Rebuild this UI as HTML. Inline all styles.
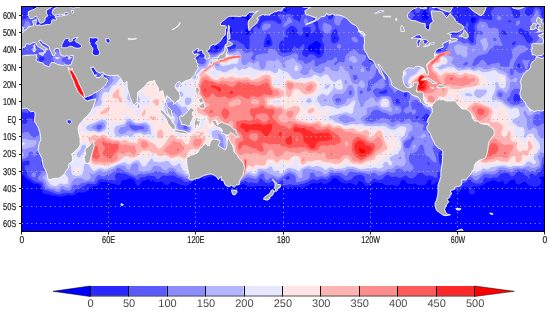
<!DOCTYPE html>
<html><head><meta charset="utf-8"><style>
html,body{margin:0;padding:0;background:#fff;}
svg{display:block;}
text{font-family:"Liberation Sans",Arial,sans-serif;font-size:10px;font-weight:normal;fill:#1a1a1a;stroke:#1a1a1a;stroke-width:0.2px;text-rendering:geometricPrecision;}
text.cbl{font-size:11px;font-weight:normal;fill:#4a4a4a;stroke:none;}
.tk{stroke:#222;stroke-width:1;}
</style></head><body>
<svg width="550" height="314" viewBox="0 0 550 314" shape-rendering="auto">
<defs><clipPath id="c"><rect x="22" y="7" width="522" height="224"/></clipPath></defs>
<g clip-path="url(#c)">
<rect x="22" y="7" width="522" height="224" fill="#0000ff"/>
<path fill="#2828ff" fill-rule="evenodd" d="M16.7,1.2L17.7,1.2L18.8,1.2L19.9,1.2L21.0,1.2L22.1,1.2L23.2,1.2L24.3,1.2L25.4,1.2L26.5,1.2L27.6,1.2L28.6,1.2L29.7,1.2L30.8,1.2L31.9,1.2L32.7,1.2L32.2,2.5L32.4,3.8L32.9,5.1L33.0,6.0L33.1,6.4L33.2,7.7L33.6,9.0L34.1,9.8L34.4,10.3L35.2,11.0L36.3,11.5L37.4,11.2L38.0,10.3L37.9,9.0L38.0,7.7L38.5,7.2L39.6,6.9L40.6,6.9L41.7,6.5L41.8,6.4L42.6,5.1L42.8,4.6L43.2,3.8L43.2,2.5L42.8,1.9L42.1,1.2L42.8,1.2L43.9,1.2L45.0,1.2L46.1,1.2L47.2,1.2L48.3,1.2L49.4,1.2L50.5,1.2L51.6,1.2L52.7,1.2L53.8,1.2L54.8,1.2L55.9,1.2L57.0,1.2L58.1,1.2L59.2,1.2L60.3,1.2L61.4,1.2L62.5,1.2L63.6,1.2L64.7,1.2L65.8,1.2L66.8,1.2L67.9,1.2L69.0,1.2L70.1,1.2L71.2,1.2L72.3,1.2L73.4,1.2L74.5,1.2L75.6,1.2L76.7,1.2L77.8,1.2L78.9,1.2L80.0,1.2L81.0,1.2L82.1,1.2L83.2,1.2L84.3,1.2L85.4,1.2L86.5,1.2L87.6,1.2L88.7,1.2L89.8,1.2L90.9,1.2L92.0,1.2L93.0,1.2L94.1,1.2L95.2,1.2L96.3,1.2L97.4,1.2L98.5,1.2L99.6,1.2L100.7,1.2L101.8,1.2L102.9,1.2L104.0,1.2L105.1,1.2L106.2,1.2L107.2,1.2L108.3,1.2L109.4,1.2L110.5,1.2L111.6,1.2L112.7,1.2L113.8,1.2L114.9,1.2L116.0,1.2L117.1,1.2L118.2,1.2L119.2,1.2L120.3,1.2L121.4,1.2L122.5,1.2L123.6,1.2L124.7,1.2L125.8,1.2L126.9,1.2L128.0,1.2L129.1,1.2L130.2,1.2L131.3,1.2L132.3,1.2L133.4,1.2L134.5,1.2L135.6,1.2L136.7,1.2L137.8,1.2L138.9,1.2L140.0,1.2L141.1,1.2L142.2,1.2L143.3,1.2L144.4,1.2L145.4,1.2L146.5,1.2L147.6,1.2L148.7,1.2L149.8,1.2L150.9,1.2L152.0,1.2L153.1,1.2L154.2,1.2L155.3,1.2L156.4,1.2L157.5,1.2L158.6,1.2L159.6,1.2L160.7,1.2L161.8,1.2L162.9,1.2L164.0,1.2L165.1,1.2L166.2,1.2L167.3,1.2L168.4,1.2L169.5,1.2L170.6,1.2L171.7,1.2L172.7,1.2L173.8,1.2L174.9,1.2L176.0,1.2L177.1,1.2L178.2,1.2L179.3,1.2L180.4,1.2L181.5,1.2L182.6,1.2L183.7,1.2L184.8,1.2L185.8,1.2L186.9,1.2L188.0,1.2L189.1,1.2L190.2,1.2L191.3,1.2L192.4,1.2L193.5,1.2L194.6,1.2L195.7,1.2L196.8,1.2L197.8,1.2L198.9,1.2L200.0,1.2L201.1,1.2L202.2,1.2L203.3,1.2L204.4,1.2L205.5,1.2L206.6,1.2L207.7,1.2L208.8,1.2L209.9,1.2L210.9,1.2L212.0,1.2L213.1,1.2L214.2,1.2L215.3,1.2L216.4,1.2L217.5,1.2L218.6,1.2L219.7,1.2L220.8,1.2L221.9,1.2L223.0,1.2L224.1,1.2L225.1,1.2L226.2,1.2L227.3,1.2L228.4,1.2L229.5,1.2L230.6,1.2L231.7,1.2L232.8,1.2L233.9,1.2L235.0,1.2L236.1,1.2L237.2,1.2L238.2,1.2L239.3,1.2L240.4,1.2L241.5,1.2L242.6,1.2L243.7,1.2L244.8,1.2L245.9,1.2L247.0,1.2L248.1,1.2L249.2,1.2L250.2,1.2L251.3,1.2L252.1,1.2L252.4,1.9L252.7,2.5L253.5,3.1L254.6,3.7L255.7,3.4L256.5,2.5L256.5,1.2L256.8,1.2L257.9,1.2L259.0,1.2L260.1,1.2L261.2,1.2L262.3,1.2L263.4,1.2L264.4,1.2L265.5,1.2L266.6,1.2L267.7,1.2L268.8,1.2L269.9,1.2L271.0,1.2L272.1,1.2L273.2,1.2L274.3,1.2L275.4,1.2L276.4,1.2L277.5,1.2L278.6,1.2L279.7,1.2L280.8,1.2L281.9,1.2L283.0,1.2L284.1,1.2L285.2,1.2L286.3,1.2L287.4,1.2L288.5,1.2L289.6,1.2L290.6,1.2L291.7,1.2L292.8,1.2L293.9,1.2L295.0,1.2L296.1,1.2L297.2,1.2L298.3,1.2L299.4,1.2L300.5,1.2L301.6,1.2L302.6,1.2L303.7,1.2L304.8,1.2L305.9,1.2L307.0,1.2L308.1,1.2L309.2,1.2L310.3,1.2L311.4,1.2L312.5,1.2L313.6,1.2L314.7,1.2L315.8,1.2L316.8,1.2L317.9,1.2L319.0,1.2L320.1,1.2L321.2,1.2L322.3,1.2L323.4,1.2L324.5,1.2L325.6,1.2L326.7,1.2L327.8,1.2L328.9,1.2L329.9,1.2L331.0,1.2L332.1,1.2L333.2,1.2L334.3,1.2L335.4,1.2L336.5,1.2L337.6,1.2L338.7,1.2L339.8,1.2L340.9,1.2L341.9,1.2L343.0,1.2L344.1,1.2L345.2,1.2L346.3,1.2L347.4,1.2L348.5,1.2L349.6,1.2L350.7,1.2L351.8,1.2L352.9,1.2L354.0,1.2L355.1,1.2L356.1,1.2L357.2,1.2L358.3,1.2L359.4,1.2L360.5,1.2L361.6,1.2L362.7,1.2L363.8,1.2L364.9,1.2L366.0,1.2L367.1,1.2L368.1,1.2L369.2,1.2L370.3,1.2L371.4,1.2L372.5,1.2L373.6,1.2L374.7,1.2L375.8,1.2L376.9,1.2L378.0,1.2L379.1,1.2L380.2,1.2L381.2,1.2L382.3,1.2L383.4,1.2L384.5,1.2L385.6,1.2L386.7,1.2L387.8,1.2L388.9,1.2L390.0,1.2L391.1,1.2L392.2,1.2L393.3,1.2L394.4,1.2L395.4,1.2L396.5,1.2L397.6,1.2L398.7,1.2L399.8,1.2L400.9,1.2L402.0,1.2L403.1,1.2L404.2,1.2L405.3,1.2L406.4,1.2L407.4,1.2L408.5,1.2L409.6,1.2L410.7,1.2L411.8,1.2L412.9,1.2L414.0,1.2L415.1,1.2L416.2,1.2L417.3,1.2L418.4,1.2L419.5,1.2L420.6,1.2L421.6,1.2L422.7,1.2L423.8,1.2L424.9,1.2L426.0,1.2L427.1,1.2L428.2,1.2L429.3,1.2L430.4,1.2L431.5,1.2L432.6,1.2L433.6,1.2L434.7,1.2L435.8,1.2L436.9,1.2L438.0,1.2L439.1,1.2L440.2,1.2L441.3,1.2L442.4,1.2L443.5,1.2L444.6,1.2L445.7,1.2L446.8,1.2L447.8,1.2L448.9,1.2L450.0,1.2L451.1,1.2L452.2,1.2L453.3,1.2L454.4,1.2L455.5,1.2L456.6,1.2L457.7,1.2L458.8,1.2L459.9,1.2L460.9,1.2L462.0,1.2L463.1,1.2L464.2,1.2L465.3,1.2L466.4,1.2L467.5,1.2L468.6,1.2L469.7,1.2L470.8,1.2L471.9,1.2L472.9,1.2L474.0,1.2L475.1,1.2L476.2,1.2L477.3,1.2L478.4,1.2L479.5,1.2L480.6,1.2L481.7,1.2L482.8,1.2L483.9,1.2L485.0,1.2L486.1,1.2L487.1,1.2L488.2,1.2L489.3,1.2L490.1,1.2L490.3,2.5L490.4,3.1L491.5,3.8L491.5,3.8L491.5,3.8L491.7,2.5L491.5,1.6L491.2,1.2L491.5,1.2L492.6,1.2L493.7,1.2L494.8,1.2L495.9,1.2L497.0,1.2L498.1,1.2L499.1,1.2L500.2,1.2L501.3,1.2L502.4,1.2L503.5,1.2L504.6,1.2L505.7,1.2L506.8,1.2L507.9,1.2L509.0,1.2L510.1,1.2L511.2,1.2L512.2,1.2L513.3,1.2L514.4,1.2L515.5,1.2L516.6,1.2L517.7,1.2L518.8,1.2L519.9,1.2L521.0,1.2L522.1,1.2L523.2,1.2L524.3,1.2L525.4,1.2L526.4,1.2L527.5,1.2L528.6,1.2L529.5,1.2L529.0,2.5L528.9,3.8L529.0,5.1L529.4,6.4L529.7,7.2L530.6,7.7L530.8,7.9L531.0,7.7L531.9,7.4L533.0,6.4L533.0,6.4L534.1,5.1L534.2,5.1L535.2,4.0L536.3,3.9L537.4,4.2L538.5,4.3L538.9,3.8L538.5,2.9L538.1,2.5L537.4,2.2L536.3,2.2L535.2,2.0L534.1,1.5L533.6,1.2L534.1,1.2L535.2,1.2L536.3,1.2L537.4,1.2L538.5,1.2L539.5,1.2L540.6,1.2L541.7,1.2L542.8,1.2L543.9,1.2L545.0,1.2L546.1,1.2L547.2,1.2L548.3,1.2L549.4,1.2L550.5,1.2L551.5,1.2L552.1,1.2L552.6,2.1L552.9,2.5L553.7,3.3L554.8,3.5L554.8,3.8L554.8,5.1L554.8,6.4L554.8,7.7L554.8,9.0L554.8,10.3L554.8,11.6L554.8,12.9L554.8,14.2L554.8,15.5L554.8,16.8L554.8,18.1L554.8,19.4L554.8,20.7L554.8,22.0L554.8,23.3L554.8,24.6L554.8,25.9L554.8,27.2L554.8,28.5L554.8,29.8L554.8,31.1L554.8,32.4L554.8,33.8L554.8,35.1L554.8,36.4L554.8,37.7L554.8,39.0L554.8,40.3L554.8,41.6L554.8,42.9L554.8,44.2L554.8,45.5L554.8,46.8L554.8,48.1L554.8,49.4L554.8,50.7L554.8,52.0L554.8,53.3L554.8,54.6L554.8,55.9L554.8,57.2L554.8,58.5L554.8,59.8L554.8,61.1L554.8,62.4L554.8,63.7L554.8,65.0L554.8,66.3L554.8,67.6L554.8,68.9L554.8,70.2L554.8,71.5L554.8,72.8L554.8,74.1L554.8,75.4L554.8,76.7L554.8,78.0L554.8,79.3L554.8,80.7L554.8,82.0L554.8,83.3L554.8,84.6L554.8,85.9L554.8,87.2L554.8,88.5L554.8,89.8L554.8,91.1L554.8,92.4L554.8,93.7L554.8,95.0L554.8,96.3L554.8,97.6L554.8,98.9L554.8,100.2L554.8,101.5L554.8,102.8L554.8,104.1L554.8,105.4L554.8,106.7L554.8,108.0L554.8,109.3L554.8,110.6L554.8,111.9L554.8,113.2L554.8,114.5L554.8,115.8L554.8,117.1L554.8,118.4L554.8,119.7L554.8,121.0L554.8,122.3L554.8,123.6L554.8,124.9L554.8,126.2L554.8,127.6L554.8,128.9L554.8,130.2L554.8,131.5L554.8,132.8L554.8,134.1L554.8,135.4L554.8,136.7L554.8,138.0L554.8,139.3L554.8,140.6L554.8,141.9L554.8,143.2L554.8,144.5L554.8,145.8L554.8,147.1L554.8,148.4L554.8,149.7L554.8,151.0L554.8,152.3L554.8,153.6L554.8,154.9L554.8,156.2L554.8,157.5L554.8,158.8L554.8,160.1L554.8,161.4L554.8,162.7L554.8,164.0L554.8,165.3L554.8,166.6L554.8,167.9L554.8,169.2L554.8,170.5L554.8,171.8L554.8,173.1L554.8,174.4L554.8,175.8L554.8,177.1L554.8,178.4L554.8,179.7L554.8,181.0L554.8,182.3L554.8,183.6L554.8,184.9L554.8,186.2L554.8,186.8L553.7,186.8L552.6,186.7L551.8,186.2L551.5,185.9L550.9,184.9L550.5,183.7L550.4,183.6L550.1,182.3L550.0,181.0L550.0,179.7L549.9,178.4L549.4,177.3L549.2,177.1L548.3,176.1L547.7,175.8L547.2,175.4L546.1,175.1L545.0,175.3L544.1,175.8L543.9,175.9L542.8,176.5L541.7,176.7L540.6,176.6L539.7,177.1L539.5,178.1L539.5,178.4L539.5,178.4L540.6,179.1L541.0,179.7L541.3,181.0L541.2,182.3L540.8,183.6L540.6,183.9L539.8,184.9L539.5,185.2L538.5,185.8L537.7,186.2L537.4,186.3L536.3,186.7L535.2,186.9L534.1,186.8L533.0,186.6L531.9,186.3L531.4,186.2L530.8,186.0L529.7,185.5L528.7,184.9L528.6,184.8L527.5,184.1L526.9,183.6L526.4,183.1L525.4,182.3L525.4,182.2L524.3,181.7L523.2,181.9L522.7,182.3L522.1,182.7L521.0,183.6L521.0,183.6L519.9,184.2L518.8,184.4L517.7,184.3L516.6,183.7L516.4,183.6L515.6,182.3L515.5,181.4L515.5,181.0L514.5,179.7L514.4,179.6L514.3,179.7L513.3,179.7L512.2,180.0L511.2,180.2L510.1,180.4L509.3,181.0L509.0,181.4L508.4,182.3L507.9,183.0L507.3,183.6L506.8,184.1L505.7,184.4L504.6,183.9L504.2,183.6L503.6,182.3L503.5,181.4L503.2,181.0L502.4,180.7L502.2,181.0L501.3,181.5L500.2,182.2L499.9,182.3L499.1,182.5L498.6,182.3L498.1,182.1L497.0,181.4L496.3,181.0L495.9,180.8L494.8,180.5L493.7,180.3L492.6,180.4L491.5,180.8L491.0,181.0L490.4,181.3L489.3,181.7L488.2,182.0L487.1,182.2L487.0,182.3L486.1,182.7L485.0,183.5L484.9,183.6L483.9,184.4L483.2,184.9L482.8,185.1L481.7,185.6L480.6,185.9L479.5,186.1L479.1,186.2L478.4,186.4L477.3,186.8L476.2,186.9L475.1,186.5L474.0,186.3L473.0,186.8L472.2,187.5L472.4,188.8L472.9,189.1L474.0,189.7L474.5,190.1L475.1,191.3L475.2,191.4L475.1,191.7L475.0,192.7L474.0,194.0L474.0,194.0L472.9,194.4L471.9,194.5L470.8,194.3L470.2,194.0L469.7,193.6L469.0,192.7L468.8,191.4L469.1,190.1L468.9,188.8L468.6,188.5L467.5,187.8L467.0,187.5L466.4,187.2L465.3,186.8L464.2,186.8L463.1,187.2L462.7,187.5L462.0,188.2L461.6,188.8L460.9,189.8L460.7,190.1L459.9,191.4L459.8,191.4L458.8,192.4L457.7,192.6L456.6,191.9L456.3,191.4L455.5,190.2L455.4,190.1L454.8,188.8L454.4,187.9L454.2,187.5L453.6,186.2L453.3,185.5L453.0,184.9L452.5,183.6L452.2,182.3L452.2,182.2L451.2,181.0L451.1,180.9L450.0,180.7L448.9,180.9L448.8,181.0L447.8,181.7L447.2,182.3L446.8,182.8L446.0,183.6L445.7,183.9L444.6,184.8L444.3,184.9L443.5,185.3L442.4,185.3L441.8,184.9L441.3,184.4L440.9,183.6L440.5,182.3L440.2,181.6L439.4,181.0L439.1,180.9L438.9,181.0L438.0,181.3L436.9,181.9L436.3,182.3L435.8,182.7L434.7,183.5L434.6,183.6L433.6,184.2L432.6,184.8L431.5,184.6L431.2,183.6L431.4,182.3L431.5,182.0L431.6,181.0L431.5,180.6L430.7,179.7L430.4,179.5L429.3,179.6L429.1,179.7L428.2,180.2L427.6,181.0L427.1,182.3L427.1,182.3L426.5,183.6L426.0,184.1L424.9,184.8L424.6,184.9L423.8,185.1L422.7,185.3L421.6,185.3L420.6,185.3L419.5,185.3L418.4,185.2L417.4,184.9L417.3,184.8L416.2,184.2L415.2,183.6L415.1,183.5L414.0,183.5L413.9,183.6L412.9,183.9L411.8,184.1L410.7,184.2L409.6,184.1L408.5,183.9L407.8,183.6L407.4,183.4L406.4,182.6L406.1,182.3L405.4,181.0L405.3,180.7L404.2,179.9L403.1,179.9L402.0,180.3L400.9,180.9L400.9,181.0L400.4,182.3L400.1,183.6L399.8,184.1L399.3,184.9L398.7,185.4L397.6,185.9L396.5,186.0L395.4,185.8L394.4,185.5L393.3,185.2L392.2,184.9L391.1,184.9L390.0,185.0L388.9,185.3L387.8,185.5L386.7,185.6L385.6,185.3L384.8,184.9L384.5,184.7L383.4,183.9L382.9,183.6L382.3,183.3L381.2,183.0L380.2,183.0L379.1,182.9L378.0,182.8L376.9,182.5L375.8,182.3L374.7,182.3L373.6,182.7L372.5,183.4L372.3,183.6L371.4,184.3L370.6,184.9L370.3,185.1L369.2,185.7L368.1,186.0L367.1,185.9L366.0,185.6L364.9,184.9L364.8,184.9L363.8,183.9L363.4,183.6L362.7,182.8L362.1,182.3L361.6,181.9L360.5,181.4L359.4,181.2L358.3,182.3L358.3,182.3L357.9,183.6L357.2,184.5L356.5,184.9L356.1,185.0L355.2,184.9L355.1,184.9L354.0,184.4L352.9,183.9L352.2,183.6L351.8,183.4L350.7,183.1L349.6,183.0L348.5,183.2L347.4,183.4L346.6,183.6L346.3,183.6L345.2,183.6L345.0,183.6L344.1,183.4L343.0,183.1L341.9,182.7L340.9,182.3L340.7,182.3L339.8,181.6L339.4,181.0L338.7,180.2L338.2,179.7L337.6,179.2L336.5,178.7L335.5,178.4L335.4,178.3L334.3,178.2L333.2,178.4L333.2,178.4L332.1,179.4L331.9,179.7L331.2,181.0L331.0,181.1L329.9,181.8L329.1,182.3L328.9,182.4L327.8,182.9L326.7,183.4L326.1,183.6L325.6,183.9L324.5,184.3L323.4,184.2L322.8,183.6L322.3,182.8L321.7,182.3L321.2,182.1L320.7,182.3L320.1,182.4L319.0,182.9L317.9,183.3L316.8,183.4L315.8,183.4L314.7,183.3L313.6,183.2L312.5,183.3L311.4,183.5L311.3,183.6L310.3,184.2L309.2,184.8L309.0,184.9L308.1,185.4L307.0,185.8L306.0,186.2L305.9,186.2L304.8,186.8L303.7,187.4L303.5,187.5L302.6,187.7L301.6,187.8L300.5,187.6L300.2,187.5L299.4,187.3L298.3,187.1L297.2,187.0L296.1,187.0L295.0,187.1L293.9,187.2L292.8,187.3L291.7,187.4L291.1,187.5L290.6,187.5L289.6,187.6L288.5,187.8L287.4,187.9L286.3,187.9L285.2,187.6L284.9,187.5L284.1,187.2L283.0,186.6L282.1,186.2L281.9,186.1L280.8,185.9L279.7,186.0L278.6,186.1L277.5,186.1L276.4,185.9L275.4,185.7L274.3,185.6L273.2,185.6L272.1,185.7L271.0,185.9L269.9,186.1L269.6,186.2L268.8,186.4L267.7,186.5L266.6,186.5L265.5,186.4L264.4,186.2L264.4,186.2L263.4,185.9L262.3,185.8L261.2,185.9L260.1,186.0L259.0,186.1L257.9,186.1L256.8,186.1L255.9,186.2L255.7,186.2L254.6,186.4L253.5,186.7L252.4,186.8L251.3,186.7L250.2,186.5L249.2,186.4L248.1,186.2L248.0,186.2L247.0,185.9L245.9,185.4L245.3,184.9L244.8,184.4L243.7,184.0L242.6,184.2L241.5,184.5L240.8,184.9L240.4,185.2L239.3,185.9L238.5,186.2L238.2,186.3L237.2,186.4L236.3,186.2L236.1,186.1L235.0,184.9L235.0,184.8L234.5,183.6L234.1,182.3L233.9,181.8L233.5,181.0L233.0,179.7L232.8,179.0L232.4,178.4L231.7,177.4L231.3,177.1L230.6,176.7L229.5,176.1L228.9,175.8L228.4,175.5L227.3,175.1L226.2,174.6L225.1,174.6L224.1,175.1L223.4,175.8L223.0,176.6L222.6,177.1L221.9,178.0L220.8,178.2L219.7,178.1L218.6,177.7L217.5,177.3L216.9,177.1L216.4,176.9L215.3,176.6L214.2,176.4L213.1,176.5L212.0,176.6L210.9,176.8L209.9,177.0L209.2,177.1L208.8,177.1L207.7,177.5L206.6,178.1L206.2,178.4L205.5,178.7L204.4,179.1L203.3,179.1L202.2,178.8L201.4,178.4L201.1,178.2L200.0,177.5L199.2,177.1L198.9,177.0L197.9,177.0L197.7,177.1L196.8,177.5L195.7,178.1L195.3,178.4L194.6,179.1L194.0,179.7L193.5,180.3L193.0,181.0L192.4,181.8L192.0,182.3L191.3,183.1L190.6,183.6L190.2,183.9L189.1,184.5L188.5,184.9L188.0,185.2L186.9,185.9L185.8,186.2L184.8,186.0L183.7,185.6L182.6,185.3L181.5,185.1L180.4,184.9L180.4,184.9L179.3,184.3L178.2,183.8L177.6,183.6L177.1,183.4L176.0,183.1L174.9,182.7L173.9,182.3L173.8,182.2L172.7,181.8L171.7,181.7L170.9,182.3L170.6,182.5L169.6,183.6L169.5,183.7L168.4,184.5L167.6,184.9L167.3,185.0L166.2,185.0L165.9,184.9L165.1,184.6L164.0,183.7L163.8,183.6L162.9,182.5L162.6,182.3L161.8,181.7L160.7,181.8L159.6,182.0L158.6,182.2L157.5,182.3L157.5,182.3L156.4,182.3L155.5,182.3L155.3,182.3L154.2,181.7L153.6,181.0L153.1,180.1L152.0,180.5L151.4,181.0L150.9,182.0L150.4,182.3L149.8,182.3L149.7,182.3L149.8,181.7L150.1,181.0L149.8,180.7L149.6,179.7L148.7,179.2L147.6,179.3L147.1,179.7L146.5,180.2L145.4,180.6L144.4,180.7L143.3,180.8L142.9,181.0L142.2,181.3L141.2,182.3L141.1,182.5L140.6,183.6L140.0,184.9L140.0,184.9L138.9,185.8L137.8,185.8L136.7,185.2L136.4,184.9L135.6,183.6L135.6,183.6L135.0,182.3L134.5,181.1L134.5,181.0L133.5,179.7L133.4,179.6L132.3,179.0L131.3,178.7L130.2,178.6L129.1,178.8L128.0,179.0L126.9,179.5L126.6,179.7L125.8,180.1L124.7,180.2L123.6,180.3L122.5,180.5L121.4,180.9L121.4,181.0L121.0,182.3L121.0,183.6L120.3,184.5L119.6,184.9L119.2,185.0L118.2,184.9L117.9,184.9L117.1,184.7L116.0,184.4L114.9,184.2L113.8,184.0L112.7,183.9L111.6,183.7L110.7,183.6L110.5,183.5L109.4,183.3L108.3,182.9L107.2,182.4L106.9,182.3L106.1,182.1L105.1,182.0L104.0,182.0L102.9,182.0L101.8,181.9L100.7,181.9L100.1,182.3L99.6,182.7L99.2,183.6L98.5,184.7L98.4,184.9L97.4,185.6L96.3,185.9L95.2,186.0L94.2,186.2L94.1,186.2L93.0,186.5L92.0,187.0L91.1,187.5L90.9,187.7L89.9,188.8L89.8,189.0L88.8,190.1L88.7,190.2L87.6,190.9L86.5,191.3L86.4,191.4L85.4,191.8L84.3,192.4L83.2,192.7L82.1,192.6L81.0,192.4L80.0,192.3L78.9,192.4L78.0,192.7L77.8,192.8L76.7,193.5L76.1,194.0L75.6,194.3L74.5,195.0L73.8,195.3L73.4,195.5L72.3,195.7L71.2,195.6L70.3,195.3L70.1,195.3L69.0,195.0L67.9,195.0L66.8,195.3L66.8,195.3L65.8,195.8L64.7,196.1L63.6,196.3L62.5,196.4L61.4,196.4L60.3,196.4L59.2,196.4L58.1,196.2L57.0,196.0L55.9,195.8L54.8,195.6L53.8,195.5L52.7,195.5L51.6,195.4L50.9,195.3L50.5,195.2L49.4,194.7L48.3,194.3L47.2,194.2L46.1,194.3L45.0,194.1L44.7,194.0L43.9,193.7L43.0,192.7L42.8,192.5L42.3,191.4L41.8,190.1L41.7,190.1L41.3,188.8L41.0,187.5L40.6,186.4L40.6,186.2L39.6,184.9L39.5,184.9L38.5,184.4L37.4,184.1L36.3,184.0L35.2,183.9L34.1,183.7L33.5,183.6L33.0,183.4L31.9,182.7L31.5,182.3L30.8,181.6L30.1,181.0L29.7,180.7L28.6,180.2L27.6,179.7L27.5,179.7L26.5,179.0L25.8,178.4L25.4,177.8L24.8,177.1L24.3,176.0L24.0,175.8L23.2,174.8L22.1,174.8L21.0,175.5L20.7,175.8L19.9,176.3L19.3,177.1L18.8,177.6L18.3,178.4L17.7,179.4L17.6,179.7L17.0,181.0L16.6,182.0L16.5,182.3L16.1,183.6L15.5,184.6L15.3,184.9L14.4,185.5L13.4,185.9L12.3,186.2L12.3,186.2L12.3,186.2L12.3,184.9L12.3,183.6L12.3,182.3L12.3,181.0L12.3,179.7L12.3,178.4L12.3,177.1L12.3,175.8L12.3,174.4L12.3,173.1L12.3,171.8L12.3,170.5L12.3,169.2L12.3,167.9L12.3,166.6L12.3,165.3L12.3,164.0L12.3,162.7L12.3,161.4L12.3,160.1L12.3,158.8L12.3,157.5L12.3,156.2L12.3,154.9L12.3,153.6L12.3,152.3L12.3,151.0L12.3,149.7L12.3,148.4L12.3,147.1L12.3,145.8L12.3,144.5L12.3,143.2L12.3,141.9L12.3,140.6L12.3,139.3L12.3,138.0L12.3,136.7L12.3,135.4L12.3,134.1L12.3,132.8L12.3,131.5L12.3,130.2L12.3,128.9L12.3,127.6L12.3,126.2L12.3,124.9L12.3,123.6L12.3,122.3L12.3,121.0L12.3,119.7L12.3,118.4L12.3,117.1L12.3,115.8L12.3,114.5L12.3,113.2L12.3,111.9L12.3,110.6L12.3,109.3L12.3,108.0L12.3,106.7L12.3,105.4L12.3,104.1L12.3,102.8L12.3,101.5L12.3,100.2L12.3,98.9L12.3,97.6L12.3,96.3L12.3,95.0L12.3,93.7L12.3,92.4L12.3,91.1L12.3,89.8L12.3,88.5L12.3,87.2L12.3,85.9L12.3,84.6L12.3,83.3L12.3,82.0L12.3,80.7L12.3,79.3L12.3,78.0L12.3,76.7L12.3,75.4L12.3,74.1L12.3,72.8L12.3,71.5L12.3,70.2L12.3,68.9L12.3,67.6L12.3,66.3L12.3,65.0L12.3,63.7L12.3,62.4L12.3,61.1L12.3,59.8L12.3,58.5L12.3,57.2L12.3,55.9L12.3,54.6L12.3,53.3L12.3,52.0L12.3,50.7L12.3,49.4L12.3,48.1L12.3,46.8L12.3,45.5L12.3,44.2L12.3,42.9L12.3,41.6L12.3,40.3L12.3,39.0L12.3,37.7L12.3,36.4L12.3,35.1L12.3,33.8L12.3,32.4L12.3,31.1L12.3,29.8L12.3,28.5L12.3,27.2L12.3,25.9L12.3,24.6L12.3,23.3L12.3,22.0L12.3,20.7L12.3,19.4L12.3,18.1L12.3,16.8L12.3,15.5L12.3,14.2L12.3,12.9L12.3,11.6L12.3,10.3L12.3,9.0L12.3,7.7L12.3,6.4L12.3,5.1L12.3,4.3L13.4,4.5L14.4,5.1L14.5,5.1L15.5,6.1L16.1,6.4L16.6,7.0L17.0,6.4L16.9,5.1L16.9,3.8L16.9,2.5L16.7,1.2ZM43.9,18.5L43.5,19.4L43.7,20.7L43.9,21.2L45.0,21.1L45.3,20.7L45.5,19.4L45.0,18.6L43.9,18.5ZM52.7,19.4L52.5,19.4L51.6,20.0L51.4,20.7L51.6,21.7L51.8,22.0L52.7,22.3L53.1,22.0L53.5,20.7L52.7,19.4L52.7,19.4ZM86.5,95.9L86.3,96.3L85.9,97.6L86.3,98.9L86.5,99.0L86.8,98.9L87.6,98.3L88.0,97.6L87.9,96.3L87.6,95.9L86.5,95.9ZM92.0,75.3L91.7,75.4L92.0,75.6L92.1,75.4L92.0,75.3ZM215.3,46.8L215.3,46.8L215.1,48.1L215.3,48.4L216.3,49.4L216.4,49.4L217.5,49.4L217.6,49.4L218.6,48.7L219.1,48.1L219.5,46.8L218.6,46.0L217.5,45.7L216.4,45.9L215.3,46.8ZM220.8,3.7L220.6,3.8L219.7,4.5L219.1,5.1L219.7,6.0L219.8,6.4L220.4,7.7L220.8,8.4L221.3,9.0L221.9,9.3L223.0,9.4L223.8,9.0L224.1,8.8L225.1,7.8L225.2,7.7L225.8,6.4L225.3,5.1L225.1,4.9L224.1,3.8L224.0,3.8L223.0,3.3L221.9,3.4L220.8,3.7ZM227.3,25.9L227.2,25.9L226.2,26.3L225.3,27.2L225.1,28.0L225.0,28.5L225.1,29.3L225.2,29.8L226.1,31.1L226.2,31.3L227.3,32.3L227.5,32.4L228.4,33.7L228.5,33.8L229.2,35.1L229.5,35.4L230.6,35.2L230.7,35.1L231.3,33.8L231.6,32.4L231.7,31.2L231.7,31.1L231.7,31.1L231.7,29.8L231.3,28.5L230.6,27.3L230.6,27.2L229.5,26.4L228.4,26.0L227.9,25.9L227.3,25.9ZM232.8,16.8L232.7,16.8L231.7,17.3L231.3,18.1L231.7,18.9L232.8,19.4L233.9,18.6L234.4,18.1L233.9,17.4L232.9,16.8L232.8,16.8ZM243.7,13.9L243.2,14.2L242.6,14.7L241.5,15.5L241.5,15.5L240.4,16.5L239.9,16.8L240.2,18.1L240.4,18.2L240.6,18.1L241.5,17.9L242.6,17.7L243.7,17.8L244.4,18.1L244.8,18.3L245.9,19.1L246.2,19.4L247.0,20.5L247.5,20.7L248.1,21.0L248.3,20.7L249.1,19.4L249.2,19.3L249.3,18.1L249.4,16.8L249.2,15.9L249.0,15.5L248.1,14.2L248.0,14.2L247.0,13.7L245.9,13.5L244.8,13.6L243.7,13.9ZM267.7,40.2L267.6,40.3L266.9,41.6L266.6,42.3L266.5,42.9L266.6,43.6L266.9,44.2L267.7,44.6L268.8,44.5L269.4,44.2L269.9,43.6L270.2,42.9L270.0,41.6L269.9,41.2L269.2,40.3L268.8,39.9L267.7,40.2ZM275.4,3.4L275.0,3.8L274.3,4.9L274.2,5.1L273.7,6.4L273.2,7.6L273.1,7.7L272.1,8.7L271.3,9.0L271.0,9.3L270.4,10.3L270.5,11.6L270.9,12.9L271.0,13.1L272.1,13.9L273.2,13.8L274.3,13.1L274.4,12.9L275.4,12.1L276.0,11.6L276.4,11.3L277.5,10.8L278.6,10.3L278.7,10.3L279.7,9.2L279.9,9.0L279.9,7.7L279.7,7.4L279.2,6.4L278.6,5.6L278.2,5.1L277.5,4.2L276.9,3.8L276.4,3.4L275.4,3.4ZM284.1,9.8L283.5,10.3L284.1,11.4L284.4,11.6L285.2,11.7L285.6,11.6L286.3,11.2L287.4,10.5L288.1,10.3L287.4,9.8L286.3,9.6L285.2,9.6L284.1,9.8ZM288.5,8.8L288.2,9.0L288.5,9.6L289.6,9.3L289.8,9.0L289.6,8.2L288.5,8.8ZM292.8,29.7L292.5,29.8L292.0,31.1L292.2,32.4L292.7,33.8L292.8,33.9L293.9,34.4L294.2,33.8L294.3,32.4L294.1,31.1L293.9,30.7L293.1,29.8L292.8,29.7ZM305.9,33.2L305.7,33.8L305.3,35.1L305.6,36.4L305.9,36.6L307.0,36.9L308.1,36.7L308.5,36.4L308.7,35.1L308.3,33.8L308.1,33.4L307.0,32.6L305.9,33.2ZM315.8,40.9L314.8,41.6L314.7,41.7L313.6,42.5L313.2,42.9L312.5,43.4L311.4,44.1L311.3,44.2L310.3,44.8L309.2,45.4L309.1,45.5L308.1,46.7L308.1,46.8L307.8,48.1L307.9,49.4L308.1,50.0L308.6,50.7L309.2,51.0L310.3,51.4L311.4,51.7L312.5,51.8L313.6,51.8L314.7,51.9L314.7,52.0L315.8,52.5L316.4,53.3L316.8,53.7L317.9,54.4L319.0,54.5L320.1,53.7L320.4,53.3L320.3,52.0L320.1,51.6L319.6,50.7L319.2,49.4L319.4,48.1L320.1,47.2L320.4,46.8L321.0,45.5L320.8,44.2L320.1,43.4L319.6,42.9L319.0,42.4L318.0,41.6L317.9,41.5L316.8,40.9L315.8,40.9ZM334.3,37.2L334.1,37.7L334.3,39.0L334.3,39.0L334.9,39.0L335.4,38.7L335.5,37.7L335.4,37.5L334.3,37.2ZM371.4,57.2L371.4,57.2L371.4,57.2L372.5,57.6L372.7,57.2L372.5,56.8L371.4,57.2ZM424.9,9.8L424.3,10.3L423.8,10.6L423.5,11.6L422.8,12.9L422.7,13.0L422.2,14.2L421.8,15.5L421.9,16.8L422.2,18.1L422.7,19.4L422.7,19.4L423.8,20.2L424.9,20.1L426.0,19.8L426.9,19.4L427.1,19.3L428.2,18.2L428.3,18.1L428.5,16.8L428.2,15.6L428.2,15.5L427.5,14.2L427.1,13.6L426.5,12.9L426.0,11.9L425.7,11.6L425.1,10.3L424.9,9.8ZM434.7,46.4L434.2,46.8L434.6,48.1L434.7,48.3L435.4,49.4L435.8,49.7L436.9,50.3L438.0,50.5L439.1,50.0L439.7,49.4L439.8,48.1L439.1,47.0L438.9,46.8L438.0,46.4L436.9,46.2L435.8,46.1L434.7,46.4ZM436.9,12.1L436.3,12.9L436.0,14.2L436.0,15.5L436.2,16.8L436.5,18.1L436.6,19.4L436.6,20.7L436.7,22.0L436.9,23.2L437.0,23.3L437.7,24.6L438.0,25.2L438.5,25.9L439.1,26.8L440.2,27.0L440.6,25.9L441.1,24.6L441.3,24.1L441.5,23.3L441.8,22.0L441.8,20.7L441.3,20.0L440.8,19.4L440.2,18.8L439.8,18.1L439.3,16.8L439.1,16.0L439.0,15.5L438.6,14.2L438.2,12.9L438.0,12.4L436.9,12.1ZM455.5,4.9L455.3,5.1L454.8,6.4L455.5,7.4L456.6,6.7L456.7,6.4L456.6,5.1L456.6,5.1L455.5,4.9ZM457.7,14.9L457.7,15.5L457.7,15.6L458.4,16.8L458.8,17.1L459.1,16.8L459.2,15.5L458.8,14.6L457.7,14.9ZM465.3,10.1L465.1,10.3L465.3,10.6L466.4,11.0L467.5,10.7L468.3,10.3L467.5,9.8L466.4,9.9L465.3,10.1ZM471.9,17.7L471.4,18.1L471.0,19.4L471.1,20.7L471.5,22.0L471.9,22.7L473.0,22.9L474.0,22.1L474.1,22.0L475.1,20.8L475.2,20.7L475.8,19.4L475.5,18.1L475.1,17.8L474.0,17.4L472.9,17.4L471.9,17.7ZM545.0,8.0L544.3,9.0L544.1,10.3L544.2,11.6L544.5,12.9L545.0,13.8L545.7,14.2L546.1,14.3L547.2,14.5L548.3,14.3L548.4,14.2L549.0,12.9L549.0,11.6L548.7,10.3L548.3,9.7L547.7,9.0L547.2,8.6L546.1,7.9L545.0,8.0ZM223.0,36.3L222.9,36.4L222.5,37.7L223.0,38.3L224.1,38.2L225.0,37.7L225.1,37.2L225.4,36.4L225.1,36.1L224.1,35.8L223.0,36.3ZM245.9,29.3L245.6,29.8L245.4,31.1L245.5,32.4L245.6,33.8L245.9,34.9L247.0,34.9L248.1,34.1L248.3,33.8L249.2,32.7L249.3,32.4L249.5,31.1L249.2,30.5L248.8,29.8L248.1,29.2L247.0,28.7L245.9,29.3ZM427.1,25.8L426.9,25.9L426.5,27.2L427.1,28.5L427.2,28.5L428.2,29.0L429.1,28.5L429.3,28.1L429.4,27.2L429.3,27.0L428.4,25.9L428.2,25.8L427.1,25.8ZM455.5,22.0L455.5,22.0L454.4,22.7L454.0,23.3L453.6,24.6L453.6,25.9L453.7,27.2L453.8,28.5L454.3,29.8L454.4,30.0L455.5,30.3L456.6,29.9L456.6,29.8L457.7,28.5L457.7,28.5L458.2,27.2L458.3,25.9L458.0,24.6L457.7,23.6L457.6,23.3L456.6,22.1L455.9,22.0L455.5,22.0ZM548.3,111.8L548.1,111.9L547.6,113.2L548.3,114.1L549.4,114.1L549.7,113.2L549.4,112.4L548.6,111.9L548.3,111.8ZM449.2,194.0L450.0,193.5L451.1,193.7L451.6,194.0L452.2,195.2L452.2,195.3L452.2,195.4L451.1,196.4L450.0,195.6L449.7,195.3L449.2,194.0Z"/><path fill="#5a5aff" fill-rule="evenodd" d="M65.9,1.2L66.8,1.2L67.3,1.2L66.8,1.4L65.9,1.2ZM71.9,1.2L72.3,1.2L73.4,1.2L74.5,1.2L75.6,1.2L76.7,1.2L77.8,1.2L78.9,1.2L80.0,1.2L81.0,1.2L82.1,1.2L83.2,1.2L84.3,1.2L85.4,1.2L86.5,1.2L87.6,1.2L88.7,1.2L89.8,1.2L90.9,1.2L92.0,1.2L93.0,1.2L94.1,1.2L95.2,1.2L96.3,1.2L97.4,1.2L98.5,1.2L99.6,1.2L100.7,1.2L101.8,1.2L102.9,1.2L104.0,1.2L105.1,1.2L106.2,1.2L107.2,1.2L108.3,1.2L109.4,1.2L110.5,1.2L111.6,1.2L112.7,1.2L113.8,1.2L114.9,1.2L116.0,1.2L117.1,1.2L118.2,1.2L119.2,1.2L120.3,1.2L121.4,1.2L122.5,1.2L123.6,1.2L124.7,1.2L125.8,1.2L126.9,1.2L128.0,1.2L129.1,1.2L130.2,1.2L131.3,1.2L132.3,1.2L133.4,1.2L134.5,1.2L135.6,1.2L136.7,1.2L137.8,1.2L138.9,1.2L140.0,1.2L141.1,1.2L142.2,1.2L143.3,1.2L144.4,1.2L145.4,1.2L146.5,1.2L147.6,1.2L148.7,1.2L149.8,1.2L150.9,1.2L152.0,1.2L153.1,1.2L154.2,1.2L155.3,1.2L156.4,1.2L157.5,1.2L158.6,1.2L159.6,1.2L160.7,1.2L161.8,1.2L162.9,1.2L164.0,1.2L165.1,1.2L166.2,1.2L167.3,1.2L168.4,1.2L169.5,1.2L170.6,1.2L171.7,1.2L172.7,1.2L173.8,1.2L174.9,1.2L176.0,1.2L177.1,1.2L178.2,1.2L179.3,1.2L180.4,1.2L181.5,1.2L182.6,1.2L183.7,1.2L184.8,1.2L185.8,1.2L186.9,1.2L188.0,1.2L189.1,1.2L190.2,1.2L191.3,1.2L192.4,1.2L193.5,1.2L194.6,1.2L195.7,1.2L196.8,1.2L197.8,1.2L198.7,1.2L198.3,2.5L197.9,3.8L198.2,5.1L198.9,5.9L199.6,6.4L200.0,6.6L201.1,7.0L202.2,7.1L203.3,7.1L204.4,7.3L205.5,7.6L205.6,7.7L206.6,8.2L207.5,9.0L207.7,9.3L208.1,10.3L208.2,11.6L208.2,12.9L208.1,14.2L208.0,15.5L207.8,16.8L207.7,17.7L207.6,18.1L207.7,18.5L207.9,19.4L208.8,20.2L209.8,20.7L209.9,20.7L210.8,22.0L210.9,22.7L211.0,23.3L211.3,24.6L211.4,25.9L211.2,27.2L210.9,27.8L210.7,28.5L210.2,29.8L210.1,31.1L210.2,32.4L210.6,33.8L210.8,35.1L209.9,36.0L208.8,36.4L208.7,36.4L207.7,36.7L206.8,37.7L206.6,38.1L206.3,39.0L206.1,40.3L205.5,41.3L204.4,41.2L203.3,40.8L202.2,40.6L201.1,40.4L200.3,40.3L200.0,40.2L198.9,40.0L197.9,39.7L197.2,40.3L197.1,41.6L197.9,42.6L198.0,42.9L198.9,43.5L199.4,44.2L200.0,45.4L200.0,45.5L200.1,46.8L200.0,47.2L199.4,48.1L198.9,48.3L198.2,48.1L197.8,47.9L196.9,46.8L196.8,46.3L196.3,45.5L195.7,44.4L194.6,44.3L193.5,44.2L193.4,44.2L192.4,43.5L191.9,42.9L191.3,42.1L190.2,41.8L189.2,42.9L189.1,43.1L188.8,44.2L188.8,45.5L189.0,46.8L189.1,47.2L189.6,48.1L190.2,48.8L191.3,49.1L192.2,49.4L192.4,49.5L193.5,50.6L193.5,50.7L193.5,51.0L193.3,52.0L192.5,53.3L192.4,53.4L192.0,54.6L192.0,55.9L192.3,57.2L192.4,57.6L192.7,58.5L193.3,59.8L193.5,60.1L194.6,60.7L195.7,60.6L196.8,60.1L197.2,59.8L197.9,58.6L197.9,58.5L198.7,57.2L198.9,56.9L200.0,56.7L201.1,57.0L201.8,57.2L202.2,57.4L202.6,57.2L203.3,57.0L204.2,55.9L204.4,55.7L205.2,54.6L205.5,54.2L206.4,53.3L206.6,53.0L207.7,52.4L208.8,52.2L209.9,52.2L210.9,52.1L212.0,52.2L213.1,52.4L214.2,52.7L215.3,52.7L216.4,52.5L217.5,52.1L217.7,52.0L218.6,51.5L219.7,50.8L219.8,50.7L220.8,49.7L221.1,49.4L221.9,48.4L222.3,48.1L223.0,47.2L224.1,46.8L225.1,47.5L225.6,48.1L226.2,48.4L227.3,49.0L228.2,49.4L228.4,49.4L229.5,49.6L230.6,49.6L231.7,49.4L231.7,49.4L232.8,49.0L233.9,48.5L234.7,48.1L235.0,47.8L235.8,46.8L235.9,45.5L235.0,44.2L234.9,44.2L233.9,43.8L232.8,44.1L232.7,44.2L231.7,44.5L230.6,44.5L229.7,44.2L229.5,44.1L228.4,43.3L227.7,42.9L227.9,41.6L228.4,41.3L229.5,40.6L230.2,40.3L230.6,40.1L231.7,39.9L232.8,39.8L233.9,40.1L234.2,40.3L235.0,40.7L236.1,40.6L237.2,40.6L238.2,41.1L238.7,41.6L239.3,42.1L240.4,42.9L240.4,42.9L241.5,43.4L242.6,43.9L243.0,44.2L243.7,44.8L244.2,45.5L244.8,46.7L244.8,46.8L245.7,48.1L245.9,48.3L247.0,49.2L248.1,49.3L249.2,48.5L249.5,48.1L249.5,46.8L249.3,45.5L249.3,44.2L249.5,42.9L249.7,41.6L249.9,40.3L249.6,39.0L249.3,37.7L249.6,36.4L250.2,35.2L250.4,35.1L251.3,34.2L252.2,33.8L252.4,33.5L253.4,32.4L253.5,31.1L253.3,29.8L253.3,28.5L253.5,28.3L254.6,27.4L254.9,27.2L255.7,26.6L256.8,26.5L257.3,27.2L257.9,28.0L258.3,28.5L259.0,29.2L259.6,28.5L260.1,27.8L260.2,27.2L260.4,25.9L260.9,24.6L261.2,24.2L261.6,23.3L262.3,22.5L262.8,22.0L263.4,21.7L264.4,21.2L265.5,21.0L266.6,20.8L267.2,20.7L267.7,20.7L268.8,20.6L269.9,20.5L271.0,20.4L272.1,20.4L273.2,20.5L273.8,20.7L274.3,20.9L275.4,21.6L276.1,22.0L276.4,22.3L277.5,23.1L277.8,23.3L278.6,23.8L279.7,24.1L280.8,23.7L281.0,23.3L281.5,22.0L281.5,20.7L280.8,19.6L280.7,19.4L279.7,18.6L279.3,18.1L278.6,17.3L278.3,16.8L278.0,15.5L278.6,14.2L278.6,14.2L279.7,13.8L280.8,13.8L281.9,14.2L282.0,14.2L283.0,14.6L284.1,14.7L285.2,14.5L285.9,14.2L286.3,14.1L287.4,13.8L288.5,13.7L289.6,13.8L290.4,14.2L290.6,14.3L291.7,15.2L292.0,15.5L292.7,16.8L292.8,17.1L293.4,18.1L293.9,18.8L294.7,19.4L295.0,19.6L296.1,20.0L297.2,20.5L297.6,20.7L298.3,21.2L299.3,22.0L299.4,22.3L299.6,22.0L300.1,20.7L300.5,19.7L300.5,19.4L300.8,18.1L301.2,16.8L301.6,16.1L301.9,15.5L302.6,14.8L303.3,14.2L303.7,13.8L304.8,13.1L305.3,12.9L305.9,12.7L307.0,12.7L308.1,12.8L309.2,12.6L310.3,11.8L310.4,11.6L310.7,10.3L310.4,9.0L310.3,8.9L309.5,7.7L309.2,7.3L308.5,6.4L308.1,5.8L307.4,5.1L307.0,4.6L305.9,4.1L304.8,4.1L303.7,3.9L303.7,3.8L303.2,2.5L303.7,1.2L303.7,1.2L304.8,1.2L305.9,1.2L307.0,1.2L308.1,1.2L309.2,1.2L310.3,1.2L311.4,1.2L312.5,1.2L313.6,1.2L314.7,1.2L315.8,1.2L316.8,1.2L317.9,1.2L319.0,1.2L320.1,1.2L321.2,1.2L322.3,1.2L323.4,1.2L324.5,1.2L325.6,1.2L326.7,1.2L327.8,1.2L328.9,1.2L329.9,1.2L331.0,1.2L332.1,1.2L333.2,1.2L334.3,1.2L335.4,1.2L336.5,1.2L337.6,1.2L338.7,1.2L339.8,1.2L340.9,1.2L341.9,1.2L343.0,1.2L344.1,1.2L345.2,1.2L346.3,1.2L347.4,1.2L348.5,1.2L349.6,1.2L350.7,1.2L351.8,1.2L352.9,1.2L354.0,1.2L355.1,1.2L356.1,1.2L357.2,1.2L358.3,1.2L359.2,1.2L358.6,2.5L358.6,3.8L358.7,5.1L358.8,6.4L359.2,7.7L359.4,7.9L360.4,9.0L360.5,9.1L361.6,9.5L362.7,9.4L363.2,9.0L363.7,7.7L363.7,6.4L363.4,5.1L363.0,3.8L362.7,3.0L362.4,2.5L361.6,1.4L361.3,1.2L361.6,1.2L362.7,1.2L363.8,1.2L364.9,1.2L366.0,1.2L367.1,1.2L368.1,1.2L369.2,1.2L370.3,1.2L371.4,1.2L372.5,1.2L373.6,1.2L374.7,1.2L375.8,1.2L376.9,1.2L378.0,1.2L379.1,1.2L380.2,1.2L380.6,1.2L380.5,2.5L380.5,3.8L380.3,5.1L380.2,5.6L379.1,6.2L378.9,6.4L378.0,7.4L377.8,7.7L377.6,9.0L378.0,10.2L379.1,9.5L379.3,9.0L380.0,7.7L380.2,7.1L381.2,6.5L382.3,7.3L382.6,7.7L383.2,9.0L383.4,10.3L383.1,11.6L382.4,12.9L382.3,13.1L381.9,14.2L381.6,15.5L381.2,16.8L381.2,16.8L380.2,17.9L379.9,18.1L379.1,18.6L378.0,19.2L377.3,19.4L376.9,19.6L375.8,19.7L374.7,20.1L374.1,20.7L373.6,21.8L373.5,22.0L373.4,23.3L373.6,23.9L373.8,24.6L374.7,25.8L375.1,25.9L375.8,26.1L376.9,26.0L378.0,26.2L379.1,26.7L380.2,27.2L381.0,27.2L381.2,27.3L381.3,27.2L382.3,26.7L383.1,25.9L383.4,25.4L383.8,24.6L384.3,23.3L384.5,22.6L384.8,22.0L385.4,20.7L385.6,20.2L385.9,19.4L386.2,18.1L386.5,16.8L386.7,15.5L386.7,14.9L386.8,14.2L386.8,12.9L387.0,11.6L387.4,10.3L387.8,9.1L387.8,9.0L388.1,7.7L388.5,6.4L388.9,5.8L389.7,5.1L390.0,4.7L390.7,3.8L390.1,2.5L390.0,2.4L388.9,1.9L387.8,1.8L386.7,1.9L385.6,1.7L384.8,1.2L385.6,1.2L386.7,1.2L387.8,1.2L388.9,1.2L390.0,1.2L391.1,1.2L392.2,1.2L393.3,1.2L394.2,1.2L393.8,2.5L394.0,3.8L394.4,4.2L394.8,5.1L395.4,6.2L395.6,6.4L396.3,7.7L395.4,8.5L395.2,9.0L394.4,9.9L394.1,10.3L393.3,11.6L393.3,11.6L392.5,12.9L392.2,13.5L391.8,14.2L391.5,15.5L391.6,16.8L392.2,17.8L392.8,18.1L393.3,18.2L394.4,18.3L395.4,18.2L395.9,18.1L396.5,18.0L397.6,18.0L398.7,17.9L399.8,17.9L400.9,17.8L402.0,17.5L403.1,17.2L404.2,17.2L405.3,17.2L406.4,16.9L406.4,16.8L406.9,15.5L407.5,14.6L407.6,14.2L408.5,12.9L408.5,12.9L409.6,11.8L410.7,11.6L411.8,11.8L412.9,12.3L413.8,12.9L413.8,14.2L413.5,15.5L413.1,16.8L412.9,17.2L412.5,18.1L411.8,19.3L411.5,19.4L410.7,20.1L409.6,20.0L408.5,19.8L408.4,20.7L408.5,21.2L409.2,22.0L409.6,22.4L410.7,22.5L411.8,22.8L412.4,23.3L412.9,23.6L414.0,24.4L414.2,24.6L415.1,25.8L415.1,25.9L415.7,27.2L416.0,28.5L415.9,29.8L415.3,31.1L415.1,31.6L414.8,32.4L415.0,33.8L415.1,33.9L415.7,35.1L416.2,35.9L416.5,36.4L417.3,37.2L417.9,37.7L418.4,37.9L419.5,38.1L420.5,37.9L421.0,37.7L421.6,36.4L421.3,35.1L420.8,33.8L420.6,32.8L420.4,32.4L420.5,31.1L420.6,31.1L421.6,29.8L421.6,29.8L422.7,29.3L423.8,29.4L424.5,29.8L424.9,30.1L426.0,31.1L426.0,31.2L427.1,32.4L427.1,32.4L428.1,33.8L428.2,33.9L428.7,35.1L428.9,36.4L429.3,37.5L429.3,37.7L430.2,39.0L430.4,39.2L431.4,40.3L431.5,40.5L431.9,41.6L431.5,42.1L431.3,42.9L431.0,44.2L430.7,45.5L430.7,46.8L431.4,48.1L431.5,48.1L432.6,49.3L432.6,49.4L433.6,50.2L434.3,50.7L434.7,50.9L435.8,51.4L436.9,51.7L438.0,51.8L439.1,51.7L440.2,51.4L441.3,50.7L441.3,50.7L442.4,49.4L442.4,49.4L443.0,48.1L443.4,46.8L443.4,45.5L442.4,44.7L441.3,44.7L440.2,44.7L439.1,44.5L438.0,44.3L437.6,44.2L436.9,43.9L435.8,43.4L435.0,42.9L434.7,42.7L433.6,41.8L433.1,41.6L432.6,40.3L432.2,40.3L432.6,40.2L433.0,39.0L433.7,37.9L433.8,37.7L434.6,36.4L434.7,35.9L435.3,35.1L435.8,34.1L436.9,33.8L438.0,33.8L439.1,34.0L440.2,34.5L441.0,35.1L441.3,35.3L442.3,36.4L442.4,36.5L443.4,37.7L443.5,37.8L444.4,39.0L444.6,39.2L445.7,39.9L446.8,39.9L447.8,39.4L448.4,39.0L448.9,38.5L449.8,37.7L450.0,37.5L451.0,36.4L451.1,36.2L452.2,35.1L452.2,35.0L453.3,34.5L454.4,34.5L455.5,34.7L456.6,34.7L457.7,34.0L457.8,33.8L458.7,32.4L458.8,32.4L459.7,31.1L459.9,30.9L460.7,29.8L460.9,29.5L461.7,28.5L462.0,28.0L463.0,27.2L463.1,27.0L464.2,26.3L464.9,25.9L465.3,25.4L465.9,24.6L466.3,23.3L466.4,23.1L467.0,22.0L467.5,21.5L467.8,22.0L468.6,23.3L468.6,23.3L468.6,24.6L468.6,24.8L468.3,25.9L468.1,27.2L468.1,28.5L468.1,29.8L468.2,31.1L468.3,32.4L468.3,33.8L468.3,35.1L468.0,36.4L467.5,37.3L467.0,37.7L467.5,38.8L467.6,39.0L468.6,39.6L469.0,40.3L469.7,41.1L470.0,41.6L470.8,42.4L471.7,42.9L471.9,42.9L472.3,42.9L472.9,42.7L473.9,41.6L474.0,40.3L473.9,39.0L473.7,37.7L473.7,36.4L474.0,35.1L474.0,34.9L474.4,33.8L474.8,32.4L474.9,31.1L474.7,29.8L474.3,28.5L474.0,27.4L474.0,27.2L474.0,27.0L474.2,25.9L474.9,24.6L475.1,24.3L475.9,23.3L476.2,23.0L477.0,22.0L477.3,21.6L478.0,20.7L478.4,19.9L478.8,19.4L479.5,18.4L480.6,18.3L481.7,18.7L482.8,19.1L483.9,19.3L484.8,19.4L485.0,19.4L486.0,19.5L487.1,19.5L488.2,19.6L489.3,19.9L490.4,20.1L491.5,20.0L492.1,19.4L492.3,18.1L492.2,16.8L491.6,15.5L491.5,15.3L490.9,14.2L490.6,12.9L491.0,11.6L491.5,10.9L492.0,10.3L492.6,9.5L493.0,9.0L493.7,8.2L494.2,7.7L494.8,7.3L495.9,6.5L495.9,6.4L497.0,5.3L497.1,5.1L498.0,3.8L498.1,3.6L498.9,2.5L499.1,1.2L499.2,1.2L500.2,1.2L501.3,1.2L502.4,1.2L503.5,1.2L504.6,1.2L505.7,1.2L506.8,1.2L507.9,1.2L509.0,1.2L510.1,1.2L511.2,1.2L512.2,1.2L513.3,1.2L514.4,1.2L515.5,1.2L516.6,1.2L517.7,1.2L518.8,1.2L519.9,1.2L521.0,1.2L522.1,1.2L523.2,1.2L524.3,1.2L525.4,1.2L526.0,1.2L526.4,2.3L526.5,2.5L526.7,3.8L526.8,5.1L526.8,6.4L526.6,7.7L526.4,8.1L526.0,9.0L525.4,10.0L525.2,10.3L524.9,11.6L525.1,12.9L525.4,13.4L525.8,14.2L526.4,15.0L527.1,15.5L527.5,15.8L528.6,16.1L529.7,15.9L530.4,15.5L530.8,15.3L531.9,14.3L532.0,14.2L532.9,12.9L533.0,12.6L533.3,11.6L533.5,10.3L534.0,9.0L534.1,8.8L535.1,7.7L535.2,7.6L536.3,7.3L537.4,7.5L537.7,7.7L538.5,8.1L539.5,8.8L539.9,9.0L540.6,10.1L540.7,10.3L541.0,11.6L541.0,12.9L541.0,14.2L541.3,15.5L541.7,16.5L541.9,16.8L542.8,17.7L543.4,18.1L543.9,18.4L545.0,18.9L546.1,19.3L546.9,19.4L547.2,19.5L547.8,19.4L548.3,19.4L549.4,19.3L550.1,19.4L550.5,19.5L551.5,20.0L552.4,20.7L552.6,21.0L553.7,21.9L554.3,22.0L554.8,22.1L554.8,23.3L554.8,24.6L554.8,25.9L554.8,27.2L554.8,28.5L554.8,29.8L554.8,31.1L554.8,32.0L554.3,32.4L553.7,32.9L553.2,33.8L552.9,35.1L553.4,36.4L553.7,36.6L554.8,37.0L554.8,37.7L554.8,39.0L554.8,40.3L554.8,41.6L554.8,42.9L554.8,44.2L554.8,45.5L554.8,46.8L554.8,48.1L554.8,48.8L553.7,48.2L552.6,48.5L551.8,49.4L551.5,50.0L551.3,50.7L551.0,52.0L550.7,53.3L550.5,54.1L550.2,54.6L549.6,55.9L549.4,56.4L548.6,57.2L548.3,57.7L547.5,58.5L547.2,59.1L546.9,59.8L547.0,61.1L547.2,61.2L547.4,61.1L548.3,60.7L549.4,60.0L550.0,59.8L550.5,59.7L551.5,59.8L551.5,59.8L552.6,60.0L553.7,59.9L554.2,59.8L554.8,59.5L554.8,59.8L554.8,61.1L554.8,62.4L554.8,63.7L554.8,65.0L554.8,66.3L554.8,67.6L554.8,68.9L554.8,70.2L554.8,71.5L554.8,72.8L554.8,74.1L554.8,75.4L554.8,76.7L554.8,78.0L554.8,79.3L554.8,80.7L554.8,82.0L554.8,83.3L554.8,84.6L554.8,85.9L554.8,87.2L554.8,88.5L554.8,89.8L554.8,91.1L554.8,92.4L554.8,93.7L554.8,95.0L554.8,96.3L554.8,97.6L554.8,98.9L554.8,100.2L554.8,101.5L554.8,102.8L554.8,104.1L554.8,105.4L554.8,106.7L554.8,108.0L554.8,109.3L554.8,110.6L554.8,111.9L554.8,113.2L554.8,114.5L554.8,115.8L554.8,117.1L554.8,118.4L554.8,119.7L554.8,121.0L554.8,122.3L554.8,123.6L554.8,124.9L554.8,126.2L554.8,127.6L554.8,128.9L554.8,130.2L554.8,131.5L554.8,132.8L554.8,134.1L554.8,135.4L554.8,136.7L554.8,138.0L554.8,139.3L554.8,140.6L554.8,141.9L554.8,143.2L554.8,144.5L554.8,145.8L554.8,147.1L554.8,148.4L554.8,149.7L554.8,151.0L554.8,152.3L554.8,153.6L554.8,154.9L554.8,156.2L554.8,157.5L554.8,158.8L554.8,160.1L554.8,161.4L554.8,162.7L554.8,164.0L554.8,165.3L554.8,166.6L554.8,167.9L554.8,169.2L554.8,170.5L554.8,171.8L554.8,173.1L554.8,174.4L554.8,175.8L554.8,177.1L554.8,177.9L553.7,177.1L553.6,177.1L552.6,176.6L551.5,175.8L551.5,175.8L550.5,174.9L550.0,174.4L549.4,173.7L548.9,173.1L548.4,171.8L548.6,170.5L549.4,169.7L549.8,169.2L550.5,168.5L550.8,167.9L551.2,166.6L551.0,165.3L550.5,164.2L550.2,164.0L549.4,163.4L548.3,163.1L547.2,163.0L546.1,162.9L545.0,162.8L543.9,163.4L543.6,164.0L543.1,165.3L542.8,166.3L542.7,166.6L542.4,167.9L542.0,169.2L541.7,169.7L541.1,170.5L540.6,171.1L539.5,171.7L539.3,171.8L538.5,172.6L538.0,173.1L537.4,174.1L537.0,174.4L536.3,175.3L535.2,175.7L534.1,175.1L533.6,174.4L533.0,174.1L531.9,173.6L530.8,173.7L529.7,174.3L529.5,174.4L529.0,175.8L529.4,177.1L529.7,177.5L529.9,178.4L529.7,178.8L528.6,178.4L528.6,178.4L528.2,177.1L527.5,176.4L526.4,175.8L526.3,175.8L525.4,175.4L524.3,174.8L523.9,174.4L523.2,173.6L522.9,173.1L522.1,172.5L521.0,171.9L520.9,171.8L519.9,171.5L518.8,171.4L517.7,171.7L517.4,171.8L516.6,172.7L516.3,173.1L515.5,174.2L515.3,174.4L514.4,175.3L513.7,175.8L513.3,176.0L512.2,176.5L511.2,176.4L510.5,175.8L510.1,175.3L509.4,174.4L509.0,174.1L507.9,173.4L507.2,173.1L506.8,173.0L505.7,173.0L505.1,173.1L504.6,173.3L503.5,173.5L502.4,173.6L501.3,173.7L500.2,174.2L500.0,174.4L499.2,175.8L499.1,175.8L498.1,177.1L498.1,177.1L497.0,177.4L495.9,177.4L494.8,177.3L493.7,177.3L492.6,177.4L491.5,177.7L490.4,178.0L489.3,178.2L488.2,178.1L487.1,177.7L486.1,177.3L485.0,177.4L483.9,178.2L483.8,178.4L483.4,179.7L483.1,181.0L482.8,181.7L482.5,182.3L481.7,182.9L480.6,183.3L479.5,183.4L478.4,183.4L477.3,183.5L476.2,183.5L475.1,183.3L474.0,182.9L472.9,182.4L472.7,182.3L471.9,181.7L471.1,181.0L470.8,180.6L469.7,179.8L468.6,179.8L467.5,180.6L467.2,181.0L466.4,181.9L466.0,182.3L465.3,182.6L464.2,183.0L463.1,183.3L462.0,183.5L461.9,183.6L460.9,184.0L460.1,184.9L459.9,185.2L459.0,186.2L458.8,186.4L457.7,186.8L456.7,186.2L456.6,186.0L455.9,184.9L455.5,183.8L455.4,183.6L455.5,183.0L455.7,182.3L456.6,181.4L457.7,181.2L458.8,181.3L459.3,181.0L459.9,180.2L460.0,179.7L460.0,178.4L459.9,177.1L459.9,176.5L459.7,175.8L459.0,174.4L458.8,174.3L457.7,174.0L456.6,174.4L456.5,174.4L455.5,175.6L455.4,175.8L454.4,176.9L454.2,177.1L453.3,177.6L452.2,177.7L451.1,177.6L450.0,177.3L448.9,177.1L448.7,177.1L447.8,176.8L447.3,175.8L447.2,174.4L446.8,173.1L446.8,173.0L446.2,171.8L445.7,170.5L445.7,170.3L445.1,169.2L445.2,167.9L445.7,167.0L445.8,166.6L446.4,165.3L446.8,164.7L447.4,164.0L447.6,162.7L446.8,161.8L446.6,161.4L445.7,160.2L445.6,160.1L445.2,158.8L445.4,157.5L445.7,157.1L446.3,156.2L446.8,155.6L447.2,154.9L447.4,153.6L447.0,152.3L446.8,151.8L446.3,151.0L445.7,150.4L444.6,149.9L443.5,149.7L442.4,149.8L441.3,150.2L440.2,150.9L440.1,151.0L439.1,152.2L439.0,152.3L438.5,153.6L438.5,154.9L438.6,156.2L438.7,157.5L438.8,158.8L438.9,160.1L439.1,161.4L439.1,161.4L439.4,162.7L439.9,164.0L440.2,164.6L440.9,165.3L441.3,165.8L442.3,166.6L442.4,166.8L443.4,167.9L443.5,168.5L443.7,169.2L443.5,169.4L442.5,170.5L442.4,170.6L441.3,171.0L440.2,171.2L439.1,171.4L438.0,171.6L437.7,171.8L437.0,173.1L437.2,174.4L437.6,175.8L437.5,177.1L436.9,177.7L435.8,178.0L434.7,177.4L434.3,177.1L433.6,176.7L432.6,176.2L431.5,175.9L430.9,175.8L430.4,175.6L429.3,175.6L428.2,175.7L428.1,175.8L427.1,175.8L426.0,175.8L426.0,175.8L424.9,175.3L424.0,174.4L423.8,174.3L422.7,173.6L421.7,173.1L421.6,173.1L420.6,172.9L419.5,172.9L418.4,173.1L418.4,173.2L417.3,174.1L417.0,174.4L416.2,175.7L416.2,175.8L415.1,176.7L414.7,177.1L414.0,177.4L412.9,177.9L411.8,178.2L410.7,178.3L409.6,178.1L408.5,177.6L408.0,177.1L407.4,176.6L406.4,175.8L406.3,175.8L405.3,175.7L405.1,175.8L404.2,176.1L403.1,176.7L402.4,177.1L402.0,177.3L400.9,177.7L399.8,177.8L398.7,177.7L397.6,177.2L397.2,177.1L396.5,176.6L395.4,176.5L394.4,176.8L393.3,177.0L392.9,177.1L392.2,177.1L392.0,177.1L391.1,176.8L390.0,176.1L389.5,175.8L388.9,175.3L387.8,174.9L386.7,175.1L385.6,175.7L385.6,175.8L384.5,176.7L384.2,177.1L383.4,177.9L383.0,178.4L382.3,179.0L381.2,179.6L381.0,179.7L380.2,179.8L379.1,179.9L378.0,179.7L377.8,179.7L376.9,179.4L375.8,178.9L374.7,178.6L373.6,178.5L372.5,179.2L372.3,179.7L371.4,181.0L371.4,181.0L370.3,182.0L370.1,182.3L369.2,182.8L368.1,183.2L367.1,183.0L366.0,182.3L366.0,182.2L365.2,181.0L364.9,179.7L365.1,178.4L364.9,177.8L364.6,177.1L363.8,176.5L363.0,175.8L362.7,175.6L361.6,175.1L360.5,174.8L359.4,174.8L358.3,175.0L357.2,175.2L356.1,175.4L355.1,175.7L355.0,175.8L354.0,176.4L353.3,177.1L352.9,177.7L352.4,178.4L351.8,179.0L350.7,179.7L350.7,179.7L349.6,179.9L348.5,180.2L347.4,180.5L346.3,180.5L345.2,180.2L344.4,179.7L344.1,179.4L343.0,178.6L342.7,178.4L341.9,177.9L340.9,177.2L340.7,177.1L339.8,176.3L338.9,175.8L338.7,175.6L337.6,175.5L336.5,175.5L335.4,175.5L334.3,175.5L333.2,175.4L332.1,175.6L331.8,175.8L331.0,176.2L330.2,177.1L329.9,177.3L328.9,178.3L328.8,178.4L327.8,179.1L326.7,179.5L325.6,179.5L324.5,179.1L323.4,178.7L322.3,178.5L321.2,178.4L320.1,178.7L319.0,179.2L318.1,179.7L317.9,179.7L316.8,180.0L315.8,179.9L314.9,179.7L314.7,179.6L313.6,179.3L312.5,179.3L311.8,179.7L311.4,179.8L310.3,180.6L309.7,181.0L309.2,181.3L308.1,181.9L307.1,182.3L307.0,182.3L305.9,182.7L304.8,183.2L303.7,183.6L303.7,183.6L302.6,183.9L301.6,184.1L300.5,184.3L299.4,184.6L298.3,184.8L297.8,184.9L297.2,184.9L296.1,185.0L295.0,185.0L293.9,184.9L292.8,184.9L292.8,184.9L291.7,184.7L290.6,184.3L289.6,184.1L288.5,184.5L287.8,184.9L287.4,185.0L286.3,185.2L285.2,185.1L284.7,184.9L284.1,184.4L283.4,183.6L283.2,182.3L283.2,181.0L283.0,180.5L281.9,180.5L280.8,181.0L280.8,181.0L279.7,182.0L279.5,182.3L278.6,183.0L277.5,183.4L276.4,183.2L275.4,182.6L274.9,182.3L274.3,181.8L273.2,181.1L272.1,181.1L271.0,181.7L270.1,182.3L269.9,182.4L268.8,183.0L267.7,183.3L266.6,183.1L265.5,182.5L265.3,182.3L264.4,181.6L263.7,181.0L263.4,180.5L262.6,179.7L262.3,179.2L261.3,178.4L261.2,178.3L260.3,178.4L260.1,178.4L259.1,179.7L259.0,179.9L258.7,181.0L258.5,182.3L257.9,183.1L256.8,183.4L255.7,183.3L254.6,183.0L253.5,182.7L252.4,182.4L251.6,182.3L251.3,182.2L251.1,182.3L250.2,182.4L249.2,182.9L248.1,182.9L247.4,182.3L247.0,181.9L245.9,181.0L244.9,181.0L244.8,181.0L244.8,181.0L243.7,181.4L242.6,182.0L242.1,182.3L241.5,182.5L240.4,183.1L239.5,183.6L239.3,183.6L238.2,184.1L237.1,184.1L236.5,183.6L236.1,183.1L235.6,182.3L235.1,181.0L235.0,180.5L234.7,179.7L234.3,178.4L233.9,177.7L233.5,177.1L232.8,176.5L231.8,175.8L231.7,175.7L230.6,175.0L229.6,174.4L229.5,174.4L228.4,173.8L227.3,173.3L227.1,173.1L226.2,172.8L225.1,172.6L224.1,172.7L223.2,173.1L223.0,173.3L221.9,174.2L221.3,174.4L220.8,174.8L219.7,174.6L219.5,174.4L218.9,173.1L218.6,171.9L218.6,171.8L217.8,170.5L217.5,170.3L216.4,169.6L215.3,169.5L214.2,170.2L214.0,170.5L213.1,171.8L213.1,171.8L212.0,172.9L211.7,173.1L210.9,173.5L209.9,173.7L208.8,173.5L208.2,173.1L207.7,172.8L206.8,171.8L206.6,171.6L205.5,171.1L204.4,171.5L203.9,171.8L203.3,172.8L203.0,173.1L202.3,174.4L202.2,174.5L202.1,174.4L201.1,174.2L200.0,174.2L198.9,174.3L198.7,174.4L197.8,174.8L196.8,175.4L196.2,175.8L195.7,176.0L194.6,176.7L193.9,177.1L193.5,177.4L192.4,178.4L192.4,178.4L191.3,179.6L191.3,179.7L190.2,180.6L189.7,181.0L189.1,181.4L188.0,181.8L186.9,182.0L185.8,182.0L184.8,181.6L183.7,181.0L183.7,180.9L182.6,180.0L182.3,179.7L181.5,179.0L180.4,178.4L180.3,178.4L179.3,178.1L178.2,178.0L177.1,177.6L176.3,177.1L176.0,176.8L174.9,176.0L174.4,175.8L173.8,175.5L172.7,175.4L171.7,175.4L170.6,175.5L169.5,175.7L169.4,175.8L168.4,176.0L167.3,176.1L166.2,175.9L165.6,175.8L165.1,175.6L164.0,175.5L162.9,175.7L162.8,175.8L161.8,176.3L160.9,177.1L160.7,177.2L159.7,178.4L159.6,178.4L158.6,179.1L157.5,179.2L156.4,178.5L156.3,178.4L155.4,177.1L155.3,176.9L154.2,176.1L153.1,175.9L152.0,175.9L150.9,175.9L150.1,175.8L149.8,175.7L148.7,175.6L147.6,175.8L147.6,175.8L146.5,176.2L145.4,176.8L144.6,177.1L144.4,177.2L143.3,177.3L142.2,177.3L141.1,177.3L140.0,177.9L139.5,178.4L138.9,179.3L138.5,179.7L137.8,180.5L137.2,179.7L136.7,179.4L135.8,178.4L135.6,178.3L134.5,177.7L133.4,177.1L133.4,177.1L132.3,176.7L131.3,176.3L130.2,176.0L129.4,175.8L129.1,175.7L128.0,175.3L126.9,174.7L126.5,174.4L125.8,174.1L124.7,173.6L123.6,173.4L122.5,173.4L121.4,173.4L120.3,173.3L119.7,173.1L119.3,173.1L118.2,172.9L117.4,173.1L117.1,173.2L116.0,174.1L115.7,174.4L115.1,175.8L115.0,177.1L115.3,178.4L115.7,179.7L114.9,180.4L113.8,180.5L112.7,180.3L111.6,180.1L110.5,179.9L109.4,179.9L108.3,179.8L107.2,179.7L106.7,179.7L106.2,179.6L105.1,179.6L104.0,179.5L102.9,179.3L101.8,179.1L100.7,179.0L99.6,179.2L98.8,179.7L98.5,179.9L97.7,181.0L97.4,181.7L97.2,182.3L96.3,183.4L96.1,183.6L95.2,183.9L94.1,184.1L93.0,184.3L92.0,184.2L90.9,184.1L89.8,183.8L88.7,183.7L87.6,183.9L86.5,184.4L85.6,184.9L85.4,185.0L84.3,185.7L83.5,186.2L83.2,186.4L82.1,187.1L81.7,187.5L81.0,188.0L80.0,188.6L79.4,188.8L78.9,189.0L77.8,189.1L76.7,189.2L75.6,189.5L75.0,190.1L74.5,190.8L74.2,191.4L73.4,192.5L73.2,192.7L72.3,193.1L71.2,193.2L70.1,193.0L69.0,192.9L67.9,192.8L66.8,193.0L65.8,193.2L64.7,193.3L63.6,193.3L62.5,193.4L61.4,193.7L60.8,194.0L60.3,194.2L59.2,194.3L58.1,194.3L57.0,194.1L56.6,194.0L55.9,193.8L54.8,193.4L53.8,193.0L52.8,192.7L52.7,192.6L51.6,192.2L50.5,191.8L49.5,191.4L49.4,191.4L48.3,191.0L47.2,190.8L46.1,190.5L45.0,190.1L44.9,190.1L43.9,189.4L43.5,188.8L42.8,187.5L42.8,187.5L42.5,186.2L42.2,184.9L41.7,184.0L41.3,183.6L40.6,183.2L39.6,182.8L38.5,182.5L37.4,182.3L37.4,182.3L36.3,181.9L35.2,181.6L34.1,181.1L34.0,181.0L33.0,180.2L32.4,179.7L31.9,179.3L30.8,178.4L30.7,178.4L29.7,177.7L28.6,177.1L28.6,177.1L27.6,175.9L27.5,175.8L27.2,174.4L27.2,173.1L27.0,171.8L26.5,171.2L26.0,170.5L25.4,169.7L25.1,169.2L24.7,167.9L24.8,166.6L25.4,165.6L26.5,165.3L27.6,165.6L28.6,165.6L28.9,165.3L29.7,164.0L29.7,163.8L29.8,162.7L29.7,162.5L29.2,161.4L28.6,161.0L27.6,160.6L26.5,160.7L25.4,161.0L24.3,161.2L23.2,161.3L22.9,161.4L22.1,161.9L21.5,162.7L21.0,163.7L20.9,164.0L20.3,165.3L19.9,166.0L19.6,166.6L19.1,167.9L18.8,168.8L18.7,169.2L18.4,170.5L18.0,171.8L17.7,172.4L17.1,173.1L16.6,173.6L15.5,174.1L14.4,174.3L14.0,174.4L13.4,174.8L12.3,175.4L12.3,174.4L12.3,173.1L12.3,171.8L12.3,170.5L12.3,169.2L12.3,167.9L12.3,166.6L12.3,165.3L12.3,164.0L12.3,162.7L12.3,161.4L12.3,160.1L12.3,158.8L12.3,157.5L12.3,156.2L12.3,154.9L12.3,153.6L12.3,152.3L12.3,151.0L12.3,149.7L12.3,148.4L12.3,147.1L12.3,145.8L12.3,144.5L12.3,143.2L12.3,141.9L12.3,140.6L12.3,139.3L12.3,138.0L12.3,136.7L12.3,135.4L12.3,134.1L12.3,132.8L12.3,131.5L12.3,130.2L12.3,128.9L12.3,127.6L12.3,126.2L12.3,124.9L12.3,123.6L12.3,122.3L12.3,121.0L12.3,119.7L12.3,118.4L12.3,117.1L12.3,115.8L12.3,114.5L12.3,113.2L12.3,111.9L12.3,110.6L12.3,109.3L12.3,108.0L12.3,106.7L12.3,105.4L12.3,104.1L12.3,102.8L12.3,101.5L12.3,100.2L12.3,98.9L12.3,97.6L12.3,96.3L12.3,95.0L12.3,93.7L12.3,92.4L12.3,91.1L12.3,89.8L12.3,88.5L12.3,87.2L12.3,85.9L12.3,84.6L12.3,83.3L12.3,82.0L12.3,80.7L12.3,79.3L12.3,78.0L12.3,76.7L12.3,75.4L12.3,74.1L12.3,72.8L12.3,71.5L12.3,70.2L12.3,68.9L12.3,67.6L12.3,66.3L12.3,65.0L12.3,63.7L12.3,62.4L12.3,61.1L12.3,59.8L12.3,59.0L12.8,58.5L13.4,57.3L13.5,57.2L13.7,55.9L13.4,55.6L12.6,54.6L12.3,54.4L12.3,53.3L12.3,52.0L12.3,50.7L12.3,49.4L12.3,48.1L12.3,46.8L12.3,45.5L12.3,44.2L12.3,42.9L12.3,41.6L12.3,40.3L12.3,39.0L12.3,37.7L12.3,36.4L12.3,36.2L13.1,35.1L13.2,33.8L12.6,32.4L12.3,32.0L12.3,31.1L12.3,29.8L12.3,28.5L12.3,27.2L12.3,25.9L12.3,24.6L12.3,23.3L12.3,22.0L12.3,20.7L12.3,19.4L12.3,18.1L12.3,16.8L12.3,15.5L12.3,14.2L12.3,12.9L12.3,11.6L12.3,10.3L12.3,10.3L12.3,10.3L13.4,10.6L14.4,10.9L15.5,11.3L16.1,11.6L16.6,11.9L17.7,12.8L17.8,12.9L18.8,14.0L19.0,14.2L19.9,15.3L20.1,15.5L20.9,16.8L21.0,17.1L21.5,18.1L22.1,19.2L22.5,19.4L23.2,19.8L23.8,19.4L24.3,19.2L25.4,18.4L25.9,18.1L26.5,17.8L27.5,17.4L28.6,17.3L29.6,16.8L29.4,15.5L29.1,14.2L29.0,12.9L29.5,11.6L29.7,11.4L30.8,11.5L30.9,11.6L31.9,12.7L32.1,12.9L33.0,14.1L33.2,14.2L34.1,15.0L35.2,15.5L35.2,15.5L36.3,15.8L37.4,15.9L38.5,15.9L39.6,16.0L40.3,16.8L40.5,18.1L40.4,19.4L40.1,20.7L39.6,21.8L39.2,22.0L38.5,22.4L37.4,22.2L37.0,22.0L36.3,21.6L35.2,21.4L34.7,22.0L34.5,23.3L34.6,24.6L35.1,25.9L35.2,26.1L36.3,26.4L37.4,26.4L38.5,26.5L39.6,27.0L39.9,27.2L40.7,27.7L41.5,28.5L41.7,28.7L42.8,29.8L42.8,29.8L43.8,31.1L43.9,31.5L44.3,32.4L44.3,33.8L43.9,34.7L43.7,35.1L42.8,36.2L42.6,36.4L41.7,37.3L40.8,37.7L40.6,37.8L39.6,38.5L39.0,39.0L39.3,40.3L39.6,40.5L40.6,40.4L41.1,40.3L41.7,39.8L42.8,39.8L43.6,40.3L43.9,40.4L45.0,41.3L45.3,41.6L46.1,42.5L46.6,42.9L47.2,43.6L48.3,43.5L48.9,42.9L49.4,42.4L49.9,41.6L50.0,40.3L49.7,39.0L49.4,38.2L49.2,37.7L48.9,36.4L49.2,35.1L49.4,34.8L50.5,33.9L51.3,33.8L51.6,33.5L52.1,32.4L51.6,31.7L51.3,31.1L50.5,30.1L50.3,29.8L49.8,28.5L49.9,27.2L50.5,26.8L51.6,26.5L52.7,26.4L53.8,26.1L54.0,25.9L54.8,25.6L55.9,25.2L57.0,25.2L58.1,25.5L59.0,25.9L59.2,26.0L60.3,26.5L61.4,26.7L62.5,26.4L62.9,25.9L63.6,25.3L64.7,24.7L65.8,24.9L66.8,25.9L67.6,25.9L67.9,26.0L68.0,25.9L68.4,24.6L68.9,23.3L69.0,23.1L69.3,22.0L69.7,20.7L70.1,19.8L70.3,19.4L70.7,18.1L70.1,17.5L69.0,17.8L68.1,18.1L67.9,18.2L66.8,18.7L65.8,19.4L65.7,19.4L64.7,20.1L63.6,20.3L62.5,20.2L61.4,19.8L60.8,19.4L60.3,18.8L59.9,18.1L59.8,16.8L60.3,15.9L60.5,15.5L61.4,14.8L62.1,14.2L62.5,14.0L63.5,12.9L63.6,12.8L64.2,11.6L64.4,10.3L64.2,9.0L63.8,7.7L63.6,6.4L64.7,5.5L65.4,6.4L65.8,7.4L65.8,7.7L66.1,9.0L66.8,9.7L67.9,10.3L67.9,10.3L69.0,10.6L70.1,10.9L71.0,11.6L71.2,12.0L71.7,12.9L72.3,14.2L72.3,14.2L72.4,14.2L73.4,14.0L74.5,13.2L75.0,12.9L75.6,12.4L76.6,11.6L76.7,11.4L77.1,10.3L76.8,9.0L76.7,8.6L76.0,7.7L75.6,6.9L74.5,7.0L73.4,7.5L72.3,7.0L72.1,6.4L71.6,5.1L71.3,3.8L71.4,2.5L71.9,1.2ZM80.0,21.7L79.6,22.0L79.2,23.3L79.3,24.6L79.6,25.9L80.0,27.0L81.0,27.1L81.5,25.9L82.1,25.1L82.3,24.6L82.5,23.3L82.2,22.0L82.1,22.0L81.0,21.4L80.0,21.7ZM89.8,37.3L89.1,37.7L88.7,38.0L88.2,39.0L87.8,40.3L87.6,41.5L87.6,41.6L87.4,42.9L87.2,44.2L87.0,45.5L86.8,46.8L86.7,48.1L86.8,49.4L87.5,50.7L87.6,50.7L88.7,51.2L89.8,51.3L90.9,51.4L92.0,51.6L93.0,51.9L93.3,52.0L94.1,52.4L95.0,52.0L95.2,51.9L96.1,50.7L96.3,50.1L96.5,49.4L96.3,48.4L96.3,48.1L95.9,46.8L95.5,45.5L95.2,44.8L95.0,44.2L94.7,42.9L94.4,41.6L94.3,40.3L94.1,39.7L93.9,39.0L93.1,37.7L93.0,37.6L92.0,37.2L90.9,37.2L89.8,37.3ZM104.0,75.3L103.9,75.4L104.0,75.8L104.2,76.7L105.1,77.7L105.9,76.7L105.7,75.4L105.1,74.5L104.0,75.3ZM190.2,12.5L189.4,12.9L189.1,13.1L188.0,13.8L187.4,14.2L187.2,15.5L187.8,16.8L188.0,17.1L189.0,18.1L189.1,18.2L190.2,19.1L190.8,19.4L191.3,19.7L192.4,19.8L193.3,19.4L193.5,19.3L194.5,18.1L194.6,18.0L195.1,16.8L195.2,15.5L194.8,14.2L194.6,13.8L193.9,12.9L193.5,12.5L192.4,12.0L191.3,12.1L190.2,12.5ZM267.7,33.7L267.6,33.8L266.6,34.8L266.5,35.1L266.1,36.4L265.5,37.5L265.5,37.7L265.0,39.0L264.6,40.3L264.4,41.0L264.3,41.6L264.0,42.9L263.8,44.2L263.6,45.5L263.8,46.8L264.4,47.1L265.5,47.3L266.6,47.3L267.7,47.0L268.6,46.8L268.8,46.7L269.9,46.4L271.0,46.1L271.8,45.5L272.1,45.0L272.4,44.2L272.5,42.9L272.3,41.6L272.1,40.9L271.9,40.3L271.4,39.0L271.0,38.2L270.8,37.7L270.2,36.4L269.9,35.5L269.6,35.1L268.8,33.9L268.2,33.8L267.7,33.7ZM314.7,17.7L313.8,18.1L313.6,18.3L312.7,19.4L312.6,20.7L312.8,22.0L313.4,23.3L313.6,23.7L314.3,24.6L314.7,25.2L315.2,25.9L315.7,27.2L315.7,28.5L315.5,29.8L314.9,31.1L314.7,31.4L313.6,32.4L313.6,32.5L312.5,33.1L311.4,32.4L311.4,32.4L310.9,31.1L310.7,29.8L310.6,28.5L310.3,27.7L309.9,27.2L309.2,27.0L308.1,26.9L307.0,27.0L305.9,27.1L304.8,27.1L303.7,27.2L303.4,27.2L302.6,27.8L302.4,28.5L302.6,29.3L302.7,29.8L303.0,31.1L303.0,32.4L302.7,33.8L302.6,33.8L301.7,35.1L301.6,35.2L300.5,35.7L299.4,35.4L299.0,35.1L298.3,34.2L298.1,33.8L297.8,32.4L297.6,31.1L297.3,29.8L297.2,29.7L296.5,28.5L296.1,28.1L295.3,27.2L295.0,27.0L293.9,26.2L293.3,25.9L292.8,25.7L291.7,25.6L290.6,25.9L290.6,25.9L289.6,26.8L289.1,27.2L288.5,28.0L287.9,28.5L287.4,29.1L286.4,29.8L286.3,30.1L285.6,31.1L285.5,32.4L285.9,33.8L286.3,34.4L286.9,35.1L287.4,35.6L288.2,36.4L287.9,37.7L287.4,37.7L287.2,37.7L286.3,37.0L285.2,36.8L284.1,37.7L284.1,37.7L283.4,39.0L283.0,39.5L282.3,40.3L281.9,40.7L280.8,41.4L280.5,41.6L279.7,42.6L279.6,42.9L279.2,44.2L279.0,45.5L278.8,46.8L279.1,48.1L279.5,49.4L279.7,49.8L280.1,50.7L280.8,51.9L280.9,52.0L281.9,52.8L283.0,53.2L284.1,53.2L285.2,53.0L286.3,52.5L287.4,52.2L288.5,52.2L289.6,52.2L290.6,52.0L290.7,52.0L291.7,51.2L292.2,50.7L292.7,49.4L292.8,49.1L293.2,48.1L293.7,46.8L293.9,46.3L295.0,46.1L295.6,46.8L296.1,47.4L296.7,48.1L297.2,48.5L298.3,48.7L299.2,48.1L299.4,48.0L300.4,46.8L300.5,46.8L301.6,45.7L301.8,45.5L302.6,44.6L303.3,44.2L303.7,43.7L304.1,44.2L304.3,45.5L304.4,46.8L304.3,48.1L303.8,49.4L303.7,49.5L302.8,50.7L302.6,51.0L302.2,52.0L302.1,53.3L302.5,54.6L302.6,54.8L303.7,55.9L303.8,55.9L304.8,56.5L305.9,57.1L306.7,57.2L307.0,57.3L307.1,57.2L307.8,55.9L308.1,55.6L309.1,54.6L309.2,54.5L310.3,54.3L311.4,54.3L312.5,54.5L312.7,54.6L313.6,54.9L314.7,55.5L315.2,55.9L315.8,56.4L316.7,57.2L316.8,57.4L317.9,58.2L319.0,58.3L320.1,57.7L320.7,57.2L321.2,56.9L322.1,55.9L322.3,55.7L323.1,54.6L323.4,53.9L323.7,53.3L324.0,52.0L324.0,50.7L323.8,49.4L323.7,48.1L324.0,46.8L324.1,45.5L323.9,44.2L323.4,43.0L323.3,42.9L322.6,41.6L322.3,40.9L321.8,40.3L321.8,39.0L322.3,38.3L322.6,37.7L323.2,36.4L323.2,35.1L322.6,33.8L322.3,33.3L321.6,32.4L321.2,32.0L320.4,31.1L320.1,30.7L319.4,29.8L319.0,28.8L318.9,28.5L318.4,27.2L318.3,25.9L318.2,24.6L318.0,23.3L317.9,23.1L317.7,22.0L317.2,20.7L316.8,19.8L316.7,19.4L315.8,18.1L315.8,18.0L314.7,17.7ZM329.9,12.2L329.5,12.9L328.9,14.0L328.8,14.2L328.4,15.5L328.1,16.8L328.0,18.1L328.9,19.3L329.2,19.4L329.9,19.6L331.0,19.5L331.1,19.4L332.1,18.6L332.4,18.1L332.9,16.8L333.0,15.5L332.9,14.2L332.4,12.9L332.1,12.6L331.0,12.0L329.9,12.2ZM335.4,3.7L335.0,3.8L334.3,4.6L334.2,5.1L334.3,5.5L334.6,6.4L335.0,7.7L335.2,9.0L335.4,9.5L336.5,9.8L337.2,9.0L337.6,8.0L337.7,7.7L337.7,6.4L337.6,6.0L337.3,5.1L336.5,4.2L335.7,3.8L335.4,3.7ZM351.8,15.3L351.6,15.5L350.7,16.2L350.2,16.8L349.8,18.1L350.5,19.4L350.7,19.6L351.8,20.7L352.1,20.7L352.9,20.8L353.0,20.7L354.0,20.2L355.1,19.5L355.2,19.4L356.1,18.4L356.7,18.1L356.1,17.8L355.1,16.9L355.0,16.8L354.0,16.3L352.9,15.6L352.2,15.5L351.8,15.3ZM367.1,27.2L367.0,27.2L366.0,28.1L365.5,28.5L365.5,29.8L366.0,30.3L367.1,30.8L368.1,30.9L369.2,30.4L369.8,29.8L369.5,28.5L369.2,28.0L368.7,27.2L368.1,26.8L367.1,27.2ZM371.4,52.8L370.8,53.3L370.3,53.6L369.6,54.6L369.2,55.3L369.0,55.9L368.6,57.2L368.5,58.5L368.6,59.8L369.1,61.1L369.2,61.3L370.3,61.8L371.4,61.7L372.5,61.3L372.9,61.1L373.6,60.7L374.4,59.8L374.7,59.2L375.0,58.5L375.3,57.2L375.3,55.9L374.8,54.6L374.7,54.5L373.6,53.3L373.6,53.3L372.5,52.8L371.4,52.8ZM373.6,29.6L373.1,29.8L372.5,30.4L372.3,31.1L372.5,31.4L373.6,32.2L374.3,31.1L373.8,29.8L373.6,29.6ZM381.2,38.4L380.6,39.0L380.2,39.6L380.0,40.3L379.8,41.6L379.7,42.9L379.8,44.2L380.0,45.5L380.2,45.9L381.0,46.8L381.2,46.9L382.3,46.9L383.4,46.8L383.6,46.8L384.5,46.5L385.6,45.9L386.0,45.5L386.4,44.2L386.0,42.9L385.6,42.5L384.7,41.6L384.5,41.5L383.4,40.4L383.3,40.3L382.3,39.1L382.2,39.0L381.2,38.4ZM392.2,41.8L391.1,42.9L391.1,43.0L390.9,44.2L391.1,44.8L391.3,45.5L392.2,46.4L393.3,46.3L393.7,45.5L393.8,44.2L393.4,42.9L393.3,42.4L392.2,41.8ZM396.5,98.8L396.3,98.9L395.4,99.5L395.0,100.2L394.9,101.5L395.4,102.8L395.5,102.8L396.5,103.4L397.6,103.6L398.7,103.6L399.8,103.3L400.5,102.8L400.4,101.5L399.8,100.5L399.6,100.2L398.7,99.4L397.8,98.9L397.6,98.8L396.5,98.8ZM405.3,91.7L404.2,92.4L404.2,92.5L403.9,93.7L403.9,95.0L404.2,96.2L404.2,96.3L405.3,97.3L406.4,96.9L406.9,96.3L407.2,95.0L406.9,93.7L406.4,92.4L406.3,92.4L405.3,91.7ZM407.4,144.0L407.1,144.5L407.4,144.6L407.6,144.5L407.4,144.0ZM417.3,104.1L417.1,104.1L417.3,104.1L418.4,105.0L418.8,104.1L418.4,103.9L417.3,104.1ZM419.5,156.8L418.9,157.5L419.5,157.9L419.9,157.5L419.5,156.8ZM426.0,113.6L425.2,114.5L424.9,114.7L424.0,115.8L423.8,116.0L422.7,117.1L422.7,117.2L421.9,118.4L421.9,119.7L422.7,120.4L423.8,120.9L424.3,121.0L424.9,121.2L426.0,121.3L427.1,121.4L427.8,121.0L428.2,120.8L428.7,119.7L429.1,118.4L429.2,117.1L429.0,115.8L428.3,114.5L428.2,114.4L427.1,113.6L426.0,113.6ZM450.0,162.7L449.9,162.7L449.1,164.0L450.0,165.1L450.1,165.3L451.1,166.0L452.2,166.2L453.0,165.3L452.5,164.0L452.2,163.8L451.1,163.1L450.1,162.7L450.0,162.7ZM465.3,38.9L465.3,39.0L465.3,39.0L466.4,39.0L466.6,39.0L466.4,38.9L465.3,38.9ZM502.4,30.6L501.9,31.1L501.3,31.9L501.1,32.4L501.3,33.8L501.3,33.8L502.4,34.4L503.5,34.6L504.6,34.8L505.7,34.9L506.8,34.6L507.4,33.8L506.8,32.8L506.5,32.4L505.7,32.0L504.7,31.1L504.6,31.0L503.5,30.4L502.4,30.6ZM507.9,20.5L507.7,20.7L507.9,21.0L508.7,22.0L509.0,22.1L510.1,22.3L511.2,22.1L511.4,22.0L511.2,20.7L511.2,20.7L510.1,20.4L509.0,20.2L507.9,20.5ZM511.2,5.0L511.0,5.1L510.1,5.9L509.7,6.4L509.8,7.7L510.1,8.2L510.6,9.0L511.2,10.1L511.3,10.3L511.8,11.6L512.2,12.9L512.2,12.9L512.8,14.2L513.3,15.4L513.4,15.5L513.9,16.8L514.4,17.9L515.0,18.1L515.5,18.2L516.5,18.1L516.6,18.1L517.7,17.8L518.8,17.4L519.6,16.8L519.9,16.1L520.1,15.5L520.2,14.2L520.0,12.9L519.9,12.3L519.7,11.6L518.8,10.3L518.8,10.3L517.7,9.8L516.6,9.4L516.0,9.0L515.5,8.2L515.4,7.7L514.8,6.4L514.4,5.7L513.9,5.1L513.3,4.5L512.2,4.5L511.2,5.0ZM535.2,77.9L534.9,78.0L534.1,79.3L534.1,79.3L534.1,79.5L534.7,80.7L535.2,80.9L536.1,80.7L536.3,80.6L536.6,79.3L536.3,78.2L535.9,78.0L535.2,77.9ZM539.5,61.0L539.3,61.1L538.5,61.7L538.3,62.4L538.1,63.7L538.0,65.0L537.9,66.3L538.5,67.4L539.3,66.3L539.5,66.2L540.2,65.0L540.6,64.3L541.0,63.7L540.9,62.4L540.6,62.1L539.6,61.1L539.5,61.0ZM542.8,50.7L542.8,50.7L542.1,52.0L542.3,53.3L542.8,53.7L543.9,54.4L545.0,54.5L545.3,53.3L545.3,52.0L545.0,50.9L544.9,50.7L543.9,50.2L542.8,50.7ZM549.4,108.0L549.0,108.0L548.3,108.1L547.2,108.5L546.1,109.0L545.5,109.3L545.0,109.7L544.3,110.6L543.9,111.9L543.9,112.2L543.8,113.2L543.6,114.5L543.6,115.8L543.9,117.1L543.9,117.1L545.0,118.0L546.1,118.4L546.2,118.4L547.2,119.0L548.0,119.7L547.8,121.0L547.6,122.3L548.0,123.6L548.3,124.1L548.8,124.9L549.4,125.7L550.3,126.2L550.5,126.3L551.5,126.4L552.6,126.4L553.2,126.2L553.7,126.0L554.4,124.9L554.7,123.6L554.8,122.3L554.6,121.0L554.2,119.7L554.0,118.4L554.2,117.1L554.1,115.8L553.7,114.8L553.7,114.5L553.5,113.2L553.4,111.9L553.1,110.6L552.6,110.0L552.0,109.3L551.5,108.9L550.5,108.3L549.5,108.0L549.4,108.0ZM14.4,71.1L13.5,71.5L13.4,72.5L13.3,72.8L13.4,72.9L14.4,74.0L14.8,74.1L15.5,74.3L16.2,74.1L16.6,74.0L17.6,72.8L17.6,71.5L16.6,71.0L15.5,70.9L14.4,71.1ZM19.9,80.2L19.5,80.7L19.1,82.0L19.9,82.6L20.9,83.3L21.0,83.3L21.3,83.3L22.1,82.5L22.1,82.0L22.1,81.8L21.5,80.7L21.0,79.9L19.9,80.2ZM22.1,47.7L21.5,48.1L21.8,49.4L22.1,49.6L23.2,50.0L24.3,49.6L24.4,49.4L24.3,49.2L23.4,48.1L23.2,48.0L22.1,47.7ZM33.0,32.2L32.6,32.4L31.9,33.1L31.0,33.8L30.8,33.8L29.7,34.4L28.7,35.1L28.6,35.1L27.7,36.4L27.6,36.7L27.2,37.7L27.3,39.0L27.6,39.2L28.6,39.5L29.6,39.0L29.7,38.9L30.8,37.7L30.8,37.6L31.5,36.4L31.9,35.2L32.0,35.1L32.9,33.8L33.0,33.6L33.2,32.4L33.0,32.2ZM40.6,56.7L39.6,57.2L39.6,57.3L39.0,58.5L39.1,59.8L39.6,60.7L39.9,61.1L40.6,61.9L41.7,62.1L42.7,61.1L42.8,61.0L43.9,59.9L44.1,59.8L44.8,58.5L43.9,57.3L43.8,57.2L42.8,56.9L41.7,56.6L40.6,56.7ZM73.4,28.5L73.2,28.5L72.3,28.9L71.2,29.5L70.7,29.8L70.4,31.1L70.8,32.4L71.2,33.2L71.6,33.8L72.3,34.2L73.4,34.6L74.5,35.0L74.7,35.1L75.6,35.4L76.7,35.8L77.8,36.0L78.9,35.9L79.9,35.5L80.9,35.1L81.0,35.0L82.1,34.2L82.6,33.8L83.2,32.7L83.4,32.4L83.3,31.1L83.2,31.1L82.5,29.8L82.1,29.2L81.3,28.5L81.0,27.5L80.0,27.8L79.3,28.5L78.9,28.6L78.4,28.5L77.8,28.4L76.7,28.2L75.6,28.1L74.5,28.2L73.4,28.5ZM286.3,176.9L286.1,177.1L285.4,178.4L286.3,179.2L287.4,179.6L288.5,179.6L289.6,178.5L289.6,178.4L289.7,177.1L289.6,176.8L288.5,176.0L287.4,176.2L286.3,176.9ZM329.9,54.4L329.9,54.6L329.9,54.8L331.0,54.8L331.2,54.6L331.0,54.2L329.9,54.4ZM334.3,29.6L334.1,29.8L333.2,30.9L333.0,31.1L332.2,32.4L332.1,32.5L331.5,33.8L331.2,35.1L331.0,36.0L331.0,36.4L330.9,37.7L331.0,39.0L331.0,39.5L331.1,40.3L331.4,41.6L332.1,42.7L332.3,42.9L333.2,43.5L334.3,43.5L335.4,43.1L335.7,42.9L336.5,42.4L337.6,41.6L337.7,41.6L338.7,40.6L339.1,40.3L339.4,39.0L338.8,37.7L338.7,37.4L338.2,36.4L337.7,35.1L337.6,34.2L337.5,33.8L337.5,32.4L337.3,31.1L336.7,29.8L336.5,29.6L335.4,29.1L334.3,29.6ZM350.7,44.5L350.5,45.5L350.7,45.7L351.3,45.5L350.7,44.5ZM380.2,59.4L379.7,59.8L379.1,60.6L378.9,61.1L378.9,62.4L379.1,62.9L379.4,63.7L380.2,64.9L381.2,64.7L381.5,63.7L381.6,62.4L381.4,61.1L381.2,60.7L380.5,59.8L380.2,59.4ZM385.6,89.6L385.2,89.8L384.5,90.1L383.4,90.7L382.3,91.1L382.3,91.1L381.2,91.4L380.2,91.6L379.1,92.1L378.8,92.4L379.1,92.6L380.1,93.7L380.2,93.7L381.2,93.9L382.3,93.8L383.4,93.8L384.5,93.7L385.3,93.7L385.6,93.6L386.7,93.0L387.1,92.4L387.4,91.1L386.7,89.8L386.7,89.8L385.6,89.6ZM417.3,115.7L417.1,115.8L416.2,116.7L415.8,117.1L416.1,118.4L416.2,118.5L417.3,118.6L417.7,118.4L418.4,117.6L418.6,117.1L418.4,116.6L417.6,115.8L417.3,115.7ZM428.2,161.9L427.5,162.7L427.6,164.0L428.2,165.0L429.3,164.5L429.4,164.0L429.3,163.7L428.8,162.7L428.2,161.9ZM514.4,41.5L514.3,41.6L513.3,42.2L512.6,42.9L512.2,43.4L512.0,44.2L512.2,45.0L513.3,45.2L514.4,44.6L514.9,44.2L515.5,43.1L515.6,42.9L515.8,41.6L515.5,41.2L514.4,41.5ZM519.9,28.3L519.6,28.5L518.8,29.3L518.5,29.8L518.3,31.1L518.6,32.4L518.8,32.9L519.6,33.8L519.9,34.0L521.0,34.5L522.1,35.0L522.1,35.1L523.2,35.8L523.7,36.4L524.3,37.3L524.5,37.7L525.1,39.0L525.4,39.5L525.7,40.3L526.4,41.3L526.6,41.6L527.5,42.4L528.6,42.9L528.6,42.9L529.7,43.0L530.0,42.9L530.8,42.5L531.9,41.6L531.9,41.6L532.8,40.3L532.9,39.0L532.2,37.7L531.9,37.4L530.8,36.4L530.7,36.4L529.7,35.5L529.2,35.1L528.9,33.8L528.7,32.4L528.6,32.2L527.7,31.1L527.5,31.1L526.4,31.0L525.4,30.9L524.3,30.6L523.4,29.8L523.2,29.7L522.1,28.6L521.9,28.5L521.0,28.1L519.9,28.3ZM538.5,120.9L538.1,121.0L538.5,121.6L538.6,121.0L538.5,120.9ZM23.2,65.3L22.3,66.3L22.8,67.6L23.2,68.0L24.3,68.2L24.8,67.6L24.9,66.3L24.3,65.6L23.2,65.3ZM28.6,81.4L27.6,82.0L27.6,82.0L26.7,83.3L27.0,84.6L27.6,85.0L28.6,85.7L29.0,85.9L29.7,86.2L30.8,86.4L31.9,86.3L33.0,85.9L33.0,85.9L33.6,84.6L33.0,83.7L32.7,83.3L31.9,82.8L31.0,82.0L30.8,81.9L29.7,81.4L28.6,81.4ZM39.6,79.5L38.9,80.7L38.8,82.0L39.5,83.3L39.6,83.3L39.6,83.3L40.6,82.0L40.5,80.7L39.6,79.5ZM41.7,161.5L41.3,162.7L41.2,164.0L41.5,165.3L41.7,165.5L42.7,166.6L42.8,166.7L43.9,167.8L44.1,167.9L45.0,168.5L46.1,168.9L47.2,168.4L47.5,167.9L47.6,166.6L47.2,165.6L47.1,165.3L46.1,164.0L46.1,164.0L45.0,163.2L44.1,162.7L43.9,162.6L42.8,161.8L41.7,161.5ZM73.4,43.8L73.0,44.2L73.1,45.5L73.4,46.1L74.5,45.9L74.9,45.5L74.8,44.2L74.5,44.0L73.4,43.8ZM77.8,85.8L77.6,85.9L76.9,87.2L77.4,88.5L77.8,88.9L78.9,89.0L79.4,88.5L79.4,87.2L78.9,86.4L78.0,85.9L77.8,85.8ZM83.2,59.8L83.1,59.8L82.1,60.3L81.2,61.1L81.0,61.4L80.6,62.4L80.5,63.7L80.9,65.0L81.0,65.3L81.6,66.3L82.1,66.9L82.8,67.6L83.2,68.1L84.0,68.9L84.3,69.5L84.7,70.2L84.7,71.5L84.5,72.8L84.3,74.1L84.6,75.4L85.4,76.3L85.9,76.7L86.5,77.2L87.6,78.0L87.6,78.0L88.7,78.8L89.7,79.3L89.8,79.4L90.9,80.2L91.6,80.7L92.0,81.4L92.4,82.0L92.6,83.3L93.0,83.7L94.1,83.7L94.5,83.3L94.6,82.0L94.7,80.7L95.1,79.3L95.2,79.1L95.6,78.0L96.0,76.7L96.3,75.4L96.3,75.1L96.5,74.1L96.6,72.8L97.1,71.5L97.4,71.0L97.9,70.2L98.5,69.4L98.8,68.9L98.8,67.6L98.5,66.8L98.4,66.3L97.8,65.0L97.4,63.7L97.4,63.7L96.9,62.4L96.3,61.1L96.3,61.1L95.2,60.2L94.1,60.7L93.7,61.1L93.0,61.5L92.0,61.8L90.9,61.6L89.8,61.2L89.5,61.1L88.7,60.6L87.6,60.2L86.5,59.9L86.1,59.8L85.4,59.6L84.3,59.6L83.2,59.8ZM514.4,94.8L514.3,95.0L513.9,96.3L513.6,97.6L513.5,98.9L513.6,100.2L514.1,101.5L514.4,101.8L515.5,102.4L516.6,102.4L517.7,102.1L518.7,101.5L518.8,101.4L519.8,100.2L519.9,99.9L520.2,98.9L520.1,97.6L519.9,97.1L519.5,96.3L518.8,95.3L518.5,95.0L517.7,94.2L516.6,93.7L515.5,93.8L514.4,94.8ZM518.8,63.3L518.0,63.7L517.7,63.9L517.2,65.0L517.2,66.3L517.7,67.2L518.2,67.6L518.8,67.9L519.9,67.8L520.1,67.6L520.3,66.3L520.2,65.0L519.9,64.3L519.4,63.7L518.8,63.3ZM33.0,107.9L32.0,108.0L31.9,108.0L30.8,108.6L29.7,109.3L29.7,109.3L28.6,110.5L28.6,110.6L28.3,111.9L28.3,113.2L27.6,113.5L27.1,113.2L26.5,112.9L25.4,112.6L24.3,112.4L23.2,112.3L22.1,112.4L21.0,112.7L20.0,113.2L19.9,113.2L18.8,113.6L17.7,113.8L16.6,114.1L15.9,114.5L15.5,114.8L14.7,115.8L14.4,116.9L14.4,117.1L14.4,117.6L14.6,118.4L15.5,119.7L15.5,119.8L16.6,120.1L17.7,120.3L18.8,120.8L19.1,121.0L19.9,121.6L20.8,122.3L21.0,122.5L22.1,123.3L22.9,123.6L23.2,123.8L24.3,124.0L25.4,123.8L25.7,123.6L26.5,123.1L27.1,122.3L27.5,121.0L27.6,120.7L27.8,119.7L28.4,118.4L28.6,118.0L29.7,117.7L30.5,118.4L30.8,118.7L31.7,119.7L31.9,119.9L33.0,120.6L34.1,120.9L34.7,121.0L35.2,121.1L35.6,121.0L36.0,119.7L35.4,118.4L35.2,117.9L34.9,117.1L34.6,115.8L34.6,114.5L34.8,113.2L35.2,111.9L35.2,111.3L35.2,110.6L35.2,110.5L34.7,109.3L34.1,108.6L33.1,108.0L33.0,107.9ZM84.3,89.5L84.0,89.8L83.2,90.5L82.7,91.1L82.1,92.3L82.1,92.4L81.6,93.7L81.2,95.0L81.1,96.3L81.4,97.6L82.1,98.8L82.2,98.9L82.8,100.2L83.2,100.8L83.7,101.5L84.3,102.1L85.4,102.8L85.4,102.8L86.5,102.9L86.8,102.8L87.6,102.5L88.7,101.7L88.9,101.5L89.8,100.8L90.7,100.2L90.9,100.1L92.0,99.0L92.1,98.9L92.7,97.6L93.0,96.3L92.7,95.0L92.0,94.0L91.7,93.7L90.9,92.8L90.4,92.4L89.8,91.4L89.5,91.1L88.9,89.8L88.7,89.4L87.6,88.9L86.5,88.9L85.4,89.1L84.3,89.5ZM210.7,1.2L210.9,1.2L212.0,1.2L213.1,1.2L214.2,1.2L215.3,1.2L216.4,1.2L216.7,1.2L216.4,1.3L215.3,1.5L214.2,1.7L213.1,2.0L212.0,2.3L210.9,1.6L210.7,1.2ZM226.3,1.2L227.3,1.2L228.4,1.2L229.5,1.2L230.6,1.2L231.7,1.2L232.8,1.2L233.9,1.2L235.0,1.2L235.8,1.2L235.2,2.5L235.0,2.9L234.3,3.8L233.9,4.6L233.5,5.1L233.3,6.4L233.9,7.3L234.3,7.7L235.0,8.1L236.1,8.7L236.4,9.0L237.2,9.9L237.4,10.3L237.2,11.6L237.2,11.6L236.1,11.8L235.0,11.9L233.9,12.1L232.8,12.1L231.7,12.0L230.6,12.2L229.5,12.9L229.5,12.9L228.4,13.8L227.9,14.2L227.3,14.6L226.2,15.1L225.3,15.5L225.1,15.6L224.1,16.4L223.7,16.8L223.1,18.1L223.0,18.8L222.6,19.4L221.9,19.8L220.8,19.8L219.8,19.4L219.7,19.3L219.0,18.1L218.8,16.8L219.0,15.5L219.4,14.2L219.7,13.7L220.3,12.9L220.8,12.7L221.9,12.5L223.0,12.4L224.1,12.0L224.5,11.6L225.1,11.1L226.1,10.3L226.2,10.2L227.3,9.4L228.0,9.0L228.4,8.7L229.4,7.7L229.5,7.4L229.8,6.4L229.5,6.1L229.0,5.1L228.4,4.6L227.6,3.8L227.3,3.5L226.6,2.5L226.3,1.2ZM400.9,1.2L400.9,1.2L402.0,1.2L403.1,1.2L404.2,1.2L405.3,1.2L406.4,1.2L407.4,1.2L408.5,1.2L409.0,1.2L409.6,1.8L410.2,2.5L410.7,3.4L410.9,3.8L411.3,5.1L411.3,6.4L410.9,7.7L410.7,8.0L409.8,9.0L409.6,9.3L408.5,9.4L408.0,9.0L407.4,8.8L406.4,7.9L406.1,7.7L405.3,6.9L404.2,6.6L403.1,7.1L402.7,7.7L402.2,9.0L402.0,9.4L401.5,10.3L400.9,10.9L399.8,11.3L398.7,11.0L397.7,10.3L397.6,10.2L396.7,9.0L396.7,7.7L397.6,7.3L398.7,6.6L399.0,6.4L399.8,5.6L400.2,5.1L400.6,3.8L400.7,2.5L400.9,1.2ZM430.2,2.5L430.4,2.1L430.8,1.2L431.5,1.2L432.6,1.2L433.6,1.2L434.2,1.2L434.7,1.8L435.3,2.5L435.5,3.8L435.6,5.1L435.5,6.4L435.3,7.7L434.8,9.0L434.7,9.1L434.0,10.3L433.6,11.0L433.3,11.6L432.7,12.9L432.6,13.9L432.4,14.2L431.5,15.4L430.8,14.2L430.4,13.9L429.8,12.9L429.3,11.9L429.2,11.6L428.9,10.3L428.9,9.0L428.9,7.7L429.0,6.4L429.3,5.2L429.3,5.1L429.8,3.8L430.2,2.5ZM462.7,2.5L463.1,1.6L463.3,1.2L464.2,1.2L465.3,1.2L466.4,1.2L467.0,1.2L466.6,2.5L466.4,2.6L465.3,2.6L464.2,2.6L463.1,2.6L462.7,2.5ZM21.9,3.8L22.1,3.7L22.3,3.8L22.1,4.1L21.9,3.8ZM547.5,3.8L548.3,2.7L549.4,2.9L550.2,3.8L550.5,4.8L550.5,5.1L550.5,5.2L549.4,5.7L548.3,5.2L548.1,5.1L547.5,3.8ZM243.7,5.1L243.7,5.1L244.8,4.0L245.9,3.8L247.0,3.9L248.1,4.1L249.2,4.4L250.2,4.8L250.7,5.1L251.3,5.4L252.4,6.0L253.5,6.4L253.5,6.4L254.6,6.7L255.7,6.7L256.8,6.4L256.8,6.4L257.9,6.0L259.0,5.5L260.1,5.3L261.2,5.7L262.3,6.3L262.6,6.4L263.4,6.7L264.4,7.6L264.5,7.7L264.4,9.0L264.4,9.0L263.4,9.8L262.3,10.3L262.3,10.3L261.2,11.3L260.9,11.6L260.7,12.9L260.8,14.2L261.0,15.5L260.8,16.8L260.2,18.1L260.1,18.3L259.5,19.4L259.0,20.4L258.8,20.7L258.3,22.0L257.9,22.9L257.6,23.3L256.8,24.3L255.7,24.3L254.6,23.9L253.5,23.6L252.7,23.3L252.4,23.3L251.7,22.0L251.3,20.8L251.3,20.7L251.2,19.4L251.3,18.1L251.3,17.3L251.4,16.8L251.6,15.5L251.9,14.2L251.6,12.9L251.3,12.7L250.2,11.6L250.2,11.6L249.2,10.6L248.4,10.3L248.1,10.1L247.0,9.9L245.9,9.7L244.8,9.2L244.6,9.0L244.0,7.7L243.7,6.5L243.7,6.4L243.7,5.1ZM418.2,5.1L418.4,5.0L419.5,4.6L419.9,5.1L420.3,6.4L420.5,7.7L420.6,8.1L420.6,9.0L420.6,9.5L420.5,10.3L419.9,11.6L419.5,12.1L418.4,12.9L418.3,12.9L417.3,13.1L416.2,12.9L416.2,12.9L415.1,12.1L414.8,11.6L414.9,10.3L415.1,9.8L415.2,9.0L415.7,7.7L416.2,6.8L416.5,6.4L417.3,5.6L418.2,5.1ZM446.7,5.1L446.8,5.1L446.8,5.1L446.8,5.1L446.7,5.1ZM212.1,7.7L213.1,6.7L214.2,6.8L215.3,7.4L215.8,7.7L216.4,8.4L216.9,9.0L217.1,10.3L216.4,11.6L216.4,11.6L215.3,12.5L214.2,12.8L213.1,12.2L212.7,11.6L212.0,10.3L212.0,10.3L211.8,9.0L212.0,7.9L212.1,7.7ZM443.1,9.0L443.5,8.8L444.6,8.2L445.7,8.0L446.5,9.0L446.8,9.4L447.4,10.3L447.8,11.0L448.9,11.5L450.0,11.6L451.1,11.6L452.2,11.6L452.2,11.6L453.3,12.8L453.3,12.9L453.3,13.0L452.2,13.9L451.1,13.6L450.0,13.4L448.9,13.1L448.4,12.9L447.8,12.3L446.8,12.3L445.7,12.7L445.5,12.9L444.6,13.5L443.8,14.2L443.5,14.4L442.4,14.6L441.9,14.2L441.3,13.5L441.1,12.9L441.0,11.6L441.3,10.6L441.4,10.3L442.4,9.4L443.1,9.0ZM445.3,24.6L445.7,24.6L446.1,24.6L446.8,24.8L447.8,25.0L448.2,24.6L448.9,24.4L449.5,24.6L449.2,25.9L448.9,26.1L447.8,26.2L446.8,27.2L446.8,27.3L445.7,28.2L445.0,28.5L444.6,28.7L444.2,28.5L443.5,27.9L443.3,27.2L443.4,25.9L443.5,25.8L444.6,24.7L445.3,24.6ZM218.3,25.9L218.6,25.5L219.7,25.6L220.0,25.9L220.8,27.0L220.9,27.2L221.3,28.5L221.5,29.8L221.5,31.1L221.2,32.4L220.8,33.0L219.7,33.7L218.6,33.5L217.6,32.4L217.5,32.2L217.2,31.1L217.1,29.8L217.3,28.5L217.5,27.7L217.7,27.2L218.3,25.9ZM241.4,29.8L241.5,29.7L242.0,29.8L242.6,30.7L242.7,31.1L242.6,31.4L241.5,31.8L241.2,31.1L241.4,29.8ZM434.6,29.8L434.7,29.5L435.1,29.8L435.1,31.1L434.7,31.5L434.5,31.1L434.6,29.8ZM213.0,36.4L213.1,36.3L214.2,36.3L215.2,36.4L215.3,36.4L216.4,36.5L217.5,37.0L218.1,37.7L218.6,38.4L218.8,39.0L219.2,40.3L218.6,41.4L217.5,41.5L216.4,41.3L215.3,41.3L214.2,41.4L213.5,41.6L213.1,41.7L212.2,41.6L212.0,41.3L212.0,40.3L212.0,40.0L212.2,39.0L212.2,37.7L213.0,36.4ZM553.9,182.3L554.8,181.1L554.8,182.3L554.8,183.6L554.8,183.8L554.4,183.6L553.9,182.3Z"/><path fill="#8c8cff" fill-rule="evenodd" d="M100.4,1.2L100.7,1.2L101.8,1.2L102.9,1.2L102.9,1.2L102.9,1.2L101.8,2.0L100.7,1.5L100.4,1.2ZM109.3,1.2L109.4,1.2L110.5,1.2L111.6,1.2L112.7,1.2L113.8,1.2L114.9,1.2L116.0,1.2L117.1,1.2L118.2,1.2L119.2,1.2L120.3,1.2L121.4,1.2L122.5,1.2L123.6,1.2L124.7,1.2L125.8,1.2L126.9,1.2L128.0,1.2L129.1,1.2L129.6,1.2L130.2,2.5L130.2,2.5L131.3,2.8L131.7,2.5L132.0,1.2L132.3,1.2L133.4,1.2L134.5,1.2L135.6,1.2L136.7,1.2L137.8,1.2L138.9,1.2L140.0,1.2L141.1,1.2L142.2,1.2L143.3,1.2L144.4,1.2L145.4,1.2L146.5,1.2L147.6,1.2L148.4,1.2L148.7,1.7L149.8,1.6L150.2,1.2L150.9,1.2L152.0,1.2L153.1,1.2L154.2,1.2L155.3,1.2L156.4,1.2L157.5,1.2L158.6,1.2L159.6,1.2L160.7,1.2L161.8,1.2L162.9,1.2L164.0,1.2L165.1,1.2L166.2,1.2L167.3,1.2L168.4,1.2L169.5,1.2L170.6,1.2L171.7,1.2L172.7,1.2L173.8,1.2L174.9,1.2L176.0,1.2L177.1,1.2L177.8,1.2L178.2,2.0L178.4,2.5L178.9,3.8L179.3,4.5L180.2,5.1L180.4,5.2L180.8,5.1L181.5,5.0L182.6,4.4L183.5,3.8L183.7,3.6L184.8,3.1L185.8,3.0L186.9,3.4L187.4,3.8L188.0,4.3L189.1,5.1L189.2,5.1L190.2,6.1L190.4,6.4L190.2,7.1L190.1,7.7L189.1,8.5L188.3,9.0L188.0,9.1L186.9,9.3L185.8,9.5L184.8,10.0L184.4,10.3L183.7,11.2L183.4,11.6L183.0,12.9L183.0,14.2L183.1,15.5L183.0,16.8L182.6,18.0L181.7,18.1L181.5,18.1L181.5,18.1L180.4,17.3L179.7,16.8L179.3,16.6L178.2,16.3L177.1,16.8L177.1,16.8L176.2,18.1L176.0,19.0L175.9,19.4L176.0,20.3L176.1,20.7L176.7,22.0L177.1,22.7L177.9,23.3L178.2,23.8L178.9,24.6L178.7,25.9L178.2,26.9L178.0,27.2L177.1,28.5L177.0,28.5L176.0,29.5L174.9,29.8L173.8,29.5L172.7,28.6L172.7,28.5L171.7,27.6L171.3,27.2L170.6,26.5L169.9,25.9L169.5,25.5L168.5,24.6L168.4,24.5L167.3,23.7L166.2,23.3L165.1,23.4L164.0,24.2L163.7,24.6L163.4,25.9L163.6,27.2L164.0,28.1L164.2,28.5L165.0,29.8L165.1,30.2L165.4,31.1L165.7,32.4L166.0,33.8L166.2,34.1L166.7,35.1L167.3,35.8L167.9,36.4L168.4,37.1L169.1,37.7L169.3,39.0L169.1,40.3L169.2,41.6L169.4,42.9L169.5,43.3L169.7,44.2L170.1,45.5L170.6,46.2L171.2,46.8L171.7,47.1L172.7,47.4L173.8,47.2L174.5,46.8L174.9,46.5L176.0,45.8L177.1,45.5L178.2,45.6L179.3,46.7L179.3,46.8L179.7,48.1L179.8,49.4L179.8,50.7L180.1,52.0L180.4,52.4L181.5,52.6L182.6,52.6L183.7,52.9L184.2,53.3L184.8,53.8L185.5,54.6L185.8,54.9L186.9,55.6L187.6,55.9L188.0,56.1L189.1,56.6L189.7,57.2L190.2,57.9L190.5,58.5L190.8,59.8L191.1,61.1L191.3,62.1L191.4,62.4L192.4,63.4L193.5,63.6L194.6,63.6L195.7,63.6L196.8,63.5L197.8,63.5L198.9,63.5L199.7,63.7L200.0,63.8L201.1,64.2L202.2,64.3L203.3,64.1L204.0,63.7L204.4,63.3L204.9,62.4L205.4,61.1L205.5,60.7L205.7,59.8L206.1,58.5L206.6,57.2L206.6,57.2L207.4,55.9L207.7,55.6L208.8,54.9L209.5,54.6L209.9,54.5L210.9,54.4L212.0,54.5L212.7,54.6L213.1,54.7L214.2,54.8L215.3,54.6L215.3,54.6L216.4,54.2L217.5,53.7L218.3,53.3L218.6,53.2L219.7,52.5L220.4,52.0L220.8,51.7L221.9,50.8L222.2,50.7L223.0,50.2L224.1,50.0L225.1,50.2L226.2,50.6L226.4,50.7L227.3,51.1L228.4,51.5L229.5,51.8L230.6,51.8L231.7,51.7L232.8,51.4L233.9,51.0L234.5,50.7L235.0,50.4L236.1,49.8L237.1,49.4L237.2,49.3L238.2,48.9L239.3,48.7L240.4,48.8L241.5,49.4L241.5,49.4L242.6,50.3L243.0,50.7L243.7,51.4L244.4,52.0L244.8,52.4L245.9,52.9L247.0,53.0L248.1,52.7L249.2,52.2L249.5,52.0L250.2,51.7L251.3,51.5L252.4,51.7L252.8,52.0L253.5,53.2L253.6,53.3L253.6,54.6L253.5,54.7L252.4,55.8L252.3,55.9L251.3,56.9L251.1,57.2L251.2,58.5L251.3,58.7L252.1,59.8L252.4,60.1L253.5,60.6L254.6,60.0L254.8,59.8L255.2,58.5L255.3,57.2L255.4,55.9L255.7,55.6L256.8,54.9L257.7,54.6L257.9,54.6L259.0,54.4L260.1,54.2L261.2,53.9L262.3,53.7L263.4,53.5L264.4,53.5L265.5,53.5L266.6,53.5L267.2,53.3L267.7,52.3L267.8,52.0L267.9,50.7L268.7,49.4L268.8,49.3L269.9,48.9L271.0,48.8L272.1,49.0L273.2,49.4L273.3,49.4L274.3,49.9L275.4,50.3L276.0,50.7L276.5,51.0L277.2,52.0L277.5,52.7L277.8,53.3L278.6,54.5L278.7,54.6L279.7,55.5L280.4,55.9L280.8,56.1L281.9,56.6L283.0,56.8L284.1,56.8L285.2,56.5L286.3,56.0L286.5,55.9L287.4,55.7L288.5,55.5L289.6,55.4L290.6,55.0L291.6,54.6L291.7,54.6L292.8,54.1L293.9,53.5L294.9,53.3L295.0,53.3L295.2,53.3L296.1,53.5L297.2,54.1L297.9,54.6L298.3,55.6L298.4,55.9L298.3,56.2L298.1,57.2L297.9,58.5L298.3,59.7L298.3,59.8L299.4,60.4L300.5,60.6L301.6,60.6L302.6,60.8L303.0,61.1L303.7,61.9L304.1,62.4L304.8,63.4L305.5,63.7L305.9,63.9L306.4,63.7L307.0,63.5L308.1,63.0L309.2,62.5L309.4,62.4L310.3,62.1L311.4,61.5L311.8,61.1L312.5,60.3L313.2,59.8L313.6,59.6L314.0,59.8L314.7,60.5L314.8,61.1L314.8,62.4L314.7,63.0L314.5,63.7L314.5,65.0L314.7,65.5L315.2,66.3L315.8,66.7L316.8,66.6L317.3,66.3L317.9,65.9L319.0,65.0L319.0,65.0L320.1,64.3L321.2,63.8L321.3,63.7L322.3,63.4L323.4,63.2L324.5,63.0L325.5,62.4L325.6,62.4L326.7,61.1L326.7,61.1L327.8,60.3L328.9,60.2L329.9,60.2L331.0,60.2L332.1,60.1L332.6,59.8L333.2,59.2L333.7,58.5L334.3,57.9L335.4,57.2L336.5,57.4L337.2,58.5L337.3,59.8L336.9,61.1L336.5,61.6L335.4,62.0L334.6,62.4L334.3,63.1L334.2,63.7L334.3,64.4L334.7,65.0L335.4,65.3L335.8,65.0L336.5,64.3L336.9,63.7L337.6,62.7L338.0,62.4L338.7,62.1L339.8,61.9L340.9,61.9L341.9,62.1L343.0,62.3L344.1,62.2L344.7,61.1L344.8,59.8L344.8,58.5L345.0,57.2L345.2,56.7L345.5,55.9L346.3,54.7L346.4,54.6L347.4,53.8L348.1,53.3L348.5,53.0L349.6,52.0L349.6,52.0L350.7,51.1L351.6,50.7L351.8,50.6L352.9,50.3L354.0,50.1L355.1,50.0L356.1,50.3L356.4,50.7L357.2,51.8L357.3,52.0L358.3,53.1L358.6,53.3L359.4,53.8L360.5,54.1L361.6,54.3L362.7,54.4L363.6,54.6L363.8,54.6L364.9,55.0L365.9,55.9L366.0,56.2L366.0,57.2L366.0,57.7L365.8,58.5L365.4,59.8L364.9,60.5L364.2,61.1L363.8,61.3L362.7,62.2L362.5,62.4L361.7,63.7L362.0,65.0L362.7,65.4L363.8,65.7L364.8,66.3L364.9,66.4L365.6,67.6L366.0,68.6L366.1,68.9L366.5,70.2L367.1,71.1L368.1,71.5L369.2,71.0L369.8,70.2L370.3,68.9L370.3,68.6L370.5,67.6L370.8,66.3L371.3,65.0L371.4,64.9L372.5,64.1L373.6,63.8L374.2,63.7L374.7,63.7L374.9,63.7L375.8,64.2L376.2,65.0L376.6,66.3L376.6,67.6L376.4,68.9L376.3,70.2L376.1,71.5L375.9,72.8L375.8,73.0L375.5,74.1L374.8,75.4L374.7,75.6L373.9,76.7L373.6,77.2L372.8,78.0L372.5,78.5L371.5,79.3L371.4,79.4L370.3,79.8L369.2,80.2L368.7,80.7L368.1,81.5L368.0,82.0L368.0,83.3L368.1,84.6L368.0,85.9L367.6,87.2L367.1,88.4L367.0,88.5L366.7,89.8L367.1,91.0L367.1,91.1L368.1,91.6L369.2,91.6L370.3,91.2L370.8,91.1L371.4,89.8L371.1,88.5L371.3,87.2L371.4,86.9L372.3,85.9L372.5,85.7L373.5,84.6L373.6,84.4L374.7,83.3L374.8,83.3L375.8,82.8L376.9,82.1L377.0,82.0L378.0,81.0L378.4,80.7L379.1,80.1L380.2,79.4L380.3,79.3L381.2,78.6L381.9,78.0L382.3,77.4L383.4,77.5L383.8,78.0L384.2,79.3L384.5,80.6L384.5,80.7L384.8,82.0L385.1,83.3L385.3,84.6L385.2,85.9L384.5,87.1L384.5,87.2L383.4,88.1L382.7,88.5L382.3,88.7L381.2,88.9L380.2,88.8L379.1,88.6L378.5,88.5L378.0,88.3L376.9,88.2L375.8,88.4L375.7,88.5L374.7,89.0L373.6,89.8L373.6,89.8L372.7,91.1L373.2,92.4L373.6,92.8L374.1,93.7L374.7,94.6L374.9,95.0L375.7,96.3L375.8,96.4L376.9,97.2L378.0,97.2L379.1,96.9L380.2,96.6L381.2,96.3L381.5,96.3L382.3,96.1L383.4,95.9L384.5,95.9L385.6,95.9L386.7,95.9L387.8,95.9L388.9,96.0L390.0,96.3L390.0,96.3L391.1,97.6L391.1,97.6L391.6,98.9L392.0,100.2L392.2,100.9L392.3,101.5L392.7,102.8L393.3,104.1L393.3,104.1L394.4,105.1L395.1,105.4L395.4,105.5L396.5,105.7L397.6,105.9L398.7,106.1L399.8,106.7L399.9,106.7L400.9,108.0L400.9,108.0L401.5,109.3L401.6,110.6L401.1,111.9L400.9,112.2L400.0,113.2L399.8,113.3L398.7,113.7L397.6,113.8L396.5,113.7L395.4,113.7L394.4,114.0L393.4,114.5L393.3,114.7L392.2,115.6L391.1,115.8L391.1,115.9L391.0,115.8L390.0,115.5L388.9,114.8L388.6,114.5L387.8,113.9L386.7,113.3L386.6,113.2L385.6,113.0L384.5,112.9L383.4,112.8L382.3,112.3L381.8,111.9L381.2,111.7L380.2,111.1L379.3,110.6L379.1,110.5L378.0,110.0L376.9,109.6L375.8,109.7L374.7,110.0L373.6,110.5L373.4,110.6L372.5,111.3L371.8,111.9L371.4,112.3L370.6,113.2L370.3,113.6L369.8,114.5L369.2,115.5L369.0,115.8L368.1,116.8L367.7,117.1L367.1,117.5L366.0,118.0L365.5,118.4L365.1,119.7L366.0,120.8L366.6,121.0L367.1,121.1L368.1,121.2L369.2,121.5L370.3,122.0L371.4,122.3L372.5,122.1L373.6,121.8L374.7,121.3L375.3,121.0L375.8,120.8L376.9,120.3L378.0,119.9L378.4,119.7L379.1,119.4L380.2,118.8L381.0,118.4L381.2,118.3L382.3,118.1L383.4,118.2L384.5,118.4L384.5,118.4L385.6,118.6L386.7,118.9L387.8,119.1L388.9,119.5L389.2,119.7L390.0,120.4L390.4,121.0L391.1,122.0L391.5,122.3L392.2,122.6L393.3,122.4L393.4,122.3L394.4,121.8L395.4,121.3L395.8,121.0L396.5,120.7L397.6,120.4L398.7,120.6L399.4,121.0L399.8,121.2L400.9,121.9L402.0,122.2L403.1,121.8L404.2,121.1L404.3,121.0L405.3,120.2L406.0,119.7L406.4,119.5L407.4,119.1L408.5,118.8L409.6,118.7L410.7,119.7L410.7,119.8L411.4,121.0L411.8,121.5L412.8,122.3L412.9,122.4L414.0,122.4L414.1,122.3L415.1,122.0L416.2,121.7L417.3,121.8L418.4,122.3L418.5,122.3L419.5,123.0L420.6,123.5L421.4,123.6L421.6,123.7L422.7,124.0L423.8,124.9L423.8,124.9L423.8,125.2L423.8,126.2L423.3,127.6L422.9,128.9L423.2,130.2L423.8,130.5L424.9,130.6L426.0,130.6L427.1,130.2L427.1,130.2L427.6,128.9L428.2,127.8L428.3,127.6L429.3,126.3L429.3,126.2L430.0,124.9L430.4,123.8L430.4,123.6L430.6,122.3L430.8,121.0L431.1,119.7L431.4,118.4L431.5,118.1L431.7,117.1L431.7,115.8L431.5,114.5L431.5,114.5L431.0,113.2L430.4,111.9L430.4,111.7L429.6,110.6L429.3,110.3L428.2,109.8L427.1,109.5L426.6,109.3L426.0,109.1L424.9,108.5L424.3,108.0L423.8,107.3L423.4,106.7L422.9,105.4L422.7,105.0L422.3,104.1L421.6,103.0L421.5,102.8L420.6,101.7L420.3,101.5L419.5,100.9L418.4,100.5L417.3,100.4L416.2,100.2L416.2,100.2L415.1,100.0L414.0,100.0L413.3,100.2L412.9,100.4L411.9,101.5L411.8,101.7L411.3,102.8L411.1,104.1L411.2,105.4L411.5,106.7L411.8,108.0L411.8,108.7L412.0,109.3L412.9,109.8L414.0,109.5L415.1,109.5L416.2,110.3L416.4,110.6L416.2,111.5L416.1,111.9L415.4,113.2L415.1,113.6L414.0,114.5L413.7,114.5L412.9,114.6L412.7,114.5L411.9,113.2L411.8,112.5L411.4,111.9L410.7,111.6L410.4,111.9L409.6,112.4L408.5,113.0L407.9,113.2L407.4,113.4L406.4,113.4L405.5,113.2L405.3,113.1L404.2,112.2L403.9,111.9L403.6,110.6L404.1,109.3L404.2,109.3L405.3,108.2L405.6,108.0L406.4,107.6L407.4,107.0L407.9,106.7L408.5,106.0L409.1,105.4L409.2,104.1L408.9,102.8L408.6,101.5L409.0,100.2L409.6,98.9L409.6,98.9L410.1,97.6L410.1,96.3L409.8,95.0L409.6,94.6L409.3,93.7L408.8,92.4L408.5,91.8L408.2,91.1L407.8,89.8L407.4,89.0L407.1,88.5L406.4,87.5L405.7,87.2L405.3,87.0L404.5,87.2L404.2,87.3L403.1,88.2L402.8,88.5L402.0,89.1L400.9,89.4L399.8,89.4L398.7,89.5L398.1,89.8L397.6,90.0L396.6,91.1L396.5,91.2L395.8,92.4L395.4,93.0L394.4,93.0L393.6,92.4L393.3,91.1L393.3,91.0L392.6,89.8L392.2,89.5L391.1,88.5L391.1,88.5L390.0,87.4L389.8,87.2L389.0,85.9L388.9,85.2L388.7,84.6L388.7,83.3L388.8,82.0L388.6,80.7L388.2,79.3L388.0,78.0L388.1,76.7L388.3,75.4L388.4,74.1L388.6,72.8L388.5,71.5L387.8,70.3L387.7,70.2L386.7,70.0L385.6,69.8L384.5,69.4L384.1,68.9L383.6,67.6L383.4,66.3L383.4,66.1L383.4,65.0L383.4,63.7L383.4,62.4L383.3,61.1L383.1,59.8L383.0,58.5L382.9,57.2L383.1,55.9L383.2,54.6L383.1,53.3L383.0,52.0L383.4,50.7L383.4,50.7L384.5,50.2L385.6,50.2L386.7,50.6L387.0,50.7L387.8,51.0L388.9,51.2L390.0,51.3L391.1,51.4L392.2,51.5L393.3,51.5L394.4,51.6L395.4,51.9L395.7,52.0L396.5,52.7L397.6,52.8L398.2,52.0L398.7,51.2L399.0,50.7L399.2,49.4L398.7,48.8L398.3,48.1L397.6,47.3L397.4,46.8L396.9,45.5L396.8,44.2L397.0,42.9L397.6,41.8L398.0,41.6L398.7,41.2L399.8,41.0L400.9,41.1L402.0,41.5L402.0,41.6L403.1,42.1L404.2,41.9L404.6,41.6L405.3,41.1L406.2,40.3L406.4,40.0L407.4,39.0L407.4,38.6L408.5,38.1L409.6,38.7L410.0,39.0L410.7,39.5L411.3,40.3L411.8,41.2L412.1,41.6L412.8,42.9L412.7,44.2L411.8,44.8L411.4,45.5L410.7,46.5L410.6,46.8L410.6,48.1L410.7,48.2L411.8,48.6L412.9,48.5L413.7,48.1L414.0,47.7L415.1,46.8L415.1,46.7L416.2,45.5L416.2,45.4L416.6,44.2L417.3,43.8L418.4,43.3L419.5,43.8L419.9,44.2L420.5,44.6L421.6,45.2L422.7,45.4L423.3,45.5L423.8,45.5L424.5,45.5L424.9,45.4L426.0,45.3L426.2,45.5L427.1,46.2L427.3,46.8L428.2,48.0L428.2,48.1L429.3,49.2L429.5,49.4L430.4,50.0L431.5,50.7L431.5,50.7L432.6,51.3L433.6,51.8L434.0,52.0L434.7,52.2L435.8,52.5L436.9,52.7L438.0,52.8L439.1,52.8L440.2,52.8L441.3,52.6L442.4,52.4L443.5,52.1L443.9,52.0L444.6,51.8L445.7,51.6L446.8,51.1L447.1,50.7L447.3,49.4L447.5,48.1L447.8,46.8L447.8,46.6L448.3,45.5L448.9,44.2L448.9,44.0L449.7,42.9L450.0,42.4L451.0,41.6L451.1,41.5L452.2,41.1L453.3,41.0L454.4,41.0L455.5,41.0L456.6,41.0L457.7,41.0L458.8,41.0L459.9,41.1L460.8,41.6L460.9,41.6L462.0,42.4L462.7,42.9L463.1,43.1L464.2,43.4L465.3,43.3L466.4,43.0L467.5,42.9L467.5,42.9L467.5,42.9L468.6,43.5L469.3,44.2L469.7,44.6L470.8,45.2L471.9,45.3L472.9,45.3L474.0,45.1L475.1,44.6L475.6,44.2L476.2,42.9L476.2,42.8L476.3,41.6L476.2,40.3L476.2,40.3L476.1,39.0L476.2,37.7L476.2,37.5L476.6,36.4L477.2,35.1L477.3,34.9L478.4,34.1L479.5,34.3L480.6,35.0L481.4,35.1L481.7,35.1L481.7,35.1L482.8,34.3L483.1,33.8L483.0,32.4L482.8,32.2L481.7,31.3L480.6,31.1L479.5,31.3L479.3,31.1L478.4,30.9L477.8,29.8L477.3,29.2L477.0,28.5L476.7,27.2L477.0,25.9L477.3,25.4L477.8,24.6L478.4,23.9L478.8,23.3L479.5,22.5L480.1,22.0L480.6,21.7L481.7,21.6L482.8,21.7L483.9,21.9L484.2,22.0L485.0,22.3L486.0,22.8L486.8,23.3L487.1,23.8L487.6,24.6L487.9,25.9L488.2,27.0L488.4,27.2L489.3,27.9L490.4,28.2L491.5,28.0L492.6,27.7L493.7,27.6L494.8,27.7L495.9,28.0L497.0,28.4L497.2,28.5L498.1,29.3L498.5,29.8L498.7,31.1L498.6,32.4L498.6,33.8L498.6,35.1L498.9,36.4L499.1,36.9L499.7,37.7L500.2,38.8L500.3,39.0L500.5,40.3L500.9,41.6L501.3,42.4L501.6,42.9L502.4,44.1L502.5,44.2L502.6,45.5L502.4,45.8L501.3,46.1L500.2,45.9L499.1,45.7L498.2,45.5L498.1,45.5L497.0,45.2L495.9,45.0L494.8,45.3L494.5,45.5L493.7,46.2L493.2,46.8L492.6,48.0L492.4,48.1L491.5,48.5L490.4,49.0L490.1,49.4L489.3,50.1L488.9,50.7L488.2,51.9L488.2,52.0L487.1,53.3L487.1,53.3L486.1,53.8L485.0,54.0L483.9,54.3L483.0,54.6L482.8,54.7L481.7,55.2L480.6,55.3L479.5,55.3L478.4,55.7L478.3,55.9L477.3,56.6L476.6,57.2L476.2,57.6L475.1,58.4L475.1,58.5L474.4,59.8L474.0,60.8L474.0,61.1L473.4,62.4L473.0,63.1L472.3,63.7L472.1,65.0L472.9,65.9L474.0,66.2L475.1,65.7L476.2,65.0L476.2,65.0L477.3,64.3L478.3,63.7L478.4,63.6L479.4,62.4L479.5,62.3L480.4,61.1L480.6,60.8L481.7,60.0L482.8,59.9L483.9,60.6L484.5,61.1L485.0,61.5L485.8,62.4L486.1,62.8L486.7,63.7L487.1,64.9L487.3,65.0L488.2,65.6L489.3,65.2L489.6,65.0L490.4,64.3L491.5,63.7L491.5,63.7L492.6,63.6L493.7,63.6L494.8,63.5L495.9,63.2L497.0,62.7L498.1,62.6L499.1,62.9L500.0,63.7L499.9,65.0L500.2,65.7L501.0,66.3L501.3,66.4L502.4,66.4L503.5,66.5L504.6,66.7L505.7,66.7L506.8,66.7L507.9,66.7L509.0,66.5L509.1,66.3L509.4,65.0L509.5,63.7L509.8,62.4L510.1,61.2L510.1,61.1L510.7,59.8L511.2,59.0L511.7,58.5L512.2,57.7L512.5,57.2L512.7,55.9L512.4,54.6L512.2,54.3L511.9,53.3L511.8,52.0L512.0,50.7L512.2,50.3L512.7,49.4L513.3,48.7L514.0,48.1L514.4,47.8L515.5,47.1L515.9,46.8L516.6,46.2L517.5,45.5L517.7,45.3L518.8,44.7L519.9,44.9L521.0,45.2L522.1,45.3L523.2,45.2L524.1,45.5L524.3,45.5L525.4,46.4L525.8,46.8L526.4,47.6L527.5,48.0L528.0,48.1L528.4,49.4L527.5,49.8L526.4,50.5L526.4,50.7L525.4,51.4L524.6,52.0L524.3,52.1L523.2,52.6L522.1,53.0L521.5,53.3L521.0,53.6L519.9,54.4L519.6,54.6L518.8,55.5L518.5,55.9L517.8,57.2L517.7,57.3L517.0,58.5L516.6,59.1L516.0,59.8L515.5,60.5L515.2,61.1L514.6,62.4L514.4,62.9L514.1,63.7L513.7,65.0L513.5,66.3L513.4,67.6L513.5,68.9L513.3,69.5L512.3,68.9L512.2,68.9L511.2,68.6L510.3,68.9L510.1,69.1L509.9,70.2L509.8,71.5L509.9,72.8L510.1,73.6L510.3,74.1L511.2,75.2L512.2,75.3L513.3,74.3L513.4,74.1L513.7,72.8L513.6,71.5L513.5,70.2L514.4,69.6L515.5,70.2L515.6,70.2L516.6,70.9L517.4,71.5L517.7,71.8L518.8,72.8L518.8,72.9L519.9,73.2L521.0,73.0L521.3,72.8L522.1,72.5L523.2,71.9L524.1,71.5L524.3,71.4L525.4,70.5L525.8,70.2L525.8,68.9L525.4,68.1L525.2,67.6L524.7,66.3L524.3,65.4L524.1,65.0L523.4,63.7L523.2,63.4L522.6,62.4L522.1,61.1L523.2,59.8L523.6,59.8L524.3,59.8L524.3,59.8L525.4,60.1L526.4,60.4L527.5,60.4L528.6,59.9L529.0,59.8L529.7,59.7L530.3,59.8L529.7,61.1L529.7,61.1L528.9,62.4L528.6,62.8L528.3,63.7L528.0,65.0L527.7,66.3L527.6,67.6L527.5,68.0L527.4,68.9L527.5,69.7L527.6,70.2L528.2,71.5L528.6,72.2L529.0,72.8L529.2,74.1L529.0,75.4L528.9,76.7L529.0,78.0L529.3,79.3L529.7,80.7L529.7,80.8L530.0,82.0L530.2,83.3L529.9,84.6L529.7,85.1L529.4,85.9L529.1,87.2L529.4,88.5L529.7,88.8L530.8,89.6L531.1,89.8L531.9,90.2L533.0,90.9L533.5,91.1L533.8,92.4L533.5,93.7L533.1,95.0L533.0,96.2L533.0,96.3L533.0,96.3L533.2,97.6L533.5,98.9L533.7,100.2L533.8,101.5L534.0,102.8L534.1,102.9L535.1,104.1L535.2,104.2L536.3,104.5L537.4,104.9L538.0,105.4L538.5,105.9L538.9,106.7L539.1,108.0L539.2,109.3L539.5,110.6L539.6,110.6L540.3,111.9L540.6,112.9L540.7,113.2L540.6,113.5L540.0,114.5L539.5,114.9L538.5,114.6L538.3,114.5L537.4,114.1L536.3,114.3L536.0,114.5L535.2,115.1L534.5,115.8L534.1,116.5L533.7,117.1L533.5,118.4L533.4,119.7L533.2,121.0L533.0,122.1L532.9,122.3L533.0,123.0L533.1,123.6L534.1,124.3L534.9,124.9L535.2,125.1L536.3,125.8L537.4,126.2L538.3,126.2L538.5,126.3L538.5,126.2L539.5,125.7L540.4,124.9L540.6,124.8L541.7,124.1L542.8,123.7L543.9,123.8L545.0,124.4L545.5,124.9L546.1,125.9L546.3,126.2L546.7,127.6L547.0,128.9L547.2,129.4L548.3,130.2L549.4,130.1L550.5,130.0L551.5,130.1L551.6,130.2L552.6,130.6L553.7,131.0L554.8,131.2L554.8,131.5L554.8,132.8L554.8,134.1L554.8,135.4L554.8,136.7L554.8,138.0L554.8,139.3L554.8,140.6L554.8,141.9L554.8,143.2L554.8,144.5L554.8,145.8L554.8,147.1L554.8,148.4L554.8,149.7L554.8,151.0L554.8,152.3L554.7,152.3L553.7,153.2L553.5,153.6L552.6,154.8L552.5,154.9L551.5,155.7L550.5,155.9L549.4,155.8L548.3,155.6L547.2,155.6L546.1,155.8L545.0,156.2L545.0,156.2L543.9,156.8L542.8,157.5L542.8,157.5L542.1,158.8L541.8,160.1L541.7,160.5L541.6,161.4L541.4,162.7L541.3,164.0L541.1,165.3L540.7,166.6L540.6,166.9L539.8,167.9L539.5,168.2L538.5,168.8L537.4,169.2L537.3,169.2L536.3,170.0L535.6,170.5L535.2,170.9L534.1,171.2L533.0,171.2L531.9,171.1L530.8,171.0L529.7,171.0L528.6,170.9L527.5,170.5L527.5,170.5L526.4,169.8L525.4,169.3L524.3,169.3L523.2,169.6L522.1,169.8L521.0,169.8L519.9,169.5L518.8,169.2L518.8,169.2L517.7,169.2L517.3,169.2L516.6,169.4L515.5,170.0L514.8,170.5L514.4,170.9L513.5,171.8L513.3,172.0L512.2,172.6L511.2,172.6L510.1,172.1L509.5,171.8L509.0,171.5L507.9,171.0L506.8,170.7L505.7,170.6L504.6,170.6L503.5,170.6L503.4,170.5L502.4,170.3L501.3,170.0L500.2,169.9L499.1,170.4L499.0,170.5L498.1,171.7L497.9,171.8L497.0,173.1L496.9,173.1L495.9,173.9L494.8,174.2L493.7,174.4L493.1,174.4L492.6,174.5L491.5,174.6L490.4,174.5L490.4,174.4L489.3,174.2L488.2,174.0L487.1,173.9L486.1,173.9L485.0,174.0L483.9,174.2L483.5,174.4L482.8,174.9L481.8,175.8L481.7,175.9L480.6,177.1L480.6,177.1L479.5,178.4L479.5,178.4L478.4,179.6L478.3,179.7L477.3,180.3L476.2,180.7L475.1,180.5L474.0,179.9L473.8,179.7L473.0,178.7L472.7,178.4L471.9,177.4L471.4,177.1L470.8,176.7L469.7,176.4L468.6,176.3L467.5,176.2L466.4,175.9L466.0,175.8L465.3,175.4L464.4,174.4L464.2,174.1L463.7,173.1L463.6,171.8L463.7,170.5L464.0,169.2L464.1,167.9L463.6,166.6L463.1,166.1L462.0,166.0L460.9,166.5L460.9,166.6L460.1,167.9L459.9,168.7L459.5,169.2L458.8,169.8L457.7,169.8L456.6,169.3L456.6,169.2L456.4,167.9L456.5,166.6L456.6,166.2L456.7,165.3L456.6,165.1L456.3,164.0L455.5,163.1L455.1,162.7L454.4,162.0L453.8,161.4L453.3,160.3L453.2,160.1L453.3,158.9L453.3,158.8L454.1,157.5L454.4,157.2L455.5,156.3L455.7,156.2L456.6,155.4L457.1,154.9L456.8,153.6L456.6,153.5L455.5,152.6L455.1,152.3L454.4,151.8L453.3,151.4L452.2,151.5L451.1,152.0L450.0,151.9L448.9,151.0L448.9,151.0L448.2,149.7L447.8,149.0L447.3,148.4L446.8,148.0L445.7,147.6L444.6,147.3L443.9,147.1L443.5,146.9L442.4,145.8L442.3,145.8L441.4,144.5L441.3,144.4L440.4,143.2L440.2,142.9L439.4,141.9L439.1,141.4L438.2,140.6L438.0,140.4L436.9,140.1L435.8,140.3L435.0,140.6L434.7,140.7L433.6,141.8L433.6,141.9L433.4,143.2L433.5,144.5L433.6,145.6L433.7,145.8L433.6,146.2L433.1,147.1L432.6,147.5L432.2,148.4L432.6,148.9L433.0,149.7L433.4,151.0L433.6,151.7L433.8,152.3L434.2,153.6L434.7,154.9L434.7,154.9L435.4,156.2L435.8,157.4L435.9,157.5L436.1,158.8L436.3,160.1L436.3,161.4L435.8,162.5L434.7,162.2L433.6,161.7L433.1,161.4L432.6,161.2L431.5,160.3L431.3,160.1L430.4,158.9L430.3,158.8L429.5,157.5L429.3,157.3L428.2,156.4L427.9,156.2L427.1,155.7L426.0,155.2L425.6,154.9L424.9,154.0L424.7,153.6L424.5,152.3L424.6,151.0L424.3,149.7L423.9,148.4L423.8,148.1L423.5,147.1L423.1,145.8L422.7,144.6L422.3,144.5L421.6,144.4L421.4,144.5L420.6,144.9L419.5,145.7L419.4,145.8L418.8,147.1L418.6,148.4L418.4,149.2L418.2,149.7L417.3,150.7L416.8,151.0L416.2,151.5L415.1,152.3L415.1,152.3L414.0,153.2L412.9,153.5L411.8,153.4L410.7,153.4L410.3,153.6L409.6,154.2L409.4,154.9L409.0,156.2L409.0,157.5L409.1,158.8L409.3,160.1L409.4,161.4L409.6,162.6L409.7,162.7L410.7,163.8L411.0,164.0L411.8,164.7L412.4,165.3L412.9,166.1L413.2,166.6L413.5,167.9L413.3,169.2L412.9,169.8L412.0,170.5L411.8,170.7L410.7,171.1L409.6,171.1L408.5,170.9L407.4,170.8L406.4,170.9L405.3,171.1L404.2,171.4L403.1,170.8L402.9,170.5L402.0,169.6L401.5,169.2L400.9,169.0L399.8,168.8L398.7,168.8L397.6,168.8L396.5,169.2L396.5,169.2L395.4,170.3L395.3,170.5L394.4,171.7L394.2,171.8L393.3,172.7L392.2,173.0L391.1,172.6L390.0,171.9L389.8,171.8L388.9,171.6L387.8,171.7L387.3,171.8L386.7,172.1L385.6,172.7L384.9,173.1L384.5,173.4L383.4,174.0L382.3,174.4L382.2,174.4L381.2,174.9L380.2,175.5L379.3,175.8L379.1,175.8L378.9,175.8L378.0,175.5L377.0,174.4L376.9,174.3L375.8,173.4L375.4,173.1L374.7,172.9L373.6,172.9L372.5,173.0L372.2,173.1L371.4,173.5L370.3,174.0L369.2,174.3L368.1,174.3L367.1,174.1L366.0,173.8L364.9,173.5L363.8,173.1L363.8,173.1L362.7,172.9L361.6,172.7L360.5,172.5L359.4,172.5L358.3,172.5L357.2,172.5L356.1,172.5L355.1,172.3L354.0,171.9L353.8,171.8L352.9,171.6L351.8,171.5L350.7,171.6L349.6,171.8L349.6,171.8L348.5,172.9L348.3,173.1L347.6,174.4L347.4,174.7L346.3,175.7L345.2,175.6L344.1,175.0L343.3,174.4L343.0,174.3L341.9,173.6L341.2,173.1L340.9,173.0L339.8,172.8L338.7,172.7L337.6,172.8L336.5,173.1L336.0,173.1L335.4,173.2L334.3,173.2L334.1,173.1L333.2,172.9L332.1,172.5L331.0,172.6L330.5,173.1L329.9,173.7L329.5,174.4L328.9,175.2L328.2,175.8L327.8,176.1L326.7,176.6L325.6,176.8L324.5,176.8L323.4,176.6L322.3,176.3L321.2,176.2L320.1,176.3L319.0,176.5L317.9,176.9L316.8,176.9L315.8,176.4L315.1,175.8L314.7,175.0L314.4,174.4L313.6,173.1L313.6,173.1L312.5,172.4L311.4,172.6L310.8,173.1L310.3,174.0L310.1,174.4L309.9,175.8L309.7,177.1L309.2,177.9L308.9,178.4L308.1,179.0L307.0,179.6L306.9,179.7L305.9,180.1L304.8,180.5L303.7,180.9L303.6,181.0L302.6,181.1L301.6,181.2L300.5,181.4L299.4,181.7L298.3,182.1L297.7,182.3L297.2,182.4L296.6,182.3L296.1,181.9L295.7,181.0L295.9,179.7L295.9,178.4L295.6,177.1L295.0,175.8L295.0,175.7L293.9,174.8L293.3,174.4L292.8,174.2L291.7,173.8L290.6,173.4L289.7,173.1L289.6,173.1L289.2,173.1L288.5,173.2L287.4,173.7L286.3,174.3L286.1,174.4L285.2,175.1L284.3,175.8L284.1,175.9L283.0,176.8L282.6,177.1L281.9,177.5L280.8,178.2L280.4,178.4L279.7,178.8L278.6,179.4L277.6,179.7L277.5,179.7L277.3,179.7L276.4,179.5L275.4,178.8L274.8,178.4L274.3,178.0L273.2,177.5L272.1,177.2L271.0,177.4L269.9,178.0L269.5,178.4L268.8,179.0L267.9,179.7L267.7,179.8L266.6,179.8L266.4,179.7L265.5,179.1L265.0,178.4L264.5,177.1L264.4,176.2L264.4,175.8L264.0,174.4L263.4,173.9L262.3,173.5L261.2,173.7L260.2,174.4L260.1,174.6L259.1,175.8L259.0,175.9L258.1,177.1L257.9,177.3L256.8,178.4L256.8,178.4L255.7,179.0L254.6,178.9L253.5,178.6L252.9,178.4L252.4,178.2L251.3,177.9L250.2,177.6L249.2,177.4L248.1,177.3L247.0,177.3L245.9,177.7L244.8,178.3L244.7,178.4L243.7,179.1L243.0,179.7L242.6,180.0L241.5,180.6L240.4,181.0L240.4,181.0L239.3,181.3L238.2,181.4L237.5,181.0L237.1,180.7L236.6,179.7L236.1,178.6L236.0,178.4L235.2,177.1L235.0,176.8L233.9,175.8L233.9,175.8L232.8,175.0L231.9,174.4L231.7,174.3L230.6,173.6L229.9,173.1L229.5,172.8L228.4,172.2L227.7,171.8L227.3,171.7L226.2,171.2L225.1,170.8L224.1,170.5L224.1,170.5L223.0,170.4L221.9,170.2L220.8,169.6L220.4,169.2L219.7,168.8L218.6,167.9L218.6,167.9L217.5,167.2L216.6,166.6L216.4,166.5L215.3,166.1L214.2,165.9L213.1,165.7L212.0,165.6L210.9,165.4L210.7,165.3L209.9,165.2L209.5,165.3L208.8,166.1L208.5,166.6L207.7,167.3L206.6,167.8L206.1,167.9L205.5,168.1L204.4,168.5L203.3,169.2L203.2,169.2L202.2,170.0L201.4,170.5L201.1,170.8L200.0,171.4L199.2,171.8L198.9,172.0L197.8,172.7L197.3,173.1L196.8,173.5L195.7,174.2L195.3,174.4L194.6,174.8L193.5,175.4L192.9,175.8L192.4,176.1L191.3,177.1L191.3,177.1L190.2,178.0L189.5,178.4L189.1,178.6L188.0,178.9L186.9,178.9L185.8,178.6L185.3,178.4L184.8,178.1L183.7,177.5L183.0,177.1L182.6,176.8L181.5,176.4L180.4,176.0L179.5,175.8L179.3,175.7L178.2,175.2L177.1,174.5L177.1,174.4L176.0,173.5L175.6,173.1L174.9,172.5L174.1,171.8L173.8,171.6L172.7,170.9L171.7,170.6L170.6,170.9L169.5,171.8L169.5,171.8L168.4,173.1L168.3,173.1L167.3,173.6L166.2,173.6L165.1,173.3L164.4,173.1L164.0,173.0L162.9,172.7L161.8,172.4L160.7,172.0L160.1,171.8L159.6,171.7L158.6,171.5L157.5,171.2L156.4,171.0L155.3,171.2L154.5,171.8L154.2,172.0L153.1,172.8L152.2,173.1L152.0,173.2L150.9,173.3L149.8,173.3L148.7,173.3L147.6,173.5L146.5,173.8L145.4,174.1L144.4,174.4L143.3,174.4L142.2,174.2L141.1,174.0L140.0,174.0L138.9,174.2L138.5,174.4L137.8,174.9L136.7,175.5L135.6,175.7L134.5,175.5L133.4,175.1L132.3,174.7L131.9,174.4L131.3,174.1L130.2,173.5L129.1,173.1L129.1,173.1L128.0,172.7L126.9,172.2L126.4,171.8L125.8,171.4L124.7,170.8L124.2,170.5L123.6,170.3L122.5,169.9L121.4,169.4L121.2,169.2L120.3,168.5L119.4,167.9L119.2,167.9L118.2,167.9L118.1,167.9L117.1,168.6L116.4,169.2L116.0,169.7L115.1,170.5L114.9,170.8L113.8,171.6L113.4,171.8L112.7,172.4L111.9,173.1L111.6,173.4L110.5,174.2L109.6,174.4L109.4,174.5L108.3,174.5L107.2,174.6L106.2,175.2L105.4,175.8L105.1,176.0L104.0,176.3L102.9,176.4L101.8,176.1L100.9,175.8L100.7,175.6L99.6,175.0L98.5,174.9L97.4,175.7L97.4,175.8L96.3,176.9L96.2,177.1L95.5,178.4L95.2,179.1L95.0,179.7L94.4,181.0L94.1,181.2L93.0,181.7L92.0,181.8L90.9,181.7L89.8,181.6L88.7,181.7L87.6,182.0L86.5,182.3L86.5,182.3L85.4,182.6L84.3,182.7L83.2,182.7L82.1,182.7L81.0,183.2L80.6,183.6L80.0,184.1L79.0,184.9L78.9,185.0L77.8,185.2L76.7,184.9L76.5,184.9L75.6,184.6L74.5,184.5L73.9,184.9L73.4,185.1L72.6,186.2L72.3,186.6L71.9,187.5L71.5,188.8L71.2,189.4L70.7,190.1L70.1,190.4L69.0,190.6L67.9,190.7L66.8,190.7L65.8,190.5L64.9,190.1L64.7,189.9L63.6,189.3L62.5,189.1L61.4,189.9L61.3,190.1L60.3,191.3L60.2,191.4L59.2,192.1L58.1,192.3L57.0,192.1L55.9,191.6L55.5,191.4L54.8,191.0L53.8,190.3L53.2,190.1L52.7,189.9L51.6,189.8L50.5,189.6L49.4,189.3L48.3,188.9L48.0,188.8L47.2,188.4L46.1,187.9L45.4,187.5L45.0,187.0L44.6,186.2L44.3,184.9L44.0,183.6L43.9,183.4L43.3,182.3L42.8,181.9L41.7,181.3L40.8,181.0L40.6,180.9L39.6,180.4L38.5,179.7L38.4,179.7L37.9,178.4L38.2,177.1L38.5,176.8L39.2,175.8L39.6,175.4L40.4,174.4L40.6,174.1L41.2,173.1L41.7,172.2L42.0,171.8L42.8,171.3L43.9,171.3L45.0,171.5L46.1,171.7L47.2,171.5L48.3,171.1L49.1,170.5L49.4,170.2L49.8,169.2L50.0,167.9L49.9,166.6L49.6,165.3L49.4,164.8L49.0,164.0L48.3,163.0L48.1,162.7L47.3,161.4L47.2,161.2L46.9,160.1L46.9,158.8L47.0,157.5L47.2,156.8L47.4,156.2L48.0,154.9L48.3,154.1L48.5,153.6L48.4,152.3L48.3,152.1L47.9,151.0L47.2,150.0L47.0,149.7L46.1,148.9L45.6,148.4L45.0,147.7L44.6,147.1L44.3,145.8L44.2,144.5L44.1,143.2L43.9,142.1L43.9,141.9L42.8,140.8L41.7,141.1L41.0,141.9L40.6,142.3L40.0,143.2L39.6,144.0L39.3,144.5L39.0,145.8L39.1,147.1L39.1,148.4L38.6,149.7L38.5,149.8L37.4,150.9L37.2,151.0L36.3,152.2L36.2,152.3L35.8,153.6L35.8,154.9L35.2,155.8L34.7,156.2L34.1,156.5L33.2,156.2L33.0,155.2L33.0,154.9L33.0,154.7L33.1,153.6L33.0,153.3L32.7,152.3L31.9,151.7L30.8,151.5L29.7,151.9L29.3,152.3L28.9,153.6L28.8,154.9L28.6,155.1L28.1,156.2L27.6,156.6L26.5,157.5L26.5,157.5L25.4,158.2L24.3,158.7L23.7,158.8L23.2,159.0L22.1,159.2L21.0,159.7L20.5,160.1L19.9,161.1L19.7,161.4L19.3,162.7L18.8,163.9L18.8,164.0L18.0,165.3L17.7,165.9L17.2,166.6L16.6,167.4L16.0,167.9L15.5,168.3L14.5,168.7L13.4,168.9L12.3,169.2L12.3,169.3L12.3,169.2L12.3,167.9L12.3,166.6L12.3,165.3L12.3,164.0L12.3,162.7L12.3,161.4L12.3,160.1L12.3,158.8L12.3,157.5L12.3,156.2L12.3,154.9L12.3,153.6L12.3,152.3L12.3,151.0L12.3,149.7L12.3,148.4L12.3,147.1L12.3,145.8L12.3,144.5L12.3,143.2L12.3,141.9L12.3,140.6L12.3,139.3L12.3,138.0L12.3,136.7L12.3,135.4L12.3,134.1L12.3,132.8L12.3,131.5L12.3,130.2L12.3,128.9L12.3,127.6L12.3,126.2L12.3,124.9L12.3,123.6L12.3,122.3L12.3,122.0L12.5,122.3L13.4,122.7L14.4,122.8L15.5,122.8L16.6,122.8L17.7,123.1L18.8,123.6L18.9,123.6L19.9,124.4L20.6,124.9L21.0,125.6L21.6,126.2L21.8,127.6L21.1,128.9L21.0,129.0L20.3,130.2L19.9,131.4L19.9,131.5L19.9,131.6L20.9,132.8L21.0,132.8L22.1,133.0L23.2,132.9L23.8,132.8L24.3,132.6L25.4,132.0L26.5,131.7L27.6,131.7L28.6,132.2L29.1,132.8L29.7,133.7L30.0,134.1L30.6,135.4L30.8,135.7L31.7,136.7L31.9,136.8L33.0,137.4L34.1,137.5L35.2,137.4L36.3,137.1L37.1,136.7L37.4,136.5L38.5,135.5L38.6,135.4L39.2,134.1L39.4,132.8L39.4,131.5L39.2,130.2L38.5,128.9L38.5,128.8L37.8,127.6L38.1,126.2L38.5,126.1L39.6,125.0L39.6,124.9L40.6,123.7L40.7,123.6L41.7,122.8L42.8,122.5L43.1,122.3L43.9,122.1L45.0,121.2L45.1,121.0L45.5,119.7L45.2,118.4L45.0,118.0L44.5,117.1L44.1,115.8L43.9,115.2L43.8,114.5L43.5,113.2L43.1,111.9L42.8,111.4L42.5,110.6L42.5,109.3L42.8,108.9L43.8,108.0L43.9,107.9L45.0,107.5L46.1,107.1L47.2,107.0L48.3,107.1L49.4,107.1L49.9,108.0L50.3,109.3L50.5,109.9L50.6,110.6L51.1,111.9L51.6,113.0L51.7,113.2L52.3,114.5L52.6,115.8L52.7,116.1L52.9,117.1L53.4,118.4L53.8,119.0L54.6,119.7L54.8,119.9L55.9,119.9L56.7,119.7L57.0,119.6L58.1,118.7L58.3,118.4L58.4,117.1L58.1,116.4L57.8,115.8L57.2,114.5L57.3,113.2L57.5,111.9L57.0,111.2L56.9,110.6L56.3,109.3L55.9,108.5L55.7,108.0L55.5,106.7L55.9,106.0L56.1,105.4L57.0,104.5L57.3,104.1L58.1,103.3L58.7,102.8L59.2,102.3L60.3,101.6L60.5,101.5L61.4,100.8L61.9,100.2L62.5,99.1L62.6,98.9L62.8,97.6L62.8,96.3L62.9,95.0L63.2,93.7L63.6,92.9L64.1,92.4L64.7,91.9L65.8,92.0L66.5,92.4L66.8,92.7L67.9,93.3L69.0,93.1L69.8,92.4L70.1,91.9L70.5,91.1L70.4,89.8L70.1,89.1L69.9,88.5L69.0,87.3L68.9,87.2L67.9,86.5L66.8,86.0L66.4,85.9L65.8,85.7L64.7,85.4L63.6,85.3L62.5,85.8L62.4,85.9L61.4,86.2L60.3,86.4L59.2,86.3L58.1,85.9L58.1,85.9L57.0,85.4L55.9,84.7L55.7,84.6L54.8,83.8L54.3,83.3L53.8,82.0L54.0,80.7L54.5,79.3L54.8,78.7L55.3,78.0L55.9,77.0L56.1,76.7L56.3,75.4L56.0,74.1L55.9,73.9L55.7,72.8L55.6,71.5L55.7,70.2L55.9,69.5L57.0,69.6L58.1,70.0L59.2,69.9L60.1,68.9L59.8,67.6L59.2,66.6L59.0,66.3L58.1,65.7L57.0,65.5L55.9,65.9L54.8,66.3L54.2,65.0L54.1,63.7L54.0,62.4L53.8,61.6L53.6,61.1L52.9,59.8L52.7,59.1L52.2,58.5L52.7,57.3L52.7,57.2L53.3,55.9L53.8,55.1L54.0,54.6L54.8,53.3L54.8,53.3L55.8,52.0L55.9,51.1L56.3,50.7L57.0,50.1L57.2,50.7L58.0,52.0L58.1,52.1L59.2,52.8L60.3,53.0L61.4,52.8L62.5,52.4L63.2,52.0L63.6,51.7L64.2,50.7L64.6,49.4L64.6,48.1L64.6,46.8L64.7,46.2L64.9,45.5L65.8,45.0L66.8,45.0L67.9,45.4L68.0,45.5L69.0,46.7L69.1,46.8L69.6,48.1L70.0,49.4L70.1,49.7L70.5,50.7L71.2,52.0L71.2,52.2L72.3,53.2L72.7,53.3L72.3,54.2L71.2,53.9L70.1,54.0L69.0,54.3L68.5,54.6L67.9,54.9L66.8,55.5L66.1,55.9L65.8,56.2L64.7,56.8L64.0,57.2L63.6,57.5L62.5,58.3L62.3,58.5L61.7,59.8L62.1,61.1L62.5,61.5L63.6,61.9L64.7,62.3L64.8,62.4L65.4,63.7L65.7,65.0L65.8,65.4L65.9,66.3L66.5,67.6L66.8,68.0L67.5,68.9L67.9,70.0L68.1,70.2L67.9,70.7L67.6,71.5L67.0,72.8L67.8,74.1L67.9,74.2L69.0,74.9L69.7,75.4L70.1,75.7L71.2,76.4L71.6,76.7L72.3,77.3L73.0,78.0L73.4,78.9L73.6,79.3L73.8,80.7L73.7,82.0L73.5,83.3L73.4,84.2L73.4,84.6L73.3,85.9L73.4,86.3L73.5,87.2L73.7,88.5L73.7,89.8L73.4,91.0L73.4,91.1L72.8,92.4L72.6,93.7L72.5,95.0L72.5,96.3L73.0,97.6L73.4,98.0L74.2,98.9L74.5,99.2L75.4,100.2L75.6,100.5L76.4,101.5L76.7,101.8L77.8,102.2L78.9,102.4L80.0,102.6L80.5,102.8L81.0,103.0L82.1,103.9L82.4,104.1L83.2,104.9L83.9,105.4L84.3,105.7L85.4,106.4L86.5,106.6L87.6,106.3L88.7,105.5L88.8,105.4L89.8,104.2L89.9,104.1L90.9,103.3L91.7,102.8L92.0,102.6L93.0,101.8L93.4,101.5L94.1,100.6L94.5,100.2L95.2,99.1L95.3,98.9L95.9,97.6L96.3,96.3L96.3,95.0L96.1,93.7L95.8,92.4L95.8,91.1L96.3,90.3L96.6,89.8L97.4,88.9L97.7,88.5L98.0,87.2L97.9,85.9L97.9,84.6L97.8,83.3L97.8,82.0L97.9,80.7L98.5,79.4L98.7,79.3L99.6,79.3L99.8,79.3L100.7,79.7L101.8,80.4L102.0,80.7L102.9,81.7L103.1,82.0L103.8,83.3L104.0,83.5L105.1,84.2L106.2,84.2L107.2,83.6L107.6,83.3L108.3,82.3L108.5,82.0L109.0,80.7L109.2,79.3L109.2,78.0L109.4,76.7L109.4,76.2L109.6,75.4L109.8,74.1L109.8,72.8L109.4,72.4L108.7,71.5L108.3,71.2L107.3,70.2L107.2,70.2L106.4,68.9L106.2,67.6L107.2,67.0L108.1,66.3L108.3,66.2L109.0,65.0L109.4,63.8L109.5,63.7L109.8,62.4L110.4,61.1L110.5,60.8L110.9,59.8L110.8,58.5L110.5,57.8L109.8,57.2L109.4,57.0L109.1,57.2L108.3,58.1L108.2,58.5L107.7,59.8L107.2,60.4L106.6,61.1L106.2,61.6L105.5,62.4L105.1,63.6L105.0,63.7L104.9,65.0L104.5,66.3L104.0,66.5L102.9,66.3L102.9,66.3L101.8,65.9L100.7,65.1L100.6,65.0L99.8,63.7L99.6,62.9L99.5,62.4L99.5,61.1L99.6,60.6L99.8,59.8L100.0,58.5L100.1,57.2L100.0,55.9L100.0,54.6L100.0,53.3L100.2,52.0L100.3,50.7L100.2,49.4L99.9,48.1L99.6,46.9L99.6,46.8L99.4,45.5L99.4,44.2L99.1,42.9L98.5,42.5L97.5,41.6L97.4,41.5L96.9,40.3L96.4,39.0L96.3,38.7L96.1,37.7L95.7,36.4L95.2,35.5L94.9,35.1L94.1,34.2L93.1,33.9L92.0,33.8L92.0,33.7L90.9,33.4L89.8,32.5L89.7,32.4L88.7,31.4L88.4,31.1L87.6,30.6L86.5,30.0L86.3,29.8L85.4,28.7L85.3,28.5L85.0,27.2L85.2,25.9L85.4,25.2L85.8,24.6L86.5,23.4L87.6,24.3L87.7,24.6L88.7,25.9L88.7,26.0L89.8,27.2L89.8,27.2L90.9,27.7L92.0,27.4L92.2,27.2L93.0,26.6L93.8,25.9L94.1,25.7L95.2,25.0L95.9,24.6L96.3,24.4L97.4,23.3L97.4,23.3L98.0,22.0L98.5,20.8L98.6,20.7L99.6,19.6L99.9,19.4L100.7,19.0L101.8,18.8L102.9,19.0L103.8,19.4L104.0,19.5L105.1,19.8L105.4,19.4L105.5,18.1L105.1,17.2L104.8,16.8L104.0,16.2L102.9,15.6L102.7,15.5L101.8,15.1L100.7,14.6L99.8,14.2L99.6,14.1L98.5,14.2L98.4,14.2L97.4,14.8L96.4,15.5L96.3,15.6L95.2,15.6L95.1,15.5L94.1,14.6L94.0,14.2L93.4,12.9L93.0,12.4L92.7,11.6L92.2,10.3L92.0,9.7L91.7,9.0L91.5,7.7L91.3,6.4L91.3,5.1L92.0,4.2L93.0,4.6L93.6,5.1L94.1,5.4L95.2,5.9L96.3,6.3L96.8,6.4L97.4,6.5L98.5,6.5L98.8,6.4L99.6,6.1L100.7,5.6L101.8,5.3L102.9,5.5L104.0,6.4L104.0,6.4L105.1,7.5L105.3,7.7L106.2,8.6L107.1,9.0L107.2,9.1L107.3,9.0L108.0,7.7L108.3,6.4L108.3,6.1L108.5,5.1L108.7,3.8L109.0,2.5L109.3,1.2ZM116.0,18.9L115.2,19.4L114.9,19.5L113.8,19.7L112.7,20.0L111.7,20.7L111.6,20.8L110.5,21.9L110.4,22.0L109.4,23.1L109.0,23.3L108.3,23.6L107.2,23.4L107.1,23.3L106.2,23.0L105.4,23.3L105.1,23.4L104.0,24.6L103.9,24.6L103.5,25.9L103.9,27.2L104.0,27.3L104.9,28.5L105.1,28.7L106.2,29.7L106.3,29.8L107.2,30.8L107.6,31.1L108.3,32.4L108.4,32.4L108.8,33.8L109.1,35.1L109.4,35.2L110.5,35.8L111.5,36.4L111.6,36.4L112.7,37.1L113.8,37.4L114.9,37.3L116.0,37.1L117.0,36.4L117.1,36.3L117.9,35.1L118.2,34.7L118.5,33.8L118.9,32.4L119.1,31.1L119.2,29.8L119.1,28.5L118.8,27.2L118.7,25.9L118.7,24.6L118.6,23.3L118.2,22.2L118.0,22.0L117.3,20.7L117.1,19.9L116.7,19.4L116.0,18.9ZM120.3,44.0L120.2,44.2L119.8,45.5L119.9,46.8L120.0,48.1L120.0,49.4L119.9,50.7L119.7,52.0L119.9,53.3L120.3,53.6L121.4,54.0L122.5,54.0L123.3,53.3L123.4,52.0L123.4,50.7L123.4,49.4L123.6,48.1L123.6,48.1L123.9,46.8L124.0,45.5L123.8,44.2L123.6,43.9L122.5,43.2L121.4,43.3L120.3,44.0ZM124.7,15.2L124.3,15.5L123.6,16.3L123.2,16.8L122.7,18.1L122.9,19.4L123.6,20.1L124.7,20.6L125.6,20.7L125.8,20.8L126.9,20.8L127.3,20.7L128.0,20.5L128.8,19.4L128.8,18.1L128.4,16.8L128.0,15.7L127.9,15.5L126.9,14.6L125.8,14.6L124.7,15.2ZM130.2,124.5L129.2,124.9L129.3,126.2L130.2,127.5L130.2,127.6L131.3,128.6L131.5,128.9L132.3,129.4L133.4,130.0L133.9,130.2L134.5,130.3L135.6,130.4L136.7,130.2L136.9,130.2L137.8,129.8L138.9,129.4L140.0,129.2L141.1,129.2L142.2,129.2L143.3,129.2L144.2,128.9L144.2,127.6L143.3,126.7L142.7,126.2L142.2,126.1L141.1,126.0L140.0,125.9L138.9,126.0L137.8,126.0L136.7,125.9L135.6,125.8L134.5,125.5L133.4,125.3L132.4,124.9L132.3,124.9L131.3,124.6L130.2,124.5ZM136.7,11.6L136.7,11.6L135.6,12.8L135.6,12.9L135.6,13.0L136.7,13.1L136.9,12.9L136.7,11.6L136.7,11.6ZM166.2,13.8L165.8,14.2L165.5,15.5L165.9,16.8L166.2,17.2L166.9,18.1L167.3,18.6L168.4,19.3L169.5,19.3L170.6,18.4L170.8,18.1L171.3,16.8L171.6,15.5L171.2,14.2L170.6,13.8L169.5,13.5L168.4,13.4L167.3,13.4L166.2,13.8ZM183.7,126.1L183.5,126.2L183.2,127.6L183.7,128.8L183.7,128.9L184.8,129.3L185.8,129.4L186.9,129.1L187.3,128.9L187.8,127.6L187.4,126.2L186.9,125.7L185.8,125.2L184.8,125.3L183.7,126.1ZM336.5,98.2L335.5,98.9L335.4,99.5L335.3,100.2L335.4,100.3L336.0,101.5L336.5,102.0L337.6,102.5L338.7,102.4L339.8,102.0L340.9,101.6L341.0,101.5L341.6,100.2L340.9,99.3L340.5,98.9L339.8,98.5L338.7,98.2L337.6,98.0L336.5,98.2ZM349.6,66.0L349.2,66.3L349.5,67.6L349.6,67.7L350.5,68.9L350.7,69.1L351.8,69.7L352.5,68.9L352.8,67.6L352.2,66.3L351.8,66.0L350.7,65.6L349.6,66.0ZM354.0,74.7L353.1,75.4L352.9,76.1L352.7,76.7L352.8,78.0L352.9,78.2L353.5,79.3L354.0,79.8L355.1,80.3L356.1,80.1L357.0,79.3L357.2,78.9L357.5,78.0L357.5,76.7L357.2,76.2L356.6,75.4L356.1,75.1L355.1,74.8L354.0,74.7ZM360.5,90.5L359.9,91.1L359.7,92.4L360.2,93.7L360.5,94.2L361.6,94.0L362.0,93.7L362.7,92.7L363.0,92.4L362.7,91.1L362.7,91.1L361.6,90.5L360.5,90.5ZM411.8,135.6L411.4,136.7L411.1,138.0L410.7,138.4L409.7,139.3L409.6,139.3L408.5,139.8L407.4,140.3L406.9,140.6L406.4,140.8L405.3,141.5L404.9,141.9L404.2,143.1L404.1,143.2L404.0,144.5L404.2,145.5L404.2,145.8L404.9,147.1L405.3,147.6L406.4,148.1L407.4,148.3L408.5,148.3L409.6,147.6L409.9,147.1L410.5,145.8L410.7,145.1L410.9,144.5L411.4,143.2L411.8,142.2L412.0,141.9L412.9,140.7L413.1,140.6L414.0,139.7L414.4,139.3L414.8,138.0L414.0,136.7L414.0,136.7L412.9,135.6L411.8,135.6ZM424.9,140.4L424.6,140.6L424.2,141.9L424.9,142.0L425.1,141.9L426.0,140.7L426.1,140.6L426.0,140.5L424.9,140.4ZM429.3,132.6L429.1,132.8L428.9,134.1L429.2,135.4L429.3,135.5L430.4,135.7L430.7,135.4L430.7,134.1L430.4,133.5L429.5,132.8L429.3,132.6ZM395.4,55.6L394.8,55.9L394.4,56.3L393.8,57.2L394.4,57.5L395.4,57.4L395.9,57.2L396.4,55.9L395.4,55.6ZM457.7,61.9L457.2,62.4L457.7,63.6L458.2,62.4L457.7,61.9ZM465.3,62.3L465.1,62.4L464.2,63.1L463.5,63.7L463.1,64.8L463.0,65.0L463.1,65.1L464.2,65.6L465.3,65.5L466.4,65.0L466.4,65.0L467.5,64.1L468.1,63.7L468.0,62.4L467.5,62.0L466.4,61.8L465.3,62.3ZM494.8,37.6L494.4,37.7L493.7,37.9L493.0,39.0L493.2,40.3L493.7,40.8L494.8,41.3L495.9,40.9L496.4,40.3L496.6,39.0L495.9,38.2L494.9,37.7L494.8,37.6ZM500.2,92.2L499.2,92.4L499.1,92.4L498.4,93.7L498.3,95.0L498.9,96.3L499.1,96.5L500.2,97.1L501.3,96.9L502.1,96.3L502.4,95.5L502.5,95.0L502.4,94.4L502.3,93.7L501.3,92.6L500.9,92.4L500.2,92.2ZM513.3,89.7L513.2,89.8L512.2,90.8L511.9,91.1L511.2,92.0L510.9,92.4L510.5,93.7L510.2,95.0L510.1,95.3L509.6,96.3L509.0,96.9L508.1,97.6L507.9,97.8L506.8,98.9L506.8,99.2L506.7,100.2L506.8,100.4L507.8,101.5L507.9,101.6L509.0,102.1L509.9,102.8L510.1,102.9L511.2,103.9L511.4,104.1L512.2,104.5L513.3,104.8L514.4,104.8L515.5,104.8L516.6,104.6L517.7,104.4L518.8,104.1L518.8,104.1L519.9,103.6L521.0,103.1L521.5,102.8L522.1,102.4L523.0,101.5L523.2,101.2L523.9,100.2L524.3,99.4L524.6,98.9L524.7,97.6L524.6,96.3L524.3,95.2L524.2,95.0L523.2,94.1L522.5,93.7L522.1,93.4L521.1,92.4L521.0,92.2L520.5,91.1L520.0,89.8L519.9,89.5L518.8,88.8L517.7,88.7L516.6,88.7L515.5,88.7L514.4,88.9L513.3,89.7ZM41.7,127.3L41.6,127.6L41.0,128.9L41.3,130.2L41.7,130.6L42.8,131.1L43.9,130.7L44.2,130.2L44.5,128.9L44.3,127.6L43.9,126.8L42.8,126.5L41.7,127.3ZM59.2,112.2L58.5,113.2L58.9,114.5L59.2,114.9L60.3,115.1L60.9,114.5L61.4,113.5L61.4,113.2L61.4,113.1L60.3,112.0L59.2,112.2ZM62.5,70.2L62.5,70.2L62.5,70.4L62.6,71.5L63.6,72.2L64.3,71.5L63.9,70.2L63.6,69.9L62.5,70.2ZM99.6,124.8L98.9,124.9L98.5,125.0L97.4,125.7L96.8,126.2L96.3,127.6L97.1,128.9L97.4,129.1L98.5,129.5L99.6,129.4L100.6,128.9L100.7,128.8L101.6,127.6L101.8,127.1L102.1,126.2L101.8,125.4L101.1,124.9L100.7,124.9L99.6,124.8ZM105.1,36.0L104.5,36.4L104.0,37.3L103.8,37.7L103.7,39.0L104.0,39.4L105.1,39.8L106.2,39.6L107.0,39.0L107.2,38.7L107.8,37.7L108.2,36.4L107.2,35.5L106.2,35.5L105.1,36.0ZM349.6,91.0L349.5,91.1L348.9,92.4L348.5,93.7L349.6,94.9L349.8,95.0L350.7,95.1L350.8,95.0L351.8,94.0L351.9,93.7L352.0,92.4L351.8,91.3L351.7,91.1L350.7,90.0L349.6,91.0ZM338.7,1.2L338.7,1.2L339.8,1.2L340.1,1.2L339.8,1.3L338.7,1.2L338.7,1.2ZM536.0,10.3L536.3,10.1L537.4,10.2L537.4,10.3L538.4,11.6L538.5,11.8L538.6,12.9L538.7,14.2L538.9,15.5L539.5,16.8L539.6,16.8L540.4,18.1L540.6,18.4L541.4,19.4L541.7,19.8L542.5,20.7L542.8,21.1L543.5,22.0L543.9,23.0L544.0,23.3L544.2,24.6L544.0,25.9L543.9,26.3L542.8,27.1L541.7,26.6L540.9,25.9L540.6,25.7L539.5,25.0L538.7,24.6L538.5,24.5L537.4,24.4L536.3,24.5L536.0,24.6L535.2,25.2L534.2,25.9L534.1,26.2L534.0,25.9L533.3,24.6L533.0,24.4L532.1,23.3L531.9,23.2L530.8,22.0L530.8,22.0L530.3,20.7L530.7,19.4L530.8,19.4L531.8,18.1L531.9,18.0L533.0,16.8L533.0,16.8L534.1,15.5L534.1,15.5L534.7,14.2L535.0,12.9L535.2,11.8L535.2,11.6L536.0,10.3ZM84.9,11.6L85.4,11.3L86.5,11.2L87.4,11.6L87.6,11.7L88.4,12.9L88.7,14.1L88.7,14.2L88.7,15.5L88.7,15.6L88.4,16.8L87.9,18.1L87.6,19.3L87.5,19.4L87.0,20.7L86.5,21.9L85.4,21.0L85.3,20.7L84.3,19.4L84.3,19.4L83.4,18.1L83.2,17.9L82.5,16.8L82.3,15.5L82.7,14.2L83.2,13.6L83.6,12.9L84.3,12.1L84.9,11.6ZM356.1,11.6L356.1,11.5L357.2,11.0L358.3,11.2L359.4,11.6L359.5,11.6L360.5,12.3L361.6,12.9L361.7,12.9L362.7,13.6L363.7,14.2L363.8,14.6L363.9,15.5L363.8,15.8L362.7,16.3L361.6,15.8L361.3,15.5L360.5,14.9L359.4,14.5L358.6,14.2L358.3,14.1L357.2,13.5L356.3,12.9L356.1,12.1L356.1,11.6ZM12.3,12.9L12.3,12.8L13.4,12.9L13.5,12.9L14.4,13.2L15.5,13.6L16.4,14.2L16.6,14.4L17.6,15.5L17.7,15.8L18.3,16.8L18.8,18.0L18.9,18.1L19.2,19.4L19.2,20.7L18.8,21.7L18.6,22.0L17.7,22.6L16.6,23.1L16.1,23.3L15.5,23.6L14.5,24.6L14.4,24.8L14.0,25.9L13.5,27.2L13.4,27.5L12.3,27.9L12.3,27.2L12.3,25.9L12.3,24.6L12.3,23.3L12.3,22.0L12.3,20.7L12.3,19.4L12.3,18.1L12.3,16.8L12.3,15.5L12.3,14.2L12.3,12.9ZM337.7,12.9L338.7,12.4L339.8,12.1L340.9,12.3L341.9,12.9L342.0,12.9L343.0,13.7L343.6,14.2L344.0,15.5L343.9,16.8L343.5,18.1L343.0,18.8L342.5,19.4L341.9,19.9L341.2,20.7L340.9,21.5L340.7,22.0L340.4,23.3L340.0,24.6L339.8,25.0L338.7,25.6L337.6,25.4L336.5,25.0L335.9,24.6L335.4,24.2L334.7,23.3L334.3,22.3L334.2,22.0L334.2,20.7L334.3,19.9L334.4,19.4L334.6,18.1L334.9,16.8L335.2,15.5L335.4,14.9L335.9,14.2L336.5,13.7L337.6,13.0L337.7,12.9ZM288.4,16.8L288.5,16.8L288.5,16.8L289.6,17.4L290.1,18.1L290.6,18.6L291.2,19.4L291.7,20.3L292.0,20.7L292.5,22.0L291.7,22.8L290.6,23.3L290.6,23.3L289.6,23.6L288.5,24.1L287.7,24.6L287.4,25.0L286.3,25.9L286.3,26.0L285.2,26.4L284.1,26.4L283.7,25.9L283.8,24.6L284.1,23.8L284.4,23.3L285.2,22.4L285.7,22.0L286.3,21.6L286.9,20.7L287.3,19.4L287.4,18.6L287.4,18.1L288.4,16.8ZM497.1,16.8L498.1,16.2L499.1,15.9L500.2,16.3L500.8,16.8L501.3,17.8L501.4,18.1L501.3,19.0L501.2,19.4L500.2,20.2L499.1,20.2L498.1,19.8L497.3,19.4L497.0,19.0L496.6,18.1L497.0,17.0L497.1,16.8ZM253.9,18.1L254.6,17.4L255.7,17.9L255.8,18.1L255.7,18.5L254.8,19.4L254.6,19.5L254.5,19.4L253.9,18.1ZM304.3,19.4L304.8,18.7L305.9,18.2L307.0,19.0L307.2,19.4L307.8,20.7L308.1,22.0L307.7,23.3L307.0,23.9L305.9,24.1L304.8,23.7L304.5,23.3L303.9,22.0L303.8,20.7L304.3,19.4ZM517.5,20.7L517.7,20.6L518.8,20.4L519.6,20.7L519.9,21.1L520.2,22.0L519.9,23.3L519.9,23.3L518.9,24.6L518.8,24.7L517.7,25.4L516.6,25.8L515.8,24.6L516.0,23.3L516.4,22.0L516.6,21.7L517.5,20.7ZM25.2,22.0L25.4,21.8L26.5,20.8L27.6,20.8L28.6,21.6L29.1,22.0L29.7,22.8L30.2,23.3L30.7,24.6L30.7,25.9L30.4,27.2L29.9,28.5L29.7,28.9L29.2,29.8L28.6,30.6L28.2,31.1L27.6,32.1L27.4,32.4L26.7,33.8L26.5,34.2L26.1,35.1L25.4,36.4L25.4,36.5L24.8,37.7L24.3,39.0L24.3,39.7L24.2,40.3L24.3,41.0L24.4,41.6L25.4,42.6L25.8,42.9L26.5,44.0L26.5,44.2L26.5,44.3L25.4,44.5L24.8,44.2L24.3,43.5L23.2,42.9L22.8,42.9L22.1,42.8L21.8,42.9L21.0,43.0L19.9,43.5L19.1,44.2L18.8,44.6L18.1,45.5L17.7,45.9L16.6,46.6L15.5,46.6L14.4,46.8L14.4,46.8L13.4,47.3L12.3,47.7L12.3,46.8L12.3,45.5L12.3,44.2L12.3,42.9L12.3,41.6L12.3,40.3L12.3,39.0L12.3,38.5L13.4,38.0L13.8,37.7L14.4,37.0L14.8,36.4L15.1,35.1L15.0,33.8L14.9,32.4L14.9,31.1L15.4,29.8L15.5,29.7L16.6,29.4L17.7,29.4L18.8,29.6L19.9,29.6L21.0,29.1L21.7,28.5L22.1,28.2L22.9,27.2L23.2,26.9L23.7,25.9L24.2,24.6L24.3,24.5L24.7,23.3L25.2,22.0ZM323.3,23.3L323.4,23.1L324.5,22.5L325.6,22.9L326.3,23.3L326.7,23.6L327.8,24.1L328.9,24.4L329.7,24.6L329.9,24.7L331.0,25.4L331.4,25.9L331.9,27.2L331.8,28.5L331.2,29.8L331.0,30.1L330.3,31.1L329.9,31.7L329.2,32.4L328.9,32.9L327.8,33.4L326.7,33.4L325.6,32.9L325.0,32.4L324.5,32.1L323.5,31.1L323.4,30.9L322.8,29.8L322.4,28.5L322.4,27.2L322.7,25.9L322.9,24.6L323.3,23.3ZM394.1,23.3L394.4,23.1L395.4,23.2L395.5,23.3L396.2,24.6L396.5,25.8L396.6,25.9L396.5,26.1L396.1,27.2L395.4,27.7L394.4,27.7L393.9,27.2L393.3,25.9L393.3,24.6L394.1,23.3ZM263.2,24.6L263.4,24.4L264.4,23.7L265.5,23.4L266.6,23.4L267.7,23.5L268.8,23.7L269.9,24.0L271.0,24.6L271.0,24.6L271.0,25.9L271.0,26.1L270.3,27.2L269.9,27.7L268.9,28.5L268.8,28.6L267.7,29.2L266.6,29.8L266.4,29.8L265.5,30.3L264.4,30.8L263.4,31.0L262.5,29.8L262.3,28.5L262.3,27.2L262.6,25.9L263.2,24.6ZM355.6,24.6L356.1,23.4L357.2,23.5L358.3,24.6L358.3,24.6L358.3,24.6L357.2,25.2L356.1,25.2L355.6,24.6ZM362.6,24.6L362.7,24.6L363.7,24.6L362.7,24.8L362.6,24.6ZM509.4,27.2L510.1,27.2L510.2,27.2L510.1,27.8L509.4,27.2ZM56.9,29.8L57.0,29.7L58.1,29.8L58.2,29.8L58.8,31.1L58.8,32.4L58.1,33.2L57.0,32.9L56.7,32.4L56.4,31.1L56.9,29.8ZM384.4,29.8L384.5,29.8L385.6,29.7L385.7,29.8L386.7,31.1L386.8,31.1L387.8,31.9L388.9,32.3L389.3,32.4L390.0,33.0L390.6,33.8L390.0,34.9L389.9,35.1L388.9,36.3L388.9,36.4L388.1,37.7L387.8,38.0L386.7,38.3L385.7,37.7L385.6,37.5L385.3,36.4L385.1,35.1L384.8,33.8L384.5,33.1L384.1,32.4L383.7,31.1L384.4,29.8ZM173.8,32.4L173.8,32.4L174.9,31.8L175.8,32.4L176.0,32.5L177.1,33.7L177.2,33.8L178.2,34.5L179.2,35.1L179.3,35.1L180.4,35.5L181.5,36.3L181.5,36.4L182.5,37.7L182.6,37.8L183.2,39.0L183.7,40.2L183.7,40.3L183.7,40.8L183.6,41.6L182.6,42.5L181.7,42.9L181.5,43.0L180.4,43.0L180.0,42.9L179.3,42.6L178.2,41.7L178.0,41.6L177.1,40.9L176.0,40.7L174.9,40.9L173.8,40.9L172.9,40.3L172.7,40.2L171.7,39.2L171.3,39.0L170.6,37.7L170.9,36.4L171.6,35.3L171.8,35.1L172.6,33.8L172.7,33.6L173.8,32.4ZM360.0,32.4L360.5,31.5L361.6,31.3L362.7,31.8L363.8,32.4L363.8,32.4L364.9,33.2L365.6,33.8L366.0,34.8L366.1,35.1L366.0,35.3L365.1,36.4L364.9,36.5L363.8,36.9L362.7,37.0L361.6,36.8L360.6,36.4L360.5,36.3L359.7,35.1L359.6,33.8L360.0,32.4ZM462.6,32.4L463.1,32.0L464.2,31.4L465.3,32.1L465.4,32.4L465.3,32.9L465.0,33.8L464.2,34.8L463.9,35.1L463.1,35.4L462.0,35.5L461.6,35.1L461.6,33.8L462.0,33.1L462.6,32.4ZM541.6,32.4L541.7,32.2L542.8,31.5L543.9,32.2L544.0,32.4L544.6,33.8L545.0,34.9L545.1,35.1L545.6,36.4L546.1,37.3L546.4,37.7L547.2,38.4L548.3,38.6L549.4,38.7L550.5,38.9L550.5,39.0L551.5,39.5L552.6,39.9L553.7,40.2L554.0,40.3L554.8,41.0L554.8,41.6L554.8,42.2L554.4,42.9L553.7,43.4L552.6,43.8L551.5,43.8L550.5,43.4L549.7,42.9L549.4,42.6L548.3,41.9L547.4,41.6L547.2,41.4L546.1,41.5L546.0,41.6L545.0,42.2L544.5,42.9L543.9,44.2L543.9,44.2L543.4,45.5L542.8,46.2L542.4,46.8L541.7,47.5L541.3,48.1L540.6,48.9L540.3,49.4L539.5,50.3L539.2,50.7L538.5,51.3L537.6,52.0L537.4,52.2L536.3,52.9L535.3,53.3L535.2,53.4L534.9,53.3L534.1,53.1L533.3,52.0L533.0,51.6L532.4,50.7L531.9,50.0L531.1,49.4L530.8,48.9L529.9,48.1L530.8,47.3L531.0,46.8L531.9,45.9L532.3,45.5L533.0,44.8L533.7,44.2L534.1,43.8L535.2,42.9L535.2,42.9L536.3,41.9L536.6,41.6L537.4,40.8L537.8,40.3L538.5,39.1L538.5,39.0L539.0,37.7L539.5,36.4L539.5,36.2L540.0,35.1L540.6,33.8L540.6,33.7L541.6,32.4ZM189.2,33.8L190.2,32.9L191.3,33.6L191.4,33.8L191.5,35.1L191.3,35.4L190.2,35.5L189.6,35.1L189.2,33.8ZM405.3,35.1L406.4,34.4L407.4,35.1L406.4,35.9L405.3,35.1ZM351.8,37.7L352.9,36.9L354.0,36.6L355.1,36.8L356.1,37.6L356.3,37.7L357.2,39.0L357.2,39.1L358.0,40.3L357.9,41.6L357.2,42.3L356.1,42.8L355.1,42.4L354.0,41.7L353.7,41.6L352.9,40.9L352.1,40.3L351.8,39.6L351.4,39.0L351.8,37.8L351.8,37.7ZM436.7,39.0L436.9,38.6L438.0,38.4L438.6,39.0L438.4,40.3L438.0,40.5L437.2,40.3L436.9,40.0L436.7,39.0ZM82.0,41.6L82.1,41.5L82.3,41.6L83.2,42.2L83.4,42.9L83.9,44.2L84.3,45.5L83.7,46.8L83.2,47.2L82.1,46.8L82.1,46.8L81.5,45.5L81.2,44.2L81.2,42.9L82.0,41.6ZM338.3,44.2L338.7,44.0L339.8,44.0L340.1,44.2L340.9,45.2L341.0,45.5L341.0,46.8L340.9,47.3L340.4,48.1L339.8,48.6L338.7,48.6L337.7,48.1L337.6,48.0L336.8,46.8L337.0,45.5L337.6,44.7L338.3,44.2ZM370.9,44.2L371.4,43.9L372.5,43.4L373.6,43.1L374.7,43.2L375.8,43.6L376.3,44.2L376.7,45.5L376.9,46.3L376.9,46.8L377.1,48.1L377.3,49.4L377.0,50.7L376.9,50.9L375.8,50.8L375.7,50.7L374.7,50.0L374.0,49.4L373.6,49.1L372.5,48.2L372.3,48.1L371.4,47.2L371.0,46.8L370.3,45.7L370.2,45.5L370.3,45.2L370.9,44.2ZM79.5,52.0L80.0,51.7L80.8,52.0L81.0,52.1L81.7,53.3L81.9,54.6L81.0,55.8L80.0,55.5L79.2,54.6L78.9,53.5L78.8,53.3L78.9,53.0L79.5,52.0ZM25.7,54.6L26.5,54.3L27.6,53.9L28.6,54.0L29.0,54.6L29.4,55.9L29.3,57.2L28.9,58.5L28.6,59.0L28.1,59.8L27.6,60.5L26.5,60.8L25.4,60.8L24.3,60.8L23.2,61.1L23.2,61.1L22.1,61.4L21.0,61.5L19.9,61.6L18.8,61.6L18.1,61.1L18.6,59.8L18.8,59.5L19.4,58.5L19.9,57.9L20.9,57.2L21.0,57.1L22.1,56.6L23.2,56.0L23.3,55.9L24.3,55.3L25.4,54.7L25.7,54.6ZM72.8,54.6L73.4,54.3L73.5,54.6L73.4,54.7L72.8,54.6ZM531.1,59.8L531.9,59.6L533.0,59.3L533.1,59.8L533.0,60.1L531.9,60.2L531.1,59.8ZM12.3,62.4L12.3,62.2L13.4,61.8L14.4,61.6L15.5,61.6L16.6,61.6L17.7,61.7L18.1,62.4L18.0,63.7L17.9,65.0L17.7,65.5L17.4,66.3L16.6,67.0L15.5,67.5L14.8,67.6L14.4,67.7L13.4,67.6L13.2,67.6L12.3,67.5L12.3,66.3L12.3,65.0L12.3,63.7L12.3,62.4ZM553.5,62.4L553.7,62.4L554.8,62.1L554.8,62.4L554.8,63.7L554.8,65.0L554.8,66.3L554.8,67.6L554.8,67.6L553.7,67.7L552.6,68.2L551.8,68.9L551.5,69.2L550.5,70.1L550.1,70.2L549.4,70.4L548.3,70.3L547.9,70.2L547.2,69.8L546.6,68.9L547.2,67.6L547.2,67.6L548.3,67.0L549.4,66.6L550.0,66.3L550.5,66.0L551.0,65.0L551.6,63.7L551.6,63.7L552.6,62.8L553.5,62.4ZM35.0,67.6L35.2,67.3L36.3,67.2L36.4,67.6L36.3,68.9L36.3,70.2L37.2,71.5L37.4,71.7L38.5,72.4L39.6,72.5L40.6,72.5L41.7,71.9L42.0,71.5L42.8,71.0L43.7,70.2L43.9,70.0L45.0,69.3L45.7,68.9L46.1,68.6L47.2,68.2L48.3,68.4L48.7,68.9L48.5,70.2L48.3,70.6L47.8,71.5L47.4,72.8L47.3,74.1L47.3,75.4L47.5,76.7L47.6,78.0L47.6,79.3L47.6,80.7L47.4,82.0L47.2,82.4L46.8,83.3L46.1,84.5L46.1,84.6L45.1,85.9L45.0,86.2L44.4,87.2L44.6,88.5L45.0,88.8L46.0,89.8L46.1,89.9L47.2,90.6L48.0,91.1L48.3,91.5L48.8,92.4L49.0,93.7L49.3,95.0L49.4,95.7L49.5,96.3L49.4,97.6L49.4,97.7L48.3,98.7L47.2,98.5L46.1,98.2L45.0,98.3L43.9,98.8L43.8,98.9L42.8,99.9L42.6,100.2L41.7,101.3L41.6,101.5L40.7,102.8L40.6,102.8L39.6,104.1L39.6,104.2L38.5,105.1L37.4,105.3L36.3,104.8L35.8,104.1L35.4,102.8L35.3,101.5L35.5,100.2L35.7,98.9L36.0,97.6L36.3,96.8L36.4,96.3L36.9,95.0L37.4,93.9L37.5,93.7L38.1,92.4L38.5,91.9L39.1,91.1L39.6,90.5L40.4,89.8L40.6,89.5L41.7,88.5L41.7,88.4L42.6,87.2L42.8,85.9L42.8,85.5L43.1,84.6L43.4,83.3L43.5,82.0L43.3,80.7L42.9,79.3L42.8,78.7L42.7,78.0L42.5,76.7L42.0,75.4L41.7,74.9L40.6,74.3L39.8,74.1L39.6,74.0L38.5,73.8L37.9,74.1L37.4,74.2L36.3,74.7L35.2,75.4L35.2,75.5L34.9,75.4L34.2,74.1L34.2,72.8L34.4,71.5L34.9,70.2L35.0,68.9L35.0,67.6ZM28.4,70.2L28.6,69.8L29.7,69.7L30.0,70.2L29.7,71.0L29.3,71.5L28.6,72.2L28.2,71.5L28.4,70.2ZM12.3,76.7L12.3,76.1L13.0,76.7L13.4,77.2L14.1,78.0L14.0,79.3L13.5,80.7L13.4,81.0L12.8,82.0L12.3,82.8L12.3,82.0L12.3,80.7L12.3,79.3L12.3,78.0L12.3,76.7ZM33.0,76.7L33.0,76.7L33.3,76.7L33.8,78.0L33.0,78.6L31.9,78.3L31.6,78.0L31.9,77.6L33.0,76.7ZM552.9,76.7L553.7,75.9L554.8,76.0L554.8,76.7L554.8,78.0L554.8,79.3L554.8,80.7L554.8,81.3L553.7,81.6L552.6,81.7L551.5,81.7L551.2,80.7L551.5,79.6L551.6,79.3L552.2,78.0L552.6,77.1L552.9,76.7ZM540.3,80.7L540.6,80.1L541.7,79.9L542.8,80.6L542.9,80.7L543.9,81.8L544.0,82.0L544.4,83.3L544.3,84.6L543.9,85.7L543.8,85.9L543.3,87.2L543.1,88.5L543.3,89.8L543.9,90.8L544.1,91.1L545.0,91.9L545.6,92.4L546.1,92.9L547.0,93.7L547.2,94.3L547.9,95.0L547.6,96.3L547.2,96.7L546.1,97.5L545.3,97.6L545.0,97.6L543.9,97.8L542.8,98.0L541.7,98.3L540.6,98.7L539.5,98.8L538.5,98.6L537.6,97.6L537.4,97.0L537.1,96.3L536.8,95.0L536.4,93.7L536.3,93.4L535.5,92.4L535.2,91.7L534.6,91.1L534.8,89.8L535.0,88.5L535.2,88.0L535.4,87.2L536.3,86.1L536.5,85.9L537.4,85.4L538.5,84.9L538.9,84.6L539.5,83.5L539.6,83.3L539.9,82.0L540.3,80.7ZM12.8,84.6L13.4,83.6L14.4,84.1L15.1,84.6L15.5,84.8L16.6,85.6L17.1,85.9L17.7,86.5L18.3,87.2L18.3,88.5L17.9,89.8L17.7,90.1L17.5,91.1L17.2,92.4L17.0,93.7L16.9,95.0L16.9,96.3L17.3,97.6L17.7,98.2L18.6,98.9L18.8,99.2L19.9,99.5L20.5,98.9L21.0,98.6L21.7,97.6L22.1,97.1L22.7,96.3L23.2,95.5L23.5,95.0L23.9,93.7L23.9,92.4L23.5,91.1L23.2,89.8L23.6,88.5L24.3,88.2L25.4,88.2L26.3,88.5L26.5,88.6L27.6,89.4L28.0,89.8L28.6,90.4L29.5,91.1L29.7,91.4L30.5,92.4L30.4,93.7L29.7,94.6L29.4,95.0L28.6,95.5L27.6,96.3L27.5,96.3L26.5,97.3L26.1,97.6L25.4,98.6L25.0,98.9L24.3,99.3L23.2,99.7L22.2,100.2L22.1,100.2L21.0,100.5L19.9,101.0L19.7,101.5L18.8,102.4L18.6,102.8L17.9,104.1L17.7,104.4L17.4,105.4L17.3,106.7L17.3,108.0L17.2,109.3L16.6,110.5L16.5,110.6L15.5,111.4L14.9,111.9L14.4,112.3L13.7,113.2L13.4,113.6L12.8,114.5L12.3,115.8L12.3,116.0L12.3,115.8L12.3,114.5L12.3,113.2L12.3,111.9L12.3,110.6L12.3,109.3L12.3,108.0L12.3,106.7L12.3,105.4L12.3,104.1L12.3,102.8L12.3,101.5L12.3,100.2L12.3,98.9L12.3,97.6L12.3,96.3L12.3,95.0L12.3,93.7L12.3,92.4L12.3,91.1L12.3,89.8L12.3,88.5L12.3,87.2L12.3,85.9L12.3,85.8L12.8,84.6ZM551.3,89.8L551.5,89.4L552.6,88.9L553.7,88.8L554.8,88.5L554.8,89.8L554.8,91.1L554.8,92.4L554.8,93.7L554.8,95.0L554.8,96.3L554.8,97.6L554.8,98.6L553.7,98.8L552.6,98.9L551.5,98.5L550.5,97.8L550.2,97.6L549.4,96.7L548.9,96.3L548.5,95.0L549.1,93.7L549.4,93.3L549.8,92.4L550.4,91.1L550.5,91.0L551.3,89.8ZM553.5,100.2L553.7,99.5L554.8,99.6L554.8,100.2L554.8,101.5L554.8,102.8L554.8,104.1L554.8,105.4L554.8,106.7L554.8,106.9L554.4,106.7L553.7,106.4L552.7,105.4L552.6,105.4L552.1,104.1L552.1,102.8L552.4,101.5L552.6,100.7L553.5,100.2ZM51.2,102.8L51.6,102.4L52.2,102.8L52.7,103.4L52.8,104.1L52.7,105.0L52.4,105.4L51.6,106.0L50.5,106.2L50.2,105.4L50.4,104.1L50.5,103.9L51.2,102.8ZM544.9,105.4L545.0,104.9L545.0,105.4L545.0,105.4L544.9,105.4ZM33.4,166.6L34.1,165.9L34.3,166.6L34.1,167.2L33.4,166.6ZM34.9,171.8L35.2,171.8L35.2,171.8L35.8,173.1L35.9,174.4L35.8,175.8L35.2,177.1L35.2,177.1L34.1,177.4L33.0,177.1L32.9,177.1L31.9,176.1L31.6,175.8L31.5,174.4L31.9,173.9L32.6,173.1L33.0,172.8L34.1,171.9L34.9,171.8ZM552.2,171.8L552.6,171.3L553.7,171.2L554.4,171.8L554.3,173.1L553.7,173.4L552.6,173.2L552.5,173.1L552.2,171.8Z"/><path fill="#b4b4ff" fill-rule="evenodd" d="M143.1,1.2L143.3,1.2L144.4,1.2L144.5,1.2L144.5,2.5L144.4,3.4L144.2,3.8L143.6,5.1L143.3,6.3L143.2,6.4L142.8,7.7L142.4,9.0L142.2,9.5L141.6,9.0L141.1,8.0L141.0,7.7L141.1,7.5L141.5,6.4L142.0,5.1L142.2,4.5L142.5,3.8L142.7,2.5L143.1,1.2ZM157.1,1.2L157.5,1.2L158.6,1.2L159.6,1.2L160.6,1.2L159.6,2.0L158.6,2.5L158.6,2.5L158.4,2.5L157.5,2.0L157.1,1.2ZM113.4,5.1L113.8,4.8L114.9,4.5L116.0,4.6L116.9,5.1L117.1,5.2L118.2,6.3L118.2,6.4L119.1,7.7L119.2,8.2L119.5,9.0L119.2,9.4L118.2,9.2L117.9,9.0L117.1,8.4L116.0,8.0L114.9,7.8L114.5,7.7L113.8,7.3L112.7,6.4L112.7,6.4L112.7,6.4L113.4,5.1ZM128.9,9.0L129.1,8.8L130.2,8.7L130.5,9.0L130.7,10.3L130.2,10.8L129.1,10.4L129.0,10.3L128.9,9.0ZM140.9,14.2L141.1,14.0L142.2,13.8L142.6,14.2L143.3,14.7L143.9,15.5L144.4,16.0L144.9,16.8L145.4,18.1L145.4,19.0L145.5,19.4L145.4,19.6L144.9,20.7L144.4,21.2L143.3,21.3L142.2,21.1L141.3,20.7L141.1,20.6L140.0,20.2L138.9,20.4L138.7,20.7L138.7,22.0L138.9,22.2L139.7,23.3L140.0,23.8L140.6,24.6L141.1,25.9L141.1,26.2L141.2,27.2L141.3,28.5L141.4,29.8L141.5,31.1L141.5,32.4L141.3,33.8L141.1,34.2L140.6,35.1L140.0,36.0L139.7,36.4L138.9,37.6L138.8,37.7L137.8,38.9L137.7,39.0L136.7,39.3L135.8,39.0L135.6,38.9L134.5,37.8L134.4,37.7L133.4,36.6L133.1,36.4L132.3,35.6L131.3,35.5L130.2,36.0L129.8,36.4L129.1,37.0L128.5,37.7L128.0,38.4L127.4,39.0L126.9,39.5L125.8,39.4L125.5,39.0L124.8,37.7L124.7,37.5L124.3,36.4L123.8,35.1L123.6,34.2L123.5,33.8L123.0,32.4L122.5,31.7L122.3,31.1L121.9,29.8L121.7,28.5L121.8,27.2L122.3,25.9L122.5,25.5L123.2,24.6L123.6,24.3L124.7,23.8L125.8,23.8L126.9,24.5L127.0,24.6L127.4,25.9L127.5,27.2L127.7,28.5L128.0,29.4L128.2,29.8L129.1,30.8L129.7,31.1L130.2,31.5L131.3,32.1L131.9,32.4L132.3,33.0L133.4,33.6L134.5,33.5L135.6,32.8L135.9,32.4L136.7,31.3L136.8,31.1L137.0,29.8L136.7,29.2L136.3,28.5L135.6,27.8L135.0,27.2L134.5,26.7L133.8,25.9L133.4,25.5L132.4,24.6L132.3,24.5L131.8,23.3L132.0,22.0L132.2,20.7L132.2,19.4L132.3,18.4L132.4,18.1L133.4,17.6L134.5,17.5L135.6,17.4L136.7,17.4L137.8,17.3L138.4,16.8L138.9,16.5L139.7,15.5L140.0,15.1L140.9,14.2ZM151.7,19.4L152.0,19.0L153.1,19.0L153.4,19.4L153.3,20.7L153.1,20.9L152.0,21.8L151.5,22.0L150.9,22.5L150.7,22.0L150.9,20.7L150.9,20.7L151.7,19.4ZM150.0,25.9L150.9,25.4L151.3,25.9L152.0,26.6L153.1,27.2L154.2,27.2L155.3,27.2L155.3,27.2L156.4,27.8L156.9,28.5L157.5,29.3L157.9,29.8L158.6,30.8L158.8,31.1L159.6,32.2L159.8,32.4L160.1,33.8L160.0,35.1L159.7,36.4L159.6,36.9L159.5,37.7L159.3,39.0L159.2,40.3L159.0,41.6L158.5,42.7L158.4,42.9L157.5,43.6L156.5,44.2L156.4,44.3L155.3,45.0L154.3,45.5L154.2,45.6L153.5,46.8L153.8,48.1L154.2,48.6L155.3,49.4L155.3,49.4L156.4,50.2L157.1,50.7L157.5,51.1L158.1,52.0L158.2,53.3L157.5,53.8L156.4,53.5L155.3,53.9L154.8,54.6L154.7,55.9L154.8,57.2L155.1,58.5L155.3,59.4L155.5,59.8L156.4,61.0L157.1,61.1L157.5,61.1L157.5,61.1L157.9,59.8L157.9,58.5L158.5,57.2L158.6,57.1L158.7,57.2L159.6,57.4L160.7,58.1L161.3,58.5L161.8,58.8L162.9,59.5L163.2,59.8L163.7,61.1L163.9,62.4L163.6,63.7L163.0,65.0L162.9,65.1L162.5,66.3L162.5,67.6L162.9,68.5L163.2,68.9L164.0,69.5L165.1,69.8L166.2,69.9L167.3,70.1L167.6,70.2L168.4,70.5L169.5,71.0L170.6,71.4L170.8,71.5L171.7,71.9L172.7,72.2L173.8,71.9L174.0,71.5L173.9,70.2L173.8,70.2L173.2,68.9L172.8,67.6L172.7,67.4L172.5,66.3L172.4,65.0L172.7,64.1L173.1,63.7L173.8,63.4L174.9,63.2L176.0,63.0L177.1,62.9L178.2,62.9L179.3,63.0L180.4,62.9L181.5,62.9L182.6,62.9L183.7,63.1L184.8,63.6L184.8,63.7L185.8,64.9L185.9,65.0L186.2,66.3L186.2,67.6L186.3,68.9L186.6,70.2L186.9,70.8L188.0,71.3L189.1,71.2L190.2,70.7L190.8,70.2L191.3,69.7L192.0,68.9L192.4,68.3L192.9,67.6L193.5,66.9L194.6,66.4L194.7,66.3L195.7,66.2L196.8,66.1L197.8,66.1L198.9,66.3L199.3,66.3L200.0,66.5L201.1,66.6L202.2,66.6L203.3,66.4L203.9,66.3L204.4,66.2L205.5,65.5L205.8,65.0L206.4,63.7L206.6,63.2L206.9,62.4L207.4,61.1L207.7,60.4L208.0,59.8L208.5,58.5L208.8,58.0L209.5,57.2L209.9,56.9L210.9,56.7L212.0,56.9L213.1,57.2L213.4,57.2L214.2,57.5L214.7,57.2L215.3,57.0L216.4,56.2L216.6,55.9L217.5,55.3L218.6,54.6L218.6,54.6L219.7,54.0L220.7,53.3L220.8,53.3L221.9,52.5L223.0,52.0L223.3,52.0L224.1,51.9L225.1,52.0L225.2,52.0L226.2,52.3L227.3,52.7L228.4,53.1L229.1,53.3L229.5,53.4L230.6,53.4L231.7,53.4L232.4,53.3L232.8,53.3L233.9,53.0L235.0,52.5L235.8,52.0L236.1,51.8L237.1,51.5L238.2,51.5L239.3,52.0L239.3,52.0L240.4,53.3L240.5,53.3L241.1,54.6L241.5,55.9L241.5,56.3L241.6,57.2L241.6,58.5L241.5,59.0L241.5,59.8L241.4,61.1L241.4,62.4L241.5,62.7L241.9,63.7L242.6,64.3L243.7,64.9L244.4,65.0L244.8,65.1L245.0,65.0L245.9,64.7L247.0,63.7L247.0,63.7L248.1,62.7L248.5,62.4L249.2,62.0L250.2,62.0L251.1,62.4L251.3,62.5L252.4,63.2L253.5,63.4L254.6,63.3L255.7,62.6L256.0,62.4L256.8,61.6L257.9,61.1L258.8,62.4L259.0,62.8L259.2,63.7L259.3,65.0L259.4,66.3L259.7,67.6L260.1,68.1L261.2,68.9L261.2,68.9L262.3,69.1L263.3,68.9L263.4,68.9L264.4,68.3L265.2,67.6L265.5,67.0L265.9,66.3L266.0,65.0L266.0,63.7L266.1,62.4L266.6,61.1L266.6,61.1L267.7,60.5L268.8,60.4L269.9,60.4L271.0,60.4L272.1,60.4L273.2,60.7L274.2,61.1L274.3,61.1L274.3,61.1L275.4,60.7L276.0,59.8L276.4,59.4L277.5,59.2L278.6,59.8L278.6,59.8L279.6,61.1L279.7,61.3L280.6,62.4L280.8,62.6L281.6,63.7L281.9,64.7L282.0,65.0L282.5,66.3L283.0,67.0L283.7,67.6L284.1,67.8L285.2,67.9L285.9,67.6L286.0,66.3L285.3,65.0L285.2,64.7L284.6,63.7L284.7,62.4L285.2,61.9L285.8,61.1L286.3,60.8L287.4,60.3L288.5,59.9L288.9,59.8L289.6,59.6L290.6,59.0L291.5,58.5L291.7,58.3L292.8,58.0L293.9,58.5L293.9,58.5L294.6,59.8L295.0,60.3L295.6,61.1L296.1,61.6L297.2,62.4L297.2,62.4L298.3,63.1L299.4,63.6L299.5,63.7L300.5,64.4L301.1,65.0L301.6,65.7L301.9,66.3L302.1,67.6L301.7,68.9L301.6,69.2L301.0,70.2L300.5,71.2L300.2,71.5L300.0,72.8L300.5,73.3L301.6,74.0L301.9,74.1L302.6,74.4L303.7,74.8L304.8,75.0L305.9,74.9L307.0,74.5L308.0,74.1L308.1,74.0L309.1,72.8L309.1,71.5L309.2,71.1L309.4,70.2L310.2,68.9L310.3,68.8L311.4,68.7L311.7,68.9L312.5,69.6L312.9,70.2L313.6,71.0L314.1,71.5L314.7,71.7L315.8,72.0L316.8,72.3L317.9,72.8L318.1,72.8L319.0,73.2L320.1,73.4L321.2,73.1L321.7,72.8L322.3,72.4L323.4,71.6L323.7,71.5L324.5,70.8L325.2,70.2L324.6,68.9L324.5,68.7L324.0,67.6L324.5,67.4L325.6,67.0L326.7,66.7L327.8,66.7L328.9,67.4L329.0,67.6L329.9,68.6L330.2,68.9L331.0,69.8L331.6,70.2L332.1,70.6L333.2,70.8L334.3,70.8L335.4,70.9L336.5,71.2L337.6,71.4L338.7,70.5L338.8,70.2L339.1,68.9L339.3,67.6L339.8,66.5L339.9,66.3L340.9,65.7L341.9,66.0L342.3,66.3L343.0,67.4L343.1,67.6L343.9,68.9L344.1,69.2L345.2,70.2L345.3,70.2L346.3,70.7L347.4,71.3L347.6,71.5L348.5,72.8L348.5,72.9L349.0,74.1L349.5,75.4L349.6,75.7L349.9,76.7L350.2,78.0L350.6,79.3L350.7,79.6L351.1,80.7L351.8,81.8L351.9,82.0L352.9,83.2L353.0,83.3L354.0,83.8L355.1,83.9L356.1,84.1L357.2,84.4L358.3,84.5L358.9,83.3L359.4,82.3L359.6,82.0L360.4,80.7L360.5,80.4L361.6,80.2L362.4,80.7L362.7,80.8L363.8,81.7L363.9,82.0L364.6,83.3L364.9,84.2L365.0,84.6L365.0,85.9L364.9,86.2L364.5,87.2L363.8,87.8L362.7,88.0L361.6,87.7L360.6,87.2L360.5,87.1L359.4,86.1L358.6,85.9L358.3,84.8L358.2,85.9L357.8,87.2L357.5,88.5L357.3,89.8L357.3,91.1L357.4,92.4L357.5,93.7L357.6,95.0L357.7,96.3L357.8,97.6L358.0,98.9L358.3,99.7L358.5,100.2L359.1,101.5L359.4,102.3L359.6,102.8L360.0,104.1L360.2,105.4L360.5,106.6L360.6,106.7L361.6,107.6L362.6,106.7L362.7,106.7L363.7,105.4L363.8,105.3L364.3,104.1L364.8,102.8L364.9,102.5L365.5,101.5L366.0,100.9L367.1,100.3L367.2,100.2L368.1,99.7L369.1,98.9L369.2,98.8L370.3,97.9L370.8,97.6L371.4,97.2L372.5,97.3L372.9,97.6L373.6,98.3L374.0,98.9L374.6,100.2L374.7,100.4L375.5,101.5L375.8,101.9L376.9,102.6L378.0,101.7L378.1,101.5L378.8,100.2L379.1,99.9L379.9,98.9L380.2,98.7L381.2,98.0L382.3,97.6L382.4,97.6L383.4,97.4L384.5,97.3L385.6,97.3L386.7,97.5L387.0,97.6L387.8,97.9L388.9,98.8L389.0,98.9L389.8,100.2L390.0,100.7L390.3,101.5L390.6,102.8L390.8,104.1L390.8,105.4L391.0,106.7L391.1,106.9L391.8,108.0L392.2,108.7L392.8,109.3L392.2,110.6L392.2,110.6L391.1,111.6L390.0,111.9L388.9,111.5L387.8,110.9L387.1,110.6L386.7,110.4L385.6,110.0L384.5,109.8L383.4,109.6L382.3,109.4L382.2,109.3L381.2,108.9L380.2,108.1L380.1,108.0L379.1,106.9L378.9,106.7L378.0,105.7L376.9,105.4L375.8,105.8L374.7,106.2L373.6,106.6L373.2,106.7L372.5,106.9L371.4,107.2L370.3,107.3L369.2,107.4L368.1,107.6L367.4,108.0L367.1,108.3L366.6,109.3L366.6,110.6L366.9,111.9L366.8,113.2L366.2,114.5L366.0,114.7L364.9,115.2L363.8,115.7L363.6,115.8L362.7,116.5L361.9,117.1L361.6,117.5L360.7,118.4L360.7,119.7L361.6,120.4L362.1,121.0L362.7,121.5L363.6,122.3L363.8,122.5L364.9,123.2L365.9,123.6L366.0,123.7L367.1,123.8L368.2,123.8L369.2,124.0L370.3,124.2L371.4,124.3L372.5,124.1L373.6,123.8L374.2,123.6L374.7,123.5L375.8,123.3L376.9,123.2L378.0,123.4L379.1,123.6L379.1,123.6L380.2,123.7L380.9,123.6L381.2,123.6L382.3,123.3L383.4,123.0L384.5,122.8L385.6,122.8L386.7,123.2L387.4,123.6L387.8,123.9L388.9,124.9L388.9,125.0L390.0,126.0L390.3,126.2L391.1,126.6L392.2,126.9L393.3,126.7L394.4,126.4L394.6,126.2L395.4,125.7L396.4,124.9L396.5,124.8L397.6,123.9L398.7,123.6L399.8,123.9L400.9,124.2L402.0,124.3L403.1,124.2L404.2,124.0L405.3,123.7L405.4,123.6L406.4,123.4L407.4,123.4L408.5,123.5L408.8,123.6L409.6,124.0L410.7,124.8L410.9,124.9L411.8,126.0L412.1,126.2L412.7,127.6L412.6,128.9L412.0,130.2L411.8,130.3L410.7,131.1L410.3,131.5L409.6,132.0L409.0,132.8L408.5,133.5L408.3,134.1L408.1,135.4L407.8,136.7L407.4,137.3L407.1,138.0L406.4,138.6L405.3,139.3L405.3,139.3L404.2,139.9L403.3,140.6L403.1,140.9L402.8,141.9L402.7,143.2L402.7,144.5L402.8,145.8L402.9,147.1L403.0,148.4L403.1,149.7L403.1,150.1L403.3,151.0L404.2,152.1L404.4,152.3L405.0,153.6L404.8,154.9L404.6,156.2L404.7,157.5L405.3,158.5L405.4,158.8L405.9,160.1L405.9,161.4L405.6,162.7L405.3,163.5L405.0,164.0L404.3,165.3L404.2,165.5L403.1,166.1L402.0,166.4L400.9,166.5L399.8,166.4L398.7,166.1L397.6,165.6L396.8,165.3L396.5,165.2L396.3,165.3L395.4,165.7L394.5,166.6L394.4,166.8L393.3,167.9L393.3,167.9L392.2,168.6L391.1,168.9L390.0,168.9L388.9,169.0L387.8,169.2L387.8,169.2L386.7,169.8L385.6,170.5L385.6,170.5L384.5,171.1L383.4,171.5L382.3,171.6L381.2,171.5L380.2,171.3L379.1,171.2L378.0,170.9L377.0,170.5L376.9,170.5L375.8,170.3L374.7,170.3L373.6,170.4L372.9,170.5L372.5,170.6L371.4,170.9L370.3,171.2L369.2,171.5L368.1,171.6L367.1,171.5L366.0,171.4L364.9,171.3L363.8,171.2L362.7,171.1L361.6,171.0L360.5,170.9L359.4,170.7L358.3,170.6L358.3,170.5L357.2,170.4L356.1,170.1L355.1,169.7L354.0,169.3L353.8,169.2L352.9,169.0L351.8,169.0L350.7,168.9L349.6,168.8L348.5,168.9L347.6,169.2L347.4,169.3L346.3,170.1L345.4,170.5L345.2,170.7L344.1,170.8L343.0,170.8L341.9,170.7L340.9,170.6L339.8,170.6L338.7,170.6L337.6,170.8L336.5,170.9L335.4,171.1L334.3,170.9L333.6,170.5L333.2,170.4L332.1,169.9L331.0,169.7L329.9,170.1L329.4,170.5L328.9,171.1L328.3,171.8L327.8,172.7L327.4,173.1L326.7,173.8L325.6,174.3L324.5,174.3L323.4,173.7L322.8,173.1L322.3,172.3L321.9,171.8L321.2,171.1L320.1,170.8L319.0,171.1L317.9,171.2L316.8,170.7L316.6,170.5L315.8,170.2L314.7,169.8L313.6,169.5L312.5,169.4L311.4,169.4L310.3,169.3L310.2,169.2L309.2,168.9L308.1,168.4L307.0,168.4L305.9,168.7L304.8,169.1L304.5,169.2L303.7,169.7L302.9,170.5L302.6,171.1L302.4,171.8L302.4,173.1L302.4,174.4L302.4,175.8L302.2,177.1L301.6,177.7L300.5,178.2L299.4,178.1L298.3,177.3L298.2,177.1L297.5,175.8L297.2,175.2L296.8,174.4L296.1,173.5L295.7,173.1L295.0,172.7L293.9,172.2L293.1,171.8L292.8,171.7L291.7,171.2L290.6,170.7L290.0,170.5L289.6,170.4L288.5,170.5L288.4,170.5L287.4,171.2L286.7,171.8L286.3,172.2L285.2,173.1L285.2,173.1L284.1,173.9L283.4,174.4L283.0,174.7L281.9,175.5L281.3,175.8L280.8,176.0L279.7,176.4L278.6,176.7L277.5,176.7L276.5,176.4L275.4,176.0L274.9,175.8L274.3,175.4L273.2,174.9L272.1,174.6L271.7,174.4L271.0,174.2L269.9,173.9L268.8,173.6L267.7,173.2L267.6,173.1L266.6,172.4L265.8,171.8L265.5,171.8L264.4,171.3L263.4,170.9L262.3,170.7L261.2,170.7L260.1,171.0L259.3,171.8L259.0,172.3L258.6,173.1L257.9,174.4L257.9,174.4L256.9,175.8L256.8,175.8L255.7,176.4L254.6,176.4L253.5,176.1L252.4,175.8L252.2,175.8L251.3,175.5L250.2,175.2L249.2,174.8L248.1,174.6L247.0,174.8L245.9,175.3L245.3,175.8L244.8,176.1L243.8,177.1L243.7,177.1L242.6,178.1L242.0,178.4L241.5,178.6L240.4,178.8L239.3,178.7L238.7,178.4L238.2,178.2L237.1,177.2L237.0,177.1L236.1,176.2L235.7,175.8L235.0,175.2L233.9,174.5L233.9,174.4L232.8,173.7L232.0,173.1L231.7,172.8L230.6,171.9L230.5,171.8L229.5,170.9L228.9,170.5L228.4,170.2L227.3,169.7L226.2,169.3L226.2,169.2L225.1,168.6L224.1,168.1L223.8,167.9L223.0,167.3L221.9,166.7L221.6,166.6L220.8,166.2L219.7,165.6L219.2,165.3L218.6,164.9L217.5,164.3L216.9,164.0L216.4,163.8L215.3,163.3L214.2,162.8L214.1,162.7L213.1,162.1L212.0,161.6L211.6,161.4L210.9,161.1L209.9,160.3L209.6,160.1L208.8,159.1L208.5,158.8L207.7,157.6L207.6,157.5L206.6,156.8L205.5,156.8L204.4,157.2L204.0,157.5L203.3,158.3L203.0,158.8L202.6,160.1L202.3,161.4L202.2,162.0L201.1,161.9L200.0,161.8L198.9,161.9L197.8,162.3L197.2,162.7L196.8,163.3L196.4,164.0L196.5,165.3L196.8,165.9L197.3,166.6L197.8,167.5L198.2,167.9L198.1,169.2L197.8,169.6L197.3,170.5L196.8,171.0L195.9,171.8L195.7,172.0L194.6,172.7L193.8,173.1L193.5,173.3L192.4,174.0L191.8,174.4L191.3,174.8L190.2,175.5L189.7,175.8L189.1,176.0L188.0,176.2L186.9,176.2L185.8,175.9L185.4,175.8L184.8,175.5L183.7,174.9L182.8,174.4L182.6,174.3L181.5,173.8L180.4,173.3L180.0,173.1L179.3,172.8L178.2,172.2L177.8,171.8L177.1,171.2L176.5,170.5L176.0,170.0L175.3,169.2L174.9,168.9L173.8,168.3L172.8,167.9L172.7,167.9L171.7,167.7L170.6,167.5L169.5,167.7L169.0,167.9L168.4,168.4L167.5,169.2L167.3,169.5L166.2,170.3L165.1,170.5L164.0,170.1L162.9,169.3L162.8,169.2L161.8,168.2L161.5,167.9L160.7,167.2L159.8,166.6L159.6,166.5L158.6,166.3L157.5,166.1L156.4,165.9L155.3,165.8L154.2,166.1L153.6,166.6L153.1,167.1L152.6,167.9L152.0,168.8L151.7,169.2L150.9,170.0L150.1,170.5L149.8,170.7L148.7,171.0L147.6,171.1L146.5,171.2L145.4,171.2L144.4,171.4L143.3,171.5L142.2,171.4L141.1,171.2L140.0,170.8L139.0,170.5L138.9,170.4L138.3,169.2L138.3,167.9L138.4,166.6L138.3,165.3L137.8,164.2L137.7,164.0L136.7,163.1L135.6,162.9L134.5,163.2L133.4,163.9L133.2,164.0L132.3,164.8L131.8,165.3L131.3,166.1L130.8,166.6L130.3,167.9L130.2,168.6L129.9,169.2L129.1,169.8L128.0,169.7L127.2,169.2L126.9,169.0L126.1,167.9L125.8,167.5L125.1,166.6L124.7,166.3L123.6,165.8L122.5,165.7L121.4,165.7L120.3,165.6L119.2,165.6L118.2,165.8L117.1,166.2L116.2,166.6L116.0,166.8L114.9,167.7L114.5,167.9L113.8,168.5L112.7,168.9L111.7,169.2L111.6,169.3L110.5,169.8L109.4,170.5L109.3,170.5L108.3,171.1L107.2,171.4L106.2,171.7L105.5,171.8L105.1,172.0L104.0,172.2L102.9,172.0L102.7,171.8L101.8,171.2L100.7,170.6L99.6,170.5L98.5,171.0L97.4,171.7L97.2,171.8L96.3,172.6L95.5,173.1L95.2,173.3L94.1,173.9L93.1,174.2L92.0,174.1L90.9,173.7L90.3,173.1L89.8,172.4L89.2,173.1L89.8,174.0L90.1,174.4L90.6,175.8L90.7,177.1L90.3,178.4L89.8,178.8L88.7,179.7L88.7,179.7L87.6,180.1L86.5,180.3L85.4,180.2L84.3,179.7L84.3,179.7L83.2,178.7L82.2,178.4L82.1,178.3L81.0,178.2L80.0,178.2L78.9,178.1L77.8,178.0L76.7,178.1L76.0,178.4L75.6,178.5L74.5,179.2L73.8,179.7L73.4,180.0L72.5,181.0L72.3,181.2L71.7,182.3L71.2,183.6L71.2,183.6L70.6,184.9L70.1,185.8L69.9,186.2L69.0,187.2L68.5,187.5L67.9,187.7L66.8,187.6L66.4,187.5L65.8,187.2L64.7,186.7L63.6,186.3L63.1,186.2L62.5,186.0L61.4,186.1L61.3,186.2L60.3,186.9L59.9,187.5L59.2,188.6L59.1,188.8L58.1,189.5L57.0,189.6L55.9,189.1L55.3,188.8L54.8,188.6L53.8,188.2L52.7,188.0L51.6,187.8L50.5,187.6L50.1,187.5L49.4,187.1L48.3,186.3L48.1,186.2L47.2,185.1L47.1,184.9L46.5,183.6L46.1,182.6L46.0,182.3L45.3,181.0L45.0,180.4L44.3,179.7L43.9,179.2L42.8,178.4L42.8,178.4L42.7,177.1L42.8,176.9L43.9,175.8L43.9,175.7L45.0,174.8L45.4,174.4L46.1,174.1L47.2,173.6L48.2,173.1L48.3,173.1L49.4,172.6L50.5,172.2L51.5,171.8L51.6,171.8L52.7,171.3L53.8,171.1L54.5,171.8L54.8,172.0L55.9,172.8L56.3,173.1L57.0,173.6L58.1,173.7L58.7,173.1L59.2,172.4L59.4,171.8L59.7,170.5L59.4,169.2L59.2,169.1L58.7,169.2L58.1,169.4L57.0,169.8L55.9,170.2L54.8,170.3L53.8,170.1L53.2,169.2L52.7,168.2L52.6,167.9L52.4,166.6L52.3,165.3L52.3,164.0L52.2,162.7L52.0,161.4L52.3,160.1L52.7,159.6L53.2,158.8L53.8,157.9L53.9,157.5L54.4,156.2L54.7,154.9L54.8,154.4L55.1,153.6L55.3,152.3L54.9,151.0L54.8,150.9L54.1,149.7L53.8,149.1L53.3,148.4L52.8,147.1L52.7,146.8L52.1,145.8L51.7,144.5L51.6,143.3L51.5,143.2L51.3,141.9L50.9,140.6L50.5,139.8L50.0,139.3L49.4,138.6L49.0,138.0L48.5,136.7L48.3,135.8L48.2,135.4L48.1,134.1L48.1,132.8L48.1,131.5L47.9,130.2L47.8,128.9L47.7,127.6L47.8,126.2L48.1,124.9L48.3,124.5L48.6,123.6L49.2,122.3L49.3,121.0L49.0,119.7L48.8,118.4L49.4,117.7L50.0,118.4L50.5,119.5L50.5,119.7L50.8,121.0L51.6,121.7L52.1,122.3L52.7,122.7L53.6,123.6L53.8,123.8L54.7,124.9L54.8,125.1L55.9,125.7L57.0,126.2L57.0,126.3L58.1,127.1L58.6,127.6L59.2,128.3L59.7,128.9L60.1,130.2L60.2,131.5L60.3,132.2L60.4,132.8L61.4,134.0L62.5,133.9L63.2,132.8L63.6,131.7L63.6,131.5L63.7,130.2L63.6,129.4L63.4,128.9L62.5,127.6L62.5,127.5L61.4,126.3L61.4,126.2L60.8,124.9L60.8,123.6L61.2,122.3L61.4,121.9L61.6,121.0L62.0,119.7L62.4,118.4L62.5,118.3L63.2,117.1L63.6,116.6L64.5,115.8L64.7,115.5L65.8,114.9L66.8,114.9L67.5,114.5L67.9,114.3L68.7,113.2L69.0,112.7L69.4,111.9L70.0,110.6L70.1,110.3L70.5,109.3L71.2,108.1L71.3,108.0L72.3,107.3L73.4,107.5L74.0,108.0L74.5,108.7L74.9,109.3L75.0,110.6L75.1,111.9L75.4,113.2L75.6,113.6L76.7,114.3L77.8,113.2L77.8,113.2L78.0,111.9L77.9,110.6L78.0,109.3L78.6,108.0L78.9,107.7L79.9,106.9L81.0,107.0L82.1,107.7L82.5,108.0L83.2,108.7L84.1,109.3L84.3,109.5L85.4,109.8L86.5,109.7L87.5,109.3L87.6,109.3L88.7,108.6L89.4,108.0L89.8,107.7L90.8,106.7L90.9,106.7L92.0,105.9L92.8,105.4L93.0,105.3L94.1,104.6L94.8,104.1L95.2,103.7L96.3,102.9L96.5,102.8L97.4,101.7L97.5,101.5L97.9,100.2L98.2,98.9L98.5,97.6L98.5,97.3L98.8,96.3L99.1,95.0L99.3,93.7L99.6,92.7L99.7,92.4L100.5,91.1L100.7,90.8L101.5,89.8L101.8,89.5L102.9,88.6L103.1,88.5L104.0,88.1L105.1,87.8L106.2,87.4L106.7,87.2L107.2,87.0L108.3,86.2L108.7,85.9L109.4,85.0L109.9,84.6L110.5,83.8L111.3,83.3L111.6,82.9L112.7,82.1L112.8,82.0L113.2,80.7L112.7,79.5L112.6,79.3L112.3,78.0L112.6,76.7L112.7,76.6L113.8,75.7L114.2,75.4L114.9,75.1L115.9,74.1L116.0,74.1L116.5,72.8L116.7,71.5L116.8,70.2L116.9,68.9L117.1,67.6L117.1,67.6L117.4,66.3L117.7,65.0L117.9,63.7L118.0,62.4L118.2,61.5L118.2,61.1L118.8,59.8L119.2,59.2L120.1,58.5L120.3,58.4L121.4,58.2L122.1,58.5L122.5,58.8L123.5,59.8L123.6,59.9L124.7,60.9L124.9,61.1L125.8,61.7L126.9,62.4L126.9,62.4L128.0,62.8L129.1,62.7L129.6,62.4L130.2,61.1L129.7,59.8L129.1,59.0L128.9,58.5L128.5,57.2L128.4,55.9L128.5,54.6L129.0,53.3L129.1,53.1L130.2,52.0L130.2,52.0L131.1,50.7L131.3,50.5L131.7,49.4L132.0,48.1L132.3,47.0L132.4,46.8L133.4,45.7L134.5,45.7L135.6,45.8L136.7,46.1L137.8,46.3L138.9,46.3L140.0,46.3L141.1,46.3L142.2,46.2L143.3,45.9L143.9,45.5L144.4,45.0L144.8,44.2L145.4,42.9L145.4,42.8L146.5,41.6L146.5,41.5L147.6,41.0L148.7,40.6L149.5,40.3L149.8,40.1L150.7,39.0L150.9,38.7L151.4,37.7L151.9,36.4L152.0,36.1L152.5,35.1L153.0,33.8L153.1,32.7L153.1,32.4L153.1,32.0L153.0,31.1L152.4,29.8L152.0,29.1L150.9,28.7L150.3,28.5L149.8,28.1L149.3,27.2L149.8,26.1L150.0,25.9ZM168.4,102.8L168.3,102.8L167.3,103.2L166.5,104.1L166.7,105.4L167.3,106.5L167.4,106.7L168.0,108.0L168.2,109.3L168.4,110.2L168.5,110.6L169.5,111.6L170.0,111.9L170.6,112.2L171.7,112.4L172.7,112.5L173.8,112.8L174.6,113.2L174.9,113.4L176.0,114.4L176.2,114.5L177.1,115.8L177.1,115.8L177.8,117.1L178.0,118.4L178.1,119.7L178.1,121.0L177.9,122.3L177.3,123.6L177.1,124.2L176.9,124.9L177.1,126.0L177.2,126.2L177.9,127.6L178.2,128.3L178.4,128.9L179.0,130.2L179.3,130.4L180.4,131.1L181.5,131.3L182.6,131.3L183.7,131.2L184.8,131.2L185.8,131.3L186.9,131.4L188.0,131.2L189.1,130.4L189.3,130.2L189.7,128.9L189.7,127.6L189.5,126.2L189.1,125.3L189.0,124.9L188.1,123.6L188.0,123.5L186.9,122.8L185.8,122.9L184.8,123.1L183.7,123.3L182.6,123.4L181.5,123.2L180.6,122.3L180.4,121.0L180.4,121.0L180.2,119.7L180.2,118.4L180.4,117.5L180.4,117.1L180.8,115.8L181.5,114.6L181.5,114.5L181.8,113.2L181.7,111.9L181.5,111.5L181.1,110.6L180.4,109.4L180.3,109.3L179.3,108.1L179.3,108.0L178.2,107.0L177.9,106.7L177.1,106.0L176.5,105.4L176.0,104.9L175.3,104.1L174.9,103.8L173.9,102.8L173.8,102.8L172.7,102.3L171.6,102.2L170.6,102.4L169.5,102.6L168.4,102.8ZM215.3,60.5L214.4,61.1L214.2,61.7L214.1,62.4L214.2,62.7L214.5,63.7L215.3,65.0L215.3,65.0L216.4,66.0L217.1,66.3L217.5,66.5L218.0,66.3L218.6,65.4L218.7,65.0L218.6,64.7L218.3,63.7L217.6,62.4L217.5,62.3L216.4,61.1L216.4,61.1L215.3,60.5ZM274.3,64.7L274.2,65.0L273.8,66.3L273.9,67.6L274.3,68.0L274.5,67.6L274.8,66.3L274.8,65.0L274.3,64.7ZM323.4,100.2L323.4,100.2L323.4,100.2L324.5,101.0L325.6,101.2L326.7,100.4L326.8,100.2L326.7,100.1L325.6,99.6L324.5,99.5L323.4,100.2ZM345.2,80.3L344.8,80.7L344.4,82.0L344.8,83.3L345.2,83.9L346.3,84.1L347.2,83.3L347.3,82.0L346.7,80.7L346.3,80.4L345.2,80.3ZM348.5,85.4L348.1,85.9L347.5,87.2L347.4,87.3L346.9,88.5L346.3,89.4L346.1,89.8L345.2,91.0L345.1,91.1L344.2,92.4L344.1,92.4L343.0,93.5L342.4,93.7L341.9,93.9L340.9,93.9L339.8,93.9L338.7,93.9L337.6,93.9L336.5,93.8L335.4,93.9L334.3,94.5L333.9,95.0L333.2,95.9L333.0,96.3L332.4,97.6L332.3,98.9L332.5,100.2L333.2,101.5L333.2,101.6L333.9,102.8L334.3,103.4L334.9,104.1L335.4,104.5L336.5,105.2L337.4,105.4L337.6,105.4L338.0,105.4L338.7,105.3L339.8,105.1L340.9,104.8L341.9,104.6L343.0,104.3L343.5,104.1L344.1,103.8L345.2,103.0L345.5,102.8L346.2,101.5L346.3,100.9L346.5,100.2L347.0,98.9L347.4,98.6L348.5,98.4L349.6,98.5L350.7,98.2L351.8,97.7L351.9,97.6L352.9,96.9L353.6,96.3L354.0,95.9L354.6,95.0L354.8,93.7L354.7,92.4L354.5,91.1L354.2,89.8L354.0,89.0L353.8,88.5L353.3,87.2L352.9,86.3L352.5,85.9L351.8,85.3L350.7,85.1L349.6,85.1L348.5,85.4ZM399.8,157.0L398.9,157.5L398.7,158.4L398.6,158.8L398.7,158.9L399.8,159.4L400.9,158.9L401.1,158.8L401.7,157.5L400.9,156.8L399.8,157.0ZM61.4,143.9L61.1,144.5L61.3,145.8L61.4,145.9L61.5,145.8L62.0,144.5L61.4,143.9ZM101.8,122.3L101.3,122.3L100.7,122.4L99.6,122.6L98.5,122.9L97.4,123.4L96.9,123.6L96.3,124.0L95.2,124.5L94.3,124.9L94.1,125.1L93.0,125.9L92.5,126.2L92.0,127.3L91.8,127.6L92.0,127.8L93.0,128.7L93.3,128.9L94.1,129.1L95.2,129.7L95.9,130.2L96.3,130.3L97.4,130.9L98.5,131.2L99.6,131.1L100.7,130.7L101.6,130.2L101.8,130.0L102.9,129.1L103.2,128.9L104.0,127.9L104.2,127.6L104.7,126.2L104.8,124.9L104.6,123.6L104.0,122.7L103.1,122.3L102.9,122.3L101.8,122.3ZM128.0,121.5L127.3,122.3L126.9,123.0L126.6,123.6L126.1,124.9L125.8,125.7L125.2,126.2L124.7,126.5L123.6,126.7L122.5,126.9L121.4,127.3L120.9,127.6L120.3,127.9L119.3,128.9L119.2,128.9L118.5,130.2L118.4,131.5L118.9,132.8L119.2,133.1L120.3,133.8L121.2,134.1L121.4,134.1L122.5,134.1L122.5,134.1L123.6,133.7L124.7,133.2L125.5,132.8L125.8,132.5L126.8,131.5L126.9,131.3L128.0,130.4L129.1,130.5L130.2,130.9L131.3,131.3L131.8,131.5L132.3,131.6L133.4,131.8L134.5,132.0L135.6,132.0L136.7,131.9L137.8,131.7L138.9,131.5L139.4,131.5L140.0,131.4L141.0,131.5L141.1,131.5L142.2,131.8L143.3,132.2L144.4,132.5L145.4,132.5L146.5,132.1L147.6,131.5L147.6,131.4L148.4,130.2L148.5,128.9L148.2,127.6L147.6,126.6L147.4,126.2L146.5,125.3L146.1,124.9L145.4,124.5L144.4,124.2L143.3,124.2L142.2,124.2L141.1,124.3L140.0,124.3L138.9,124.4L137.8,124.4L136.7,124.4L135.6,124.3L134.5,124.0L133.7,123.6L133.4,123.5L132.3,122.8L131.7,122.3L131.3,122.0L130.2,121.4L129.1,121.1L128.0,121.5ZM131.3,72.7L131.2,72.8L130.8,74.1L130.8,75.4L130.8,76.7L130.5,78.0L130.2,79.0L130.1,79.3L129.8,80.7L129.9,82.0L130.2,82.6L131.1,83.3L131.3,83.3L131.4,83.3L132.3,82.8L132.9,82.0L133.3,80.7L133.4,79.3L133.4,78.0L133.4,76.7L133.4,75.8L133.4,75.4L133.4,75.4L133.2,74.1L132.5,72.8L132.3,72.5L131.3,72.7ZM218.6,134.0L218.4,134.1L218.1,135.4L218.4,136.7L218.6,137.1L218.9,138.0L219.2,139.3L219.4,140.6L219.3,141.9L219.0,143.2L218.8,144.5L219.1,145.8L219.7,146.6L220.1,147.1L220.8,147.7L221.9,148.4L222.0,148.4L223.0,148.5L223.1,148.4L224.1,147.4L224.2,147.1L224.1,146.1L224.0,145.8L223.5,144.5L223.2,143.2L223.1,141.9L223.1,140.6L223.0,139.3L223.0,139.1L222.5,138.0L221.9,136.9L221.6,136.7L220.8,135.7L220.5,135.4L219.7,134.6L218.7,134.1L218.6,134.0ZM340.9,115.8L340.6,115.8L339.8,116.3L338.8,117.1L338.7,117.4L338.4,118.4L338.6,119.7L338.7,119.9L339.8,120.8L340.2,121.0L340.9,121.2L342.0,121.6L343.0,122.2L343.4,122.3L344.1,122.7L345.2,122.9L346.3,122.9L347.4,122.7L348.5,122.4L348.7,122.3L349.6,122.0L350.7,121.7L351.8,121.5L352.9,121.4L354.0,121.4L355.1,121.3L355.7,121.0L355.2,119.7L355.1,119.6L354.0,118.4L354.0,118.4L352.9,117.7L351.8,117.4L350.7,117.3L350.2,117.1L349.6,117.0L348.5,116.5L347.5,115.8L347.4,115.8L346.3,115.2L345.2,114.9L344.1,114.9L343.0,115.1L341.9,115.4L340.9,115.8ZM481.3,25.9L481.7,25.2L482.8,24.7L483.9,25.6L484.1,25.9L483.9,26.7L482.8,27.2L481.7,26.5L481.3,25.9ZM97.3,29.8L97.4,29.7L98.5,29.5L99.4,29.8L99.6,29.9L100.7,30.6L101.4,31.1L101.7,32.4L100.7,33.7L100.7,33.8L99.6,34.3L98.5,34.2L98.0,33.8L97.4,33.0L97.2,32.4L96.9,31.1L97.3,29.8ZM17.3,32.4L17.7,32.1L18.8,32.0L19.9,32.2L21.0,32.4L22.1,32.2L23.2,31.8L24.0,32.4L24.0,33.8L23.5,35.1L23.2,35.7L22.9,36.4L22.2,37.7L22.1,37.8L21.2,39.0L21.0,39.2L19.9,39.7L18.8,39.6L17.7,39.0L17.7,38.9L17.1,37.7L16.9,36.4L16.8,35.1L16.8,33.8L17.3,32.4ZM495.1,32.4L495.9,32.0L496.0,32.4L495.9,32.7L495.1,32.4ZM482.3,39.0L482.8,38.8L483.9,38.4L485.0,38.0L486.1,37.9L486.9,39.0L487.0,40.3L487.1,41.4L487.2,41.6L487.7,42.9L488.1,44.2L488.2,45.5L487.7,46.8L487.1,47.9L487.0,48.1L486.1,49.4L486.1,49.5L485.0,50.5L484.1,50.7L483.9,50.7L483.7,50.7L482.9,49.4L483.0,48.1L482.8,46.8L482.8,46.6L482.4,45.5L481.8,44.2L481.7,43.9L481.1,42.9L480.6,41.8L480.4,41.6L480.3,40.3L480.6,39.9L481.7,39.3L482.3,39.0ZM455.3,45.5L455.5,45.4L456.6,44.9L457.7,44.6L458.8,44.5L459.9,44.5L460.9,44.8L462.0,45.2L463.0,45.5L463.1,45.5L464.2,45.8L465.3,45.9L466.4,46.1L467.5,46.7L467.5,46.8L467.7,48.1L467.5,48.6L467.3,49.4L467.1,50.7L467.2,52.0L467.5,53.3L467.5,53.5L467.6,54.6L467.5,55.0L467.2,55.9L466.4,56.7L465.7,57.2L465.3,57.4L464.2,57.5L463.6,57.2L463.1,56.9L462.2,55.9L462.0,55.8L460.9,54.8L460.5,54.6L459.9,54.4L458.8,54.5L458.5,54.6L457.7,54.8L456.6,54.7L456.5,54.6L455.8,53.3L455.5,52.2L455.4,52.0L455.0,50.7L454.6,49.4L454.4,48.7L454.2,48.1L454.3,46.8L454.4,46.7L455.3,45.5ZM163.4,48.1L164.0,47.7L165.1,47.2L166.2,47.2L167.3,48.1L167.3,48.1L168.4,49.4L168.4,49.4L169.3,50.7L169.5,51.1L169.9,52.0L170.4,53.3L170.6,53.7L171.0,54.6L171.7,55.8L171.7,55.9L172.0,57.2L171.7,58.2L171.5,58.5L170.8,59.8L170.7,61.1L170.6,61.5L169.6,61.1L169.5,61.0L169.1,59.8L168.4,59.3L167.3,59.0L166.2,58.9L165.1,58.8L164.3,58.5L164.0,58.3L163.3,57.2L163.0,55.9L162.9,54.6L163.1,53.3L163.3,52.0L163.2,50.7L163.0,49.4L163.4,48.1ZM471.9,49.4L472.9,48.6L473.9,49.4L473.8,50.7L472.9,51.9L472.1,50.7L471.9,49.4ZM415.8,50.7L416.2,50.5L417.3,50.5L417.8,50.7L418.4,50.9L419.5,51.7L419.9,52.0L420.5,52.5L421.3,53.3L421.6,53.6L422.5,54.6L422.7,55.0L423.5,55.9L423.8,56.6L424.9,56.8L425.3,55.9L425.8,54.6L426.0,54.1L426.3,53.3L427.1,52.4L428.2,52.1L429.3,52.2L430.4,52.3L431.5,52.5L432.6,52.8L433.6,53.0L434.7,53.2L435.1,53.3L435.8,53.4L436.9,53.5L438.0,53.7L439.1,53.8L440.2,53.9L441.3,54.1L442.4,54.2L443.5,54.2L444.6,54.4L445.3,54.6L445.7,54.7L446.8,55.1L447.8,55.4L448.9,55.7L449.8,55.9L450.0,56.0L451.1,56.4L452.2,56.7L453.3,57.1L453.4,57.2L453.4,58.5L453.3,58.7L452.7,59.8L452.2,60.4L451.7,61.1L451.2,62.4L452.1,63.7L452.2,63.8L453.3,64.3L454.0,65.0L454.4,65.2L455.5,66.2L455.7,66.3L456.6,67.0L457.7,67.6L457.7,67.6L458.8,67.9L459.9,68.1L460.9,68.2L462.0,68.3L463.1,68.4L464.2,68.3L465.3,68.1L466.4,67.7L466.7,67.6L467.5,67.3L468.6,67.2L469.7,67.5L469.9,67.6L470.8,68.0L471.9,68.7L472.4,68.9L472.9,69.1L474.0,69.3L475.1,69.0L475.3,68.9L476.2,68.3L477.2,67.6L477.3,67.5L478.4,67.1L479.5,67.1L480.6,67.4L481.1,67.6L481.7,68.0L482.8,68.5L483.9,68.9L483.9,68.9L485.0,69.1L486.0,69.3L487.1,69.4L488.2,69.3L489.3,69.0L489.6,68.9L490.4,68.4L491.5,67.7L491.8,67.6L492.6,67.4L493.7,67.4L494.7,67.6L494.8,67.6L495.9,68.0L497.0,68.5L497.5,68.9L498.1,69.3L499.1,69.9L500.2,70.2L500.5,70.2L501.3,70.4L502.4,70.7L503.5,71.3L503.9,71.5L504.6,72.0L505.7,72.7L505.9,72.8L506.8,73.6L507.1,74.1L507.9,75.4L507.9,75.5L508.5,76.7L509.0,77.9L509.1,78.0L510.1,79.3L510.4,79.3L511.2,80.0L512.2,79.6L512.4,79.3L513.3,78.9L514.3,78.0L514.4,78.0L515.5,77.5L516.6,77.6L517.2,78.0L517.3,79.3L516.9,80.7L516.6,81.2L516.0,82.0L515.5,82.5L514.4,82.3L513.7,82.0L513.3,81.7L512.2,81.2L511.2,81.4L510.7,82.0L510.1,82.8L509.9,83.3L509.7,84.6L509.8,85.9L509.7,87.2L509.1,88.5L509.0,88.6L508.3,89.8L507.9,90.6L507.6,91.1L507.0,92.4L506.8,92.7L505.7,93.0L505.1,92.4L504.6,92.1L503.5,91.1L503.5,91.1L502.4,90.5L501.3,90.1L500.4,89.8L500.2,89.7L499.1,89.6L498.1,89.8L498.1,89.8L497.0,90.9L496.9,91.1L496.4,92.4L496.2,93.7L496.3,95.0L496.7,96.3L497.0,96.6L497.6,97.6L498.1,98.1L499.1,98.9L499.2,98.9L500.2,99.4L501.3,99.6L502.4,100.0L502.7,100.2L503.5,101.0L503.8,101.5L504.6,102.5L504.9,102.8L505.7,103.5L506.8,104.1L506.8,104.1L507.9,104.6L509.0,105.2L509.2,105.4L510.1,105.9L511.2,106.3L512.2,106.5L513.3,106.5L514.4,106.4L515.5,106.3L516.6,106.2L517.7,106.2L518.8,106.3L519.9,106.4L520.8,106.7L521.0,106.8L522.1,107.3L523.2,107.3L523.9,106.7L524.3,106.5L525.3,105.4L525.4,105.4L526.4,104.7L527.5,104.3L528.6,104.2L529.7,104.2L530.8,104.5L531.9,105.1L532.2,105.4L533.0,106.0L533.8,106.7L534.1,107.1L534.8,108.0L535.2,109.3L535.1,110.6L534.6,111.9L534.1,112.6L533.5,113.2L533.0,113.7L531.9,114.5L531.9,114.5L530.8,115.2L529.7,115.7L528.6,115.8L527.5,115.1L527.2,114.5L526.7,113.2L526.4,112.6L526.0,111.9L525.4,110.8L524.3,110.7L523.8,111.9L523.8,113.2L524.1,114.5L524.3,114.9L524.8,115.8L525.4,116.8L525.6,117.1L526.3,118.4L526.4,118.8L526.7,119.7L526.8,121.0L526.8,122.3L526.8,123.6L526.9,124.9L527.2,126.2L527.5,127.5L527.5,127.6L528.1,128.9L528.6,129.6L529.7,129.9L530.8,129.5L531.5,128.9L531.9,128.5L533.0,127.8L534.1,127.6L535.2,128.0L536.2,128.9L536.3,128.9L537.2,130.2L537.4,130.7L537.6,131.5L537.8,132.8L538.0,134.1L538.5,135.2L538.5,135.4L539.3,136.7L539.5,137.0L540.5,138.0L540.6,138.1L541.7,138.6L542.8,138.5L543.7,138.0L543.9,137.9L545.0,136.9L545.3,136.7L546.1,135.8L546.5,135.4L547.2,134.8L548.3,134.2L548.5,134.1L549.4,133.8L550.5,133.8L551.4,134.1L551.5,134.1L552.6,134.9L553.1,135.4L553.3,136.7L553.0,138.0L552.9,139.3L553.6,140.6L553.7,140.7L554.8,141.7L554.8,141.9L554.8,143.2L554.8,144.5L554.8,145.8L554.8,147.1L554.8,148.4L554.8,148.5L553.7,148.5L552.6,148.7L551.5,149.0L550.6,149.7L550.5,149.9L549.6,151.0L549.4,151.2L548.3,151.9L547.8,152.3L547.2,152.6L546.1,153.1L545.0,153.4L543.9,153.3L542.8,152.9L541.7,152.4L540.6,152.4L539.5,153.3L539.3,153.6L538.5,154.9L538.4,154.9L537.8,156.2L537.8,157.5L538.5,158.7L538.5,158.8L539.3,160.1L539.5,161.0L539.6,161.4L539.7,162.7L539.6,164.0L539.5,164.1L539.0,165.3L538.5,166.0L537.4,166.5L537.0,166.6L536.3,166.9L535.2,167.4L534.1,167.8L533.7,167.9L533.0,168.1L531.9,168.1L531.5,167.9L530.8,167.6L529.7,166.8L529.4,166.6L528.6,166.3L527.5,166.5L527.1,166.6L526.4,166.8L525.4,167.0L524.3,167.4L523.2,167.7L522.1,167.9L521.0,167.9L519.9,167.7L518.8,167.5L517.7,167.4L516.6,167.5L515.5,167.6L514.4,167.8L514.1,167.9L513.3,168.3L512.2,168.9L511.2,169.2L511.2,169.3L510.1,169.3L510.0,169.2L509.0,169.0L507.9,168.6L506.8,168.3L505.7,167.9L505.7,167.9L504.6,167.7L503.5,167.6L502.4,167.5L501.3,167.5L500.2,167.6L499.1,167.8L498.9,167.9L498.1,168.4L497.0,169.2L496.9,169.2L495.9,170.2L495.4,170.5L494.8,170.9L493.7,171.3L492.6,171.5L491.5,171.5L490.4,171.4L489.3,171.4L488.2,171.6L487.1,171.7L486.1,171.7L485.0,171.5L483.9,171.5L483.1,171.8L482.8,172.0L481.7,172.9L481.3,173.1L480.6,173.8L479.5,174.4L479.5,174.5L478.4,175.1L477.3,175.6L476.8,175.8L476.2,176.0L475.1,176.2L474.0,175.8L473.9,175.8L472.9,175.2L471.9,174.7L471.2,174.4L470.8,174.3L469.7,174.1L468.6,173.9L467.5,173.3L467.3,173.1L466.4,172.2L466.1,171.8L465.7,170.5L465.6,169.2L465.7,167.9L465.8,166.6L465.6,165.3L465.3,164.8L464.6,164.0L464.2,163.7L463.1,163.1L462.4,162.7L462.0,162.5L460.9,161.5L460.9,161.4L460.1,160.1L459.9,158.8L460.1,157.5L460.6,156.2L460.9,155.1L461.0,154.9L461.2,153.6L461.1,152.3L461.0,151.0L460.9,150.8L460.5,149.7L459.9,149.0L458.8,149.2L458.0,149.7L457.7,149.8L456.6,149.8L456.5,149.7L455.9,148.4L456.3,147.1L456.6,146.4L456.9,145.8L457.4,144.5L457.7,143.8L457.9,143.2L458.6,141.9L458.8,141.5L459.2,140.6L459.1,139.3L458.8,138.9L457.7,138.0L457.7,138.0L456.6,137.6L455.5,137.5L454.4,137.7L453.9,138.0L453.3,138.4L452.4,139.3L452.2,139.6L451.1,140.3L450.0,140.5L449.4,140.6L448.9,140.7L447.8,141.5L447.5,141.9L446.8,142.8L446.3,143.2L445.7,143.7L444.6,143.8L443.5,143.3L443.3,143.2L442.4,142.3L442.0,141.9L441.3,140.8L441.2,140.6L440.7,139.3L440.5,138.0L440.3,136.7L440.2,136.2L439.7,135.4L439.1,134.9L438.0,134.8L436.9,134.7L435.8,134.3L435.4,134.1L434.7,133.7L433.7,132.8L433.6,132.7L432.6,131.5L432.6,131.4L431.8,130.2L431.7,128.9L432.1,127.6L432.6,126.7L433.0,126.2L433.6,125.2L433.9,124.9L434.6,123.6L434.7,123.3L435.8,122.6L436.1,122.3L436.9,121.8L437.5,121.0L438.0,119.7L438.0,119.3L438.1,118.4L438.0,117.5L438.0,117.1L437.3,115.8L436.9,115.6L435.8,115.4L434.7,115.1L434.1,114.5L433.6,114.1L433.2,113.2L432.7,111.9L432.6,111.4L432.4,110.6L431.8,109.3L431.5,108.9L430.4,108.2L429.9,108.0L429.3,107.8L428.2,107.6L427.1,107.4L426.0,106.8L426.0,106.7L424.9,105.5L424.8,105.4L424.2,104.1L423.8,103.4L423.5,102.8L422.8,101.5L422.7,101.4L421.7,100.2L421.6,100.2L420.6,99.4L419.7,98.9L419.5,98.8L418.4,98.4L417.3,98.2L416.2,98.0L415.1,97.6L414.9,97.6L414.0,97.1L413.1,96.3L412.9,96.1L412.1,95.0L411.8,94.7L411.2,93.7L410.7,93.0L410.4,92.4L409.8,91.1L409.6,90.7L409.3,89.8L408.8,88.5L408.5,87.7L408.3,87.2L407.5,85.9L407.4,85.7L406.4,84.6L406.3,84.6L405.3,83.8L404.2,83.6L403.1,83.5L402.8,83.3L402.0,82.5L401.7,82.0L400.9,80.9L400.8,80.7L399.8,79.4L399.8,79.3L398.7,78.0L398.7,78.0L397.9,76.7L397.7,75.4L397.6,75.0L397.3,74.1L396.5,73.5L395.4,73.5L394.4,73.8L393.4,74.1L393.3,74.2L392.9,74.1L392.2,74.0L391.8,72.8L391.6,71.5L391.3,70.2L391.1,69.3L391.0,68.9L390.4,67.6L390.0,66.8L388.9,66.4L387.8,66.6L386.7,66.7L386.0,66.3L385.6,66.0L385.2,65.0L385.1,63.7L385.2,62.4L385.6,61.2L385.7,61.1L386.7,60.7L387.8,61.1L387.9,61.1L388.9,61.9L389.4,62.4L390.0,63.2L391.1,63.5L392.2,63.3L393.3,63.1L394.4,63.1L395.3,63.7L395.4,65.0L395.4,66.1L395.5,66.3L396.0,67.6L396.5,68.3L397.6,68.8L398.7,68.2L399.3,67.6L399.8,67.1L400.9,66.6L402.0,66.7L403.1,67.0L404.2,67.2L405.3,67.0L406.4,66.5L406.6,66.3L407.3,65.0L407.4,64.4L407.6,63.7L407.8,62.4L408.5,61.2L408.6,61.1L409.6,60.1L410.0,59.8L410.7,59.1L411.3,58.5L411.8,57.9L412.3,57.2L412.8,55.9L412.9,55.4L413.0,54.6L413.2,53.3L414.0,52.2L414.1,52.0L415.1,51.1L415.8,50.7ZM418.4,61.0L418.2,61.1L417.3,62.4L417.2,62.4L416.8,63.7L416.9,65.0L417.3,66.0L417.7,66.3L418.4,66.5L418.7,66.3L419.5,65.9L420.3,65.0L420.6,64.5L420.9,63.7L421.1,62.4L420.7,61.1L420.6,61.0L419.5,60.7L418.4,61.0ZM444.6,128.8L444.5,128.9L443.8,130.2L443.8,131.5L444.6,132.3L445.3,132.8L445.7,132.9L446.8,132.9L446.9,132.8L447.5,131.5L447.2,130.2L446.8,129.2L446.5,128.9L445.7,128.3L444.6,128.8ZM517.7,121.7L517.5,122.3L517.7,122.6L518.8,123.1L519.4,122.3L518.8,121.1L517.7,121.7ZM548.3,145.0L547.3,145.8L547.8,147.1L548.3,147.6L549.0,147.1L548.8,145.8L548.3,145.0ZM411.8,70.8L411.4,71.5L411.8,71.7L412.0,71.5L411.8,70.8ZM352.6,55.9L352.9,55.8L353.6,55.9L354.0,56.0L355.1,56.8L355.4,57.2L356.1,58.2L356.4,58.5L357.2,59.6L357.4,59.8L357.7,61.1L357.2,61.5L356.2,62.4L356.1,62.5L355.1,62.9L354.0,62.9L352.9,62.5L352.8,62.4L351.8,61.7L350.7,61.2L350.3,61.1L349.6,60.5L349.0,59.8L348.9,58.5L349.6,57.7L350.4,57.2L350.7,57.1L351.8,56.3L352.6,55.9ZM404.1,58.5L404.2,58.5L405.3,58.2L406.4,58.4L406.4,58.5L406.4,59.8L406.4,59.8L405.3,60.9L404.9,61.1L404.2,61.3L403.5,61.1L403.1,60.6L403.0,59.8L403.1,59.6L404.1,58.5ZM360.9,68.9L361.6,68.5L362.7,68.3L363.8,68.8L363.9,68.9L364.2,70.2L363.9,71.5L363.8,71.7L362.7,72.3L361.6,72.0L360.9,71.5L360.5,70.6L360.3,70.2L360.5,69.8L360.9,68.9ZM67.4,78.0L67.9,78.0L68.2,78.0L69.0,78.6L69.8,79.3L70.1,80.3L70.2,80.7L70.1,81.0L69.0,81.9L67.9,81.7L66.8,80.9L66.7,80.7L66.4,79.3L66.8,78.3L67.4,78.0ZM392.7,80.7L393.3,79.8L394.4,79.7L394.8,80.7L395.2,82.0L395.4,83.1L395.5,83.3L395.6,84.6L395.4,85.2L395.2,85.9L394.4,86.5L393.3,86.4L392.3,85.9L392.2,85.7L391.5,84.6L391.5,83.3L391.8,82.0L392.2,81.2L392.7,80.7ZM12.9,89.8L13.4,89.5L14.4,89.5L14.7,89.8L15.2,91.1L15.1,92.4L14.8,93.7L14.4,94.4L13.9,95.0L13.4,95.4L12.3,95.6L12.3,95.0L12.3,93.7L12.3,92.4L12.3,91.1L12.3,90.0L12.9,89.8ZM554.8,92.4L554.8,92.3L554.8,92.4L554.8,92.6L554.8,92.4ZM41.5,93.7L41.7,93.6L42.8,93.4L43.3,93.7L43.1,95.0L42.8,95.2L42.1,96.3L41.7,96.7L41.2,97.6L40.6,98.4L40.1,98.9L39.6,99.4L39.0,98.9L39.0,97.6L39.4,96.3L39.6,95.9L40.2,95.0L40.6,94.4L41.5,93.7ZM529.4,93.7L529.7,93.4L529.8,93.7L529.7,93.9L529.4,93.7ZM540.2,93.7L540.6,93.3L541.7,93.5L542.1,93.7L542.6,95.0L541.7,95.4L540.6,95.4L540.1,95.0L540.2,93.7ZM12.3,104.1L12.3,103.3L12.8,104.1L13.0,105.4L12.7,106.7L12.3,107.1L12.3,106.7L12.3,105.4L12.3,104.1ZM59.8,105.4L60.3,105.0L61.4,104.7L62.5,104.8L63.6,105.1L64.4,105.4L64.7,105.5L65.8,106.1L66.5,106.7L66.8,107.2L67.2,108.0L67.3,109.3L66.9,110.6L66.8,110.9L66.2,111.9L65.8,112.5L64.7,112.0L64.7,111.9L63.6,110.8L63.4,110.6L62.5,109.7L62.0,109.3L61.4,108.7L60.4,108.0L60.3,107.9L59.4,106.7L59.8,105.4ZM394.6,109.3L395.4,108.7L396.5,108.3L397.6,108.7L398.0,109.3L397.6,109.9L396.5,110.3L395.4,109.8L394.6,109.3ZM15.5,126.2L15.5,126.2L16.6,125.9L17.7,126.2L17.8,126.2L18.0,127.6L17.7,128.0L17.2,128.9L16.6,129.7L16.4,130.2L16.0,131.5L15.8,132.8L15.7,134.1L15.7,135.4L16.0,136.7L16.6,137.4L17.7,137.7L18.8,137.7L19.9,137.9L20.0,138.0L21.0,138.4L22.1,138.8L23.2,138.9L24.3,138.7L25.4,138.4L26.5,138.7L27.3,139.3L27.6,139.4L28.6,139.7L29.7,139.9L30.8,140.0L31.9,140.2L33.0,140.3L34.1,140.3L35.2,140.2L36.3,140.3L36.8,140.6L36.8,141.9L36.3,143.2L36.3,143.2L35.8,144.5L35.2,145.6L35.1,145.8L34.1,146.7L33.0,147.0L32.7,147.1L31.9,147.3L30.8,147.5L29.7,147.7L28.6,148.1L28.0,148.4L27.6,148.6L26.5,149.1L25.4,149.3L24.3,149.2L23.2,148.9L22.1,148.6L21.0,148.9L20.1,149.7L20.1,151.0L21.0,151.6L22.1,152.1L22.3,152.3L23.2,153.0L23.6,153.6L24.0,154.9L23.4,156.2L23.2,156.4L22.1,156.8L21.0,157.0L19.9,157.2L19.3,157.5L18.8,157.9L18.3,158.8L18.0,160.1L17.7,161.0L17.6,161.4L16.9,162.7L16.6,163.2L16.0,164.0L15.5,164.5L14.8,165.3L14.4,165.7L13.4,166.4L12.8,166.6L12.3,166.8L12.3,166.6L12.3,165.3L12.3,164.0L12.3,162.7L12.3,161.4L12.3,160.1L12.3,158.8L12.3,157.5L12.3,156.2L12.3,154.9L12.3,153.6L12.3,152.3L12.3,151.0L12.3,149.7L12.3,148.4L12.3,147.1L12.3,145.8L12.3,144.5L12.3,143.2L12.3,141.9L12.3,140.6L12.3,139.3L12.3,138.0L12.3,136.7L12.3,135.4L12.3,134.1L12.3,132.8L12.3,131.5L12.3,130.2L12.3,129.7L13.4,128.9L13.4,128.9L14.4,127.6L14.5,127.6L15.5,126.2ZM416.4,126.2L417.3,125.2L418.3,126.2L417.3,126.9L416.4,126.2ZM423.5,134.1L423.8,133.9L424.9,134.0L425.1,134.1L425.8,135.4L425.2,136.7L424.9,136.9L423.8,137.4L422.7,137.8L422.3,138.0L421.6,138.2L420.6,138.2L420.4,138.0L420.6,137.0L420.6,136.7L421.5,135.4L421.6,135.3L422.7,134.5L423.5,134.1ZM413.1,145.8L414.0,144.8L415.1,145.0L415.4,145.8L415.4,147.1L415.1,147.8L414.6,148.4L414.0,148.7L413.0,148.4L412.9,148.3L412.7,147.1L412.9,146.1L413.1,145.8Z"/><path fill="#e6e6ff" fill-rule="evenodd" d="M220.7,54.6L220.8,54.6L221.9,53.9L223.0,53.5L224.1,53.3L225.1,53.4L226.2,53.7L227.3,54.2L228.4,54.6L228.5,54.6L229.5,54.9L230.6,55.0L231.7,55.1L232.8,55.4L233.9,55.8L235.0,55.8L236.1,55.0L237.2,54.8L238.0,55.9L238.2,56.6L238.3,57.2L238.5,58.5L238.6,59.8L238.5,61.1L238.2,62.0L238.0,62.4L237.2,63.3L236.5,63.7L236.1,64.3L235.0,64.1L234.6,63.7L233.9,63.5L232.8,63.4L231.7,63.7L231.6,63.7L230.6,64.2L229.5,64.7L228.6,65.0L228.4,65.1L227.3,65.3L226.2,65.5L225.1,65.6L224.1,65.9L223.0,66.0L221.9,65.9L220.9,65.0L220.8,64.9L220.1,63.7L219.7,63.0L219.3,62.4L218.6,61.1L218.6,61.1L217.9,59.8L217.6,58.5L218.0,57.2L218.6,56.4L219.0,55.9L219.7,55.4L220.7,54.6ZM429.8,54.6L430.4,54.3L431.5,54.1L432.6,54.0L433.6,54.0L434.7,54.1L435.8,54.2L436.9,54.3L438.0,54.5L438.7,54.6L439.1,54.7L440.2,55.1L441.3,55.6L442.3,55.9L442.4,56.0L443.5,56.5L444.6,57.0L444.9,57.2L445.7,57.8L446.6,58.5L446.8,58.8L447.3,59.8L447.5,61.1L447.2,62.4L446.8,63.4L446.4,63.7L445.7,64.6L444.6,64.5L443.5,64.2L442.4,64.4L441.3,65.0L441.2,65.0L440.2,65.8L439.4,66.3L439.1,66.6L438.2,67.6L438.6,68.9L439.1,69.3L440.2,69.5L441.3,69.4L442.4,69.1L443.0,68.9L443.5,68.7L444.6,68.0L445.2,67.6L445.7,67.2L446.8,66.8L447.8,66.8L448.9,66.9L450.0,66.8L451.1,66.7L452.2,66.7L453.3,67.0L454.2,67.6L454.4,67.7L455.5,68.6L455.8,68.9L456.6,69.5L457.6,70.2L457.7,70.3L458.8,70.7L459.9,70.8L460.9,70.6L462.0,70.3L462.7,70.2L463.1,70.2L464.2,70.0L465.3,69.9L466.4,69.7L467.5,69.4L468.6,69.4L469.7,69.6L470.8,70.1L471.1,70.2L471.9,70.5L472.9,70.9L474.0,71.1L475.1,71.0L476.2,70.7L477.3,70.2L477.3,70.2L478.4,69.9L479.4,70.2L479.5,70.3L480.6,71.2L481.1,71.5L481.7,71.9L482.8,72.2L483.9,72.2L485.0,72.1L486.1,72.0L487.1,71.8L488.2,71.7L489.2,71.5L489.3,71.5L490.4,71.2L491.5,70.7L492.4,70.2L492.6,70.2L493.7,70.0L494.8,70.2L494.9,70.2L495.9,70.7L497.0,71.5L497.0,71.5L498.1,72.6L498.3,72.8L499.1,73.4L500.2,73.7L501.3,73.9L502.0,74.1L502.4,74.3L503.5,74.7L504.6,75.3L504.8,75.4L505.7,76.6L505.8,76.7L506.2,78.0L506.3,79.3L506.2,80.7L506.1,82.0L505.9,83.3L505.8,84.6L505.7,85.3L505.6,85.9L505.3,87.2L504.6,88.0L503.5,88.4L502.4,88.3L501.3,87.9L500.2,87.3L499.9,87.2L499.1,86.2L498.9,85.9L498.7,84.6L498.3,83.3L498.1,82.9L497.0,82.0L495.9,82.1L495.1,83.3L495.1,84.6L495.4,85.9L495.7,87.2L495.5,88.5L495.1,89.8L494.8,90.7L494.6,91.1L494.2,92.4L493.7,93.7L493.7,93.8L493.2,95.0L492.6,96.1L492.5,96.3L492.0,97.6L491.9,98.9L492.4,100.2L492.6,100.4L493.7,100.8L494.8,100.3L494.9,100.2L495.9,99.7L497.0,100.0L497.3,100.2L498.1,100.6L499.1,101.2L500.0,101.5L500.2,101.6L501.3,102.1L502.3,102.8L502.4,102.9L503.5,104.0L503.6,104.1L504.6,105.0L505.2,105.4L505.7,105.8L506.8,106.4L507.4,106.7L507.9,107.0L509.0,107.7L509.5,108.0L510.1,108.5L511.2,108.8L512.2,108.6L513.3,108.2L514.2,108.0L514.4,108.0L515.5,107.9L516.6,107.9L517.0,108.0L517.7,108.4L518.6,109.3L518.8,110.1L518.9,110.6L519.2,111.9L519.6,113.2L519.9,114.1L520.0,114.5L519.9,115.1L519.6,115.8L518.8,116.4L517.8,117.1L517.7,117.2L516.6,117.7L515.5,118.2L514.6,118.4L514.4,118.5L513.3,119.0L512.9,119.7L512.4,121.0L512.5,122.3L513.3,123.1L514.1,123.6L514.4,123.8L515.5,124.4L516.2,124.9L516.6,125.3L517.7,126.2L517.8,126.2L518.8,127.1L519.9,127.3L521.0,127.2L522.1,127.0L523.2,127.2L523.4,127.6L524.1,128.9L524.3,129.4L524.4,130.2L524.5,131.5L524.6,132.8L524.5,134.1L524.3,134.8L524.1,135.4L523.8,136.7L523.8,138.0L524.3,138.3L524.7,138.0L525.4,137.5L526.0,136.7L526.4,136.2L527.1,135.4L527.5,135.0L528.6,134.2L529.0,134.1L529.7,133.8L530.8,133.6L531.9,133.5L533.0,133.9L533.1,134.1L533.9,135.4L534.1,135.8L534.5,136.7L535.2,137.9L535.2,138.0L536.2,139.3L536.3,139.3L537.4,140.4L537.5,140.6L538.5,141.7L538.6,141.9L539.2,143.2L539.5,144.2L539.6,144.5L540.0,145.8L540.2,147.1L540.0,148.4L539.5,149.0L539.2,149.7L538.5,150.7L538.3,151.0L537.5,152.3L537.4,152.6L536.6,153.6L536.3,154.0L535.2,154.9L535.2,154.9L534.1,156.0L533.9,156.2L533.5,157.5L533.8,158.8L534.1,159.3L534.9,160.1L535.2,160.5L536.0,161.4L536.0,162.7L535.2,163.5L534.4,164.0L534.1,164.1L533.0,164.1L532.9,164.0L531.9,163.0L531.7,162.7L530.8,161.9L529.7,161.6L528.6,161.7L527.5,162.1L526.5,162.7L526.4,162.8L525.6,164.0L525.4,164.3L524.4,165.3L524.3,165.4L523.2,165.8L522.1,166.1L521.0,166.1L519.9,166.0L518.8,166.0L517.7,166.0L516.6,166.0L515.5,166.0L514.4,165.9L513.3,166.0L512.2,166.3L511.5,166.6L511.2,166.7L510.1,167.0L509.0,167.0L507.9,166.7L507.8,166.6L506.8,166.3L505.7,165.8L504.6,165.5L503.5,165.5L502.4,165.5L501.3,165.7L500.2,165.8L499.1,165.9L498.1,166.1L497.0,166.3L495.9,166.6L495.9,166.6L494.8,166.9L493.7,167.1L492.6,167.2L491.5,167.2L490.4,167.5L489.9,167.9L489.3,168.4L488.2,169.2L488.2,169.2L487.1,169.5L486.1,169.3L486.0,169.2L485.0,168.7L483.9,168.3L482.8,168.6L482.1,169.2L481.7,169.6L480.7,170.5L480.6,170.7L479.5,171.4L478.5,171.8L478.4,171.9L477.3,172.2L476.2,172.6L475.1,172.9L474.0,172.7L472.9,172.2L472.2,171.8L471.9,171.6L470.8,171.4L469.7,171.4L468.6,171.1L467.9,170.5L467.5,169.8L467.4,169.2L467.5,167.9L467.5,167.8L467.8,166.6L468.0,165.3L467.9,164.0L467.5,163.2L467.2,162.7L466.4,162.1L465.3,161.4L465.3,161.4L464.2,160.7L463.5,160.1L463.1,159.4L462.9,158.8L463.0,157.5L463.1,157.2L463.6,156.2L464.0,154.9L464.1,153.6L464.1,152.3L464.2,151.6L464.3,151.0L464.7,149.7L465.0,148.4L465.1,147.1L464.8,145.8L464.2,145.2L463.1,144.5L463.1,144.5L462.1,143.2L462.5,141.9L463.1,140.6L463.2,140.6L464.2,139.3L464.4,139.3L465.3,138.3L466.0,139.3L466.4,139.4L467.5,139.6L467.9,139.3L468.6,138.0L468.6,138.0L468.6,137.9L468.0,136.7L467.5,136.2L466.7,136.7L466.4,137.0L465.3,137.9L464.2,137.5L463.1,136.8L462.8,136.7L462.0,136.5L460.9,136.3L459.9,135.8L459.1,135.4L458.8,135.2L457.7,134.3L457.3,134.1L456.6,133.0L456.4,132.8L455.7,131.5L455.5,131.1L454.4,130.2L454.3,130.2L453.3,129.7L452.2,128.9L452.2,128.9L452.0,127.6L452.2,127.0L452.4,126.2L453.0,124.9L453.3,124.2L453.6,123.6L453.9,122.3L454.0,121.0L453.8,119.7L453.7,118.4L454.3,117.1L454.4,117.0L455.5,116.1L456.0,115.8L456.6,115.4L457.7,114.6L457.7,114.5L457.8,113.2L457.7,113.0L457.1,111.9L456.6,111.4L455.5,111.2L454.4,111.6L453.8,111.9L453.3,112.3L452.4,113.2L452.2,113.6L451.7,114.5L451.4,115.8L451.1,116.7L450.9,117.1L450.0,117.9L448.9,118.4L448.9,118.4L447.8,118.6L446.8,118.6L446.2,118.4L445.7,118.0L445.2,117.1L445.5,115.8L445.5,114.5L444.8,113.2L444.6,113.0L443.5,112.5L442.4,112.2L441.6,111.9L441.3,111.8L440.2,111.2L439.1,110.7L438.0,110.6L436.9,110.7L435.9,110.6L435.8,110.6L434.9,109.3L434.7,109.2L433.7,108.0L433.6,108.0L432.6,107.4L431.5,107.0L430.7,106.7L430.4,106.6L429.3,106.4L428.2,106.1L427.1,105.6L426.8,105.4L426.0,104.6L425.7,104.1L425.1,102.8L424.9,102.4L424.5,101.5L423.9,100.2L423.8,100.0L422.7,98.9L422.7,98.9L421.6,98.2L420.6,97.6L420.5,97.6L419.5,97.1L418.4,96.7L417.3,96.3L417.3,96.3L416.2,95.8L415.1,95.1L415.0,95.0L414.0,94.2L413.5,93.7L412.9,93.2L412.2,92.4L411.8,92.0L411.2,91.1L410.7,90.1L410.6,89.8L410.1,88.5L409.7,87.2L409.6,87.1L409.2,85.9L408.7,84.6L408.5,84.1L408.2,83.3L408.1,82.0L408.4,80.7L408.5,80.2L408.8,79.3L409.3,78.0L409.6,77.6L410.7,76.8L410.8,76.7L411.8,76.2L412.9,75.6L413.1,75.4L414.0,74.9L415.1,74.2L415.2,74.1L416.2,73.4L416.8,72.8L417.3,72.2L417.7,71.5L418.4,70.5L418.6,70.2L419.5,69.1L419.7,68.9L420.5,68.1L421.0,67.6L421.6,66.8L421.9,66.3L422.6,65.0L422.7,64.8L423.3,63.7L423.8,62.9L424.2,62.4L424.9,61.8L425.7,61.1L426.0,60.8L426.7,59.8L427.1,59.0L427.3,58.5L427.8,57.2L428.2,56.4L428.5,55.9L429.3,55.0L429.8,54.6ZM466.4,93.1L465.4,93.7L465.3,93.8L465.1,95.0L465.3,95.3L466.4,95.8L467.5,95.9L468.6,95.9L469.7,96.3L469.7,96.3L470.8,96.5L471.8,96.3L471.9,96.2L472.4,95.0L471.9,94.5L470.8,93.7L470.7,93.7L469.7,93.6L468.6,93.4L467.5,93.1L466.4,93.1ZM477.3,89.5L476.3,89.8L476.2,89.8L475.1,90.8L474.9,91.1L474.3,92.4L474.1,93.7L474.3,95.0L475.1,95.9L475.4,96.3L476.2,96.9L477.1,97.6L477.3,97.7L478.4,98.0L479.5,98.0L480.6,97.7L480.8,97.6L481.7,97.1L482.8,96.3L482.8,96.3L483.9,95.5L484.5,95.0L485.0,94.6L485.8,93.7L486.0,93.2L486.6,92.4L487.1,91.1L486.3,89.8L486.1,89.7L485.0,89.5L483.9,89.5L482.8,89.6L481.7,89.7L480.6,89.7L479.5,89.6L478.4,89.5L477.3,89.5ZM466.4,126.1L465.9,126.2L465.3,126.3L464.2,126.6L463.1,127.0L462.4,127.6L462.0,128.3L461.9,128.9L462.0,129.2L462.6,130.2L463.1,130.7L464.2,131.5L464.2,131.5L465.3,131.9L466.4,132.1L467.5,132.3L468.6,131.7L468.7,131.5L469.4,130.2L469.6,128.9L469.3,127.6L468.7,126.2L468.6,125.9L467.5,125.8L466.4,126.1ZM470.8,119.7L470.8,119.7L469.7,120.5L469.3,121.0L468.6,122.3L468.5,122.3L468.6,123.6L468.6,123.8L469.7,123.6L469.7,123.6L470.8,122.4L470.8,122.3L471.1,121.0L470.8,119.7L470.8,119.7ZM149.6,61.1L149.8,60.8L150.9,60.1L152.0,60.8L152.2,61.1L153.1,62.4L153.1,62.4L154.2,63.7L154.2,63.7L155.3,64.5L156.1,65.0L156.4,65.2L157.5,66.2L157.6,66.3L158.4,67.6L158.6,68.1L158.8,68.9L159.1,70.2L159.2,71.5L158.6,72.1L157.5,72.1L156.4,72.1L155.3,72.5L154.9,72.8L155.1,74.1L155.3,74.4L156.0,75.4L156.4,75.8L157.5,76.6L158.2,76.7L158.6,76.8L159.0,76.7L159.6,76.6L160.7,76.0L161.3,75.4L161.8,74.8L162.9,74.7L164.0,75.2L164.3,75.4L165.1,76.3L165.6,76.7L166.2,77.2L167.3,77.6L168.4,77.6L169.5,77.1L170.0,76.7L170.6,76.5L171.7,76.3L172.7,76.5L173.5,76.7L173.8,76.9L174.9,77.4L176.0,77.8L176.5,78.0L176.6,79.3L176.0,79.6L174.9,80.2L174.3,80.7L173.8,81.0L172.9,82.0L172.8,83.3L173.3,84.6L173.8,85.2L174.4,85.9L174.9,86.3L176.0,87.0L176.7,87.2L177.1,87.3L178.2,87.3L178.7,87.2L179.3,87.0L180.4,86.7L181.4,85.9L181.5,85.5L181.8,84.6L182.0,83.3L182.2,82.0L182.3,80.7L182.3,79.3L182.6,78.5L182.7,78.0L183.4,76.7L183.7,76.5L184.8,75.6L185.3,75.4L185.8,75.3L186.9,75.4L187.0,75.4L188.0,75.9L189.0,76.7L189.1,77.2L190.2,77.8L191.3,77.8L191.8,78.0L192.4,78.2L193.5,78.6L194.6,79.3L194.9,79.3L195.7,79.4L195.7,79.3L196.1,78.0L196.1,76.7L196.1,75.4L196.5,74.1L196.8,73.9L197.9,72.8L197.9,72.8L198.9,71.9L199.3,71.5L200.0,70.7L200.4,70.2L201.1,69.6L202.0,68.9L202.2,68.8L203.3,68.6L204.4,68.6L205.5,68.7L206.6,68.4L207.3,67.6L207.7,66.6L207.8,66.3L208.1,65.0L208.7,63.7L208.8,63.5L209.9,62.9L210.9,63.2L211.5,63.7L212.0,64.1L212.9,65.0L213.1,65.3L214.0,66.3L214.2,66.7L214.9,67.6L215.3,68.3L215.8,68.9L216.4,69.8L217.2,70.2L217.5,70.3L218.6,70.5L219.7,70.6L220.8,71.0L221.8,71.5L221.9,71.6L223.0,72.0L224.1,72.2L225.1,72.3L226.2,72.0L227.2,71.5L227.3,71.5L228.4,70.8L229.3,70.2L229.5,70.1L230.6,69.5L231.7,69.2L232.5,68.9L232.8,68.8L233.9,68.1L234.4,67.6L235.0,66.8L236.1,66.7L236.6,67.6L237.2,68.3L237.6,68.9L238.2,69.8L239.1,70.2L239.3,70.4L239.7,70.2L240.4,69.8L241.2,68.9L241.5,68.8L242.6,68.7L243.6,68.9L243.7,69.0L244.8,69.2L245.9,69.0L246.0,68.9L247.0,68.5L248.1,67.7L248.1,67.6L249.2,66.8L250.2,66.3L250.2,66.3L250.3,66.3L251.3,66.8L252.2,67.6L252.4,67.9L253.5,68.8L254.1,68.9L254.6,69.0L255.7,69.2L256.8,69.5L257.9,70.0L258.7,70.2L259.0,70.3L260.1,70.6L261.2,70.8L262.3,70.8L263.4,70.8L264.4,70.6L265.5,70.5L266.6,70.5L267.7,70.5L268.8,70.5L269.9,70.6L271.0,70.9L271.9,71.5L272.1,71.7L273.2,72.4L274.0,72.8L274.3,72.9L275.4,73.0L276.2,72.8L276.4,72.8L277.5,71.7L277.7,71.5L278.0,70.2L278.3,68.9L278.6,68.1L279.7,68.4L280.1,68.9L280.8,69.6L281.6,70.2L281.9,70.5L283.0,71.1L284.1,71.3L285.2,71.5L285.2,71.5L286.3,71.9L287.4,72.3L288.1,72.8L288.5,73.1L289.3,74.1L289.6,74.5L290.2,75.4L290.6,75.9L291.2,76.7L291.7,77.4L292.3,78.0L292.8,78.4L293.9,79.0L294.9,79.3L295.0,79.4L296.1,79.4L297.1,79.3L297.2,79.3L298.3,79.0L299.4,78.4L300.3,78.0L300.5,77.9L301.6,77.8L302.6,78.0L302.8,78.0L303.7,78.2L304.8,78.2L305.9,78.1L306.0,78.0L307.0,77.8L308.1,77.7L309.2,77.6L310.3,77.5L311.4,77.1L311.8,76.7L312.5,76.0L313.0,75.4L313.6,75.0L314.7,74.6L315.8,74.6L316.8,75.0L317.7,75.4L317.9,75.6L319.0,76.4L319.6,76.7L320.1,77.1L321.2,77.2L321.7,76.7L322.3,76.3L323.1,75.4L323.4,75.2L324.5,74.6L325.6,74.4L326.7,74.5L327.8,75.1L328.2,75.4L328.9,76.3L329.2,76.7L329.8,78.0L329.9,78.3L330.7,79.3L331.0,80.0L332.1,80.4L332.4,80.7L333.2,81.4L334.3,81.9L335.4,81.7L336.5,81.1L337.1,80.7L337.6,80.4L338.7,79.7L339.6,79.3L339.8,79.2L340.9,79.2L340.9,79.3L341.7,80.7L341.9,81.4L342.1,82.0L342.3,83.3L342.5,84.6L342.7,85.9L342.8,87.2L342.6,88.5L341.9,89.2L340.9,89.7L340.4,89.8L339.8,89.9L338.7,89.9L338.2,89.8L337.6,89.6L336.5,89.1L335.7,88.5L335.4,88.0L334.6,87.2L334.5,85.9L334.3,84.6L334.3,84.5L333.2,83.7L332.7,84.6L333.2,85.9L333.2,85.9L333.8,87.2L333.2,88.4L333.2,88.5L332.5,89.8L332.1,90.3L331.5,91.1L331.0,91.6L330.2,92.4L329.9,92.7L329.1,93.7L328.9,94.0L328.1,95.0L327.8,95.2L326.7,95.4L325.6,95.2L325.1,95.0L324.5,94.6L323.4,93.8L323.1,93.7L322.3,93.1L322.1,93.7L321.2,94.2L320.3,95.0L320.1,95.1L319.0,95.8L318.4,96.3L317.9,96.8L317.4,97.6L317.1,98.9L317.3,100.2L317.9,101.4L318.0,101.5L319.0,102.7L319.1,102.8L320.0,104.1L320.1,104.2L320.8,105.4L321.2,105.8L322.3,106.6L323.4,106.6L324.5,106.1L325.6,105.7L326.7,105.5L327.8,105.7L328.9,105.9L329.9,106.3L331.0,106.6L332.1,106.7L332.5,106.7L333.2,106.8L334.3,107.3L335.4,108.0L335.5,108.0L336.5,108.6L337.6,108.7L338.7,108.4L339.4,108.0L339.8,107.9L340.9,107.4L341.9,107.0L342.7,106.7L343.0,106.6L344.1,106.4L345.2,106.2L346.3,105.9L347.4,105.6L347.7,105.4L348.5,104.9L349.5,104.1L349.6,104.1L350.7,103.0L350.9,102.8L351.8,101.7L352.0,101.5L352.9,100.5L353.5,100.2L354.0,100.0L354.5,100.2L355.1,100.7L355.4,101.5L355.3,102.8L355.1,103.5L354.8,104.1L354.2,105.4L354.0,106.2L353.8,106.7L353.6,108.0L353.5,109.3L353.4,110.6L353.1,111.9L352.9,112.4L352.3,113.2L351.8,113.6L350.7,113.8L349.6,113.6L348.8,113.2L348.5,113.0L347.4,112.4L346.3,112.2L345.2,112.3L344.1,112.6L343.0,113.0L342.5,113.2L342.0,113.4L340.9,113.6L339.8,113.7L338.7,113.9L337.6,114.2L336.8,114.5L336.5,114.7L335.4,115.1L334.3,115.5L333.2,115.7L332.1,115.6L331.0,115.7L330.3,115.8L329.9,116.0L328.9,116.8L328.5,117.1L328.9,117.6L329.9,118.4L329.9,118.4L331.0,118.7L332.1,119.1L332.9,119.7L333.2,120.0L333.9,121.0L334.3,121.3L335.4,122.1L335.7,122.3L336.5,122.6L337.6,122.8L338.7,123.0L339.8,123.2L340.9,123.5L341.3,123.6L341.9,123.9L343.0,124.5L344.0,124.9L344.1,125.0L345.2,125.4L346.3,125.4L347.4,125.1L348.1,124.9L348.5,124.8L349.6,124.4L350.7,124.1L351.8,123.9L352.9,123.9L354.0,124.1L355.1,124.4L356.1,124.6L357.2,124.6L358.3,124.4L359.4,124.1L360.5,123.9L361.6,124.1L362.7,124.5L363.4,124.9L363.8,125.1L364.9,125.6L366.0,125.9L367.1,126.0L368.1,125.9L369.2,126.0L370.3,126.1L371.0,126.2L371.4,126.3L372.5,126.4L373.5,126.2L373.6,126.2L374.7,126.1L375.8,126.1L376.9,126.1L378.0,126.2L378.3,126.2L379.1,126.3L380.2,126.3L380.3,126.2L381.2,126.1L382.3,125.9L383.4,125.7L384.5,125.9L385.5,126.2L385.6,126.3L386.7,126.9L387.6,127.6L387.8,127.7L388.9,128.6L389.3,128.9L390.0,129.2L391.1,129.6L392.2,129.7L393.3,129.7L394.4,129.6L395.4,129.3L396.3,128.9L396.5,128.8L397.6,128.0L398.2,127.6L398.7,127.1L399.8,126.5L400.9,126.3L402.0,126.4L403.1,126.5L404.2,126.6L405.3,127.0L406.0,127.6L406.4,128.6L406.4,128.9L406.4,129.2L406.2,130.2L405.7,131.5L405.3,132.6L405.2,132.8L404.9,134.1L404.6,135.4L404.2,136.0L403.1,136.6L403.0,136.7L402.0,137.0L400.9,137.9L400.8,138.0L400.5,139.3L400.6,140.6L400.9,141.5L401.0,141.9L401.3,143.2L401.4,144.5L401.5,145.8L401.4,147.1L401.0,148.4L400.9,148.6L400.1,149.7L399.8,150.3L399.3,151.0L398.9,152.3L398.7,152.7L398.2,153.6L397.6,154.1L396.5,154.6L395.5,154.9L395.4,154.9L394.4,155.2L393.3,155.5L392.2,155.9L391.5,156.2L391.1,156.5L390.0,157.5L390.0,157.7L389.6,158.8L390.0,160.0L390.0,160.1L391.1,160.9L391.6,161.4L392.2,162.4L392.3,162.7L392.2,163.9L392.1,164.0L391.1,165.2L390.7,165.3L390.0,165.4L389.5,165.3L388.9,165.1L388.1,164.0L387.9,162.7L387.8,162.4L386.7,161.7L385.6,162.0L384.5,162.5L384.1,162.7L383.4,163.4L383.1,164.0L383.0,165.3L383.4,166.5L383.7,166.6L383.4,166.8L382.3,167.5L381.7,167.9L381.2,168.0L380.2,168.3L379.1,168.5L378.0,168.4L376.9,168.1L376.1,167.9L375.8,167.8L374.7,167.6L373.6,167.7L372.7,167.9L372.5,168.0L371.4,168.3L370.3,168.4L369.2,168.3L368.1,168.1L367.1,168.2L366.0,168.5L364.9,168.8L363.8,169.1L363.2,169.2L362.7,169.3L361.6,169.3L360.6,169.2L360.5,169.2L359.4,169.0L358.3,168.6L357.2,168.3L356.4,167.9L356.1,167.8L355.1,167.4L354.0,167.1L352.9,167.0L351.8,166.9L350.7,166.8L349.6,166.7L349.4,166.6L348.5,166.5L347.4,166.6L347.3,166.6L346.3,166.9L345.2,167.4L344.1,167.9L344.0,167.9L343.0,168.3L341.9,168.6L340.9,168.8L339.8,168.8L338.7,168.8L337.6,168.8L336.5,168.9L335.4,169.0L334.3,168.8L333.2,168.3L332.4,167.9L332.1,167.8L331.0,167.5L329.9,167.6L329.2,167.9L328.9,168.1L327.8,168.8L327.1,169.2L326.7,169.6L325.6,170.0L324.5,169.5L324.2,169.2L323.4,168.6L322.5,167.9L322.3,167.8L321.2,167.2L320.1,166.8L319.6,166.6L319.0,166.4L317.9,166.2L316.8,166.1L315.8,166.3L314.7,166.6L314.6,166.6L313.6,166.9L312.5,167.0L311.4,166.8L311.0,166.6L310.3,166.3L309.2,165.8L308.1,165.7L307.0,166.0L306.0,166.6L305.9,166.7L304.8,167.2L303.7,167.6L302.8,167.9L302.6,168.0L301.6,168.6L300.7,169.2L300.5,169.7L299.8,170.5L299.4,171.4L298.3,171.3L297.4,170.5L297.2,170.4L296.1,169.5L295.3,169.2L295.0,169.1L293.9,169.0L292.8,168.7L291.7,168.4L290.6,168.1L290.0,167.9L289.6,167.9L288.5,167.9L288.3,167.9L287.4,168.2L286.3,169.0L286.0,169.2L285.2,170.4L285.1,170.5L284.1,171.7L283.9,171.8L283.0,172.6L282.2,173.1L281.9,173.3L280.8,173.6L279.7,173.4L279.4,173.1L278.8,171.8L278.6,171.1L278.3,170.5L277.5,170.3L276.9,170.5L276.4,170.8L275.4,171.4L274.3,171.4L273.4,170.5L273.2,170.2L272.8,169.2L272.3,167.9L272.1,167.4L271.4,166.6L271.0,166.3L270.0,166.6L269.9,166.7L268.8,167.5L268.2,167.9L267.7,168.3L266.6,168.8L265.5,169.0L264.4,169.0L263.4,168.9L262.3,168.8L261.2,168.7L260.1,168.6L259.0,168.8L257.9,169.2L257.9,169.3L257.3,170.5L257.0,171.8L256.8,172.3L256.3,173.1L255.7,173.7L254.6,173.9L253.5,173.8L252.4,173.5L251.5,173.1L251.3,173.1L250.2,172.4L249.2,172.0L248.1,172.2L247.0,172.6L245.9,173.1L245.9,173.2L244.8,174.1L244.5,174.4L243.7,175.3L243.3,175.8L242.6,176.4L241.5,177.0L240.4,177.0L239.3,176.7L238.2,176.1L237.7,175.8L237.2,175.4L236.1,174.6L235.8,174.4L235.0,173.8L233.9,173.1L233.9,173.1L232.8,172.1L232.5,171.8L231.7,170.6L231.7,170.5L231.4,169.2L231.6,167.9L231.7,167.7L232.0,166.6L232.3,165.3L232.4,164.0L232.2,162.7L231.7,162.1L230.9,161.4L230.6,161.2L229.5,160.5L228.9,160.1L228.4,159.7L227.3,158.8L227.3,158.8L226.2,158.5L225.1,158.7L224.0,158.7L223.0,158.3L222.0,157.5L221.9,157.3L220.9,156.2L220.8,155.9L220.0,154.9L219.7,154.5L218.6,153.8L217.9,153.6L217.5,153.5L216.4,152.9L215.7,152.3L215.3,152.0L214.2,151.3L213.1,151.1L212.0,151.1L210.9,151.0L210.9,151.0L209.9,150.7L208.8,150.0L207.7,149.9L206.6,150.9L206.5,151.0L205.5,152.2L205.4,152.3L204.4,153.1L203.5,153.6L203.3,153.7L202.2,154.4L201.6,154.9L201.1,155.4L200.4,156.2L200.0,156.7L199.4,157.5L198.9,158.0L198.0,158.8L197.8,158.9L196.8,159.4L195.7,159.8L195.1,160.1L194.6,160.4L193.5,161.2L193.3,161.4L192.5,162.7L192.4,164.0L193.0,165.3L193.5,166.2L193.7,166.6L194.1,167.9L193.9,169.2L193.5,169.8L192.8,170.5L192.4,170.9L191.5,171.8L191.3,172.0L190.2,173.0L190.0,173.1L189.1,173.6L188.0,174.0L186.9,173.9L185.8,173.5L185.3,173.1L184.8,172.6L184.1,171.8L183.7,171.1L183.2,170.5L182.6,169.5L182.4,169.2L181.5,167.9L181.5,167.9L180.9,166.6L180.5,165.3L180.4,165.0L179.8,164.0L179.3,163.5L178.2,163.7L177.9,164.0L177.1,164.9L176.4,165.3L176.0,165.5L174.9,165.7L173.8,165.7L172.7,165.4L172.5,165.3L171.7,164.9L170.8,164.0L170.6,163.7L170.0,162.7L169.5,162.1L168.7,161.4L168.4,161.3L167.3,161.0L166.2,161.0L165.1,161.2L164.3,161.4L164.0,161.5L162.9,161.9L161.8,162.1L160.7,162.2L159.6,162.2L158.6,162.2L157.5,162.1L156.4,162.0L155.3,161.8L154.2,161.6L153.7,161.4L153.1,160.7L152.8,160.1L152.3,158.8L152.0,158.6L151.4,158.8L150.9,159.0L150.1,160.1L149.8,160.3L148.8,161.4L148.7,161.5L147.8,162.7L147.6,163.2L147.2,164.0L146.5,165.3L146.5,165.3L145.4,166.1L144.4,166.4L143.3,166.6L142.2,166.2L141.7,165.3L141.1,164.0L141.1,164.0L140.4,162.7L140.0,162.1L139.5,161.4L138.9,160.9L137.8,160.3L136.7,160.2L135.6,160.5L134.5,161.0L133.7,161.4L133.4,161.6L132.3,162.4L131.9,162.7L131.3,163.2L130.2,164.0L130.1,164.0L129.1,164.6L128.0,164.7L126.9,164.1L126.8,164.0L125.8,163.0L125.4,162.7L124.7,162.2L123.6,162.4L123.0,162.7L122.5,163.0L121.4,163.5L120.3,163.8L119.2,164.0L119.2,164.0L118.2,164.3L117.1,164.6L116.0,165.1L115.5,165.3L114.9,165.8L113.8,166.4L113.3,166.6L112.7,166.9L111.6,167.2L110.5,167.5L109.4,167.9L109.3,167.9L108.3,168.5L107.2,169.0L106.6,169.2L106.2,169.4L105.1,169.4L104.3,169.2L104.0,169.2L102.9,168.8L101.8,168.4L100.7,168.3L99.6,168.4L98.5,168.7L97.4,169.2L97.4,169.2L96.3,169.9L95.2,170.5L95.2,170.5L94.1,170.9L93.0,170.7L92.9,170.5L92.0,169.7L91.6,169.2L90.9,168.2L90.7,167.9L89.9,166.6L89.8,166.4L89.1,165.3L88.7,164.7L88.0,164.0L87.6,163.7L86.5,163.5L85.4,163.8L85.0,164.0L84.3,164.8L84.1,165.3L83.8,166.6L83.8,167.9L83.7,169.2L83.5,170.5L83.2,171.7L83.2,171.8L82.9,173.1L82.3,174.4L82.1,174.7L81.0,175.4L79.9,175.6L78.9,175.7L77.8,175.7L76.7,175.7L75.6,175.7L74.5,175.6L73.4,175.3L72.4,174.4L72.3,174.3L71.7,173.1L71.4,171.8L71.2,170.8L71.2,170.5L71.0,169.2L70.8,167.9L70.7,166.6L70.4,165.3L70.1,164.5L69.7,164.0L69.0,163.2L68.6,162.7L68.2,161.4L68.3,160.1L68.5,158.8L68.3,157.5L67.9,156.9L67.6,156.2L66.8,155.3L66.6,154.9L65.8,153.6L65.8,153.3L65.5,152.3L65.7,151.0L65.8,150.9L66.6,149.7L66.8,149.4L67.9,148.6L68.3,148.4L69.0,147.5L69.3,147.1L69.2,145.8L69.0,145.4L68.6,144.5L68.0,143.2L67.9,143.1L67.6,141.9L67.3,140.6L66.9,139.3L66.8,138.9L66.5,138.0L66.2,136.7L66.2,135.4L66.3,134.1L66.7,132.8L66.8,132.3L67.5,131.5L67.9,131.0L69.0,130.9L70.1,131.4L70.2,131.5L71.1,132.8L71.2,133.1L72.3,133.2L72.9,132.8L73.4,132.5L74.4,131.5L74.5,130.8L74.6,130.2L74.5,129.9L74.1,128.9L73.6,127.6L73.4,126.7L73.3,126.2L72.6,124.9L72.3,124.6L71.3,123.6L71.2,123.6L70.6,122.3L70.6,121.0L71.2,120.1L72.3,120.2L73.4,120.7L74.2,121.0L74.5,121.2L75.6,121.5L76.7,121.5L77.8,121.5L78.9,121.4L80.0,121.2L80.3,121.0L81.0,120.5L81.5,119.7L82.0,118.4L82.1,118.0L82.4,117.1L83.2,116.0L83.4,115.8L84.3,115.2L85.4,114.7L85.8,114.5L86.5,114.2L87.6,113.4L87.8,113.2L88.7,112.2L88.9,111.9L89.8,111.1L90.2,110.6L90.9,110.0L91.6,109.3L92.0,109.0L93.0,108.2L93.4,108.0L94.1,107.6L95.2,106.9L95.5,106.7L96.3,106.3L97.4,105.9L98.5,105.8L99.6,105.6L100.2,105.4L100.7,105.1L101.4,104.1L101.5,102.8L101.4,101.5L101.2,100.2L101.2,98.9L101.5,97.6L101.8,96.7L101.9,96.3L102.3,95.0L102.8,93.7L102.9,93.5L103.7,92.4L104.0,92.1L105.1,91.8L106.2,91.9L107.2,92.0L108.3,91.5L108.8,91.1L109.4,90.2L109.7,89.8L110.5,88.5L110.5,88.4L111.2,87.2L111.6,86.6L112.1,85.9L112.7,85.4L113.8,84.7L114.0,84.6L114.9,84.0L115.9,83.3L116.0,83.2L117.1,82.1L117.2,82.0L118.0,80.7L118.2,80.4L119.1,79.3L119.2,79.3L120.3,78.6L121.2,78.0L121.4,77.9L122.5,77.3L123.3,76.7L123.6,76.3L124.3,75.4L124.7,74.5L125.0,74.1L125.8,72.9L126.9,72.9L127.4,74.1L127.9,75.4L128.0,75.6L128.2,76.7L128.1,78.0L128.0,79.1L127.9,79.3L127.7,80.7L127.6,82.0L127.7,83.3L128.0,84.1L128.1,84.6L128.8,85.9L129.1,86.6L129.4,87.2L129.5,88.5L129.2,89.8L129.1,90.2L128.7,91.1L128.3,92.4L128.0,93.7L128.0,93.9L127.9,95.0L127.6,96.3L127.3,97.6L127.3,98.9L128.0,99.9L129.0,100.2L129.1,100.2L130.2,100.6L130.9,101.5L131.3,102.2L131.5,102.8L132.0,104.1L132.3,104.4L133.4,104.7L134.5,104.9L135.6,104.9L136.7,104.9L137.8,104.7L138.6,104.1L138.9,103.7L139.3,102.8L139.6,101.5L139.8,100.2L139.9,98.9L139.5,97.6L138.9,97.1L138.1,96.3L137.8,96.0L136.7,95.2L136.5,95.0L135.6,93.9L135.5,93.7L135.2,92.4L135.4,91.1L135.6,90.5L136.5,89.8L136.7,89.6L137.8,89.7L138.9,89.6L140.0,89.0L140.5,88.5L141.1,87.9L141.8,87.2L142.2,86.6L142.8,85.9L143.1,84.6L142.2,84.1L141.1,84.1L140.0,84.3L139.1,84.6L138.9,84.6L137.8,85.2L136.7,85.8L136.5,85.9L135.6,86.3L135.1,85.9L134.7,84.6L134.9,83.3L135.1,82.0L135.2,80.7L135.4,79.3L135.5,78.0L135.6,77.4L135.8,76.7L136.0,75.4L136.1,74.1L136.4,72.8L136.7,72.3L137.8,71.8L138.9,71.9L140.0,72.5L140.5,72.8L141.1,73.6L142.0,74.1L142.2,74.2L143.0,74.1L143.3,74.1L144.0,72.8L144.1,71.5L144.2,70.2L144.4,69.7L144.7,68.9L145.4,68.2L146.5,68.2L147.6,68.5L148.6,68.9L148.7,69.0L149.8,69.7L150.9,70.1L151.4,68.9L151.4,67.6L151.1,66.3L150.9,65.9L150.6,65.0L149.9,63.7L149.8,63.4L149.5,62.4L149.6,61.1ZM169.5,90.3L168.8,91.1L168.4,91.4L167.9,92.4L167.3,93.7L167.3,93.7L167.1,95.0L167.1,96.3L167.3,97.5L167.3,97.6L167.3,97.7L167.1,98.9L166.2,99.7L165.8,100.2L165.1,100.7L164.5,101.5L164.0,102.5L163.9,102.8L163.7,104.1L163.8,105.4L164.0,106.2L164.2,106.7L164.7,108.0L165.1,109.1L165.2,109.3L165.4,110.6L165.6,111.9L166.2,113.1L166.3,113.2L167.3,113.7L168.4,114.0L169.5,114.3L169.9,114.5L170.6,114.8L171.7,115.4L172.7,115.8L172.8,115.8L173.8,116.5L174.5,117.1L174.9,118.1L175.0,118.4L174.9,119.4L174.9,119.7L174.3,121.0L173.9,122.3L173.8,123.4L173.8,123.6L173.8,124.9L173.8,125.4L173.9,126.2L174.0,127.6L174.3,128.9L174.9,130.1L175.0,130.2L175.9,131.5L176.0,131.6L177.1,132.6L177.3,132.8L178.2,133.4L179.3,133.8L180.4,133.8L181.5,133.4L182.6,133.0L183.4,132.8L183.7,132.7L184.8,132.6L185.8,132.7L186.0,132.8L186.9,132.9L188.0,133.0L188.9,132.8L189.1,132.7L190.2,131.9L190.5,131.5L191.1,130.2L191.3,128.9L191.3,127.6L191.1,126.2L190.8,124.9L190.3,123.6L190.2,123.4L189.9,122.3L189.9,121.0L189.8,119.7L189.3,118.4L189.1,118.1L188.0,117.4L186.9,117.7L186.5,118.4L185.8,119.6L185.8,119.7L184.8,120.6L183.7,120.7L182.9,119.7L182.7,118.4L183.2,117.1L183.7,116.5L184.5,115.8L184.8,115.6L185.8,114.9L186.4,114.5L186.9,114.1L187.8,113.2L188.0,112.7L188.2,111.9L188.0,110.6L188.0,110.6L187.5,109.3L187.0,108.0L186.9,107.9L185.9,106.7L185.8,106.6L185.5,106.7L184.8,106.8L183.7,107.1L182.6,107.0L181.9,106.7L181.5,106.5L180.4,105.8L179.9,105.4L179.3,104.9L178.5,104.1L178.2,103.7L177.4,102.8L177.1,102.3L176.4,101.5L176.0,101.0L175.1,100.2L174.9,100.0L173.8,99.2L173.3,98.9L172.7,98.4L172.1,97.6L171.9,96.3L171.7,95.0L171.7,94.8L171.3,93.7L170.7,92.4L170.6,91.8L170.0,91.1L169.5,90.3ZM179.3,92.0L178.7,92.4L178.2,92.8L177.6,93.7L177.3,95.0L177.9,96.3L178.2,96.5L179.3,96.8L180.4,96.8L181.5,96.7L182.6,96.4L182.7,96.3L183.2,95.0L183.0,93.7L182.6,92.6L182.4,92.4L181.5,91.4L180.4,91.5L179.3,92.0ZM188.0,97.5L187.7,97.6L186.9,97.8L185.8,98.3L185.4,98.9L185.0,100.2L185.0,101.5L185.1,102.8L185.6,104.1L185.8,104.7L186.9,105.2L188.0,105.0L189.1,104.4L189.4,104.1L190.2,103.4L190.6,102.8L191.3,101.5L191.3,101.4L191.5,100.2L191.4,98.9L191.3,98.7L190.2,97.6L190.2,97.6L189.1,97.4L188.0,97.5ZM216.4,129.9L215.4,130.2L215.3,130.2L214.2,130.6L213.1,131.0L212.1,131.5L212.0,131.5L211.5,132.8L211.6,134.1L212.0,135.3L212.1,135.4L212.5,136.7L213.0,138.0L213.1,138.4L213.7,139.3L214.2,140.0L215.1,140.6L215.3,140.9L215.7,141.9L215.6,143.2L215.5,144.5L215.7,145.8L216.1,147.1L216.4,147.7L216.9,148.4L217.5,149.0L218.2,149.7L218.6,150.2L219.3,151.0L219.7,151.7L220.5,152.3L220.8,152.5L221.9,152.5L222.2,152.3L223.0,152.1L224.1,151.5L224.6,151.0L225.1,150.5L225.9,149.7L226.2,149.2L226.8,148.4L227.3,147.2L227.4,147.1L227.4,145.8L227.3,145.4L227.0,144.5L226.5,143.2L226.2,142.2L226.2,141.9L226.1,140.6L225.9,139.3L225.8,138.0L225.5,136.7L225.1,135.5L225.1,135.4L224.3,134.1L224.1,133.8L223.0,133.0L222.7,132.8L221.9,132.3L220.8,131.5L220.7,131.5L219.7,130.9L218.6,130.4L217.9,130.2L217.5,130.0L216.4,129.9ZM308.1,98.4L307.4,98.9L307.0,99.6L306.6,100.2L306.8,101.5L307.0,101.9L307.7,102.8L308.1,103.1L309.2,103.0L309.6,102.8L310.3,102.4L311.1,101.5L311.4,100.5L311.4,100.2L311.4,100.1L310.8,98.9L310.3,98.5L309.2,98.2L308.1,98.4ZM323.4,89.3L323.1,89.8L323.4,90.0L323.5,89.8L323.4,89.3ZM327.8,84.5L327.5,84.6L326.7,84.9L325.6,85.6L325.4,85.9L324.7,87.2L324.5,88.4L324.4,88.5L324.5,88.5L325.6,88.6L326.7,88.8L327.8,88.5L327.8,88.5L328.9,87.2L328.9,87.2L329.5,85.9L329.6,84.6L328.9,84.4L327.8,84.5ZM82.1,145.5L81.8,145.8L81.2,147.1L81.0,147.8L81.0,148.4L80.5,149.7L80.0,150.3L79.1,151.0L78.9,151.2L77.8,152.3L77.7,152.3L77.2,153.6L76.9,154.9L77.2,156.2L77.8,156.9L78.9,157.5L80.0,157.2L80.6,156.2L81.0,155.6L81.4,154.9L82.1,154.0L82.5,153.6L83.2,152.8L83.8,152.3L84.3,151.8L85.0,151.0L85.4,150.5L85.8,149.7L86.1,148.4L86.0,147.1L85.6,145.8L85.4,145.6L84.3,144.9L83.2,145.0L82.1,145.5ZM98.5,120.7L97.9,121.0L97.4,121.3L96.3,122.0L95.7,122.3L95.2,122.6L94.1,123.0L93.1,123.3L92.1,123.6L92.0,123.7L90.9,124.1L89.8,124.6L89.0,124.9L88.7,125.2L87.6,125.8L86.9,126.2L86.5,126.8L86.1,127.6L86.3,128.9L86.5,129.0L87.6,130.1L87.7,130.2L88.7,130.6L89.8,130.9L90.9,131.0L92.0,131.0L93.0,130.9L94.1,131.0L95.2,131.2L95.7,131.5L96.3,131.7L97.4,132.2L98.5,132.5L99.6,132.5L100.7,132.2L101.8,131.7L102.2,131.5L102.9,131.1L104.0,130.5L104.6,130.2L105.1,129.7L105.8,128.9L106.1,127.8L106.2,127.6L106.4,126.2L106.5,124.9L106.6,123.6L106.5,122.3L106.2,121.3L106.0,121.0L105.1,120.2L104.0,120.0L102.9,120.0L101.8,120.1L100.7,120.1L99.6,120.3L98.5,120.7ZM126.9,119.3L126.6,119.7L125.9,121.0L125.8,121.3L125.3,122.3L124.7,123.3L124.3,123.6L123.6,124.2L122.5,124.6L121.4,124.8L120.9,124.9L120.3,125.1L119.2,125.4L118.2,125.7L117.1,126.0L116.4,126.2L116.0,126.5L114.9,127.5L114.9,127.6L114.4,128.9L114.3,130.2L114.4,131.5L114.6,132.8L114.9,134.0L114.9,134.1L115.6,135.4L116.0,135.7L117.1,136.2L118.2,136.5L118.9,136.7L119.2,136.7L120.3,136.8L120.9,136.7L121.4,136.6L122.5,136.2L123.6,135.8L124.7,135.5L125.8,135.4L126.3,135.4L126.9,135.4L127.0,135.4L128.0,135.5L129.1,135.9L130.2,136.5L130.6,136.7L131.3,136.8L131.8,136.7L132.3,136.2L132.7,135.4L133.4,134.4L133.8,134.1L134.5,133.8L135.6,133.6L136.7,133.4L137.8,133.2L138.9,133.0L140.0,133.0L141.1,133.3L142.2,133.9L142.5,134.1L143.3,134.6L144.4,134.9L145.4,134.8L146.5,134.4L147.6,134.1L148.7,134.1L148.7,134.1L148.8,134.1L149.8,134.2L150.9,134.5L151.4,134.1L151.2,132.8L150.9,131.5L150.9,131.1L150.8,130.2L150.7,128.9L150.5,127.6L150.1,126.2L149.8,125.7L149.3,124.9L148.7,124.5L147.8,123.6L147.6,123.5L146.5,122.7L145.7,122.3L145.4,122.2L144.4,122.2L144.0,122.3L143.3,122.5L142.2,122.8L141.1,123.0L140.0,123.1L138.9,123.2L137.8,123.2L136.7,123.1L135.6,122.9L134.5,122.5L134.3,122.3L133.4,121.4L133.1,121.0L132.3,120.2L131.7,119.7L131.3,119.5L130.2,119.1L129.1,118.8L128.0,118.7L126.9,119.3ZM122.4,65.0L122.5,64.8L123.6,64.0L124.7,64.3L125.8,64.9L125.9,65.0L126.9,66.1L127.1,66.3L127.7,67.6L127.6,68.9L126.9,70.2L125.8,70.2L124.7,69.4L124.3,68.9L123.6,68.3L123.1,67.6L122.5,66.4L122.5,66.3L122.4,65.0ZM295.1,66.3L296.1,65.6L297.2,65.9L297.9,66.3L298.3,66.9L298.6,67.6L298.3,68.9L298.3,68.9L297.4,70.2L297.2,70.5L296.1,71.0L295.0,70.5L294.8,70.2L294.6,68.9L294.7,67.6L295.0,66.4L295.1,66.3ZM179.3,67.6L179.3,67.6L180.4,67.3L181.5,67.2L182.3,67.6L182.6,67.9L182.9,68.9L182.8,70.2L182.6,70.6L181.5,70.9L180.4,70.6L179.4,70.2L179.3,70.1L178.2,68.9L179.3,67.6ZM403.6,71.5L404.2,71.3L405.3,71.2L406.1,71.5L406.4,71.9L406.6,72.8L406.4,74.1L406.4,74.2L405.4,75.4L405.3,75.6L404.2,76.5L403.8,76.7L403.1,77.2L402.0,76.8L402.0,76.7L401.7,75.4L401.9,74.1L402.0,74.0L402.5,72.8L403.1,72.0L403.6,71.5ZM383.2,98.9L383.4,98.8L384.5,98.7L385.6,98.7L386.2,98.9L386.7,99.1L387.8,100.0L388.0,100.2L388.6,101.5L388.9,102.5L389.0,102.8L389.0,104.1L388.9,104.6L388.7,105.4L388.0,106.7L387.8,107.0L386.7,107.3L385.6,107.1L384.5,107.0L383.4,107.0L382.3,106.9L382.1,106.7L381.2,106.1L380.8,105.4L380.4,104.1L380.4,102.8L380.6,101.5L381.2,100.2L381.2,100.2L382.3,99.3L383.2,98.9ZM529.6,106.7L529.7,106.7L529.8,106.7L530.8,107.0L531.9,107.9L532.0,108.0L532.4,109.3L532.1,110.6L531.9,110.9L530.8,111.6L529.7,111.4L529.0,110.6L528.6,110.0L528.4,109.3L528.3,108.0L528.6,107.3L529.6,106.7ZM440.2,124.9L440.2,124.9L441.3,124.0L442.4,123.9L442.6,124.9L442.4,125.7L442.1,126.2L441.3,127.2L440.7,127.6L440.2,127.8L439.5,127.6L439.5,126.2L440.2,124.9ZM53.7,132.8L53.8,132.7L54.8,132.1L55.7,132.8L55.9,133.1L56.1,134.1L56.5,135.4L56.8,136.7L56.7,138.0L55.9,139.1L55.4,139.3L54.8,139.5L54.7,139.3L53.8,138.5L53.4,138.0L52.7,136.7L52.6,136.7L52.3,135.4L52.5,134.1L52.7,133.8L53.7,132.8ZM12.3,135.4L12.3,135.2L12.3,135.4L12.3,136.2L12.3,135.4ZM12.3,140.6L12.3,139.9L12.8,140.6L13.4,140.8L14.4,141.1L15.5,141.2L16.6,141.3L17.7,141.6L18.8,141.9L18.8,141.9L19.9,142.5L21.0,142.8L22.1,142.6L23.2,142.5L24.3,142.7L24.9,143.2L24.8,144.5L24.3,144.8L23.2,144.9L22.1,144.7L21.1,144.5L21.0,144.4L20.9,144.5L19.9,144.8L19.2,145.8L18.8,146.2L18.2,147.1L17.7,147.7L17.1,148.4L16.6,148.9L15.5,149.5L14.8,149.7L14.4,149.8L13.4,149.9L12.3,150.2L12.3,149.7L12.3,148.4L12.3,147.1L12.3,145.8L12.3,144.5L12.3,143.2L12.3,141.9L12.3,140.6ZM12.3,158.8L12.3,158.4L12.5,158.8L12.9,160.1L13.0,161.4L12.9,162.7L12.3,164.0L12.3,162.7L12.3,161.4L12.3,160.1L12.3,158.8ZM60.9,162.7L61.4,161.9L62.5,161.8L63.6,162.5L63.8,162.7L64.7,163.7L65.0,164.0L65.8,165.0L66.1,165.3L66.4,166.6L66.3,167.9L65.9,169.2L65.8,169.6L65.0,170.5L65.0,171.8L65.1,173.1L65.5,174.4L65.8,174.9L66.4,175.8L66.8,176.2L67.7,177.1L67.9,177.6L68.3,178.4L68.4,179.7L68.4,181.0L68.4,182.3L67.9,183.4L67.8,183.6L66.8,184.1L65.8,184.3L64.7,184.3L63.6,184.2L62.5,183.9L61.4,183.6L60.5,183.6L60.3,183.5L60.2,183.6L59.2,183.9L58.1,184.8L58.1,184.9L57.0,185.7L55.9,186.1L54.8,186.0L53.8,185.9L52.7,185.7L51.6,185.3L50.9,184.9L50.5,184.4L49.8,183.6L49.4,183.1L48.8,182.3L48.3,181.6L47.9,181.0L47.2,179.7L47.2,179.6L46.8,178.4L46.8,177.1L47.2,176.2L47.5,175.8L48.3,175.1L49.4,174.4L49.4,174.4L50.5,174.1L51.6,174.0L52.7,174.2L53.4,174.4L53.8,174.6L54.8,175.5L55.2,175.8L55.9,177.0L56.0,177.1L56.6,178.4L57.0,178.8L58.1,178.7L58.5,178.4L59.2,177.9L59.7,177.1L60.3,176.2L60.5,175.8L61.1,174.4L61.4,173.7L61.7,173.1L62.5,172.0L62.8,171.8L63.6,171.0L64.4,170.5L64.6,169.2L64.4,167.9L63.6,166.6L63.6,166.6L62.5,165.4L62.4,165.3L61.4,164.1L61.4,164.0L60.9,162.7Z"/><path fill="#ffe6e6" fill-rule="evenodd" d="M221.0,55.9L221.9,55.2L223.0,54.8L224.1,54.6L225.1,54.7L226.2,55.1L227.3,55.6L227.8,55.9L228.4,56.4L229.5,57.0L230.1,57.2L230.6,57.5L231.2,58.5L231.2,59.8L230.7,61.1L230.6,61.2L229.5,62.3L229.5,62.4L228.4,63.1L227.3,63.6L226.9,63.7L226.2,63.9L225.1,64.1L224.1,64.2L223.0,64.2L222.0,63.7L221.9,63.7L220.8,62.4L220.8,62.4L220.0,61.1L219.7,60.2L219.5,59.8L219.4,58.5L219.7,57.7L219.9,57.2L220.8,56.1L221.0,55.9ZM430.9,55.9L431.5,55.6L432.6,55.2L433.6,55.0L434.7,55.0L435.8,55.0L436.9,55.1L438.0,55.4L439.1,55.8L439.3,55.9L440.2,56.6L440.9,57.2L441.3,57.7L442.0,58.5L442.4,59.8L442.3,61.1L441.5,62.4L441.3,62.6L440.2,63.5L439.9,63.7L439.1,64.2L438.0,64.6L436.9,64.8L436.1,65.0L435.8,65.1L434.7,66.3L434.7,66.3L434.7,66.3L435.0,67.6L435.6,68.9L435.8,69.2L436.6,70.2L436.9,70.5L438.0,71.4L438.3,71.5L439.1,72.0L440.2,72.1L441.3,71.9L442.3,71.5L442.4,71.5L443.5,71.1L444.6,70.8L445.7,70.5L446.8,70.3L447.8,70.3L448.9,70.5L450.0,70.6L451.1,70.3L451.3,70.2L452.2,69.8L453.3,69.7L454.4,70.1L454.5,70.2L455.5,70.8L456.5,71.5L456.6,71.6L457.7,72.3L458.8,72.8L459.0,72.8L459.9,73.0L460.5,72.8L460.9,72.7L462.0,72.3L463.1,71.8L464.2,71.5L464.3,71.5L465.3,71.4L466.4,71.4L467.5,71.4L468.6,71.4L469.4,71.5L469.7,71.6L470.8,71.9L471.9,72.3L472.9,72.6L473.9,72.8L474.0,72.9L475.1,73.0L476.2,73.0L477.3,73.2L478.4,73.8L478.8,74.1L479.5,74.7L480.6,75.2L481.7,75.3L482.8,75.3L483.9,75.3L485.0,75.4L485.4,75.4L486.1,76.1L486.3,76.7L486.0,77.5L485.9,78.0L485.8,79.3L486.1,80.1L486.2,80.7L487.1,82.0L487.1,82.1L487.8,83.3L487.9,84.6L487.1,85.5L486.1,85.7L485.0,85.6L483.9,85.5L482.8,85.7L482.6,85.9L481.7,86.4L480.6,87.2L480.6,87.2L479.5,87.4L478.4,87.6L477.3,87.7L476.2,87.9L475.1,88.3L474.8,88.5L474.0,88.9L472.9,89.6L472.4,89.8L471.9,90.0L470.8,90.1L469.7,89.8L469.6,89.8L468.6,89.4L467.5,89.2L466.4,89.3L465.3,89.6L464.7,89.8L464.2,90.0L463.1,90.5L462.0,90.9L461.6,91.1L460.9,91.6L459.9,92.4L459.9,92.4L459.2,93.7L459.9,94.5L460.1,95.0L460.9,95.9L461.2,96.3L462.0,97.3L462.3,97.6L463.1,98.9L463.1,99.0L463.8,100.2L464.2,101.3L465.3,101.1L466.4,100.7L467.5,100.5L468.6,100.7L469.7,101.1L470.8,101.3L471.9,101.1L472.9,100.7L474.0,100.2L474.1,100.2L475.1,99.9L476.2,100.0L477.2,100.2L477.3,100.2L478.4,100.4L479.5,100.5L480.6,100.4L481.7,100.5L482.8,100.8L483.5,101.5L483.9,101.8L484.7,102.8L485.0,103.0L486.1,103.7L486.8,104.1L487.1,104.2L488.2,104.5L489.3,104.9L490.4,105.4L490.4,105.4L491.5,106.0L492.3,106.7L492.6,106.9L493.7,108.0L493.7,108.0L494.8,108.8L495.9,109.1L497.0,108.7L497.7,108.0L498.1,107.3L498.3,106.7L499.1,105.4L499.1,105.4L500.2,104.8L501.3,105.0L502.1,105.4L502.4,105.6L503.5,106.5L503.7,106.7L504.6,107.8L504.8,108.0L505.5,109.3L505.7,109.6L506.4,110.6L506.8,111.2L507.3,111.9L507.9,112.7L508.2,113.2L508.9,114.5L509.0,114.9L509.3,115.8L509.5,117.1L509.5,118.4L509.3,119.7L509.1,121.0L509.0,121.5L508.8,122.3L508.8,123.6L509.0,124.5L509.1,124.9L510.1,125.6L511.2,126.0L512.2,126.2L512.6,126.2L513.3,126.5L514.3,127.6L514.2,128.9L513.7,130.2L513.4,131.5L513.5,132.8L514.0,134.1L514.4,134.8L515.2,135.4L515.5,135.6L516.6,135.9L517.7,135.9L518.8,136.1L519.3,136.7L519.8,138.0L519.9,138.2L520.2,139.3L520.8,140.6L521.0,141.1L521.5,141.9L522.1,142.9L523.2,143.1L524.3,142.9L525.3,141.9L525.4,141.8L526.1,140.6L526.4,140.1L526.9,139.3L527.5,138.4L528.1,138.0L528.6,137.5L529.7,137.2L530.8,137.5L531.3,138.0L531.9,138.7L532.2,139.3L532.9,140.6L533.0,140.8L533.6,141.9L534.1,142.8L534.3,143.2L534.9,144.5L535.2,145.2L535.4,145.8L535.8,147.1L536.0,148.4L535.7,149.7L535.2,151.0L535.2,151.0L534.1,152.3L534.0,152.3L533.0,153.2L532.6,153.6L531.9,154.5L531.6,154.9L530.8,156.2L530.8,156.3L530.0,157.5L529.7,157.9L528.7,158.8L528.6,158.8L527.5,159.3L526.4,159.6L525.4,160.0L525.2,160.1L524.3,160.9L523.8,161.4L523.2,162.4L522.9,162.7L522.1,163.5L521.0,164.0L520.9,164.0L519.9,164.3L518.8,164.5L517.7,164.5L516.6,164.5L515.5,164.2L514.8,164.0L514.4,163.8L513.3,163.4L512.2,163.4L511.2,164.0L511.1,164.0L510.1,164.6L509.0,164.9L507.9,164.7L506.8,164.3L505.9,164.0L505.7,163.9L504.6,163.7L503.5,163.6L502.4,163.7L501.3,163.8L500.2,163.8L499.1,163.7L498.1,163.4L497.0,163.3L495.9,163.6L494.8,164.0L494.8,164.0L493.7,164.3L492.6,164.2L491.5,164.0L491.5,164.0L490.4,163.8L489.3,163.9L488.9,164.0L488.2,164.3L487.1,165.1L486.6,165.3L486.1,165.6L485.0,165.5L484.0,165.3L483.9,165.3L482.8,165.3L482.8,165.3L481.7,165.9L480.9,166.6L480.6,166.9L479.5,167.6L478.4,167.1L478.2,166.6L477.9,165.3L477.6,164.0L477.3,163.4L476.2,162.9L475.1,163.1L474.0,163.4L472.9,163.6L471.9,163.3L471.3,162.7L470.9,161.4L471.0,160.1L471.8,158.8L471.9,158.8L472.7,157.5L473.0,156.8L473.1,156.2L472.9,155.1L472.9,154.9L472.3,153.6L471.9,152.7L471.5,152.3L470.8,151.0L470.8,151.0L470.1,149.7L469.8,148.4L469.8,147.1L470.5,145.8L470.8,145.4L471.6,144.5L471.9,144.0L472.2,143.2L472.7,141.9L472.9,141.0L474.0,141.4L475.1,141.9L476.2,141.8L477.3,141.1L477.7,140.6L478.2,139.3L478.0,138.0L477.3,137.0L476.9,136.7L476.2,136.3L475.1,136.2L474.3,136.7L474.0,136.9L473.3,138.0L472.9,139.0L472.4,138.0L471.9,137.2L471.8,136.7L471.6,135.4L471.6,134.1L471.7,132.8L471.9,131.8L471.9,131.5L472.1,130.2L472.2,128.9L472.3,127.6L472.5,126.2L473.0,125.3L473.2,124.9L474.0,123.6L474.0,123.6L474.4,122.3L474.3,121.0L474.0,119.9L474.0,119.7L473.5,118.4L472.9,117.4L472.7,117.1L471.9,116.2L470.8,115.9L469.7,116.4L468.8,117.1L468.6,117.4L467.5,118.1L466.4,118.4L465.3,118.4L464.6,118.4L464.2,118.4L464.2,118.4L463.1,118.0L462.8,117.1L462.3,115.8L462.0,115.4L461.6,114.5L460.9,113.4L460.9,113.2L460.2,111.9L459.9,111.2L459.6,110.6L459.2,109.3L458.8,108.2L458.6,108.0L457.7,107.2L456.6,107.1L455.5,107.3L454.4,107.6L453.3,107.9L452.7,108.0L452.2,108.1L451.1,108.4L450.0,109.0L449.6,109.3L448.9,109.7L447.8,110.2L446.8,110.2L445.7,109.8L444.8,109.3L444.6,109.1L443.5,108.3L443.0,108.0L442.4,107.6L441.3,107.2L440.2,107.0L439.1,107.0L438.0,106.9L436.9,106.7L436.9,106.7L435.8,106.4L434.7,106.2L433.6,106.0L432.6,105.9L431.5,105.6L430.6,105.4L430.4,105.3L429.3,105.0L428.2,104.5L427.7,104.1L427.1,103.6L426.6,102.8L426.0,101.7L425.9,101.5L425.5,100.2L424.9,98.9L424.9,98.9L423.8,97.7L423.6,97.6L422.7,97.2L421.6,96.7L420.9,96.3L420.5,96.1L419.5,95.6L418.4,95.0L418.3,95.0L417.3,94.5L416.2,93.8L416.0,93.7L415.1,93.1L414.2,92.4L414.0,92.2L412.9,91.2L412.8,91.1L411.9,89.8L411.8,89.7L411.2,88.5L410.8,87.2L410.7,86.9L410.5,85.9L410.2,84.6L410.0,83.3L410.1,82.0L410.5,80.7L410.7,80.2L411.4,79.3L411.8,79.0L412.9,78.1L413.0,78.0L414.0,77.2L414.6,76.7L415.1,76.4L416.2,75.7L416.6,75.4L417.3,75.0L418.4,74.2L418.5,74.1L419.5,73.2L419.9,72.8L420.6,72.0L420.9,71.5L421.6,70.6L421.9,70.2L422.7,69.2L422.9,68.9L423.4,67.6L423.8,66.6L423.9,66.3L424.5,65.0L424.9,64.4L425.5,63.7L426.0,63.2L427.0,62.4L427.1,62.3L428.0,61.1L428.2,60.6L428.5,59.8L429.0,58.5L429.3,57.8L429.7,57.2L430.4,56.4L430.9,55.9ZM448.9,96.1L448.7,96.3L447.8,97.5L447.8,97.6L447.8,97.9L448.0,98.9L448.5,100.2L448.9,101.2L449.1,101.5L450.0,102.8L451.1,102.8L451.4,101.5L451.4,100.2L451.1,98.9L451.1,98.9L450.7,97.6L450.3,96.3L450.0,95.9L448.9,96.1ZM494.8,116.8L494.5,117.1L494.6,118.4L494.8,118.6L495.9,118.5L496.1,118.4L496.0,117.1L495.9,117.0L494.8,116.8ZM203.3,71.5L203.3,71.5L204.4,71.3L205.5,71.4L206.6,71.5L207.0,71.5L207.7,71.6L208.8,71.8L209.7,72.8L209.9,73.0L210.5,74.1L210.9,74.9L211.3,75.4L212.0,76.3L212.4,76.7L213.1,77.3L214.2,77.9L215.0,78.0L215.3,78.1L215.9,78.0L216.4,77.9L217.5,77.1L217.9,76.7L218.6,75.6L218.7,75.4L219.7,74.3L220.1,74.1L220.8,74.0L221.9,74.0L222.6,74.1L223.0,74.2L224.1,74.6L225.1,74.9L226.2,75.0L227.3,74.6L228.1,74.1L228.4,74.0L229.5,73.5L230.6,73.1L231.7,72.9L232.5,72.8L232.8,72.8L233.3,72.8L233.9,72.9L235.0,73.2L236.1,73.9L236.5,74.1L237.2,74.5L238.2,74.9L239.3,75.4L239.4,75.4L240.4,75.8L241.5,76.0L242.6,75.7L243.0,75.4L243.7,74.9L244.7,74.1L244.8,74.1L245.9,73.5L247.0,73.3L248.1,73.5L248.9,74.1L249.2,74.4L249.9,75.4L250.2,76.0L250.8,76.7L251.3,77.3L252.4,77.6L253.5,77.2L254.3,76.7L254.6,76.5L255.7,75.9L256.6,75.4L256.8,75.3L257.8,74.1L257.9,74.0L259.0,72.9L259.2,72.8L260.1,72.6L261.2,72.6L262.3,72.6L263.4,72.6L264.4,72.5L265.5,72.5L266.6,72.6L267.7,72.7L268.8,72.8L268.9,72.8L269.9,73.1L271.0,73.7L271.7,74.1L272.1,74.5L273.2,75.3L273.7,75.4L274.3,75.9L275.4,76.0L276.4,76.0L277.5,76.5L277.7,76.7L277.9,78.0L277.5,78.2L276.4,78.2L275.4,78.1L274.3,78.3L273.6,79.3L273.2,80.4L273.1,80.7L273.1,82.0L273.2,82.3L273.4,83.3L274.1,84.6L274.3,84.8L275.4,85.8L275.6,85.9L276.4,86.2L277.5,86.3L278.6,86.2L279.7,86.1L280.8,86.1L281.9,86.1L282.3,85.9L282.6,84.6L282.4,83.3L282.0,82.0L282.0,80.7L283.0,80.2L284.1,79.7L285.1,79.3L285.2,79.3L286.3,78.8L287.4,78.3L288.5,78.2L289.6,78.5L290.6,79.0L291.1,79.3L291.7,79.6L292.8,80.1L293.9,80.6L294.3,80.7L295.0,80.9L296.1,81.0L297.2,81.0L298.3,80.9L299.4,80.9L300.5,80.8L301.6,80.8L302.6,80.8L303.7,80.8L304.8,80.7L304.9,80.7L305.9,80.4L307.0,80.0L308.1,79.8L309.2,79.6L310.3,79.6L311.4,79.5L312.3,79.3L312.5,79.3L313.6,79.0L314.7,78.8L315.5,79.3L315.8,79.5L316.8,80.5L317.1,80.7L317.9,81.3L318.9,82.0L319.0,82.0L320.1,83.0L320.4,83.3L320.7,84.6L320.3,85.9L320.1,86.1L319.7,87.2L319.4,88.5L319.2,89.8L319.1,91.1L319.0,91.3L318.5,92.4L317.9,93.0L317.1,93.7L316.8,93.9L315.9,95.0L315.8,95.2L315.0,96.3L314.7,96.8L313.6,97.3L312.5,96.9L311.4,96.3L311.4,96.3L310.3,95.9L309.2,95.9L308.1,96.1L307.6,96.3L307.0,96.5L305.9,97.0L304.8,97.3L303.7,97.3L302.6,97.2L301.6,97.3L300.6,97.6L300.5,97.6L299.4,98.7L299.3,98.9L299.1,100.2L299.3,101.5L299.4,101.6L299.8,102.8L300.5,103.7L300.8,104.1L301.6,104.9L302.1,105.4L302.6,106.0L303.4,106.7L303.7,107.1L304.8,107.7L305.9,107.7L307.0,107.5L308.1,107.1L308.8,106.7L309.2,106.5L310.3,105.8L310.9,105.4L311.4,105.0L312.5,104.3L313.6,104.3L314.7,105.2L314.8,105.4L315.8,106.4L316.1,106.7L316.8,107.5L317.7,108.0L317.9,108.2L319.0,109.1L319.3,109.3L320.1,110.4L320.4,110.6L321.2,111.5L322.3,111.5L323.4,110.8L323.6,110.6L324.5,110.0L325.3,109.3L325.6,109.2L326.7,108.7L327.8,108.8L328.8,109.3L328.9,109.3L329.8,110.6L329.9,111.9L329.0,113.2L328.9,113.3L327.8,113.9L326.7,114.5L326.5,114.5L325.6,114.8L324.5,115.0L323.4,115.0L322.3,114.9L321.2,115.0L320.2,115.8L320.5,117.1L321.2,118.0L321.4,118.4L322.3,119.6L322.4,119.7L323.2,121.0L323.4,121.4L324.2,122.3L324.5,122.5L325.6,122.4L325.6,122.3L326.7,121.6L327.8,121.1L328.9,121.0L329.9,121.4L331.0,122.3L331.1,122.3L332.1,123.4L332.5,123.6L333.2,124.1L334.3,124.5L335.4,124.5L336.5,124.5L337.6,124.5L338.7,124.5L339.8,124.7L340.4,124.9L340.9,125.1L341.9,125.7L342.8,126.2L343.0,126.4L344.1,126.9L345.2,127.3L346.3,127.3L347.4,127.1L348.5,126.8L349.6,126.5L350.3,126.2L350.7,126.1L351.8,125.9L352.9,125.8L354.0,126.0L354.8,126.2L355.1,126.4L356.1,126.9L357.2,127.6L357.2,127.6L358.3,128.5L359.0,128.9L359.4,129.0L360.5,129.1L361.1,128.9L361.6,128.6L362.7,128.1L363.8,127.9L364.9,128.0L366.0,128.1L367.1,128.0L368.1,128.0L369.2,128.2L370.3,128.7L370.5,128.9L371.4,129.6L372.5,130.0L373.6,130.0L374.7,129.6L375.8,129.1L376.3,128.9L376.9,128.6L378.0,128.4L379.1,128.3L380.2,128.4L381.2,128.6L382.0,128.9L382.3,129.1L383.4,130.0L383.6,130.2L384.1,131.5L384.2,132.8L384.5,134.1L384.5,134.3L384.9,135.4L385.4,136.7L385.6,137.5L385.8,138.0L386.3,139.3L386.7,140.1L387.8,140.6L387.8,140.6L387.8,140.6L388.7,139.3L388.9,138.1L388.9,138.0L389.0,136.7L389.2,135.4L389.7,134.1L390.0,133.8L391.1,133.3L392.2,133.5L392.9,134.1L393.3,134.4L394.1,135.4L394.4,135.8L395.0,136.7L395.4,137.9L395.5,138.0L395.7,139.3L395.6,140.6L395.7,141.9L396.5,142.5L397.6,142.5L398.7,143.0L398.8,143.2L399.4,144.5L399.3,145.8L398.7,146.6L397.6,147.0L396.8,147.1L396.5,147.1L395.4,147.5L394.5,148.4L394.4,148.6L393.5,149.7L393.3,150.1L392.6,151.0L392.2,151.5L391.2,152.3L391.1,152.4L390.0,153.3L389.7,153.6L388.9,154.4L388.4,154.9L387.8,155.6L387.2,156.2L386.7,156.7L385.9,157.5L385.6,157.7L384.5,158.3L383.4,158.6L382.4,158.8L382.3,158.8L381.2,158.9L380.2,159.3L379.5,160.1L379.1,161.3L379.0,161.4L378.7,162.7L378.2,164.0L378.0,164.3L376.9,164.4L375.8,164.1L375.4,164.0L374.7,163.8L373.6,163.6L372.5,163.8L372.1,164.0L371.4,164.4L370.3,164.8L369.2,164.9L368.1,164.8L367.1,164.6L366.0,164.8L364.9,165.1L364.5,165.3L363.8,165.8L362.7,166.5L362.4,166.6L361.6,166.9L360.5,167.0L359.4,166.8L358.8,166.6L358.3,166.4L357.2,166.0L356.1,165.6L355.1,165.3L355.0,165.3L354.0,165.2L352.9,165.2L351.8,165.1L350.7,164.8L349.6,164.5L348.5,164.1L348.2,164.0L347.4,163.8L346.3,163.6L345.2,163.7L344.3,164.0L344.1,164.1L343.0,164.9L342.6,165.3L341.9,165.9L340.9,166.6L340.7,166.6L339.8,166.8L338.7,166.8L337.6,166.8L336.5,166.9L335.4,166.9L334.3,166.7L334.0,166.6L333.2,166.2L332.1,165.7L331.1,165.3L331.0,165.3L329.9,165.1L328.8,165.1L327.8,165.0L326.7,165.1L325.6,165.3L324.9,165.3L324.5,165.4L324.3,165.3L323.4,165.2L322.3,164.6L321.4,164.0L321.2,163.9L320.1,163.2L319.0,162.9L317.9,162.9L316.8,163.0L315.8,163.3L314.7,163.7L313.9,164.0L313.6,164.2L312.5,164.4L311.4,164.2L310.8,164.0L310.3,163.8L309.2,163.4L308.1,163.4L307.0,164.0L306.9,164.0L305.9,164.8L305.3,165.3L304.8,165.6L303.7,166.1L302.6,166.3L301.6,166.5L300.5,166.4L299.4,165.6L299.2,165.3L298.6,164.0L298.4,162.7L298.3,161.4L298.3,161.4L297.9,160.1L297.2,159.2L296.1,158.8L296.1,158.8L296.1,158.8L295.0,159.3L294.3,160.1L294.0,161.4L293.9,162.0L293.8,162.7L293.0,164.0L292.8,164.2L291.7,164.7L290.6,165.0L289.6,165.3L289.6,165.3L288.5,165.5L287.4,165.7L286.3,165.7L285.2,165.5L284.9,165.3L284.1,164.5L283.8,164.0L283.0,163.1L282.5,162.7L281.9,162.5L281.1,162.7L280.8,162.8L279.7,164.0L279.7,164.1L278.9,165.3L278.6,165.6L277.5,166.6L277.5,166.6L276.4,167.1L275.4,166.9L275.0,166.6L274.3,165.4L274.2,165.3L273.6,164.0L273.2,163.4L272.1,162.8L271.0,162.9L269.9,163.3L269.1,164.0L268.8,164.2L267.8,165.3L267.7,165.5L266.6,166.4L266.2,166.6L265.5,167.0L264.4,167.2L263.4,167.3L262.3,167.2L261.2,167.1L260.1,167.0L259.0,166.9L257.9,166.8L256.8,166.9L255.7,167.7L255.5,167.9L254.9,169.2L254.6,169.8L253.9,170.5L253.5,170.7L252.4,170.6L252.2,170.5L251.3,170.0L250.4,169.2L250.2,169.1L249.2,168.7L248.2,169.2L248.1,169.3L247.0,170.3L246.7,170.5L245.9,171.0L244.8,171.8L244.8,171.9L243.8,173.1L243.7,173.2L242.9,174.4L242.6,174.7L241.5,175.4L240.4,175.5L239.3,175.1L238.3,174.4L238.2,174.4L237.2,173.8L236.1,173.1L236.1,173.1L235.0,172.3L234.4,171.8L233.9,171.0L233.6,170.5L233.4,169.2L233.6,167.9L233.8,166.6L233.9,166.5L234.1,165.3L234.4,164.0L234.5,162.7L234.4,161.4L233.9,160.6L233.5,160.1L232.8,159.5L231.8,158.8L231.7,158.7L230.6,157.6L230.5,157.5L229.8,156.2L229.5,155.4L229.3,154.9L228.7,153.6L228.5,152.3L228.9,151.0L229.5,150.3L230.1,149.7L230.6,149.2L231.3,148.4L231.6,147.1L231.0,145.8L230.6,145.2L230.1,144.5L229.5,143.7L229.2,143.2L228.4,141.9L228.4,141.9L227.9,140.6L227.6,139.3L227.4,138.0L227.3,137.3L227.2,136.7L227.1,135.4L227.0,134.1L226.8,132.8L226.3,131.5L226.2,131.3L225.1,130.5L224.1,130.3L223.3,130.2L223.0,130.1L221.9,129.8L220.8,129.4L219.7,128.9L219.6,128.9L218.6,128.3L217.5,127.6L217.5,127.5L216.4,126.3L216.2,126.2L215.3,125.3L214.5,126.2L214.2,126.4L213.2,127.6L213.1,127.6L212.0,128.0L210.9,128.3L209.9,128.8L209.8,128.9L208.8,130.1L208.7,130.2L208.3,131.5L208.1,132.8L208.0,134.1L208.3,135.4L208.8,136.1L209.1,136.7L209.9,137.8L209.9,138.0L210.4,139.3L210.7,140.6L210.6,141.9L209.9,143.0L209.5,143.2L208.8,143.5L207.7,143.8L206.6,144.3L206.3,144.5L205.6,145.8L205.5,146.0L205.2,147.1L204.8,148.4L204.4,149.3L204.2,149.7L203.3,150.7L202.8,151.0L202.2,151.4L201.1,151.9L200.0,152.3L200.0,152.3L198.9,152.6L197.8,152.6L196.8,152.4L195.7,152.3L194.6,152.4L193.5,152.7L192.4,153.5L192.3,153.6L191.6,154.9L191.3,156.2L191.3,156.3L191.1,157.5L190.6,158.8L190.2,159.4L189.6,160.1L189.1,160.6L188.2,161.4L188.0,161.6L186.9,162.4L186.4,162.7L185.8,163.1L184.8,163.4L183.7,163.2L183.2,162.7L182.6,162.0L182.2,161.4L181.5,160.7L180.7,160.1L180.4,159.9L179.3,159.5L178.2,159.6L177.1,159.8L176.2,160.1L176.0,160.2L174.9,160.9L173.8,161.4L172.7,161.1L171.7,160.4L171.2,160.1L170.6,159.8L169.5,159.3L168.4,158.8L168.4,158.8L167.3,158.4L166.2,158.0L165.1,158.0L164.0,158.3L162.9,158.7L162.6,158.8L161.8,159.0L160.7,159.1L159.6,159.1L158.6,159.0L158.0,158.8L157.5,158.6L156.4,157.5L156.4,157.5L155.5,156.2L155.3,155.9L154.2,155.3L153.1,155.1L152.0,155.1L150.9,155.2L149.8,155.3L148.7,155.6L147.6,156.2L147.6,156.2L147.4,157.5L147.2,158.8L146.5,159.9L146.3,160.1L145.4,160.7L144.4,160.9L143.3,160.1L143.3,158.8L144.4,157.7L144.6,157.5L145.4,156.3L145.7,156.2L145.4,156.1L144.4,155.2L143.3,155.3L142.3,156.2L142.2,156.4L141.4,157.5L141.1,157.7L140.0,157.9L138.9,157.9L137.8,158.0L136.7,158.3L135.6,158.7L135.3,158.8L134.5,159.1L133.4,159.5L132.3,160.0L132.2,160.1L131.3,160.6L130.2,161.2L129.4,161.4L129.1,161.5L128.8,161.4L128.0,161.0L127.4,160.1L126.9,159.5L125.8,158.9L124.7,159.0L123.6,159.5L122.8,160.1L122.5,160.3L121.4,161.3L121.3,161.4L120.3,162.1L119.2,162.5L118.7,162.7L118.2,162.9L117.1,163.2L116.0,163.7L115.3,164.0L114.9,164.2L113.8,164.8L112.7,165.3L112.6,165.3L111.6,165.6L110.5,165.8L109.4,166.1L108.3,166.5L108.1,166.6L107.2,167.0L106.2,167.4L105.1,167.5L104.0,167.3L102.9,166.9L101.8,166.6L101.8,166.6L100.7,166.4L99.6,166.5L98.5,166.6L98.3,166.6L97.4,166.8L96.3,167.0L95.2,167.1L94.1,167.2L93.0,167.0L92.6,166.6L92.0,166.2L91.3,165.3L90.9,164.7L90.5,164.0L89.9,162.7L89.8,162.4L89.1,161.4L88.7,160.9L87.6,160.3L86.5,160.2L85.9,160.1L85.4,160.0L84.3,158.8L84.3,158.8L84.1,157.5L84.3,156.9L84.6,156.2L85.4,155.4L85.8,154.9L86.5,154.3L86.9,153.6L87.5,152.3L87.6,152.2L87.9,151.0L88.2,149.7L88.3,148.4L88.2,147.1L88.1,145.8L87.8,144.5L87.6,143.9L87.2,143.2L86.5,142.5L85.4,142.1L84.3,142.0L83.2,142.3L82.1,142.7L81.0,143.2L81.0,143.2L80.0,144.0L79.6,144.5L78.9,145.8L78.9,146.0L78.4,147.1L77.8,148.0L77.2,148.4L76.7,148.8L75.6,149.3L74.5,149.4L74.0,148.4L73.4,147.1L73.4,147.1L72.9,145.8L72.3,144.6L72.3,144.5L71.8,143.2L71.4,141.9L71.4,140.6L72.0,139.3L72.3,138.9L73.1,138.0L73.4,137.6L74.1,136.7L74.5,136.1L75.0,135.4L75.6,134.7L76.2,134.1L76.7,133.7L77.8,133.0L78.3,132.8L78.9,132.5L79.9,132.1L81.0,131.6L81.3,131.5L82.1,131.1L83.2,131.2L84.3,131.5L84.3,131.5L85.4,131.8L86.5,132.1L87.6,132.5L88.7,132.7L89.2,132.8L89.8,132.9L90.9,132.9L91.5,132.8L92.0,132.7L93.0,132.5L94.1,132.4L95.2,132.6L95.7,132.8L96.3,133.1L97.4,133.6L98.5,134.0L99.6,134.0L100.7,133.7L101.8,133.2L102.8,132.8L102.9,132.7L104.0,132.5L105.1,132.5L105.9,132.8L106.1,132.9L107.2,134.1L107.2,134.1L108.3,135.2L108.7,135.4L109.4,135.5L110.5,135.4L111.6,135.6L112.7,136.5L112.8,136.7L113.8,137.5L114.5,138.0L114.9,138.1L116.0,138.3L117.1,138.3L118.2,138.5L119.2,138.9L120.3,139.1L121.4,138.9L122.5,138.2L122.9,138.0L123.6,137.6L124.7,137.4L125.8,137.5L126.9,138.0L126.9,138.0L128.0,138.7L128.7,139.3L129.1,139.5L130.2,140.0L131.3,140.3L132.3,140.3L133.4,140.2L134.5,139.7L134.9,139.3L135.5,138.0L135.6,137.5L136.0,136.7L136.7,135.8L137.4,135.4L137.8,135.2L138.9,135.1L140.0,135.3L140.2,135.4L141.1,135.9L142.2,136.6L142.3,136.7L143.3,137.0L144.4,137.1L145.4,137.0L146.5,136.7L147.6,136.7L148.7,137.4L149.3,138.0L149.8,138.6L150.6,139.3L150.9,139.5L152.0,139.9L153.1,140.2L154.2,140.2L155.3,139.4L155.4,139.3L155.6,138.0L155.5,136.7L155.3,135.7L155.2,135.4L154.8,134.1L154.3,132.8L154.2,132.4L153.7,131.5L153.3,130.2L153.1,128.9L153.3,127.6L153.5,126.2L153.6,124.9L153.1,124.1L152.7,123.6L152.0,123.2L150.9,122.7L150.1,122.3L149.8,122.2L148.7,121.4L148.3,121.0L147.6,120.3L147.0,119.7L146.5,119.3L145.4,119.0L144.4,119.3L143.7,119.7L143.3,120.0L142.2,120.9L142.0,121.0L141.1,121.4L140.0,121.7L138.9,121.7L137.8,121.7L136.7,121.5L135.7,121.0L135.6,121.0L134.8,119.7L134.5,118.8L134.4,118.4L133.4,117.4L132.3,117.3L131.3,117.2L131.0,117.1L130.2,117.0L129.1,116.5L128.0,115.9L127.9,115.8L127.0,114.5L126.9,114.3L126.2,113.2L125.8,112.8L124.7,112.7L123.7,113.2L123.6,113.6L123.4,114.5L123.6,114.8L124.2,115.8L124.7,116.8L124.8,117.1L124.9,118.4L124.7,119.7L124.7,119.7L124.1,121.0L123.6,121.8L122.9,122.3L122.5,122.5L121.4,122.7L120.3,122.6L119.2,122.4L119.1,122.3L118.2,122.1L117.1,122.2L116.7,122.3L116.0,122.5L114.9,122.9L113.8,123.2L112.8,123.6L112.7,123.7L111.6,124.9L111.6,125.0L111.1,126.2L110.7,127.6L110.5,128.3L109.4,128.5L109.1,127.6L109.0,126.2L109.1,124.9L109.4,123.6L109.4,123.5L109.7,122.3L109.6,121.0L109.4,120.5L109.2,119.7L108.8,118.4L108.3,117.8L107.2,117.3L106.5,117.1L106.2,117.1L105.1,117.1L104.8,117.1L104.0,117.3L102.9,117.5L101.8,117.6L100.7,117.7L99.6,117.7L98.5,117.9L97.4,118.3L97.3,118.4L96.3,119.0L95.5,119.7L95.2,119.9L94.1,120.5L93.0,121.0L92.8,121.0L92.0,121.2L90.9,121.3L89.8,121.7L88.9,122.3L88.7,122.5L87.6,123.0L86.5,123.4L85.4,123.6L84.3,123.6L83.7,122.3L83.9,121.0L84.2,119.7L84.3,119.4L84.9,118.4L85.4,118.0L86.5,117.6L87.6,117.6L88.7,117.6L89.8,117.2L89.9,117.1L90.9,116.6L92.0,116.0L93.0,115.8L93.0,115.8L94.1,115.5L95.2,114.5L95.2,114.4L95.5,113.2L95.6,111.9L96.3,110.6L96.3,110.6L97.4,109.4L97.5,109.3L98.5,108.7L99.6,108.3L100.6,108.0L100.7,108.0L101.8,107.5L102.9,106.8L103.0,106.7L104.0,105.6L104.2,105.4L104.6,104.1L104.5,102.8L104.1,101.5L104.0,100.4L103.9,100.2L104.0,99.9L104.1,98.9L104.6,97.6L105.1,96.9L105.8,96.3L106.2,96.1L107.2,95.8L108.3,95.5L109.3,95.0L109.4,94.9L110.5,93.8L110.6,93.7L111.4,92.4L111.6,92.0L112.1,91.1L112.7,90.0L112.9,89.8L113.7,88.5L113.8,88.3L114.6,87.2L114.9,86.9L116.0,86.1L116.8,85.9L117.1,85.8L118.2,85.7L119.2,85.8L119.5,85.9L120.3,86.0L121.4,86.1L122.5,86.3L123.6,87.1L123.6,87.2L124.1,88.5L124.1,89.8L124.0,91.1L124.0,92.4L124.2,93.7L124.4,95.0L124.4,96.3L124.5,97.6L124.6,98.9L124.7,99.4L124.9,100.2L125.3,101.5L125.6,102.8L125.8,104.0L125.8,104.1L126.0,105.4L126.7,106.7L126.9,106.9L127.8,108.0L128.0,108.1L129.1,108.8L130.2,109.0L131.3,108.8L132.3,108.5L133.4,108.2L134.5,108.3L135.6,109.3L135.6,109.8L135.7,110.6L135.6,111.0L135.5,111.9L135.4,113.2L135.3,114.5L135.6,115.7L135.7,115.8L136.7,116.1L137.6,115.8L137.8,115.8L138.9,114.8L139.1,114.5L139.8,113.2L140.0,112.8L140.4,111.9L141.0,110.6L141.1,110.4L141.5,109.3L142.0,108.0L142.2,107.6L142.6,106.7L143.3,105.8L144.0,105.4L144.4,105.2L145.4,105.3L145.7,105.4L146.5,105.6L147.6,105.8L148.7,105.7L149.3,105.4L149.8,104.7L150.0,104.1L150.1,102.8L150.0,101.5L149.9,100.2L149.9,98.9L149.8,98.4L149.5,97.6L148.7,96.9L147.6,96.4L147.5,96.3L146.5,95.8L145.4,95.2L145.0,95.0L144.4,94.7L143.3,94.2L142.5,93.7L142.2,93.3L141.7,92.4L141.8,91.1L142.2,90.4L142.5,89.8L143.3,88.9L143.7,88.5L144.4,88.0L145.4,87.3L145.6,87.2L146.5,86.5L147.3,85.9L147.6,85.4L148.2,84.6L148.3,83.3L148.0,82.0L147.6,81.3L146.9,80.7L146.5,80.4L145.4,80.1L144.4,79.8L143.5,79.3L144.4,78.6L145.0,78.0L145.4,77.9L146.5,77.7L147.6,77.5L148.7,77.2L149.8,76.9L150.4,76.7L150.9,76.7L151.7,76.7L152.0,76.8L153.1,77.3L153.9,78.0L154.2,78.4L154.9,79.3L155.3,80.1L155.9,80.7L156.4,81.1L157.5,80.7L157.5,80.7L158.6,80.2L159.6,80.1L160.7,80.5L160.9,80.7L161.8,81.9L161.9,82.0L162.8,83.3L162.9,83.3L164.0,83.9L165.1,84.1L166.2,84.5L166.3,84.6L166.7,85.9L166.4,87.2L166.2,87.7L165.8,88.5L165.2,89.8L165.1,90.2L164.8,91.1L164.6,92.4L164.5,93.7L164.6,95.0L164.6,96.3L164.3,97.6L164.0,98.3L163.7,98.9L162.9,100.2L162.9,100.2L162.2,101.5L161.8,102.7L161.8,102.8L161.5,104.1L161.4,105.4L161.3,106.7L161.4,108.0L161.8,108.9L162.0,109.3L162.4,110.6L162.6,111.9L162.6,113.2L162.4,114.5L161.8,115.8L161.8,115.8L161.1,117.1L160.7,118.1L160.6,118.4L160.6,119.7L160.7,120.8L160.8,121.0L161.8,121.6L162.9,121.4L164.0,121.4L165.1,121.5L166.2,121.5L167.0,121.0L167.3,120.4L167.6,119.7L168.0,118.4L168.4,118.0L169.1,118.4L169.5,119.0L169.6,119.7L169.8,121.0L170.4,122.3L170.6,122.5L171.0,123.6L171.3,124.9L171.4,126.2L171.2,127.6L171.1,128.9L171.3,130.2L171.7,130.5L172.3,131.5L172.7,131.7L173.8,132.7L173.9,132.8L174.9,133.5L175.6,134.1L176.0,134.4L177.1,135.3L177.3,135.4L178.2,136.1L179.3,136.5L180.4,136.4L181.5,135.8L181.9,135.4L182.6,135.0L183.7,134.4L184.8,134.3L185.8,134.6L186.9,134.9L188.0,135.1L189.1,134.8L190.2,134.2L190.3,134.1L191.3,133.1L191.6,132.8L192.4,131.5L192.4,131.5L193.0,130.2L193.3,128.9L193.5,127.7L193.5,127.6L193.7,126.2L193.6,124.9L193.5,124.7L193.2,123.6L192.9,122.3L193.0,121.0L193.1,119.7L193.0,118.4L192.4,117.2L192.4,117.1L191.9,115.8L191.9,114.5L192.0,113.2L192.1,111.9L191.7,110.6L191.3,110.0L191.0,109.3L190.6,108.0L190.9,106.7L191.3,106.2L191.9,105.4L192.4,104.6L192.8,104.1L193.4,102.8L193.5,102.6L194.0,101.5L194.2,100.2L194.0,98.9L193.7,97.6L193.5,96.3L193.7,95.0L194.4,93.7L194.6,93.3L194.8,92.4L194.8,91.1L194.6,89.8L194.6,89.8L194.1,88.5L193.9,87.2L194.6,86.4L194.8,85.9L195.7,85.2L196.1,84.6L196.8,83.5L196.9,83.3L197.4,82.0L197.9,80.9L197.9,80.7L198.2,79.3L198.4,78.0L198.7,76.7L198.9,76.1L199.2,75.4L200.0,74.2L200.1,74.1L201.1,73.1L201.5,72.8L202.2,72.1L203.3,71.5ZM275.4,99.9L274.4,100.2L274.3,100.3L273.2,101.5L273.6,102.8L274.3,103.5L274.8,104.1L275.4,104.4L276.4,104.8L277.5,104.7L278.6,104.2L278.9,104.1L279.7,103.4L280.7,102.8L280.8,102.4L281.4,101.5L280.8,101.2L279.7,100.6L279.0,100.2L278.6,100.1L277.5,99.9L276.4,99.8L275.4,99.9ZM303.7,113.7L302.8,114.5L302.6,114.9L302.4,115.8L302.6,116.7L302.8,117.1L303.7,117.8L304.8,117.9L305.9,117.8L307.0,117.7L308.1,117.9L308.4,118.4L309.2,119.5L309.5,119.7L310.3,120.1L311.4,120.1L312.5,120.0L313.6,119.8L313.6,119.7L314.7,119.2L315.6,118.4L315.8,118.1L316.3,117.1L315.8,116.1L315.6,115.8L314.7,115.6L313.6,115.5L312.5,115.7L312.0,115.8L311.4,116.1L310.3,116.6L309.2,116.8L308.1,116.7L307.5,115.8L307.0,115.6L305.9,114.6L305.8,114.5L304.8,113.9L303.7,113.7ZM198.9,118.4L198.9,118.4L198.8,119.7L198.9,120.3L199.1,121.0L199.5,122.3L199.7,123.6L199.5,124.9L199.4,126.2L199.6,127.6L200.0,128.0L201.1,128.9L201.1,128.9L202.2,128.9L202.3,128.9L203.3,127.7L203.4,127.6L203.4,126.2L203.5,124.9L204.0,123.6L204.4,123.0L205.0,122.3L205.5,121.7L205.8,121.0L205.7,119.7L205.5,119.4L204.4,119.0L203.3,118.5L203.2,118.4L202.2,117.9L201.1,117.3L200.0,117.2L198.9,118.4ZM500.0,76.7L500.2,76.7L501.3,76.5L502.4,76.7L502.6,76.7L503.5,77.4L504.0,78.0L504.3,79.3L504.1,80.7L503.5,82.0L503.5,82.0L502.4,82.6L501.7,82.0L501.3,81.7L500.3,80.7L500.2,80.6L499.2,79.3L499.1,79.1L498.8,78.0L499.1,77.5L500.0,76.7ZM190.5,82.0L191.3,81.5L192.4,81.7L192.7,82.0L193.4,83.3L193.5,84.2L193.6,84.6L193.5,85.9L193.5,85.9L192.4,87.0L192.0,87.2L191.3,87.3L190.9,87.2L190.2,86.7L189.8,85.9L189.6,84.6L189.7,83.3L190.2,82.3L190.5,82.0ZM338.3,83.3L338.7,82.8L339.8,82.9L340.0,83.3L340.0,84.6L339.8,85.2L338.7,85.5L338.1,84.6L338.3,83.3ZM383.7,101.5L384.5,101.2L385.6,101.2L386.1,101.5L386.7,102.7L386.7,102.8L386.7,102.9L385.6,103.9L384.5,103.8L383.4,103.2L383.2,102.8L383.4,101.9L383.7,101.5ZM460.1,119.7L460.9,119.6L462.0,119.5L462.5,119.7L462.8,121.0L462.5,122.3L462.0,123.1L461.7,123.6L460.9,124.4L460.1,124.9L459.9,125.1L458.8,125.3L458.3,124.9L457.8,123.6L457.9,122.3L458.3,121.0L458.8,120.3L459.9,119.8L460.1,119.7ZM78.6,124.9L78.9,124.8L80.0,124.6L81.0,124.6L82.1,124.9L82.2,124.9L82.4,126.2L82.2,127.6L82.1,127.9L81.6,128.9L81.0,129.7L80.0,129.8L78.9,129.3L78.5,128.9L77.8,127.9L77.6,127.6L77.6,126.2L77.8,125.9L78.6,124.9ZM399.8,130.2L400.9,129.6L402.0,130.0L402.1,130.2L402.1,131.5L402.0,131.7L401.2,132.8L400.9,133.0L399.8,133.3L398.9,132.8L399.0,131.5L399.8,130.2L399.8,130.2ZM12.3,144.5L12.3,144.1L13.0,144.5L13.2,145.8L12.3,146.3L12.3,145.8L12.3,144.5ZM78.3,167.9L78.9,167.6L80.0,167.8L80.0,167.9L80.1,169.2L80.0,170.5L80.0,170.6L79.5,171.8L78.9,172.5L77.8,173.1L77.3,173.1L76.7,173.2L76.6,173.1L75.6,172.7L74.6,171.8L74.5,171.5L74.2,170.5L74.4,169.2L74.5,169.1L75.6,168.5L76.7,168.3L77.8,168.1L78.3,167.9ZM50.2,177.1L50.5,176.9L51.5,177.1L50.9,178.4L50.5,178.5L50.3,178.4L50.2,177.1ZM62.5,179.7L62.5,179.6L63.6,178.8L64.5,179.7L64.1,181.0L63.6,181.2L63.1,181.0L62.5,179.8L62.5,179.7Z"/><path fill="#ffb4b4" fill-rule="evenodd" d="M221.7,57.2L221.9,57.0L223.0,56.3L224.1,56.0L225.1,56.2L226.2,56.8L226.8,57.2L227.3,57.8L227.9,58.5L228.2,59.8L228.0,61.1L227.3,61.8L226.5,62.4L226.2,62.5L225.1,62.8L224.1,62.8L223.0,62.6L222.6,62.4L221.9,61.7L221.5,61.1L221.1,59.8L221.1,58.5L221.7,57.2ZM431.8,57.2L432.6,56.6L433.6,56.2L434.7,56.0L435.8,55.9L436.9,56.1L438.0,56.5L439.0,57.2L439.1,57.3L439.9,58.5L440.2,59.5L440.3,59.8L440.2,61.1L440.2,61.1L439.3,62.4L439.1,62.6L438.0,63.0L436.9,63.2L435.8,63.2L434.7,63.3L433.6,63.4L432.6,63.6L432.2,63.7L431.8,65.0L432.1,66.3L432.6,67.3L432.7,67.6L433.3,68.9L433.6,69.4L434.2,70.2L434.7,70.8L435.6,71.5L435.8,71.7L436.9,72.7L437.1,72.8L438.0,73.9L438.3,74.1L439.1,75.4L439.1,75.5L440.2,76.3L441.3,75.8L441.7,75.4L442.4,74.8L443.1,74.1L443.5,73.9L444.6,73.2L445.5,72.8L445.7,72.8L446.8,72.6L447.8,72.6L448.9,72.8L448.9,72.8L450.0,73.1L451.1,73.1L452.2,72.8L452.2,72.8L453.3,72.4L454.4,72.4L455.5,72.8L455.5,72.8L456.6,73.7L457.2,74.1L457.7,74.5L458.8,75.0L459.9,75.2L460.9,75.1L462.0,74.7L462.7,74.1L463.1,73.9L464.2,73.3L465.3,73.1L466.4,73.2L467.5,73.5L468.6,73.9L469.5,74.1L469.7,74.2L470.8,74.4L471.9,74.6L473.0,74.8L474.0,75.0L475.1,75.4L475.3,75.4L476.2,76.0L477.1,76.7L477.3,77.0L478.2,78.0L478.4,78.4L479.0,79.3L479.2,80.7L478.9,82.0L478.6,83.3L478.4,83.7L478.1,84.6L477.3,85.3L476.2,85.8L476.0,85.9L475.1,86.0L474.0,86.1L472.9,86.4L471.9,86.8L470.8,87.1L469.7,87.1L468.6,87.0L467.5,87.0L466.5,87.2L466.4,87.2L465.3,87.5L464.2,87.8L463.1,88.1L462.0,88.4L461.5,88.5L460.9,88.6L459.9,88.9L458.8,89.0L457.7,89.0L456.6,88.9L455.5,88.9L454.4,88.9L453.3,88.8L452.2,88.7L451.1,88.5L450.0,88.5L448.9,89.1L448.4,89.8L447.8,91.0L447.8,91.1L447.4,92.4L446.9,93.7L446.8,93.9L445.9,95.0L445.7,95.3L444.7,96.3L444.6,96.5L443.5,97.2L442.4,97.0L441.3,96.5L440.5,96.3L440.2,96.2L439.1,95.9L438.8,96.3L438.2,97.6L438.2,98.9L438.3,100.2L438.4,101.5L438.0,102.6L437.9,102.8L436.9,103.7L435.8,104.1L435.8,104.1L434.7,104.3L433.6,104.4L432.6,104.3L431.5,104.2L431.1,104.1L430.4,103.8L429.3,103.3L428.6,102.8L428.2,102.4L427.5,101.5L427.1,100.8L426.8,100.2L426.4,98.9L426.0,97.8L425.9,97.6L424.9,96.4L424.7,96.3L423.8,95.9L422.7,95.6L421.6,95.2L421.2,95.0L420.6,94.7L419.5,94.2L418.4,93.7L418.4,93.6L417.3,93.0L416.3,92.4L416.2,92.3L415.1,91.6L414.5,91.1L414.0,90.6L413.3,89.8L412.9,89.3L412.4,88.5L411.9,87.2L411.8,86.6L411.7,85.9L411.5,84.6L411.5,83.3L411.8,82.0L411.8,82.0L412.6,80.7L412.9,80.4L414.0,79.4L414.1,79.3L415.1,78.5L415.7,78.0L416.2,77.7L417.3,77.1L418.0,76.7L418.4,76.5L419.5,76.2L420.5,75.9L421.6,75.5L421.8,75.4L422.7,74.7L423.4,74.1L423.8,73.7L424.4,72.8L424.9,71.8L425.0,71.5L425.2,70.2L425.3,68.9L425.4,67.6L425.8,66.3L426.0,65.9L426.8,65.0L427.1,64.8L428.2,64.1L428.8,63.7L429.3,63.2L429.9,62.4L430.1,61.1L430.3,59.8L430.4,59.6L430.8,58.5L431.5,57.6L431.8,57.2ZM203.5,74.1L204.4,73.9L205.5,73.9L206.6,74.1L206.8,74.1L207.7,74.5L208.8,75.3L208.9,75.4L209.9,76.4L210.1,76.7L210.9,77.6L211.5,78.0L212.0,78.4L213.1,79.1L213.7,79.3L214.2,79.5L215.3,79.8L216.4,80.0L217.5,79.9L218.6,79.6L218.9,79.3L219.7,78.8L220.5,78.0L220.8,77.8L221.9,77.1L223.0,77.1L224.1,77.8L224.5,78.0L225.1,78.4L226.2,78.6L227.3,78.3L227.9,78.0L228.4,77.8L229.5,77.1L230.6,76.7L230.6,76.7L231.7,76.7L232.2,76.7L232.8,76.9L233.9,77.3L235.0,78.0L235.2,78.0L236.1,78.3L237.2,78.2L238.2,78.1L239.3,78.1L240.4,78.3L241.5,78.5L242.6,78.4L243.6,78.0L243.7,78.0L244.8,77.5L245.9,77.2L247.0,77.2L248.1,77.6L248.5,78.0L249.2,78.5L250.1,79.3L250.2,79.4L251.3,79.9L252.4,79.9L253.5,79.7L254.6,79.4L254.7,79.3L255.7,79.0L256.8,78.7L257.9,78.3L258.7,78.0L259.0,77.9L260.1,77.2L260.7,76.7L261.2,76.3L262.3,75.6L262.7,75.4L263.4,75.2L264.4,75.0L265.5,74.8L266.6,74.7L267.7,74.8L268.8,75.0L269.5,75.4L269.9,75.8L270.7,76.7L271.0,77.4L271.2,78.0L271.4,79.3L271.5,80.7L271.6,82.0L271.9,83.3L272.1,83.9L272.3,84.6L272.9,85.9L273.2,86.3L274.2,87.2L274.3,87.2L275.4,87.7L276.4,87.9L277.5,88.0L278.6,88.2L279.5,88.5L279.7,88.5L280.8,89.2L281.5,89.8L281.9,90.2L282.7,91.1L283.0,91.5L283.8,92.4L284.1,93.2L284.8,93.7L284.1,94.6L284.0,95.0L283.0,96.0L282.7,96.3L281.9,96.8L280.8,97.4L280.3,97.6L279.7,97.7L278.6,97.9L277.5,97.9L276.4,97.8L275.4,97.9L274.3,98.1L273.2,98.4L272.1,98.7L271.0,98.8L269.9,98.8L268.8,98.9L268.7,98.9L267.7,99.7L267.5,100.2L267.5,101.5L267.5,102.8L267.7,104.1L267.7,104.1L268.8,104.9L269.9,104.8L271.0,104.6L272.1,104.7L273.2,105.1L273.5,105.4L274.3,105.8L275.4,106.3L276.4,106.6L277.5,106.5L278.6,106.3L279.7,106.1L280.8,106.0L281.9,106.2L282.7,106.7L283.0,107.0L283.8,108.0L284.1,108.5L285.0,109.3L285.2,109.4L286.3,109.4L286.4,109.3L287.4,108.9L288.5,108.5L289.5,108.1L289.7,108.0L290.6,107.4L291.7,106.7L291.7,106.7L292.8,106.2L293.9,106.1L295.0,106.1L296.1,106.2L297.2,106.4L298.3,106.6L298.4,106.7L299.4,107.5L299.8,108.0L300.0,109.3L299.6,110.6L299.4,111.0L299.0,111.9L298.4,113.2L298.3,113.4L297.5,114.5L297.2,114.7L296.2,115.8L296.1,116.0L295.6,117.1L295.5,118.4L296.0,119.7L296.1,119.8L297.2,120.5L298.3,120.6L299.4,120.5L300.5,120.6L301.4,121.0L301.6,121.1L302.6,121.6L303.7,121.9L304.8,121.9L305.9,122.1L306.4,122.3L307.0,122.5L308.1,122.9L309.2,123.1L310.3,123.1L311.4,122.9L312.5,122.6L313.6,122.4L314.0,122.3L314.7,122.2L315.8,121.9L316.8,121.6L317.9,121.5L319.0,121.6L320.1,122.1L320.4,122.3L321.2,123.2L321.5,123.6L322.3,124.6L322.8,124.9L323.4,125.2L324.5,125.3L325.6,125.0L325.7,124.9L326.7,124.4L327.8,123.8L328.5,123.6L328.9,123.6L329.1,123.6L329.9,124.0L331.0,124.9L331.1,124.9L332.1,125.8L333.2,126.2L333.2,126.3L334.3,126.4L335.4,126.3L335.8,126.2L336.5,126.1L337.6,126.0L338.7,126.0L339.8,126.2L339.8,126.2L340.9,126.8L341.9,127.5L342.1,127.6L343.0,128.2L344.1,128.7L344.6,128.9L345.2,129.1L346.3,129.2L347.4,129.0L348.2,128.9L348.5,128.8L349.6,128.7L350.7,128.5L351.8,128.4L352.9,128.2L354.0,128.4L354.8,128.9L355.1,129.0L356.1,130.2L356.1,130.2L357.2,131.0L358.2,131.5L358.3,131.5L359.4,131.8L360.5,131.9L361.6,131.7L362.0,131.5L362.7,131.0L363.8,130.4L364.8,130.2L364.9,130.1L366.0,130.1L366.3,130.2L367.1,130.2L368.1,130.7L368.9,131.5L369.2,132.8L369.1,134.1L368.9,135.4L369.2,136.7L369.2,136.8L370.3,137.6L371.4,137.6L372.5,136.9L372.7,136.7L373.5,135.4L373.6,135.2L374.7,134.1L374.7,134.0L375.8,133.1L376.0,132.8L376.9,131.7L377.1,131.5L378.0,130.8L379.1,130.4L380.2,130.6L381.2,131.5L381.2,131.5L381.8,132.8L382.2,134.1L382.3,134.4L382.7,135.4L383.1,136.7L383.4,137.5L383.6,138.0L384.0,139.3L384.5,140.6L384.5,140.8L384.9,141.9L385.4,143.2L385.6,143.7L386.1,144.5L386.7,145.7L386.8,145.8L387.2,147.1L387.2,148.4L386.7,149.6L386.6,149.7L385.6,150.3L384.5,150.7L384.0,151.0L383.4,151.4L382.4,152.3L382.3,152.3L381.2,153.1L380.2,153.4L379.6,153.6L379.1,153.7L378.0,154.2L376.9,154.8L376.8,154.9L375.8,156.2L375.8,156.4L375.4,157.5L375.0,158.8L374.7,159.3L373.6,159.7L372.5,159.8L371.4,159.9L370.8,160.1L370.3,160.3L369.2,160.7L368.1,161.0L367.1,161.2L366.7,161.4L366.0,161.8L364.9,162.4L364.2,162.7L363.8,163.0L362.7,163.6L361.6,164.0L361.4,164.0L360.5,164.2L359.4,164.1L359.2,164.0L358.3,163.8L357.2,163.5L356.1,163.5L355.0,163.5L354.0,163.4L352.9,163.3L351.8,163.1L351.1,162.7L350.7,162.3L349.9,161.4L349.6,160.8L349.2,160.1L348.5,159.1L348.1,158.8L347.4,158.4L346.3,158.2L345.2,158.5L344.7,158.8L344.1,159.2L343.3,160.1L343.0,160.5L342.2,161.4L341.9,161.7L340.9,162.7L340.8,162.7L339.8,163.3L338.7,163.4L337.6,163.5L336.5,163.7L335.4,164.0L335.4,164.0L335.3,164.0L334.3,164.0L333.2,163.5L332.1,163.0L331.2,162.7L331.0,162.7L329.9,162.5L328.9,162.3L327.8,162.2L326.7,162.2L325.6,162.2L324.5,162.1L323.4,161.7L323.0,161.4L322.3,161.0L321.2,160.4L320.1,160.2L319.5,160.1L319.0,160.1L318.4,160.1L317.9,160.1L316.8,160.2L315.8,160.3L314.7,160.4L313.6,160.8L312.5,161.2L311.5,161.4L311.4,161.4L311.2,161.4L310.3,161.3L309.2,161.1L308.1,161.1L307.2,161.4L307.0,161.5L305.9,162.5L305.8,162.7L304.8,163.7L304.4,164.0L303.7,164.4L302.6,164.6L301.6,164.3L301.3,164.0L300.5,162.7L300.5,162.4L300.3,161.4L300.2,160.1L300.1,158.8L299.7,157.5L299.4,157.0L298.3,156.4L297.8,156.2L297.2,156.1L296.1,155.9L295.0,155.9L294.0,156.2L293.9,156.2L292.8,156.7L291.7,157.3L291.4,157.5L290.6,158.1L289.9,158.8L289.6,159.2L288.5,160.1L288.5,160.2L287.4,160.6L286.3,160.4L285.7,160.1L285.2,159.9L284.1,159.6L283.0,159.4L281.9,159.4L280.8,159.7L280.1,160.1L279.7,160.4L278.7,161.4L278.6,161.5L277.5,162.6L276.4,162.7L275.4,161.7L275.1,161.4L274.3,160.5L273.8,160.1L273.2,159.6L272.1,159.3L271.0,159.3L269.9,159.4L268.8,159.4L267.7,159.5L266.6,160.1L266.6,160.1L266.4,161.4L266.3,162.7L265.8,164.0L265.5,164.4L264.4,165.3L264.2,165.3L263.4,165.5L262.3,165.5L261.2,165.5L260.1,165.4L259.4,165.3L259.0,165.3L257.9,165.1L256.8,164.9L255.7,164.9L254.8,165.3L254.6,165.5L253.5,166.5L253.2,166.6L252.4,167.0L251.3,166.7L251.3,166.6L250.2,165.9L249.2,165.5L248.1,165.8L247.2,166.6L247.0,166.8L246.0,167.9L245.9,168.1L244.8,168.8L244.2,169.2L243.7,169.7L243.3,170.5L242.8,171.8L242.6,172.1L241.9,173.1L241.5,173.5L240.4,173.6L239.3,173.1L239.3,173.1L238.2,172.4L237.2,171.9L237.0,171.8L236.1,171.2L235.5,170.5L235.1,169.2L235.1,167.9L235.4,166.6L235.7,165.3L236.1,164.2L236.1,164.0L236.7,162.7L236.8,161.4L236.2,160.1L236.1,160.0L235.4,158.8L235.0,158.1L234.6,157.5L234.0,156.2L233.9,155.5L233.7,154.9L233.8,153.6L233.9,153.5L234.2,152.3L234.4,151.0L234.5,149.7L234.5,148.4L234.4,147.1L234.1,145.8L233.9,145.4L233.2,144.5L232.8,144.1L231.7,143.2L231.7,143.2L230.6,142.1L230.4,141.9L229.6,140.6L229.5,140.5L229.1,139.3L228.9,138.0L228.8,136.7L228.8,135.4L228.9,134.1L229.0,132.8L229.1,131.5L229.2,130.2L229.0,128.9L228.4,127.9L227.9,127.6L227.3,127.3L226.2,127.0L225.1,126.8L224.1,126.9L223.0,127.1L221.9,127.3L220.8,127.1L219.7,126.5L219.4,126.2L218.7,124.9L218.6,124.5L218.5,123.6L218.4,122.3L218.1,121.0L217.5,120.1L217.1,119.7L216.4,119.4L215.3,119.3L214.2,119.7L214.2,119.7L213.1,120.6L212.6,121.0L212.0,121.8L211.5,122.3L210.9,123.1L209.9,123.5L209.1,122.3L208.9,121.0L208.8,120.5L208.7,119.7L208.1,118.4L207.7,117.8L207.1,117.1L206.6,116.6L205.5,115.9L205.3,115.8L204.4,115.5L203.3,115.2L202.2,114.8L201.6,114.5L201.1,114.3L200.0,113.8L198.9,113.3L198.7,113.2L197.8,112.4L197.6,111.9L197.2,110.6L197.1,109.3L197.3,108.0L197.8,106.9L198.0,106.7L198.9,105.8L200.0,105.5L201.1,105.4L201.2,105.4L202.2,104.4L202.4,104.1L202.2,103.5L202.0,102.8L201.2,101.5L201.1,101.4L200.3,100.2L200.0,99.9L199.4,98.9L198.9,98.4L198.1,97.6L197.8,97.2L197.3,96.3L197.3,95.0L197.6,93.7L197.7,92.4L197.4,91.1L197.0,89.8L196.8,88.5L197.0,87.2L197.4,85.9L197.8,84.7L197.9,84.6L198.4,83.3L198.9,82.0L198.9,81.7L199.3,80.7L199.6,79.3L199.9,78.0L200.0,77.7L200.5,76.7L201.1,75.8L201.5,75.4L202.2,74.8L203.3,74.2L203.5,74.1ZM287.3,80.7L287.4,80.6L288.5,80.4L289.6,80.5L290.3,80.7L290.6,80.7L291.7,81.2L292.8,81.6L293.7,82.0L293.9,82.1L295.0,82.4L296.1,82.6L297.2,82.6L298.3,82.5L299.4,82.5L300.5,82.6L301.6,82.7L302.6,83.0L303.4,83.3L303.7,83.4L304.8,83.6L305.9,83.3L305.9,83.2L307.0,82.6L308.0,82.0L308.1,81.9L309.2,81.6L310.3,81.4L311.4,81.4L312.5,81.5L313.6,81.9L313.6,82.0L314.7,82.7L315.3,83.3L315.8,83.9L316.2,84.6L316.5,85.9L316.4,87.2L316.0,88.5L315.8,89.0L315.3,89.8L314.7,91.0L314.6,91.1L313.6,92.3L313.5,92.4L312.5,93.0L311.4,93.4L310.3,93.7L310.2,93.7L309.2,93.8L308.1,94.0L307.0,94.2L305.9,94.4L304.8,94.4L303.7,94.0L303.2,93.7L302.6,93.1L301.9,92.4L301.6,91.9L300.7,91.1L300.5,90.9L299.4,89.9L299.3,89.8L298.3,89.2L297.2,88.7L296.1,88.6L295.0,88.9L293.9,89.7L293.9,89.8L292.9,91.1L292.8,91.3L292.4,92.4L292.0,93.7L291.7,94.5L291.5,95.0L290.6,96.2L290.5,96.3L289.6,97.1L288.5,97.3L287.4,96.6L287.0,96.3L286.3,95.3L285.8,95.0L285.4,93.7L285.8,92.4L286.0,91.1L285.8,89.8L285.6,88.5L285.3,87.2L285.2,86.4L285.1,85.9L284.9,84.6L284.9,83.3L285.2,82.5L285.4,82.0L286.3,81.2L287.3,80.7ZM151.8,82.0L152.0,81.5L152.1,82.0L152.0,82.2L151.8,82.0ZM116.8,89.8L117.1,89.5L118.2,89.2L119.2,89.7L119.3,89.8L119.4,91.1L119.2,91.8L119.1,92.4L119.0,93.7L119.2,95.0L119.2,95.3L119.6,96.3L120.3,97.3L120.6,97.6L121.4,98.3L121.8,98.9L122.3,100.2L122.4,101.5L121.4,102.6L120.3,102.4L119.2,101.6L119.1,101.5L118.5,100.2L118.2,99.3L117.9,98.9L117.1,98.4L116.0,98.3L114.9,98.3L113.8,98.2L112.8,97.6L112.7,97.5L112.4,96.3L112.7,95.0L112.7,94.9L113.4,93.7L113.8,93.1L114.6,92.4L114.9,92.0L115.8,91.1L116.0,90.8L116.8,89.8ZM153.8,100.2L154.2,99.9L155.3,99.5L156.4,99.1L157.5,99.1L158.6,99.8L158.8,100.2L158.9,101.5L158.9,102.8L158.8,104.1L158.6,104.8L158.2,105.4L157.5,106.1L156.4,105.8L156.0,105.4L155.3,104.7L154.7,104.1L154.2,103.4L153.6,102.8L153.1,101.6L153.1,101.5L153.1,101.4L153.8,100.2ZM454.9,100.2L455.5,99.3L456.6,99.4L457.7,99.6L458.8,99.5L459.2,100.2L458.8,100.7L457.7,101.2L457.4,101.5L456.6,101.8L455.5,102.0L455.1,101.5L454.9,100.2ZM443.8,101.5L444.6,100.6L445.7,101.4L445.7,101.5L446.3,102.8L446.8,103.7L446.9,104.1L446.8,105.1L445.7,104.9L445.0,104.1L444.6,103.5L444.2,102.8L443.8,101.5ZM474.2,102.8L475.1,102.4L476.2,102.2L477.3,102.5L478.1,102.8L478.4,102.9L479.5,103.3L480.6,103.5L481.7,103.8L482.1,104.1L482.8,104.4L483.9,105.0L484.8,105.4L485.0,105.5L486.0,105.8L487.1,106.2L488.2,106.7L488.3,106.7L489.3,107.3L490.3,108.0L490.4,108.1L491.5,109.3L491.5,109.3L492.4,110.6L492.6,111.6L492.7,111.9L492.6,112.2L492.3,113.2L491.6,114.5L491.5,114.7L491.1,115.8L491.0,117.1L490.9,118.4L490.8,119.7L490.7,121.0L491.5,122.1L492.6,122.2L493.7,122.2L494.8,122.1L495.9,122.0L497.0,122.1L497.6,122.3L498.1,122.6L499.1,123.2L500.1,123.6L500.2,123.8L501.3,124.3L502.1,124.9L502.4,125.3L503.0,126.2L503.2,127.6L502.9,128.9L502.4,129.5L502.1,130.2L501.5,131.5L501.3,132.6L501.3,132.8L501.3,132.9L501.5,134.1L501.9,135.4L502.4,136.3L502.9,136.7L503.5,137.0L504.6,136.9L505.0,136.7L505.7,136.3L506.7,135.4L506.8,135.3L507.7,134.1L507.9,133.4L508.1,132.8L508.6,131.5L509.0,130.8L510.1,130.9L510.3,131.5L510.4,132.8L510.5,134.1L510.4,135.4L510.4,136.7L510.6,138.0L510.9,139.3L511.2,139.8L511.5,140.6L512.2,141.2L513.3,141.9L513.3,141.9L514.4,142.1L515.5,142.1L516.6,142.0L517.3,143.2L517.1,144.5L516.9,145.8L516.7,147.1L516.9,148.4L517.5,149.7L517.7,149.9L518.8,151.0L518.8,151.1L519.9,151.7L521.0,151.5L521.4,151.0L522.1,150.6L523.2,150.3L524.3,150.4L525.4,150.7L526.4,150.7L527.5,150.2L528.1,149.7L528.3,148.4L528.2,147.1L528.1,145.8L527.9,144.5L527.9,143.2L528.2,141.9L528.6,141.0L529.7,140.9L530.4,141.9L530.8,142.4L531.2,143.2L531.9,144.4L532.0,144.5L532.5,145.8L532.7,147.1L532.3,148.4L531.9,148.9L530.9,149.7L530.8,149.8L529.7,150.6L529.4,151.0L529.1,152.3L528.8,153.6L528.6,154.1L528.1,154.9L527.5,155.4L526.4,155.7L525.4,155.4L524.4,154.9L524.3,154.8L523.2,154.4L522.1,154.7L522.0,154.9L521.9,156.2L522.0,157.5L521.8,158.8L521.4,160.1L521.0,160.8L520.6,161.4L519.9,162.0L518.8,162.6L517.8,162.7L517.7,162.7L517.7,162.7L516.6,162.2L515.8,161.4L515.5,160.4L515.4,160.1L515.5,159.3L515.6,158.8L516.0,157.5L515.5,156.5L515.0,156.2L514.4,156.1L513.4,156.2L513.3,156.2L512.2,156.9L511.6,157.5L511.2,157.9L510.4,158.8L510.1,159.2L509.4,160.1L509.0,160.8L508.4,161.4L507.9,161.8L506.8,161.9L505.7,161.7L504.6,161.5L503.8,161.4L503.5,161.4L502.7,161.4L502.4,161.4L501.3,161.5L501.0,161.4L500.2,161.3L499.1,160.8L498.1,160.3L497.3,160.1L497.0,160.0L496.5,160.1L495.9,160.2L494.8,160.9L493.9,161.4L493.7,161.5L492.6,161.8L491.5,161.8L490.4,161.7L489.3,161.7L488.2,162.0L487.1,162.5L486.6,162.7L486.1,162.9L485.0,163.0L483.9,162.7L483.9,162.7L482.8,162.4L481.7,161.9L481.1,161.4L480.6,160.7L480.2,160.1L479.5,159.1L479.2,158.8L478.4,158.2L477.3,157.7L476.8,157.5L476.2,157.2L475.5,156.2L475.1,155.6L474.9,154.9L474.4,153.6L474.0,152.3L474.0,152.3L473.8,151.0L474.0,149.7L474.0,149.6L474.8,148.4L475.1,148.0L475.9,147.1L476.2,146.7L476.8,145.8L477.3,145.1L477.7,144.5L478.4,143.6L478.8,143.2L479.5,142.3L479.9,141.9L480.6,141.0L480.9,140.6L481.7,139.4L481.9,139.3L482.8,138.2L483.2,138.0L483.9,137.1L484.1,136.7L484.4,135.4L483.9,134.1L482.8,134.1L481.7,134.2L480.6,134.2L479.9,134.1L479.5,134.0L478.4,133.5L477.3,132.9L477.1,132.8L476.2,131.6L476.1,131.5L476.0,130.2L476.2,129.7L477.3,129.0L478.4,128.9L479.5,129.2L480.6,129.8L481.4,130.2L481.7,130.3L482.8,130.6L483.9,131.1L484.2,131.5L484.7,132.8L485.0,133.6L485.4,134.1L486.0,134.2L487.1,134.7L488.2,134.8L489.3,134.4L489.6,134.1L490.1,132.8L490.2,131.5L490.2,130.2L490.2,128.9L490.1,127.6L490.0,126.2L489.9,124.9L489.7,123.6L489.3,123.2L488.2,123.0L487.1,123.0L486.0,122.7L485.0,122.4L483.9,122.8L483.0,123.6L482.8,123.8L481.7,124.7L481.2,124.9L480.6,125.4L479.5,125.9L478.4,125.9L477.5,124.9L477.3,124.8L477.0,123.6L476.6,122.3L476.2,121.4L476.1,121.0L475.7,119.7L475.1,118.4L475.1,118.4L474.5,117.1L474.0,116.4L473.6,115.8L472.9,114.9L472.6,114.5L471.9,113.8L470.8,113.4L469.7,113.8L468.7,114.5L468.6,114.6L467.5,115.1L466.4,115.1L465.4,114.5L465.3,114.5L464.2,113.4L464.1,113.2L463.3,111.9L463.1,111.0L463.0,110.6L463.1,110.5L464.2,109.3L464.3,109.3L465.3,109.0L466.4,108.7L467.5,108.2L467.7,108.0L468.6,107.1L468.8,106.7L469.7,105.9L470.2,105.4L470.8,105.1L471.9,104.4L472.3,104.1L472.9,103.6L474.0,102.9L474.2,102.8ZM106.4,108.0L107.2,107.6L108.3,107.2L109.4,107.3L110.2,108.0L109.4,109.3L109.4,109.3L108.6,110.6L108.3,111.0L107.8,111.9L107.2,112.8L106.7,113.2L106.2,113.5L105.1,113.5L104.0,113.7L102.9,114.1L102.0,114.5L101.8,114.6L101.3,114.5L100.7,114.3L100.2,113.2L100.7,111.9L100.7,111.9L101.8,111.2L102.7,110.6L102.9,110.6L104.0,109.9L104.5,109.3L105.1,108.9L106.2,108.2L106.4,108.0ZM311.6,108.0L312.5,107.7L313.6,108.0L313.6,108.0L314.3,109.3L314.4,110.6L313.6,111.6L313.1,111.9L312.5,112.2L311.4,112.8L310.8,113.2L310.3,113.4L309.2,113.4L308.9,113.2L308.1,112.4L307.7,111.9L307.8,110.6L308.1,110.4L309.2,109.5L309.4,109.3L310.3,108.9L311.4,108.1L311.6,108.0ZM143.7,110.6L144.4,109.8L145.4,110.0L145.7,110.6L145.5,111.9L145.4,112.2L145.1,113.2L144.7,114.5L144.4,115.1L143.7,115.8L143.3,116.1L142.2,116.4L141.7,115.8L141.8,114.5L142.1,113.2L142.2,113.1L142.9,111.9L143.3,111.1L143.7,110.6ZM498.8,113.2L499.1,112.9L500.2,112.8L500.6,113.2L500.2,113.5L499.1,113.6L498.8,113.2ZM149.6,117.1L149.8,116.4L150.9,115.9L152.0,116.4L153.1,116.8L154.2,116.8L155.3,116.8L156.0,117.1L156.4,118.4L156.4,118.4L156.4,118.5L155.5,119.7L155.3,119.8L154.2,119.9L153.1,119.8L152.5,119.7L152.0,119.6L150.9,119.1L150.1,118.4L149.8,117.8L149.6,117.1ZM159.1,130.2L159.6,129.8L160.7,129.6L161.8,130.0L162.0,130.2L162.7,131.5L162.9,132.1L163.0,132.8L163.3,134.1L163.4,135.4L163.4,136.7L162.9,138.0L162.9,138.0L161.8,138.2L160.7,138.3L159.6,138.3L158.7,138.0L158.6,137.9L157.8,136.7L157.5,136.1L157.2,135.4L157.0,134.1L157.1,132.8L157.5,131.7L157.7,131.5L158.6,130.5L159.1,130.2ZM195.7,132.8L196.8,132.2L197.9,131.6L198.9,131.8L200.0,132.3L201.1,132.5L202.2,132.5L203.3,132.5L204.0,132.8L204.4,133.1L204.7,134.1L204.8,135.4L205.0,136.7L205.4,138.0L205.5,138.9L205.6,139.3L205.5,139.4L205.0,140.6L204.4,141.2L204.1,141.9L203.6,143.2L203.3,144.2L203.2,144.5L202.8,145.8L202.4,147.1L202.2,147.3L201.4,148.4L201.1,148.6L200.0,149.3L198.9,149.6L197.8,149.7L196.8,149.5L195.7,149.2L194.6,149.1L193.5,149.2L192.4,149.4L191.3,149.5L190.6,149.7L190.2,149.8L189.1,150.7L188.8,151.0L188.1,152.3L188.0,152.6L187.7,153.6L187.4,154.9L187.0,156.2L186.9,156.4L186.4,157.5L185.8,158.1L184.8,158.7L183.7,158.6L182.6,158.1L181.8,157.5L181.5,157.2L180.4,156.5L179.3,156.3L178.2,156.4L177.1,156.6L176.0,156.9L174.9,157.2L174.2,157.5L173.8,157.7L172.7,158.0L171.7,158.0L170.6,157.8L169.8,157.5L169.5,157.4L168.4,156.8L167.5,156.2L167.3,156.1L166.2,155.4L165.1,155.0L164.0,155.1L162.9,155.5L161.8,156.1L161.4,156.2L160.7,156.4L159.6,156.3L159.4,156.2L158.6,155.7L157.9,154.9L157.5,154.4L156.7,153.6L156.4,153.4L155.3,153.0L154.2,152.9L153.1,152.9L152.0,152.8L150.9,152.4L150.8,152.3L149.8,151.3L149.5,151.0L148.7,150.5L147.6,150.4L146.5,150.7L145.4,150.9L144.8,151.0L144.4,151.1L143.3,151.1L142.2,151.1L141.1,151.4L140.2,152.3L140.0,152.5L139.4,153.6L138.9,154.3L138.4,154.9L137.8,155.4L136.7,156.2L136.7,156.2L135.6,156.8L134.5,157.3L133.6,157.5L133.4,157.6L132.3,157.6L131.3,157.6L130.7,157.5L130.2,157.4L129.1,156.9L128.0,156.3L127.6,156.2L126.9,156.1L126.0,156.2L125.8,156.2L124.7,156.6L123.6,157.2L123.1,157.5L122.5,157.8L121.4,158.7L121.3,158.8L120.3,159.8L120.1,160.1L119.2,160.7L118.2,161.4L118.1,161.4L117.1,161.8L116.0,162.3L115.1,162.7L114.9,162.8L113.8,163.3L112.7,163.8L111.9,164.0L111.6,164.1L110.5,164.3L109.4,164.4L108.3,164.6L107.2,165.1L106.7,165.3L106.2,165.5L105.1,165.7L104.0,165.5L103.5,165.3L102.9,165.1L101.8,164.7L100.7,164.5L99.6,164.4L98.5,164.4L97.4,164.5L96.3,164.6L95.2,164.5L94.1,164.4L93.2,164.0L93.0,164.0L92.0,162.8L91.9,162.7L91.3,161.4L90.9,160.5L90.7,160.1L89.9,158.8L89.8,158.7L88.9,157.5L88.7,156.8L88.5,156.2L88.5,154.9L88.7,154.3L88.8,153.6L89.1,152.3L89.4,151.0L89.6,149.7L89.8,148.5L89.8,148.4L89.8,147.1L89.9,145.8L89.9,144.5L89.9,143.2L89.8,142.5L89.6,141.9L89.0,140.6L88.7,139.9L88.3,139.3L87.9,138.0L88.7,137.2L89.8,137.0L90.9,137.0L92.0,136.9L92.3,136.7L93.1,135.8L93.3,135.4L94.1,134.8L95.2,134.8L96.3,135.3L96.4,135.4L97.4,135.9L98.5,136.2L99.6,136.2L100.7,135.8L101.6,135.4L101.8,135.3L102.9,134.8L104.0,134.8L104.9,135.4L105.1,135.5L106.0,136.7L106.2,136.8L107.2,137.8L107.6,138.0L108.3,138.2L109.4,138.3L110.5,138.5L111.6,138.9L112.2,139.3L112.7,139.6L113.8,140.0L114.9,140.1L116.0,140.0L117.1,139.9L118.2,140.1L119.2,140.6L119.2,140.6L120.3,141.2L121.4,141.4L122.5,141.0L123.0,140.6L123.6,140.1L124.7,139.7L125.8,140.0L126.6,140.6L126.9,140.8L128.0,141.7L128.4,141.9L129.1,142.3L130.2,142.6L131.3,142.7L132.3,142.6L133.4,142.7L134.5,142.9L135.6,143.2L135.9,143.2L136.7,143.4L137.1,143.2L137.6,141.9L137.7,140.6L137.8,140.1L138.1,139.3L138.9,138.5L140.0,138.3L141.1,138.5L142.2,138.7L143.3,138.8L144.4,138.9L145.4,139.1L146.1,139.3L146.5,139.4L147.6,140.2L148.0,140.6L148.7,141.2L149.8,141.8L150.1,141.9L150.9,142.2L152.0,142.7L152.9,143.2L153.1,143.3L154.2,144.0L154.9,144.5L155.3,144.8L156.1,145.8L156.4,146.3L156.8,147.1L157.5,148.1L158.0,148.4L158.6,148.7L159.6,148.5L159.9,148.4L160.7,148.0L161.8,147.2L162.0,147.1L162.9,146.2L163.2,145.8L164.0,144.7L164.2,144.5L165.1,143.2L165.1,143.2L166.2,142.0L166.3,141.9L167.3,140.7L167.3,140.6L167.9,139.3L168.4,138.4L168.5,138.0L169.4,136.7L169.5,136.6L170.6,135.5L170.8,135.4L171.7,135.0L172.7,135.0L173.7,135.4L173.8,135.4L174.9,136.2L175.4,136.7L176.0,137.6L176.3,138.0L177.1,138.8L178.2,139.2L179.3,139.3L180.4,139.3L180.4,139.3L181.5,139.5L182.6,140.4L182.7,140.6L183.6,141.9L183.7,141.9L184.7,143.2L184.7,143.3L185.8,144.2L186.6,144.5L186.9,144.7L188.0,144.6L188.1,144.5L189.1,143.2L189.1,143.2L189.6,141.9L190.0,140.6L190.2,139.9L190.3,139.3L190.6,138.0L191.1,136.7L191.3,136.4L191.9,135.4L192.4,134.7L193.1,134.1L193.5,133.7L194.6,133.2L195.7,132.8L195.7,132.8Z"/><path fill="#ff8c8c" fill-rule="evenodd" d="M224.0,58.5L224.1,58.5L224.3,58.5L225.1,58.9L225.5,59.8L225.1,60.3L224.1,60.5L223.4,59.8L224.0,58.5ZM433.1,58.5L433.6,58.1L434.7,57.5L435.8,57.3L436.9,57.6L438.0,58.4L438.1,58.5L438.5,59.8L438.0,61.1L438.0,61.1L436.9,61.5L435.8,61.6L434.7,61.6L433.6,61.3L433.4,61.1L432.7,59.8L433.1,58.5ZM428.1,68.9L428.2,68.7L429.3,67.8L430.4,68.3L430.8,68.9L431.5,70.0L431.6,70.2L432.3,71.5L432.6,71.8L433.6,72.8L433.7,72.8L434.7,73.5L435.6,74.1L435.8,74.4L436.5,75.4L436.9,76.4L437.0,76.7L437.4,78.0L438.0,79.3L438.1,79.3L439.1,80.6L439.1,80.7L440.2,81.8L440.4,82.0L441.3,83.0L441.7,83.3L442.4,83.9L443.5,84.2L444.6,83.7L445.2,83.3L445.0,82.0L444.6,81.3L444.4,80.7L444.2,79.3L444.6,78.3L444.6,78.0L445.4,76.7L445.7,76.4L446.5,75.4L446.8,75.3L447.8,75.0L448.9,74.9L450.0,75.0L451.1,75.0L452.2,74.9L453.3,74.9L454.4,75.2L454.7,75.4L455.5,76.2L456.1,76.7L456.6,77.3L457.7,77.7L458.8,77.9L459.9,77.9L460.9,77.9L462.0,77.7L463.1,77.0L463.5,76.7L464.2,76.1L465.3,75.6L466.4,76.0L467.3,76.7L467.5,77.0L468.5,78.0L468.6,78.2L469.7,78.9L470.8,78.8L471.6,78.0L471.9,77.9L473.0,77.7L474.0,77.9L474.3,78.0L475.1,79.3L475.2,79.3L475.1,79.6L475.0,80.7L474.0,81.5L472.9,81.8L471.9,81.9L471.8,82.0L470.8,82.5L470.2,83.3L469.7,83.6L468.6,84.2L467.9,84.6L467.5,84.7L466.4,85.0L465.3,85.3L464.2,85.7L463.3,85.9L463.1,85.9L462.0,86.0L460.9,86.1L459.9,86.0L459.0,85.9L458.8,85.8L457.7,85.3L456.6,85.0L455.5,85.2L454.4,85.5L453.3,85.5L452.2,85.1L451.1,84.6L450.9,84.6L450.0,84.3L448.9,84.2L447.8,84.2L446.8,84.3L445.8,84.6L445.7,84.7L445.1,85.9L444.6,87.2L444.6,87.4L444.2,88.5L444.4,89.8L444.5,91.1L443.5,92.3L442.9,91.1L442.5,89.8L442.4,89.5L441.5,88.5L441.3,88.4L440.2,88.1L439.1,88.0L438.0,88.1L436.9,88.4L436.8,88.5L435.8,89.0L435.1,89.8L434.7,90.3L434.1,91.1L433.6,91.7L432.8,92.4L432.6,92.5L431.5,93.0L430.4,93.1L429.3,93.1L428.2,93.2L427.1,93.5L426.5,93.7L426.0,93.8L424.9,94.0L423.8,94.1L422.7,94.0L421.6,93.8L421.4,93.7L420.6,93.4L419.5,92.9L418.4,92.4L418.4,92.4L417.3,91.7L416.4,91.1L416.2,90.9L415.1,90.1L414.8,89.8L414.0,88.8L413.7,88.5L413.2,87.2L412.9,85.9L412.9,85.9L412.9,84.6L412.9,84.3L413.1,83.3L413.7,82.0L414.0,81.6L414.9,80.7L415.1,80.5L416.2,79.7L416.7,79.3L417.3,79.0L418.4,78.4L419.5,78.1L419.8,78.0L420.6,77.9L421.6,77.6L422.7,77.3L423.8,76.7L423.8,76.7L424.9,75.8L425.3,75.4L426.0,74.5L426.3,74.1L427.0,72.8L427.1,72.6L427.5,71.5L427.8,70.2L428.1,68.9ZM203.7,76.7L204.4,76.4L205.5,76.3L206.6,76.4L207.2,76.7L207.7,77.0L208.8,77.9L209.0,78.0L209.9,78.8L210.6,79.3L210.9,79.6L212.0,80.1L213.1,80.5L213.4,80.7L214.2,81.0L215.3,81.4L216.4,81.7L217.5,81.9L218.6,81.9L219.7,81.5L220.8,80.9L221.6,80.7L221.9,80.6L222.7,80.7L223.0,80.7L224.1,81.0L225.1,81.2L226.2,81.3L227.3,81.2L228.4,81.3L229.5,81.5L230.6,81.8L231.7,81.8L232.8,81.5L233.9,81.2L235.0,81.0L236.1,80.8L236.6,80.7L237.2,80.5L238.2,80.3L239.3,80.3L240.4,80.4L241.5,80.6L242.1,80.7L242.6,80.7L243.0,80.7L243.7,80.6L244.8,80.3L245.9,80.0L247.0,80.0L248.1,80.4L248.6,80.7L249.2,80.9L250.2,81.4L251.3,81.7L252.4,81.8L253.5,81.8L254.6,81.8L255.7,81.9L256.8,81.9L257.9,81.8L259.0,81.5L260.1,81.2L261.2,80.7L261.2,80.7L262.3,80.1L263.4,79.4L263.4,79.3L264.4,78.7L265.5,78.2L266.1,78.0L266.6,77.9L267.7,78.0L267.7,78.0L268.8,78.9L269.0,79.3L269.6,80.7L269.9,81.4L270.0,82.0L270.4,83.3L270.7,84.6L271.0,85.4L271.1,85.9L271.6,87.2L272.1,87.9L272.7,88.5L273.2,88.9L274.3,89.3L275.4,89.6L276.4,89.8L276.4,89.8L277.5,90.2L278.6,90.9L278.8,91.1L279.4,92.4L279.4,93.7L278.8,95.0L278.6,95.1L277.5,95.7L276.4,95.9L275.4,96.1L274.6,96.3L274.3,96.3L273.2,96.7L272.1,97.0L271.0,97.1L269.9,97.0L268.8,96.8L267.7,96.8L266.6,96.9L265.5,97.2L264.9,97.6L264.4,98.6L264.3,98.9L264.4,99.2L264.8,100.2L265.2,101.5L265.4,102.8L265.5,104.1L265.5,104.2L265.8,105.4L266.6,106.3L267.3,106.7L267.7,106.9L268.8,107.0L269.9,106.8L270.5,106.7L271.0,106.6L272.1,106.6L272.5,106.7L273.2,106.9L274.3,107.5L275.3,108.0L275.4,108.0L276.4,108.4L277.5,108.5L278.6,108.4L279.7,108.4L280.8,108.7L281.6,109.3L281.9,109.7L282.5,110.6L282.9,111.9L282.8,113.2L281.9,113.9L280.8,114.3L280.4,114.5L279.7,114.8L278.7,115.8L278.6,115.9L278.4,117.1L278.6,118.4L278.6,118.5L279.2,119.7L279.7,120.5L280.3,121.0L280.8,121.4L281.9,122.0L282.9,122.3L283.0,122.4L284.1,122.6L285.2,122.6L286.3,122.4L286.5,122.3L287.4,121.8L288.5,121.1L289.0,121.0L289.6,121.0L289.7,121.0L290.6,121.2L291.7,121.2L292.8,121.3L293.9,121.6L295.0,122.0L295.7,122.3L296.1,122.4L297.2,122.7L298.3,122.9L299.4,123.0L300.5,123.2L301.5,123.6L301.6,123.7L302.6,123.9L303.7,124.0L304.8,124.0L305.9,124.1L307.0,124.4L308.1,124.7L309.2,124.8L310.3,124.8L311.4,124.6L312.5,124.4L313.6,124.3L314.7,124.1L315.8,124.0L316.8,123.9L317.9,124.1L319.0,124.8L319.2,124.9L320.0,126.2L320.1,126.4L321.2,127.4L321.9,127.6L322.3,127.6L322.9,127.6L323.4,127.5L324.5,127.2L325.6,126.9L326.7,126.5L327.4,126.2L327.8,126.1L328.9,126.2L329.0,126.2L329.9,126.7L331.0,127.6L331.0,127.6L332.1,128.2L333.2,128.5L334.3,128.6L335.4,128.5L336.5,128.3L337.6,127.9L338.7,127.9L339.8,128.2L340.9,128.8L341.0,128.9L341.9,129.5L342.9,130.2L343.0,130.2L344.1,131.0L345.0,131.5L345.2,131.6L346.3,132.1L347.4,132.1L348.5,131.9L349.6,131.9L350.7,132.1L351.8,132.5L352.2,132.8L352.9,133.1L354.0,133.6L355.1,133.8L356.1,133.8L357.2,133.8L358.3,133.9L359.2,134.1L359.4,134.1L360.5,134.6L361.6,135.1L362.6,135.4L362.7,135.4L362.9,135.4L363.8,135.3L364.9,135.4L364.9,135.4L365.7,136.7L366.0,136.9L366.5,138.0L367.1,138.7L367.6,139.3L368.1,139.7L369.2,140.3L370.3,140.6L370.3,140.6L371.4,140.7L372.5,140.6L372.7,140.6L373.6,140.3L374.7,139.6L375.1,139.3L375.8,138.6L376.5,138.0L376.9,137.6L378.0,137.0L379.1,136.9L380.2,137.6L380.4,138.0L381.2,139.2L381.3,139.3L381.9,140.6L382.3,141.8L382.4,141.9L382.5,143.2L382.4,144.5L382.3,145.2L382.2,145.8L381.7,147.1L381.2,147.8L380.8,148.4L380.2,149.0L379.2,149.7L379.1,149.7L378.0,150.3L376.9,151.0L376.9,151.0L375.8,152.0L375.6,152.3L374.7,153.5L374.7,153.6L373.7,154.9L373.6,155.0L372.5,156.1L372.4,156.2L371.4,156.8L370.3,157.3L369.9,157.5L369.2,157.8L368.1,158.3L367.1,158.8L367.1,158.8L366.0,159.5L365.1,160.1L364.9,160.3L363.8,161.0L363.1,161.4L362.7,161.6L361.6,162.0L360.5,162.0L359.4,161.7L358.8,161.4L358.3,161.2L357.2,160.9L356.1,160.9L355.1,161.1L354.0,161.1L352.9,160.4L352.6,160.1L352.0,158.8L351.8,158.4L351.3,157.5L350.7,156.5L350.4,156.2L349.6,155.7L348.5,155.3L347.4,155.2L346.3,155.3L345.2,155.4L344.1,155.6L343.0,155.8L342.3,156.2L341.9,156.5L341.3,157.5L340.9,158.0L340.1,158.8L339.8,159.0L338.7,159.2L337.6,159.1L336.5,159.0L335.4,158.9L334.3,158.9L333.2,159.0L332.1,159.1L331.0,159.4L329.9,159.5L328.9,159.4L327.8,159.1L327.2,158.8L326.7,158.2L326.3,157.5L325.9,156.2L325.6,155.1L325.5,154.9L324.8,153.6L324.5,152.8L323.8,152.3L323.4,152.0L323.0,152.3L322.3,152.8L321.2,153.6L321.2,153.6L320.1,154.0L319.0,153.8L318.6,153.6L317.9,153.4L316.8,153.0L315.8,152.7L314.7,152.6L313.6,152.6L312.5,152.7L311.4,152.9L310.3,153.0L309.2,152.8L308.4,152.3L308.1,152.2L307.0,151.6L305.9,151.2L304.8,151.2L303.7,151.4L302.6,151.8L301.6,152.3L301.5,152.3L300.5,152.8L299.4,153.1L298.3,153.2L297.2,153.1L296.1,152.9L295.0,152.7L293.9,152.6L292.8,152.6L291.7,152.5L291.0,152.3L290.6,152.2L289.6,152.0L288.5,151.6L287.4,151.2L286.6,151.0L286.3,150.9L286.0,151.0L285.2,151.2L284.1,152.2L284.0,152.3L283.2,153.6L283.0,153.9L282.2,154.9L281.9,155.1L280.8,155.6L279.7,156.1L279.6,156.2L278.6,156.8L277.5,157.3L276.4,156.8L276.0,156.2L275.4,155.5L274.9,154.9L274.3,154.0L274.0,153.6L273.4,152.3L273.2,151.6L273.0,151.0L272.2,149.7L272.1,149.6L271.0,149.5L269.9,149.7L269.8,149.7L268.8,150.3L268.2,151.0L267.7,151.9L267.6,152.3L267.1,153.6L266.6,154.2L265.6,154.9L265.5,154.9L264.4,155.2L263.4,155.3L262.3,155.2L261.2,154.9L261.2,154.9L260.1,154.6L259.0,154.1L258.1,153.6L257.9,153.5L256.8,153.0L255.7,152.7L254.6,152.8L253.5,153.2L252.4,153.6L252.4,153.6L251.3,153.8L250.2,153.8L249.2,153.7L248.9,153.6L248.1,153.4L247.0,153.1L245.9,153.1L244.9,153.6L244.8,153.7L243.7,154.3L242.6,154.8L242.2,154.9L241.5,155.0L240.8,154.9L240.4,154.9L239.3,154.4L238.4,153.6L238.2,153.5L237.3,152.3L237.2,152.0L236.7,151.0L236.4,149.7L236.2,148.4L236.1,147.1L236.1,146.0L236.0,145.8L235.9,144.5L235.6,143.2L235.2,141.9L235.3,140.6L236.1,139.7L236.3,139.3L237.1,138.0L237.2,137.9L237.5,136.7L237.5,135.4L237.2,134.5L236.9,134.1L236.1,133.3L235.0,133.0L233.9,132.9L233.3,132.8L232.8,132.5L232.1,131.5L232.0,130.2L232.3,128.9L232.7,127.6L232.8,127.5L233.2,126.2L233.4,124.9L233.2,123.6L232.9,122.3L232.8,121.9L232.1,121.0L231.7,120.6L230.6,120.7L230.3,121.0L229.5,121.9L229.2,122.3L228.4,123.2L227.3,123.6L226.2,123.4L225.1,123.0L224.1,122.4L224.0,122.3L223.0,121.7L222.2,121.0L221.9,120.6L221.3,119.7L220.8,118.8L220.5,118.4L219.7,117.3L219.5,117.1L218.6,116.5L217.5,116.1L216.4,116.1L215.3,116.2L214.2,116.6L213.2,117.1L213.1,117.1L212.0,117.5L210.9,117.5L210.4,117.1L209.9,116.9L208.8,116.0L208.6,115.8L207.7,115.0L207.2,114.5L206.6,113.8L205.8,113.2L205.5,112.8L204.4,112.1L204.0,111.9L203.3,111.1L203.0,110.6L203.3,110.0L203.6,109.3L204.4,108.5L204.8,108.0L205.5,107.5L206.6,106.9L207.1,106.7L207.7,106.4L208.8,105.8L209.2,105.4L209.4,104.1L208.8,103.6L207.7,103.2L206.9,102.8L206.6,102.7L205.5,101.9L205.1,101.5L204.4,100.8L204.0,100.2L203.3,99.2L203.1,98.9L202.2,97.6L202.2,97.6L201.3,96.3L201.1,96.0L200.6,95.0L200.3,93.7L200.0,92.6L200.0,92.4L199.6,91.1L199.2,89.8L198.9,89.0L198.8,88.5L198.7,87.2L198.9,85.9L198.9,85.6L199.3,84.6L199.8,83.3L200.0,82.6L200.3,82.0L200.8,80.7L201.1,79.8L201.3,79.3L202.1,78.0L202.2,77.9L203.3,76.9L203.7,76.7ZM237.2,98.8L236.9,98.9L236.1,99.4L235.0,99.9L233.9,100.0L233.0,100.2L232.8,100.2L231.7,100.9L230.9,101.5L230.6,101.8L229.5,102.6L229.2,102.8L228.4,103.9L228.3,104.1L228.4,104.5L228.6,105.4L229.5,106.1L230.5,106.7L230.6,106.8L231.7,107.0L232.8,106.9L233.4,106.7L233.9,106.5L235.0,105.8L235.7,105.4L236.1,105.1L237.2,104.8L238.2,105.0L239.3,105.0L240.4,104.3L240.6,104.1L240.8,102.8L240.7,101.5L240.4,100.8L240.2,100.2L239.3,99.0L239.1,98.9L238.2,98.6L237.2,98.8ZM253.5,98.7L252.5,98.9L252.4,98.9L251.7,100.2L251.3,101.4L251.3,101.5L251.2,102.8L251.3,103.1L252.1,104.1L252.4,104.2L253.5,104.5L254.6,104.7L255.7,104.8L256.8,104.7L257.9,104.1L257.9,104.1L259.0,102.8L259.0,102.8L259.5,101.5L259.0,100.3L258.9,100.2L257.9,99.9L256.8,99.6L255.7,99.4L254.6,99.0L254.4,98.9L253.5,98.7ZM346.3,141.1L345.3,141.9L345.2,142.0L344.9,143.2L344.9,144.5L345.2,145.6L345.4,145.8L346.3,146.4L347.4,146.3L347.9,145.8L348.5,144.5L348.4,143.2L347.7,141.9L347.4,141.5L346.3,141.1ZM287.2,83.3L287.4,83.1L288.5,82.6L289.5,82.5L290.6,82.7L291.7,83.1L292.1,83.3L292.8,83.8L293.6,84.6L293.8,85.9L293.2,87.2L292.8,87.6L292.1,88.5L291.7,88.8L290.6,89.7L289.9,89.8L289.6,89.9L289.4,89.8L288.5,89.0L288.2,88.5L287.5,87.2L287.4,87.0L287.0,85.9L286.9,84.6L287.2,83.3ZM309.3,84.6L310.3,84.2L311.4,84.2L312.3,84.6L312.5,84.7L312.9,85.9L312.6,87.2L312.5,87.4L312.1,88.5L311.4,89.8L311.4,89.8L310.3,91.1L310.3,91.1L309.2,91.4L308.1,91.5L307.0,91.1L306.9,91.1L305.9,89.9L305.8,89.8L305.7,88.5L305.9,88.1L306.5,87.2L307.0,86.6L307.7,85.9L308.1,85.5L309.2,84.6L309.3,84.6ZM428.8,96.3L429.3,95.8L430.4,95.5L431.5,95.6L432.2,96.3L432.6,96.5L433.6,97.5L433.7,97.6L434.5,98.9L434.7,99.8L434.8,100.2L434.7,100.5L434.3,101.5L433.6,101.9L432.6,102.2L431.5,102.2L430.4,101.8L429.8,101.5L429.3,101.0L428.6,100.2L428.2,99.1L428.1,98.9L428.1,97.6L428.2,97.3L428.8,96.3ZM474.4,105.4L475.1,105.1L476.2,104.9L477.3,105.3L477.7,105.4L478.4,105.6L479.5,105.9L480.6,106.0L481.7,106.2L482.8,106.6L483.2,106.7L483.9,107.0L485.0,107.3L486.0,107.7L486.8,108.0L487.1,108.2L488.2,109.1L488.5,109.3L489.3,110.6L489.3,111.9L488.8,113.2L488.2,114.3L488.1,114.5L487.4,115.8L487.1,116.3L486.2,117.1L486.1,117.2L485.0,117.4L483.9,117.7L482.8,118.4L482.8,118.5L481.7,119.6L481.5,119.7L480.6,120.6L479.5,121.0L478.4,120.5L477.8,119.7L477.3,119.2L476.9,118.4L476.2,117.2L476.2,117.1L475.5,115.8L475.1,115.2L474.7,114.5L474.1,113.2L474.0,113.1L473.4,111.9L472.9,111.2L472.4,110.6L471.9,109.9L471.5,109.3L471.6,108.0L471.9,107.6L472.5,106.7L472.9,106.4L474.0,105.6L474.4,105.4ZM287.2,111.9L287.4,111.8L288.5,111.2L289.6,111.0L290.6,110.9L291.7,111.0L292.8,111.4L293.4,111.9L293.8,113.2L293.5,114.5L292.8,115.8L292.8,115.9L292.0,117.1L291.7,117.6L290.6,118.4L289.6,118.4L288.5,117.7L288.2,117.1L287.4,116.2L287.2,115.8L286.4,114.5L286.3,113.2L287.2,111.9ZM101.5,138.0L101.8,137.8L102.9,137.5L104.0,137.7L104.3,138.0L105.1,138.7L105.7,139.3L106.2,139.7L107.2,140.3L108.3,140.5L109.4,140.5L109.8,140.6L110.5,140.7L111.6,141.2L112.7,141.7L113.5,141.9L113.8,142.0L114.6,141.9L114.9,141.9L116.0,141.6L117.1,141.5L118.2,141.8L118.3,141.9L119.2,142.6L119.8,143.2L120.3,143.9L121.1,144.5L121.4,145.0L122.5,145.3L123.6,144.8L124.3,144.5L124.7,144.3L125.8,144.3L126.3,144.5L126.9,144.7L128.0,145.2L129.1,145.6L130.2,145.7L131.3,145.5L132.3,145.3L133.4,145.4L134.0,145.8L134.5,146.3L135.0,147.1L135.5,148.4L135.6,148.8L135.8,149.7L136.0,151.0L135.9,152.3L135.6,152.9L135.2,153.6L134.5,154.2L133.4,154.5L132.3,154.2L131.3,153.6L131.3,153.6L130.2,152.4L130.1,152.3L129.1,151.7L128.0,151.8L126.9,152.3L126.9,152.3L125.8,153.0L124.7,153.5L124.5,153.6L123.6,153.9L122.5,154.0L121.6,153.6L121.4,153.5L120.3,152.9L119.2,153.0L118.4,153.6L118.2,153.8L117.5,154.9L117.3,156.2L117.6,157.5L117.6,158.8L117.1,159.6L116.6,160.1L116.0,160.4L114.9,161.0L114.2,161.4L113.8,161.6L112.7,162.0L111.6,162.2L110.5,162.2L109.4,162.1L108.3,162.0L107.2,161.9L106.2,162.0L105.1,162.2L104.0,162.3L102.9,162.2L101.8,161.9L100.7,161.7L99.6,161.7L98.5,161.8L97.4,162.0L96.3,162.1L95.2,162.0L94.1,161.6L93.9,161.4L93.0,160.6L92.8,160.1L92.0,159.0L91.8,158.8L90.9,157.5L90.9,157.4L90.3,156.2L90.1,154.9L90.2,153.6L90.4,152.3L90.7,151.0L90.9,150.2L91.0,149.7L91.2,148.4L91.3,147.1L91.6,145.8L92.0,145.0L92.3,144.5L93.0,143.7L94.0,143.2L94.1,143.1L95.2,142.3L95.8,141.9L96.3,141.0L96.6,140.6L97.4,139.6L97.9,139.3L98.5,139.1L99.6,138.8L100.7,138.4L101.5,138.0ZM194.4,139.3L194.6,139.0L195.7,138.8L196.8,139.0L197.8,139.0L198.9,138.9L200.0,138.7L201.1,138.9L201.6,139.3L202.0,140.6L201.8,141.9L201.3,143.2L201.1,143.6L200.6,144.5L200.0,145.3L199.7,145.8L198.9,146.6L197.8,147.0L196.8,146.8L195.7,146.3L194.6,145.9L194.4,145.8L193.5,145.2L193.0,144.5L193.0,143.2L193.3,141.9L193.5,141.4L193.9,140.6L194.4,139.3ZM491.4,139.3L491.5,139.2L492.6,138.9L493.7,138.7L494.8,138.5L495.9,138.4L496.9,139.3L497.0,139.3L497.7,140.6L498.1,140.9L499.0,141.9L499.1,142.0L500.2,142.6L501.3,143.1L501.6,143.2L502.4,143.8L503.3,144.5L503.5,144.7L504.6,145.1L505.7,145.0L506.8,144.7L507.5,144.5L507.9,144.4L509.0,144.4L510.1,144.5L510.1,144.5L511.2,144.6L512.2,145.0L513.3,145.7L513.4,145.8L513.6,147.1L513.3,147.8L513.1,148.4L512.2,149.5L512.1,149.7L511.2,151.0L511.2,151.1L510.6,152.3L510.1,153.6L510.1,153.7L509.5,154.9L509.0,155.9L508.8,156.2L507.9,157.5L507.8,157.5L506.8,158.3L505.7,158.6L504.6,158.3L503.5,157.9L502.8,157.5L502.4,157.3L501.3,157.0L500.2,156.9L499.1,156.9L498.1,156.9L497.0,157.0L495.9,157.1L494.8,157.5L494.8,157.5L493.7,158.1L492.6,158.7L492.3,158.8L491.5,159.0L490.4,159.2L489.3,159.3L488.2,159.6L487.1,160.1L487.0,160.1L486.1,160.4L485.0,160.5L483.9,160.2L483.7,160.1L482.8,159.4L482.2,158.8L481.7,157.9L481.4,157.5L480.7,156.2L480.6,155.9L479.5,155.2L478.4,155.0L478.0,154.9L477.3,154.5L476.6,153.6L476.2,152.3L476.5,151.0L477.3,149.8L477.4,149.7L478.4,148.7L478.8,148.4L479.5,147.8L480.6,147.2L481.1,147.1L481.7,146.9L482.8,146.7L483.9,146.6L485.0,146.3L485.7,145.8L486.1,145.5L486.7,144.5L487.1,143.9L487.6,143.2L488.2,142.5L488.8,141.9L489.3,141.2L489.9,140.6L490.4,140.0L491.4,139.3ZM141.2,141.9L142.2,141.0L143.3,140.8L144.4,141.0L145.4,141.4L146.1,141.9L146.5,142.2L147.6,143.2L147.6,143.3L148.5,144.5L148.7,145.7L148.8,145.8L148.7,145.8L147.6,147.1L147.6,147.1L146.5,147.7L145.5,148.3L144.9,148.4L144.4,148.5L143.3,148.4L143.2,148.4L142.2,147.9L141.4,147.1L141.1,146.2L140.9,145.8L140.8,144.5L140.9,143.2L141.1,142.2L141.2,141.9ZM171.8,141.9L172.7,140.9L173.8,141.1L174.9,141.4L176.0,141.9L176.1,141.9L177.1,142.3L178.2,142.4L179.3,142.5L180.4,142.9L180.7,143.2L181.5,144.1L181.7,144.5L182.6,145.6L182.7,145.8L183.7,147.0L183.7,147.1L184.2,148.4L183.7,149.4L183.5,149.7L182.6,150.4L182.0,151.0L181.5,151.5L180.7,152.3L180.4,152.6L179.3,153.3L178.6,153.6L178.2,153.8L177.1,154.1L176.0,154.3L174.9,154.7L174.6,154.9L173.8,155.2L172.7,155.6L171.6,155.8L170.6,155.5L169.5,155.0L169.4,154.9L168.4,154.0L167.8,153.6L167.3,153.2L166.2,152.6L165.4,152.3L165.1,152.1L164.0,151.3L163.7,151.0L164.0,150.6L164.3,149.7L165.1,148.9L165.5,148.4L166.2,147.6L166.8,147.1L167.3,146.5L168.1,145.8L168.4,145.5L169.5,144.9L170.6,144.5L170.6,144.5L171.4,143.2L171.7,142.3L171.8,141.9ZM302.5,158.8L302.6,158.3L303.7,157.6L304.7,158.8L304.4,160.1L303.7,161.4L303.6,161.4L302.6,161.5L302.6,161.4L302.3,160.1L302.5,158.8ZM237.9,167.9L238.2,167.1L239.1,167.9L238.2,168.3L237.9,167.9Z"/><path fill="#ff5a5a" fill-rule="evenodd" d="M449.9,78.0L450.0,78.0L451.1,77.6L452.2,77.8L452.7,78.0L453.1,79.3L452.2,80.3L451.1,80.3L450.0,79.6L449.8,79.3L449.9,78.0ZM421.3,79.3L421.6,79.3L422.7,79.2L423.8,79.0L424.9,78.9L426.0,78.8L427.1,79.3L427.1,79.3L427.5,80.7L427.8,82.0L428.0,83.3L428.2,83.9L428.4,84.6L428.7,85.9L428.9,87.2L428.6,88.5L428.2,88.9L427.3,89.8L427.1,89.9L426.0,90.8L425.7,91.1L424.9,91.7L423.8,92.2L422.7,92.4L421.6,92.3L420.6,92.0L419.5,91.6L418.5,91.1L418.4,91.0L417.3,90.2L416.6,89.8L416.2,89.4L415.3,88.5L415.1,88.1L414.6,87.2L414.4,85.9L414.5,84.6L415.0,83.3L415.1,83.1L415.9,82.0L416.2,81.7L417.3,80.8L417.4,80.7L418.4,80.1L419.5,79.7L420.5,79.5L421.3,79.3ZM203.9,80.7L204.4,80.1L205.5,79.6L206.6,79.9L207.7,80.6L207.8,80.7L208.8,81.2L209.9,81.5L210.9,81.6L212.0,81.8L212.5,82.0L213.1,82.2L214.2,82.6L215.3,83.1L215.8,83.3L216.4,83.6L217.5,83.9L218.6,84.0L219.7,83.9L220.8,83.6L221.9,83.4L223.0,83.5L224.0,83.7L225.1,83.9L226.2,84.2L227.2,84.6L227.3,84.6L228.4,85.4L229.0,85.9L229.5,86.2L230.6,86.7L231.7,87.0L232.8,86.9L233.9,86.6L234.6,85.9L235.0,85.3L235.3,84.6L236.1,83.4L236.2,83.3L237.2,82.7L238.2,82.3L239.3,82.3L240.4,82.6L241.5,82.9L242.6,83.2L242.9,83.3L243.7,83.4L244.8,83.5L245.9,83.3L246.1,83.3L247.0,83.1L248.1,83.2L248.2,83.3L249.2,83.6L250.2,84.0L251.3,84.3L252.4,84.6L252.5,84.6L253.5,84.8L254.6,85.2L255.7,85.6L256.8,85.8L257.9,85.7L259.0,85.4L260.1,84.9L260.6,84.6L261.2,84.3L262.3,83.9L263.4,83.6L264.4,83.3L264.5,83.3L265.5,82.9L266.6,82.7L267.7,83.1L267.8,83.3L268.7,84.6L268.8,84.7L269.2,85.9L269.6,87.2L269.9,87.9L270.2,88.5L271.0,89.7L271.1,89.8L272.0,91.1L272.1,91.2L272.8,92.4L272.8,93.7L272.1,94.3L271.0,94.9L269.9,94.9L268.8,94.7L267.7,94.6L266.6,94.4L265.5,94.2L264.4,94.1L263.4,94.4L262.5,95.0L262.3,95.2L261.2,95.9L260.5,96.3L260.1,96.4L259.0,96.7L257.9,96.9L256.8,96.9L255.7,96.7L254.6,96.4L254.4,96.3L253.5,95.8L252.4,95.6L251.3,96.1L251.2,96.3L250.2,97.3L250.0,97.6L249.2,98.6L248.4,98.9L248.1,99.1L247.4,98.9L247.0,98.8L245.9,98.2L244.8,97.7L244.6,97.6L243.7,97.2L242.6,96.7L241.8,96.3L241.5,96.1L240.4,95.5L239.3,95.3L238.2,95.5L237.2,95.9L236.4,96.3L236.1,96.4L235.0,96.8L233.9,97.0L232.8,97.3L231.9,97.6L231.7,97.6L230.6,98.2L229.5,98.6L228.4,98.6L227.3,97.9L227.0,97.6L226.2,96.8L225.2,96.3L225.1,96.3L224.1,96.3L224.1,96.3L223.0,96.6L221.9,96.9L220.8,97.1L219.7,97.1L218.6,97.1L217.5,97.0L216.4,96.7L215.8,96.3L215.3,95.7L214.7,95.0L214.2,94.3L213.4,93.7L213.1,93.5L212.0,93.4L211.4,93.7L210.9,94.0L210.4,95.0L209.9,95.9L209.6,96.3L208.8,97.0L207.7,97.5L206.9,97.6L206.6,97.6L206.5,97.6L205.5,97.3L204.4,96.5L204.2,96.3L203.3,95.3L203.1,95.0L202.2,93.7L202.2,93.6L201.8,92.4L201.4,91.1L201.1,90.0L201.0,89.8L200.7,88.5L200.5,87.2L200.7,85.9L201.1,84.7L201.2,84.6L202.0,83.3L202.2,82.9L202.9,82.0L203.3,81.3L203.9,80.7ZM261.1,105.4L261.2,105.3L262.3,104.9L262.9,105.4L263.4,105.7L263.9,106.7L264.4,107.4L264.9,108.0L265.5,108.6L266.6,109.0L267.7,109.1L268.8,109.0L269.9,108.9L271.0,108.8L272.1,108.9L273.1,109.3L273.2,109.4L274.3,110.5L274.4,110.6L274.9,111.9L274.4,113.2L274.3,113.5L273.5,114.5L273.2,115.0L272.3,115.8L272.1,116.7L271.8,117.1L272.1,117.4L273.2,118.0L273.7,118.4L274.3,118.8L275.0,119.7L275.4,120.2L275.8,121.0L276.4,122.1L276.6,122.3L277.5,123.3L277.9,123.6L278.6,124.1L279.7,124.7L280.1,124.9L280.8,125.3L281.9,125.7L283.0,125.9L284.1,126.0L284.9,126.2L285.2,126.3L286.3,127.0L286.8,127.6L287.4,128.0L288.5,128.7L289.4,128.9L289.6,128.9L289.6,128.9L290.6,128.4L291.4,127.6L291.7,127.2L292.3,126.2L292.8,125.3L293.1,124.9L293.9,124.3L295.0,124.1L296.1,124.2L297.2,124.5L298.3,124.7L299.2,124.9L299.4,125.0L300.5,125.4L301.6,125.7L302.6,125.8L303.7,125.7L304.8,125.7L305.9,126.0L306.7,126.2L307.0,126.4L308.1,126.7L309.2,126.8L310.3,126.8L311.4,126.8L312.5,126.9L313.6,127.2L314.1,127.6L314.7,128.2L315.1,128.9L315.8,129.4L316.8,129.8L317.9,129.8L319.0,130.0L320.1,130.1L320.5,130.2L321.2,130.2L321.8,130.2L322.3,130.1L323.4,129.8L324.5,129.4L325.6,128.9L325.8,128.9L326.7,128.6L327.8,128.6L328.5,128.9L328.9,129.0L329.9,129.9L330.2,130.2L331.0,130.9L332.0,131.5L332.1,131.6L333.2,132.1L334.3,132.8L334.3,132.8L335.4,133.7L336.0,134.1L336.5,134.4L337.6,134.8L338.7,135.2L338.9,135.4L339.8,136.6L339.8,136.7L340.1,138.0L340.5,139.3L340.7,140.6L340.6,141.9L339.8,143.2L339.8,143.2L338.7,143.6L337.6,143.6L336.5,143.7L335.9,144.5L335.4,144.9L334.3,145.4L333.2,145.2L332.1,144.8L331.0,144.6L329.9,144.7L328.9,145.1L327.8,145.7L327.2,145.8L326.7,145.9L326.3,145.8L325.6,145.6L324.5,145.3L323.4,145.2L322.3,145.3L321.2,145.6L320.7,145.8L320.1,146.2L319.4,147.1L319.0,147.8L318.8,148.4L317.9,149.5L317.7,149.7L316.8,150.1L315.8,150.4L314.7,150.6L313.6,150.6L312.5,150.6L311.4,150.5L310.3,150.2L309.2,149.7L309.1,149.7L308.1,149.0L307.1,148.4L307.0,148.3L305.9,147.7L304.8,147.5L303.7,147.5L302.6,147.4L301.6,147.2L301.2,147.1L300.5,146.9L299.4,146.9L298.6,147.1L298.3,147.2L297.2,147.6L296.1,147.9L295.0,147.7L293.9,147.4L292.8,147.4L291.7,147.8L290.6,148.1L289.6,148.2L288.5,147.9L287.4,147.4L286.6,147.1L286.3,146.9L285.2,146.6L284.1,146.5L283.0,146.5L281.9,146.2L281.4,145.8L280.8,145.2L280.2,144.5L279.7,144.2L278.6,144.0L277.5,143.9L276.4,143.9L275.4,143.9L274.3,144.0L273.2,144.1L272.1,144.3L271.0,144.5L271.0,144.5L269.9,144.5L269.5,144.5L268.8,144.3L267.7,143.8L266.6,143.2L266.6,143.2L265.5,142.7L264.4,142.4L263.4,142.5L262.4,143.2L262.3,143.6L262.1,144.5L262.3,144.9L262.5,145.8L263.1,147.1L263.4,148.0L263.5,148.4L263.7,149.7L263.5,151.0L263.4,151.2L262.3,151.8L261.2,151.8L260.1,151.4L259.2,151.0L259.0,150.9L257.9,149.9L257.6,149.7L256.8,148.9L255.7,148.5L254.6,148.5L253.5,148.5L252.7,148.4L252.4,148.3L251.3,147.8L250.3,147.1L250.2,147.1L249.2,146.6L248.1,146.2L247.2,145.8L247.0,145.7L245.9,145.0L244.8,144.7L243.7,145.0L243.0,145.8L242.6,146.1L241.7,147.1L241.5,147.3L240.7,148.4L240.4,149.0L239.3,149.4L238.6,148.4L238.3,147.1L238.2,145.8L238.4,144.5L238.8,143.2L239.3,142.4L239.9,141.9L240.4,141.5L241.5,141.2L242.6,140.9L243.3,140.6L243.5,139.3L243.1,138.0L242.7,136.7L242.6,136.5L242.2,135.4L241.5,134.1L241.5,134.1L240.4,133.1L240.1,132.8L239.3,132.2L238.5,131.5L238.2,131.2L237.4,130.2L237.1,129.6L236.7,128.9L236.5,127.6L236.4,126.2L236.2,124.9L236.1,123.6L236.2,122.3L236.9,121.0L237.2,120.8L238.2,120.9L239.3,120.9L240.4,120.7L241.5,120.4L242.6,120.2L243.7,120.0L244.8,119.8L245.9,119.8L247.0,120.2L248.1,120.7L249.2,120.9L250.2,120.8L251.3,120.3L252.4,119.7L252.4,119.6L253.5,118.5L253.7,118.4L253.5,118.4L252.5,117.1L252.4,117.1L251.4,115.8L251.3,115.8L250.6,114.5L250.2,113.3L250.2,113.2L250.0,111.9L250.0,110.6L250.2,109.7L250.4,109.3L251.3,108.6L252.4,108.3L253.5,108.3L254.6,108.3L255.7,108.2L256.6,108.0L256.8,108.0L257.9,107.6L259.0,107.1L259.5,106.7L260.1,106.2L261.1,105.4ZM263.4,113.2L263.3,113.2L262.3,113.6L261.2,113.8L260.1,113.8L259.0,113.8L257.9,113.9L256.8,114.5L256.8,114.5L255.7,115.8L255.7,115.9L255.1,117.1L255.3,118.4L255.7,118.5L256.8,118.6L257.9,118.7L259.0,118.9L260.1,119.7L260.1,119.7L261.2,120.9L261.3,121.0L262.3,121.9L262.9,122.3L263.4,122.5L264.4,122.7L265.5,122.4L265.7,122.3L266.6,121.6L267.3,121.0L267.7,120.3L268.3,119.7L268.8,118.6L269.0,118.4L269.2,117.1L268.8,116.8L268.4,115.8L267.7,115.2L267.2,114.5L266.6,113.9L265.7,113.2L265.5,113.1L264.4,112.9L263.4,113.2ZM296.1,138.2L295.5,139.3L295.9,140.6L296.1,140.8L297.2,140.9L297.8,140.6L298.2,139.3L297.2,138.4L296.1,138.2ZM250.2,133.8L250.0,134.1L249.2,135.3L249.1,135.4L248.8,136.7L249.2,138.0L249.2,138.0L250.2,138.7L251.0,139.3L251.3,139.4L252.4,140.1L253.1,140.6L253.5,140.9L254.6,141.3L255.7,141.2L256.7,140.6L256.8,140.5L257.8,139.3L257.9,138.9L258.2,138.0L258.3,136.7L258.2,135.4L257.9,134.6L257.6,134.1L256.8,133.5L255.7,133.3L254.6,133.3L253.5,133.4L252.4,133.3L251.3,133.3L250.2,133.8ZM223.0,109.3L224.1,108.2L225.1,108.2L226.2,108.7L227.0,109.3L227.3,109.6L228.4,110.6L228.4,110.7L229.4,111.9L229.5,112.6L229.7,113.2L229.5,113.8L229.3,114.5L228.6,115.8L228.4,116.1L227.8,117.1L227.3,118.0L226.9,118.4L226.2,119.1L225.1,119.1L224.3,118.4L224.1,118.2L223.4,117.1L223.0,116.5L222.6,115.8L221.9,114.7L221.8,114.5L221.4,113.2L221.6,111.9L221.9,111.3L222.2,110.6L223.0,109.3L223.0,109.3ZM477.2,109.3L477.3,109.2L478.4,108.6L479.5,108.3L480.6,108.3L481.7,108.5L482.8,109.0L483.3,109.3L483.9,109.9L484.5,110.6L484.6,111.9L484.0,113.2L483.9,113.4L482.8,114.4L482.6,114.5L481.7,115.0L480.6,115.3L479.5,115.2L478.5,114.5L478.4,114.4L477.7,113.2L477.3,112.1L477.3,111.9L477.1,110.6L477.2,109.3ZM210.1,110.6L210.9,110.3L212.0,109.8L212.7,110.6L212.5,111.9L212.0,112.5L211.2,113.2L210.9,113.3L210.5,113.2L209.9,112.9L209.3,111.9L209.9,110.8L210.1,110.6ZM358.0,136.7L358.3,136.6L358.4,136.7L359.4,137.0L360.5,137.7L361.0,138.0L361.6,138.3L362.7,138.7L363.8,139.2L364.0,139.3L364.9,139.8L365.7,140.6L366.0,140.8L367.1,141.8L367.2,141.9L368.1,142.4L369.2,142.7L370.3,142.8L371.4,143.0L372.5,143.2L372.7,143.2L373.6,143.5L374.7,144.3L374.9,144.5L375.3,145.8L375.3,147.1L374.9,148.4L374.7,148.9L374.4,149.7L373.9,151.0L373.6,151.5L373.2,152.3L372.5,153.3L372.3,153.6L371.4,154.4L370.7,154.9L370.3,155.1L369.2,155.7L368.3,156.2L368.1,156.3L367.1,156.8L366.0,157.5L366.0,157.5L364.9,158.2L363.9,158.8L363.8,158.9L362.7,159.5L361.6,159.9L360.5,159.8L359.4,159.2L358.8,158.8L358.3,158.5L357.2,157.8L356.7,157.5L356.1,157.1L355.1,156.2L355.0,156.2L354.1,154.9L354.0,154.6L353.4,153.6L352.9,152.6L352.7,152.3L352.0,151.0L351.8,150.1L351.6,149.7L351.6,148.4L351.7,147.1L351.8,146.5L351.9,145.8L352.1,144.5L352.3,143.2L352.5,141.9L352.9,140.9L353.1,140.6L354.0,139.7L354.4,139.3L355.1,138.6L355.5,138.0L356.1,137.4L357.2,136.8L358.0,136.7ZM102.3,141.9L102.9,141.2L104.0,141.4L104.5,141.9L105.1,142.5L106.2,143.1L107.2,143.1L108.3,143.0L109.4,143.0L110.2,143.2L110.5,143.3L111.6,143.9L112.7,144.3L113.8,144.3L114.9,144.1L116.0,143.8L117.1,143.8L118.2,144.5L118.2,144.5L118.7,145.8L118.9,147.1L118.6,148.4L118.2,149.4L118.0,149.7L117.1,150.8L116.8,151.0L116.0,151.9L115.5,152.3L114.9,153.0L114.3,153.6L113.8,154.2L113.2,154.9L112.7,155.7L112.4,156.2L111.8,157.5L111.6,157.9L110.5,158.6L109.4,158.5L108.3,158.0L107.4,157.5L107.2,157.4L106.2,156.8L105.2,156.2L105.1,156.1L104.0,155.3L103.2,154.9L102.9,154.3L102.6,153.6L102.9,152.5L102.9,152.3L103.6,151.0L104.0,150.5L104.4,149.7L104.8,148.4L104.7,147.1L104.0,145.8L104.0,145.8L102.9,145.0L102.5,144.5L102.0,143.2L102.3,141.9ZM492.4,143.2L492.6,143.1L493.7,143.0L494.1,143.2L494.8,143.5L495.9,144.2L496.3,144.5L497.0,145.0L497.8,145.8L498.1,146.3L498.5,147.1L498.6,148.4L498.3,149.7L498.1,150.1L497.7,151.0L497.0,152.1L496.8,152.3L495.9,153.3L495.6,153.6L494.8,154.1L493.7,154.8L493.5,154.9L492.6,155.3L491.5,155.8L490.4,156.1L490.0,156.2L489.3,156.3L488.2,156.6L487.1,156.7L486.1,156.8L485.0,156.4L484.8,156.2L484.3,154.9L484.1,153.6L484.1,152.3L484.7,151.0L485.0,150.9L486.1,150.3L487.0,149.7L487.1,149.6L488.2,148.5L488.3,148.4L489.0,147.1L489.3,146.4L489.6,145.8L490.4,144.7L490.6,144.5L491.5,143.6L492.4,143.2ZM95.8,145.8L96.3,145.7L96.7,145.8L97.4,146.3L97.8,147.1L98.0,148.4L98.2,149.7L98.3,151.0L98.5,152.3L98.5,152.3L99.1,153.6L99.6,154.9L99.6,155.0L99.7,156.2L99.6,156.3L99.1,157.5L98.5,158.1L97.6,158.8L97.4,158.9L96.3,159.2L95.2,159.1L94.7,158.8L94.1,158.5L93.1,157.5L93.0,157.5L92.2,156.2L92.0,155.6L91.8,154.9L91.8,153.6L92.0,152.9L92.2,152.3L92.6,151.0L93.0,149.7L93.0,149.4L93.3,148.4L93.9,147.1L94.1,146.7L95.2,145.9L95.8,145.8ZM177.8,148.4L178.2,148.2L178.4,148.4L178.7,149.7L178.2,150.4L177.1,150.5L176.7,149.7L177.1,148.9L177.8,148.4ZM504.1,152.3L504.6,152.0L505.7,152.1L505.9,152.3L506.2,153.6L505.7,154.5L504.6,154.2L504.0,153.6L504.1,152.3ZM330.4,153.6L331.0,153.0L332.1,153.4L332.3,153.6L332.1,154.6L331.9,154.9L331.0,155.0L330.8,154.9L330.4,153.6Z"/><path fill="#ff2828" fill-rule="evenodd" d="M418.2,82.0L418.4,81.8L419.5,81.3L420.6,80.9L421.6,80.8L422.7,80.9L423.8,81.2L424.7,82.0L424.9,82.3L425.4,83.3L425.8,84.6L426.0,85.9L425.9,87.2L425.4,88.5L424.9,89.1L424.3,89.8L423.8,90.1L422.7,90.6L421.6,90.6L420.5,90.4L419.5,90.0L419.0,89.8L418.4,89.4L417.3,88.5L417.3,88.5L416.4,87.2L416.2,85.9L416.5,84.6L417.1,83.3L417.3,83.1L418.2,82.0ZM211.3,85.9L212.0,85.2L213.1,85.1L214.2,85.6L215.1,85.9L215.3,86.1L216.4,86.5L217.5,86.8L218.6,87.0L219.5,87.2L219.7,87.3L220.8,88.4L220.8,88.5L221.0,89.8L220.9,91.1L220.8,91.4L219.7,92.1L218.6,91.4L218.3,91.1L217.5,90.3L216.9,89.8L216.4,89.3L215.3,88.5L215.3,88.5L214.2,87.8L213.1,87.7L212.0,87.4L211.7,87.2L211.3,85.9ZM204.4,88.5L204.4,88.4L204.5,88.5L205.5,89.3L205.6,89.8L205.6,91.1L205.5,91.5L204.4,91.5L204.2,91.1L204.1,89.8L204.4,88.5ZM229.5,92.4L229.5,92.3L230.6,91.3L231.7,91.1L232.8,91.5L233.3,92.4L232.8,93.6L232.7,93.7L231.7,94.0L230.6,94.0L230.0,93.7L229.5,92.5L229.5,92.4ZM241.7,123.6L242.6,123.3L243.7,123.2L244.8,123.4L245.4,123.6L245.9,123.9L247.0,124.3L248.1,124.6L249.2,124.7L250.2,124.7L251.3,124.6L252.4,124.3L253.5,124.1L254.6,124.1L255.7,124.0L256.8,123.9L257.9,123.8L259.0,123.7L260.1,123.9L261.2,124.3L262.3,124.8L262.8,124.9L263.4,125.2L264.4,125.4L265.5,125.2L266.1,124.9L266.6,124.8L267.7,124.3L268.8,124.0L269.9,123.8L271.0,123.9L272.1,124.7L272.3,124.9L272.3,126.2L272.1,127.4L272.1,127.6L271.7,128.9L271.4,130.2L271.1,131.5L271.0,131.7L270.0,132.8L269.9,132.9L269.1,134.1L268.8,134.4L268.2,135.4L267.7,135.7L266.6,136.1L265.5,136.0L264.4,135.5L264.2,135.4L263.4,134.3L263.2,134.1L262.3,132.8L262.2,132.8L261.2,131.9L260.6,131.5L260.1,131.1L259.0,130.7L257.9,130.5L256.8,130.3L255.7,130.3L254.6,130.2L253.9,130.2L253.5,130.1L252.4,129.8L251.3,129.6L250.2,129.9L250.0,130.2L249.2,130.7L248.3,131.5L248.1,131.6L247.0,132.2L245.9,132.2L245.1,131.5L244.8,131.1L244.1,130.2L243.7,129.6L242.7,128.9L242.6,128.8L241.5,128.5L240.4,127.6L240.4,127.5L240.3,126.2L240.4,125.4L240.6,124.9L241.5,123.8L241.7,123.6ZM294.4,127.6L295.0,126.9L296.1,126.7L297.2,127.2L297.9,127.6L298.3,127.9L299.4,128.4L300.5,128.4L301.6,128.3L302.6,128.0L303.7,127.9L304.8,128.2L305.7,128.9L305.9,129.1L306.9,130.2L307.0,130.4L308.1,130.8L309.2,130.6L310.3,130.8L311.3,131.5L311.4,131.6L312.4,132.8L312.5,132.8L313.6,133.2L314.7,133.5L315.8,133.5L316.8,133.4L317.9,133.1L319.0,132.8L320.0,132.8L320.1,132.8L320.3,132.8L321.2,132.8L322.3,132.8L323.4,132.8L323.9,132.8L324.5,132.7L325.6,132.6L326.7,132.6L327.8,132.8L327.8,132.8L328.9,133.3L329.9,134.0L330.0,134.1L331.0,135.1L331.3,135.4L332.0,136.7L332.1,137.9L332.1,138.0L332.1,138.0L331.5,139.3L331.0,139.6L329.9,139.9L328.9,140.2L327.8,140.6L327.8,140.6L326.7,141.1L325.6,141.4L324.5,141.4L323.4,141.2L322.3,141.1L321.2,141.2L320.1,141.3L319.0,141.5L318.4,141.9L317.9,142.2L317.0,143.2L316.8,143.4L316.2,144.5L315.8,145.8L315.8,145.9L315.3,147.1L314.7,147.9L313.8,148.4L313.6,148.5L312.5,148.5L311.7,148.4L311.4,148.3L310.3,147.7L309.4,147.1L309.2,146.8L308.4,145.8L308.1,145.3L307.4,144.5L307.0,144.0L305.9,143.3L305.7,143.2L304.8,142.6L304.3,141.9L303.8,140.6L303.7,140.2L303.6,139.3L303.4,138.0L303.1,136.7L302.8,135.4L302.6,135.1L301.9,134.1L301.6,133.8L300.5,132.9L300.2,132.8L299.4,132.2L298.3,131.8L297.2,132.0L296.1,132.2L295.0,132.2L293.9,131.6L293.8,131.5L293.6,130.2L293.8,128.9L293.9,128.6L294.4,127.6ZM279.2,132.8L279.7,132.1L280.8,132.0L281.9,132.6L282.1,132.8L281.9,133.8L281.9,134.1L281.4,135.4L280.8,136.2L279.8,136.7L279.7,136.7L279.7,136.7L278.7,135.4L278.7,134.1L279.2,132.8ZM290.5,135.4L290.6,135.3L290.8,135.4L291.7,136.7L291.7,137.6L291.7,138.0L291.8,139.3L292.0,140.6L292.1,141.9L291.7,142.8L291.6,143.2L290.6,144.1L290.0,144.5L289.6,144.7L288.5,144.6L288.2,144.5L287.4,144.1L286.4,143.2L286.3,143.0L285.7,141.9L285.5,140.6L285.7,139.3L286.3,138.5L286.8,138.0L287.4,137.5L288.5,136.7L288.5,136.7L289.6,135.8L290.5,135.4ZM358.1,140.6L358.3,140.5L359.4,140.4L360.3,140.6L360.5,140.6L361.6,141.1L362.7,141.6L363.1,141.9L363.8,142.5L364.5,143.2L364.9,143.7L365.5,144.5L366.0,145.0L367.1,145.7L367.8,145.8L368.1,145.8L368.3,145.8L369.2,145.7L370.3,145.6L371.2,145.8L371.4,145.9L372.3,147.1L372.4,148.4L372.1,149.7L371.6,151.0L371.4,151.4L370.7,152.3L370.3,152.7L369.2,153.6L369.2,153.6L368.1,154.1L367.1,154.7L366.6,154.9L366.0,155.2L364.9,155.9L364.2,156.2L363.8,156.4L362.7,156.8L361.6,157.0L360.5,156.7L359.8,156.2L359.4,156.0L358.3,155.2L358.0,154.9L357.2,154.2L356.7,153.6L356.1,152.7L356.0,152.3L355.4,151.0L355.1,150.2L354.9,149.7L354.4,148.4L354.2,147.1L354.3,145.8L354.6,144.5L355.1,143.6L355.3,143.2L356.1,142.1L356.4,141.9L357.2,141.1L358.1,140.6Z"/><path fill="#ff0000" fill-rule="evenodd" d="M419.9,83.3L420.6,83.0L421.6,83.0L422.5,83.3L422.7,83.4L423.6,84.6L423.8,85.5L423.9,85.9L423.8,86.4L423.7,87.2L422.7,88.3L422.3,88.5L421.6,88.6L420.6,88.5L420.4,88.5L419.5,87.9L418.6,87.2L418.4,86.3L418.3,85.9L418.4,85.4L418.6,84.6L419.5,83.5L419.9,83.3ZM312.6,139.3L313.6,138.1L314.7,138.7L314.8,139.3L314.7,139.5L313.6,140.1L312.6,139.3ZM359.1,148.4L359.4,147.8L360.5,148.3L360.6,148.4L361.6,148.8L362.7,149.2L363.8,149.5L364.1,149.7L364.9,150.3L365.6,151.0L365.1,152.3L364.9,152.5L363.8,153.2L362.7,153.5L361.6,153.2L360.5,152.6L360.2,152.3L359.4,151.2L359.3,151.0L359.0,149.7L359.1,148.4Z"/><ellipse cx="421.7" cy="81.1" rx="3.6" ry="6" fill="#ff2828"/><ellipse cx="421.4" cy="81.6" rx="2.4" ry="4.6" fill="#ff0000"/><g fill="none" stroke-linecap="round" stroke-linejoin="round"><polyline points="200.8,75.0 204.7,71.0 209.6,66.8 214.7,63.0 220.4,60.9 227.0,58.7 233.5,57.1 240.1,56.8" stroke="#ffb4b4" stroke-width="2.8"/><polyline points="204.7,71.0 209.6,66.8 214.7,63.0 220.4,60.9 227.0,58.7 233.5,57.1 240.1,56.8" stroke="#ff8c8c" stroke-width="1.6"/><polyline points="220.4,60.9 227.0,58.7 233.5,57.1 240.1,56.8" stroke="#ff5a5a" stroke-width="1.1"/><polyline points="428.3,76.7 428.6,72.4 429.1,67.2 431.8,63.2 435.5,59.5 439.5,55.7 443.8,53.8 448.9,52.8" stroke="#ff8c8c" stroke-width="3.5"/><polyline points="245.4,160.1 245.2,166.2 244.1,171.4 242.7,175.8" stroke="#ff8c8c" stroke-width="3"/><polyline points="245.4,160.1 245.2,166.2 244.1,171.4" stroke="#ff5a5a" stroke-width="1.4"/><polyline points="431.8,63.2 435.5,59.5 439.5,55.7 443.8,53.8" stroke="#ff5a5a" stroke-width="1.6"/></g>
<g stroke="#b4b4b4" stroke-width="1" stroke-dasharray="1 3.66"><line x1="22" y1="223.5" x2="544" y2="223.5"/><line x1="22" y1="206.5" x2="544" y2="206.5"/><line x1="22" y1="188.5" x2="544" y2="188.5"/><line x1="22" y1="171.5" x2="544" y2="171.5"/><line x1="22" y1="154.5" x2="544" y2="154.5"/><line x1="22" y1="136.5" x2="544" y2="136.5"/><line x1="22" y1="119.5" x2="544" y2="119.5"/><line x1="22" y1="101.5" x2="544" y2="101.5"/><line x1="22" y1="84.5" x2="544" y2="84.5"/><line x1="22" y1="67.5" x2="544" y2="67.5"/><line x1="22" y1="49.5" x2="544" y2="49.5"/><line x1="22" y1="32.5" x2="544" y2="32.5"/><line x1="22" y1="15.5" x2="544" y2="15.5"/><line x1="108.5" y1="7" x2="108.5" y2="231"/><line x1="195.5" y1="7" x2="195.5" y2="231"/><line x1="283.5" y1="7" x2="283.5" y2="231"/><line x1="370.5" y1="7" x2="370.5" y2="231"/><line x1="457.5" y1="7" x2="457.5" y2="231"/></g>
<path d="M41.4,-5.8L39.2,4.7L36.3,8.1L32.6,9.9L28.3,11.6L28.3,15.1L29.0,16.8L29.7,18.2L31.2,18.6L32.6,18.4L34.8,16.8L36.3,16.1L37.0,16.8L37.3,17.7L38.5,19.2L39.2,21.2L39.9,23.1L41.7,23.1L44.3,21.7L45.0,20.3L45.2,17.7L47.9,15.9L46.5,13.3L46.2,10.7L48.7,9.0L51.6,7.3L53.8,5.0L55.9,5.0L57.4,6.4L56.7,7.3L53.0,9.3L52.3,11.6L52.3,13.3L53.0,14.6L54.5,15.3L57.4,14.6L60.3,14.2L63.9,14.7L65.1,15.3L61.8,15.9L56.7,16.1L55.2,16.5L55.2,17.7L56.4,18.0L56.2,19.9L55.2,20.3L53.0,19.2L51.6,20.6L51.6,22.5L51.0,23.8L49.4,24.8L47.9,24.3L44.3,25.0L41.4,25.7L39.2,24.8L37.0,25.5L35.6,24.8L36.1,22.9L36.3,21.2L36.4,19.1L34.8,20.1L32.9,20.6L32.8,22.9L33.5,23.9L33.8,25.5L31.2,26.4L28.3,26.7L27.6,28.1L26.1,29.8L23.9,30.7L23.3,32.1L21.3,33.0L19.3,33.5L18.7,33.1L18.4,34.7L16.6,34.5L14.2,35.2L14.7,36.3L17.4,37.1L19.3,39.1L19.3,41.8L18.8,43.9L16.6,43.9L13.7,43.7L9.4,43.4L7.5,44.6L8.0,46.3L8.3,48.1L7.2,51.9L8.2,52.6L8.2,55.0L10.2,54.7L11.8,55.4L12.8,56.8L14.4,55.6L18.1,55.4L20.3,52.8L21.3,51.9L20.6,50.7L22.3,48.1L25.7,46.5L25.5,44.6L26.8,43.7L29.7,44.4L31.9,43.2L33.8,42.2L35.8,43.0L37.0,45.5L39.2,47.4L41.4,48.4L43.7,49.8L44.3,51.9L43.7,53.3L44.4,53.3L45.9,51.6L45.2,49.8L47.9,49.5L47.2,48.6L44.3,47.0L42.1,46.0L40.8,43.7L38.9,42.2L38.9,40.8L40.9,40.1L41.4,41.3L43.3,42.9L45.0,43.7L47.9,45.7L49.2,46.7L49.4,49.0L50.4,50.7L51.6,52.8L52.4,55.4L54.2,55.9L54.8,54.2L55.9,53.3L54.2,51.9L54.5,49.3L55.9,48.4L58.8,48.4L59.3,49.8L59.6,51.6L60.3,53.3L60.7,55.0L62.2,55.6L64.7,56.4L66.8,55.6L69.0,56.6L71.2,55.4L73.4,55.4L73.1,57.1L73.3,58.5L72.7,60.4L71.9,62.0L71.2,64.6L68.3,65.3L64.7,64.8L63.2,65.6L57.4,64.4L54.5,62.8L51.6,62.3L50.1,64.6L50.1,65.8L48.7,66.7L44.3,65.1L43.1,63.2L39.9,62.2L37.2,61.6L35.8,59.9L37.0,58.2L36.3,55.4L37.2,54.9L35.8,54.7L35.3,54.5L33.5,55.2L30.5,54.9L28.3,55.6L25.4,55.4L22.5,55.9L19.3,58.0L17.8,58.3L13.3,56.9L12.3,57.1L11.1,60.2L8.6,61.5L6.7,64.6L6.9,67.2L4.3,70.3L2.1,71.4L-0.1,74.0L-2.3,77.6L-3.7,81.4L-2.7,85.4L-3.0,88.9L-4.3,93.8L-3.3,95.7L-3.3,97.9L-0.8,100.2L1.4,102.8L2.1,104.9L4.3,107.3L7.2,109.9L10.1,111.7L13.7,110.4L18.1,111.1L21.0,109.6L23.2,108.5L25.4,108.2L27.6,108.5L29.2,110.6L30.5,111.8L33.4,111.3L34.8,112.4L35.3,115.0L34.7,117.6L34.5,121.0L37.0,125.4L38.5,128.0L38.9,129.9L39.9,132.3L40.6,136.7L40.9,140.0L39.2,142.7L38.3,148.0L38.2,150.6L40.2,154.9L42.1,158.4L42.7,163.6L43.6,167.1L45.0,169.0L46.3,172.3L47.5,174.9L47.8,178.4L49.4,179.7L51.6,179.1L53.8,178.4L57.4,178.4L59.6,177.8L61.8,176.1L64.7,173.7L66.1,170.5L68.2,168.8L68.9,164.8L68.5,164.1L71.9,161.9L72.7,160.1L72.5,156.6L71.5,154.0L74.1,152.0L78.5,148.0L80.2,144.5L79.9,137.5L78.8,133.2L78.2,130.6L78.1,127.6L79.9,123.6L81.8,121.9L84.3,118.4L88.0,115.3L90.9,111.5L93.0,107.1L95.2,101.1L95.7,98.8L93.8,99.3L90.9,99.8L87.2,101.1L84.3,99.3L84.0,97.6L81.0,95.0L78.6,92.4L77.2,90.1L76.2,87.7L74.9,84.9L74.3,82.5L73.4,80.4L71.9,77.6L71.4,75.4L69.9,72.7L68.7,70.3L68.3,67.4L69.3,69.6L70.8,71.0L71.8,68.2L72.4,70.7L74.3,73.8L76.0,76.9L77.8,80.4L78.6,82.8L80.4,86.3L82.0,89.8L83.3,92.4L83.9,94.5L84.5,97.1L85.8,97.2L87.2,96.7L91.6,95.0L93.8,93.2L97.0,91.9L99.6,90.1L101.8,88.4L104.0,86.6L105.1,85.3L106.1,83.7L108.0,80.4L106.6,78.5L104.0,77.6L102.9,76.2L103.1,73.6L101.8,75.0L100.3,77.3L96.7,77.6L96.0,76.6L96.1,74.3L94.9,76.2L93.9,74.3L93.0,72.4L91.6,70.1L90.7,67.4L92.0,67.2L93.8,67.0L94.9,69.1L96.0,71.0L98.9,72.7L100.8,73.3L102.5,72.2L103.7,72.4L104.4,74.5L106.9,75.2L110.5,75.7L114.2,75.4L117.8,75.2L119.0,76.2L121.0,79.0L123.5,83.2L125.1,83.2L126.7,81.4L127.1,83.7L127.0,86.3L127.7,89.8L128.6,92.4L129.4,95.0L129.9,97.1L130.9,99.3L132.1,102.8L133.8,105.2L134.8,104.0L136.1,103.1L137.3,101.4L137.2,99.3L137.7,96.7L137.7,92.4L139.3,90.8L140.8,89.8L143.3,87.5L146.2,84.7L147.6,82.5L149.8,81.4L152.4,81.3L154.6,80.4L155.3,82.8L156.4,84.9L158.3,87.7L158.5,91.5L159.7,91.9L162.9,90.6L163.4,94.1L164.4,97.6L164.5,101.9L164.1,104.9L166.8,108.4L167.1,110.6L168.0,112.7L168.7,114.4L171.7,117.0L172.7,116.9L171.5,112.7L171.5,110.6L169.8,108.5L168.0,107.3L167.0,106.1L166.6,103.7L165.4,101.1L165.8,98.5L166.6,95.9L167.9,96.0L168.0,97.2L170.2,98.3L170.9,100.2L173.1,101.1L173.8,103.7L173.5,104.4L176.0,102.6L176.7,101.2L179.4,99.7L180.1,97.6L179.9,95.3L179.4,92.7L177.5,90.6L176.0,88.4L174.9,86.5L176.0,84.0L177.8,82.0L178.9,81.8L180.5,82.0L180.8,83.9L181.8,83.9L183.3,82.0L186.2,80.6L187.7,80.2L190.6,79.3L192.8,76.7L194.9,74.5L195.2,72.9L197.1,70.1L198.6,67.4L197.1,66.1L198.3,64.2L196.8,62.7L196.2,59.7L194.5,58.5L196.1,56.8L197.8,55.4L199.3,54.3L197.1,53.8L194.2,54.5L193.9,53.3L192.0,52.1L192.8,51.2L194.6,50.7L197.1,48.4L198.9,49.0L197.4,50.7L197.8,51.7L200.0,50.5L201.9,50.0L203.4,53.8L205.3,55.0L204.8,58.5L206.6,59.2L209.1,58.2L209.5,56.4L209.3,54.7L208.0,52.6L206.6,50.7L208.2,49.8L209.8,48.4L209.9,46.3L211.2,45.7L213.4,44.3L214.9,45.0L218.2,43.0L221.1,40.3L222.6,37.7L225.1,35.1L225.5,32.4L225.7,29.3L226.8,26.9L224.8,25.5L221.1,25.5L220.1,23.8L222.6,21.2L225.5,19.1L227.7,16.8L229.9,16.3L233.5,16.3L237.1,16.3L240.8,16.8L242.2,15.9L245.9,16.3L246.6,15.1L249.1,12.5L252.4,12.0L254.6,12.5L258.3,10.7L253.9,14.2L251.0,18.6L248.8,20.3L248.1,23.8L248.8,29.0L249.1,30.7L251.7,27.4L253.9,25.5L256.8,22.9L257.5,21.5L258.7,19.1L256.8,18.6L258.7,16.3L262.6,14.6L268.4,15.1L272.1,13.3L274.3,12.0L278.6,10.7L281.5,11.1L283.0,8.1L285.9,6.4L297.6,4.7L297.6,-5.8ZM565.4,-5.8L563.2,4.7L560.3,8.1L556.6,9.9L552.3,11.6L552.3,15.1L553.0,16.8L553.7,18.2L555.2,18.6L556.6,18.4L558.8,16.8L560.3,16.1L561.0,16.8L561.3,17.7L562.5,19.2L563.2,21.2L563.9,23.1L565.7,23.1L568.3,21.7L569.0,20.3L569.2,17.7L571.9,15.9L570.5,13.3L570.2,10.7L572.7,9.0L575.6,7.3L577.8,5.0L579.9,5.0L581.4,6.4L580.7,7.3L577.0,9.3L576.3,11.6L576.3,13.3L577.0,14.6L578.5,15.3L581.4,14.6L584.3,14.2L587.9,14.7L589.1,15.3L585.8,15.9L580.7,16.1L579.2,16.5L579.2,17.7L580.4,18.0L580.2,19.9L579.2,20.3L577.0,19.2L575.6,20.6L575.6,22.5L575.0,23.8L573.4,24.8L571.9,24.3L568.3,25.0L565.4,25.7L563.2,24.8L561.0,25.5L559.6,24.8L560.1,22.9L560.3,21.2L560.4,19.1L558.8,20.1L556.9,20.6L556.8,22.9L557.5,23.9L557.8,25.5L555.2,26.4L552.3,26.7L551.5,28.1L550.1,29.8L547.9,30.7L547.3,32.1L545.3,33.0L543.3,33.5L542.7,33.1L542.4,34.7L540.6,34.5L538.2,35.2L538.7,36.3L541.4,37.1L543.3,39.1L543.3,41.8L542.8,43.9L540.6,43.9L537.7,43.7L533.4,43.4L531.5,44.6L532.0,46.3L532.3,48.1L531.2,51.9L532.2,52.6L532.2,55.0L534.2,54.7L535.8,55.4L536.8,56.8L538.4,55.6L542.1,55.4L544.3,52.8L545.3,51.9L544.6,50.7L546.3,48.1L549.7,46.5L549.5,44.6L550.8,43.7L553.7,44.4L555.9,43.2L557.8,42.2L559.8,43.0L561.0,45.5L563.2,47.4L565.4,48.4L567.7,49.8L568.3,51.9L567.7,53.3L568.4,53.3L569.9,51.6L569.2,49.8L571.9,49.5L571.2,48.6L568.3,47.0L566.1,46.0L564.8,43.7L562.9,42.2L562.9,40.8L564.9,40.1L565.4,41.3L567.3,42.9L569.0,43.7L571.9,45.7L573.2,46.7L573.4,49.0L574.4,50.7L575.6,52.8L576.4,55.4L578.2,55.9L578.8,54.2L579.9,53.3L578.2,51.9L578.5,49.3L579.9,48.4L582.8,48.4L583.3,49.8L583.6,51.6L584.3,53.3L584.7,55.0L586.2,55.6L588.7,56.4L590.9,55.6L593.0,56.6L595.2,55.4L597.4,55.4L597.1,57.1L597.3,58.5L596.7,60.4L595.9,62.0L595.2,64.6L592.3,65.3L588.7,64.8L587.2,65.6L581.4,64.4L578.5,62.8L575.6,62.3L574.1,64.6L574.1,65.8L572.7,66.7L568.3,65.1L567.1,63.2L563.9,62.2L561.2,61.6L559.8,59.9L561.0,58.2L560.3,55.4L561.2,54.9L559.8,54.7L559.3,54.5L557.5,55.2L554.5,54.9L552.3,55.6L549.4,55.4L546.5,55.9L543.3,58.0L541.8,58.3L537.3,56.9L536.3,57.1L535.1,60.2L532.6,61.5L530.7,64.6L530.9,67.2L528.3,70.3L526.1,71.4L523.9,74.0L521.7,77.6L520.3,81.4L521.3,85.4L521.0,88.9L519.7,93.8L520.7,95.7L520.7,97.9L523.2,100.2L525.3,102.8L526.1,104.9L528.3,107.3L531.2,109.9L534.1,111.7L537.7,110.4L542.1,111.1L545.0,109.6L547.2,108.5L549.4,108.2L551.5,108.5L553.2,110.6L554.5,111.8L557.4,111.3L558.8,112.4L559.3,115.0L558.7,117.6L558.5,121.0L561.0,125.4L562.5,128.0L562.9,129.9L563.9,132.3L564.6,136.7L564.9,140.0L563.2,142.7L562.3,148.0L562.2,150.6L564.2,154.9L566.1,158.4L566.7,163.6L567.6,167.1L569.0,169.0L570.3,172.3L571.5,174.9L571.8,178.4L573.4,179.7L575.6,179.1L577.8,178.4L581.4,178.4L583.6,177.8L585.8,176.1L588.7,173.7L590.1,170.5L592.2,168.8L592.9,164.8L592.5,164.1L595.9,161.9L596.7,160.1L596.5,156.6L595.5,154.0L598.1,152.0L602.5,148.0L604.2,144.5L603.9,137.5L602.8,133.2L602.2,130.6L602.1,127.6L603.9,123.6L605.8,121.9L608.3,118.4L612.0,115.3L614.9,111.5L617.0,107.1L619.2,101.1L619.7,98.8L617.8,99.3L614.9,99.8L611.2,101.1L608.3,99.3L608.0,97.6L605.0,95.0L602.6,92.4L601.2,90.1L600.2,87.7L598.9,84.9L598.3,82.5L597.4,80.4L595.9,77.6L595.4,75.4L593.9,72.7L592.7,70.3L592.3,67.4L593.3,69.6L594.8,71.0L595.8,68.2L596.4,70.7L598.3,73.8L600.0,76.9L601.8,80.4L602.6,82.8L604.4,86.3L606.0,89.8L607.3,92.4L607.9,94.5L608.5,97.1L609.8,97.2L611.2,96.7L615.6,95.0L617.8,93.2L621.0,91.9L623.6,90.1L625.8,88.4L628.0,86.6L629.1,85.3L630.1,83.7L632.0,80.4L630.6,78.5L628.0,77.6L626.9,76.2L627.1,73.6L625.8,75.0L624.3,77.3L620.7,77.6L620.0,76.6L620.1,74.3L618.9,76.2L617.9,74.3L617.0,72.4L615.6,70.1L614.7,67.4L616.0,67.2L617.8,67.0L618.9,69.1L620.0,71.0L622.9,72.7L624.8,73.3L626.5,72.2L627.7,72.4L628.4,74.5L630.9,75.2L634.5,75.7L638.2,75.4L641.8,75.2L643.0,76.2L645.0,79.0L647.5,83.2L649.1,83.2L650.7,81.4L651.1,83.7L651.0,86.3L651.7,89.8L652.6,92.4L653.4,95.0L653.9,97.1L654.9,99.3L656.1,102.8L657.8,105.2L658.8,104.0L660.1,103.1L661.3,101.4L661.2,99.3L661.7,96.7L661.7,92.4L663.3,90.8L664.8,89.8L667.3,87.5L670.2,84.7L671.6,82.5L673.8,81.4L676.4,81.3L678.6,80.4L679.3,82.8L680.4,84.9L682.3,87.7L682.5,91.5L683.7,91.9L686.9,90.6L687.4,94.1L688.4,97.6L688.5,101.9L688.1,104.9L690.8,108.4L691.1,110.6L692.0,112.7L692.7,114.4L695.6,117.0L696.7,116.9L695.5,112.7L695.5,110.6L693.8,108.5L692.0,107.3L691.0,106.1L690.6,103.7L689.4,101.1L689.8,98.5L690.6,95.9L691.9,96.0L692.0,97.2L694.2,98.3L694.9,100.2L697.1,101.1L697.8,103.7L697.5,104.4L700.0,102.6L700.7,101.2L703.4,99.7L704.1,97.6L703.9,95.3L703.4,92.7L701.5,90.6L700.0,88.4L698.9,86.5L700.0,84.0L701.8,82.0L702.9,81.8L704.5,82.0L704.8,83.9L705.8,83.9L707.3,82.0L710.2,80.6L711.7,80.2L714.6,79.3L716.8,76.7L718.9,74.5L719.2,72.9L721.1,70.1L722.6,67.4L721.1,66.1L722.3,64.2L720.8,62.7L720.2,59.7L718.5,58.5L720.1,56.8L721.9,55.4L723.3,54.3L721.1,53.8L718.2,54.5L717.9,53.3L716.0,52.1L716.8,51.2L718.6,50.7L721.1,48.4L722.9,49.0L721.4,50.7L721.9,51.7L724.0,50.5L725.9,50.0L727.4,53.8L729.3,55.0L728.8,58.5L730.6,59.2L733.1,58.2L733.5,56.4L733.3,54.7L732.0,52.6L730.6,50.7L732.2,49.8L733.8,48.4L733.9,46.3L735.2,45.7L737.4,44.3L738.9,45.0L742.2,43.0L745.1,40.3L746.6,37.7L749.1,35.1L749.5,32.4L749.7,29.3L750.8,26.9L748.8,25.5L745.1,25.5L744.1,23.8L746.6,21.2L749.5,19.1L751.7,16.8L753.9,16.3L757.5,16.3L761.1,16.3L764.8,16.8L766.2,15.9L769.9,16.3L770.6,15.1L773.1,12.5L776.4,12.0L778.6,12.5L782.3,10.7L777.9,14.2L775.0,18.6L772.8,20.3L772.1,23.8L772.8,29.0L773.1,30.7L775.7,27.4L777.9,25.5L780.8,22.9L781.5,21.5L782.7,19.1L780.8,18.6L782.7,16.3L786.6,14.6L792.4,15.1L796.1,13.3L798.3,12.0L802.6,10.7L805.5,11.1L807.0,8.1L809.9,6.4L821.6,4.7L821.6,-5.8ZM300.5,-5.8L300.5,5.4L303.4,7.3L310.7,7.3L304.8,10.7L305.6,14.2L309.2,15.4L315.0,17.5L316.5,17.2L315.0,20.3L309.2,22.9L305.6,24.6L310.7,23.1L315.0,21.2L318.7,19.1L320.8,16.8L324.5,16.5L326.7,13.0L328.1,15.1L332.5,13.9L335.4,15.1L339.0,15.1L341.9,15.9L345.6,17.7L347.8,19.4L350.0,22.0L352.9,24.3L355.1,25.0L357.2,27.2L358.7,29.8L359.4,31.2L358.3,31.1L363.1,34.5L365.2,35.4L363.5,35.2L364.4,39.1L364.5,43.7L363.8,45.0L364.2,49.0L364.8,50.7L366.7,53.6L367.6,55.7L369.5,59.2L372.5,60.2L374.4,62.5L375.4,64.6L376.2,66.8L378.8,70.1L379.1,72.4L381.7,75.0L383.4,77.3L385.0,79.5L384.5,77.3L382.7,74.1L380.8,69.8L377.9,64.1L379.8,64.9L381.7,68.1L383.4,70.8L385.6,73.3L387.5,75.5L390.0,78.8L391.6,82.5L391.3,83.9L392.9,86.1L395.1,87.7L398.0,89.2L400.9,90.6L404.5,92.0L407.4,91.2L409.6,92.4L411.8,94.6L414.7,95.9L417.6,96.7L419.8,99.3L420.3,100.5L420.1,101.9L421.7,102.6L423.5,104.5L425.6,105.1L428.6,106.6L428.1,104.5L429.3,103.7L430.7,104.5L432.6,105.8L432.2,104.4L430.0,102.8L427.8,103.5L425.6,103.7L423.5,100.5L423.2,98.5L423.5,95.0L423.9,93.2L421.3,91.7L417.6,91.9L416.2,91.5L416.6,88.9L417.5,85.4L418.4,82.0L416.9,82.0L413.4,82.8L413.3,85.4L411.8,87.2L408.2,87.7L406.0,86.6L404.5,84.9L403.4,82.0L402.8,78.5L403.5,74.1L403.2,71.5L405.3,69.6L408.2,67.9L411.1,67.9L414.0,68.6L415.2,66.7L416.9,66.3L419.8,66.5L422.0,67.5L423.5,68.1L424.8,71.0L425.9,74.0L427.1,75.5L428.1,75.0L428.6,72.4L427.8,69.8L426.7,66.3L426.7,64.6L430.0,61.1L431.5,60.4L433.6,59.0L435.1,58.0L434.4,55.0L435.1,52.4L435.8,50.7L437.3,49.0L440.2,48.1L443.1,47.2L443.1,45.5L442.4,43.7L446.0,42.2L448.2,41.1L450.7,40.1L448.9,43.2L452.6,41.8L456.2,40.8L457.7,39.2L455.5,38.4L451.1,38.5L450.4,35.9L451.6,34.5L448.2,33.8L447.5,33.7L451.8,32.1L457.7,32.1L462.0,29.8L463.8,28.1L463.5,26.4L461.3,24.6L457.7,22.9L455.5,21.2L454.8,18.6L451.1,14.6L450.4,13.3L446.8,17.7L443.1,13.3L440.2,11.3L431.5,10.9L431.5,13.7L432.2,18.6L433.4,21.2L430.0,24.1L429.3,29.8L427.8,30.2L425.2,27.4L425.2,23.6L421.3,23.2L416.2,21.0L410.4,20.1L407.7,17.3L407.2,15.1L409.6,11.6L413.3,9.0L416.9,7.8L418.4,4.7L418.4,-5.8ZM432.3,104.2L434.4,103.0L435.1,101.1L436.6,100.2L438.7,99.7L440.9,97.8L440.8,100.2L443.1,99.3L446.0,101.1L448.9,100.9L451.8,100.9L454.8,100.7L456.2,101.9L457.7,104.5L459.8,106.6L462.0,108.9L464.9,108.9L467.1,109.6L469.3,111.5L470.8,112.7L472.2,116.2L472.2,118.4L473.7,119.3L474.4,121.0L478.0,121.0L480.2,123.3L483.9,124.2L486.8,124.3L489.0,125.7L491.1,127.6L493.3,128.3L494.3,131.5L494.1,134.9L491.9,137.5L490.4,140.1L489.0,141.9L488.2,145.4L487.9,149.7L487.2,153.2L486.0,156.6L484.6,158.4L482.4,159.3L479.5,160.3L476.6,161.9L474.4,165.3L474.1,168.8L472.2,171.4L470.8,174.0L468.6,176.6L467.1,178.4L465.7,180.1L463.5,179.9L461.3,180.1L462.0,182.5L461.2,185.3L459.1,186.5L454.8,187.0L454.3,189.6L450.4,190.5L451.1,192.8L452.1,193.6L450.4,194.5L449.7,197.5L446.8,199.2L448.9,201.8L446.8,204.4L445.3,207.0L444.6,209.6L445.3,210.7L445.3,211.4L446.8,214.0L450.4,214.8L446.0,215.7L443.1,215.2L440.2,213.1L436.6,210.5L435.1,206.2L435.1,202.7L436.6,200.1L437.3,196.6L438.0,193.1L438.0,188.8L438.0,184.4L439.5,181.0L440.8,176.6L440.9,171.4L441.7,166.2L442.4,161.0L442.8,154.0L442.7,151.3L440.9,149.4L438.0,147.6L435.1,145.0L433.9,141.9L432.5,139.3L430.7,134.9L429.3,131.8L427.1,129.7L426.7,127.1L428.1,125.2L428.6,123.6L427.1,121.9L428.1,119.3L428.6,117.6L430.0,116.5L430.3,115.0L432.2,112.4L432.3,108.9L431.5,107.1L430.7,105.1ZM186.2,157.5L186.9,164.5L187.7,168.8L188.4,172.3L189.4,175.8L188.4,178.4L190.6,180.1L192.8,180.1L195.7,178.4L198.6,178.4L201.5,176.6L204.4,175.4L208.8,174.2L211.7,174.0L214.6,175.4L216.8,177.0L218.4,179.7L219.7,177.5L221.4,176.6L221.1,179.2L221.9,181.0L222.6,179.7L224.0,181.8L224.8,184.4L226.2,185.7L229.1,186.7L231.3,185.3L234.2,187.2L236.4,185.0L239.3,184.4L239.3,181.8L240.8,178.4L243.0,175.2L243.7,171.4L244.6,168.3L243.8,164.5L243.3,163.1L240.8,160.1L238.6,158.0L237.1,154.6L234.2,152.3L233.5,148.8L232.5,145.4L231.3,144.0L229.9,141.0L228.4,137.9L227.1,141.0L227.0,145.4L226.2,148.8L224.8,150.0L223.3,148.8L220.4,147.1L218.2,145.4L219.8,142.4L220.1,140.5L219.0,140.0L214.6,139.3L213.1,138.9L210.9,140.7L210.2,142.7L209.5,145.4L207.3,145.7L205.9,143.6L203.7,144.5L202.2,147.1L200.0,148.0L198.9,150.6L197.1,153.2L193.5,154.6L190.6,155.3L187.7,157.2ZM231.5,190.0L236.9,190.3L236.9,192.6L235.0,194.9L232.8,194.5L231.6,191.4ZM272.4,179.1L275.0,181.5L276.4,183.0L277.2,184.4L280.8,184.8L280.1,187.4L278.6,187.6L277.9,189.3L276.2,191.6L275.3,191.0L275.7,188.8L274.3,187.9L275.0,186.2L275.1,183.6L272.8,180.1ZM272.4,189.6L274.6,191.0L273.5,193.6L272.4,195.4L270.3,196.6L269.5,199.0L267.0,200.2L263.4,199.2L264.1,197.5L266.3,195.7L269.2,194.0L270.6,191.9L271.4,190.2ZM211.7,121.6L213.9,120.0L216.0,120.7L217.5,125.0L221.1,121.9L224.8,123.5L226.2,123.8L230.6,125.9L233.2,128.9L235.7,130.1L236.4,133.2L239.3,137.2L236.4,137.0L234.2,134.6L230.6,132.5L229.1,134.9L226.2,135.1L223.3,133.4L221.9,133.9L221.4,132.3L222.6,131.1L221.1,128.3L217.5,126.9L215.3,126.1L213.9,124.2L212.4,121.9ZM179.7,116.7L180.5,115.8L182.6,116.5L185.5,113.7L187.7,111.3L189.1,109.9L191.0,107.3L192.5,108.5L194.5,110.4L192.8,111.8L192.2,114.1L193.9,117.6L192.5,117.9L192.0,120.2L190.6,122.8L190.1,126.1L187.7,126.2L185.5,124.9L183.6,124.5L181.4,124.3L181.1,121.6L179.9,119.8ZM159.7,109.6L162.9,110.3L164.7,112.7L167.3,115.8L169.5,117.6L172.1,121.0L173.1,123.3L175.3,124.9L175.0,129.4L173.1,129.5L169.9,126.2L168.0,123.6L167.0,120.7L164.5,116.3L162.9,114.6L160.7,112.4ZM174.1,131.1L175.3,129.5L178.6,130.1L181.8,130.4L183.3,130.8L184.9,131.3L187.7,132.8L187.5,134.4L184.8,133.7L181.1,133.4L178.2,132.8L176.0,132.2ZM188.4,133.7L194.2,133.5L198.6,133.5L200.0,133.9L198.6,134.8L194.2,134.9L189.8,134.8ZM200.8,137.2L202.9,134.9L206.1,133.9L204.4,135.5L202.2,137.0ZM194.9,128.9L194.8,125.4L193.9,124.0L195.4,118.8L196.4,117.9L200.8,117.7L202.9,116.7L202.2,118.4L198.6,118.4L197.1,120.7L200.5,121.0L199.7,123.6L198.6,127.6L197.1,124.2L196.4,128.9ZM206.6,115.8L208.0,116.7L208.0,119.3L206.6,120.7L206.7,117.6ZM207.3,124.9L211.4,125.4L210.2,126.1L208.0,125.6ZM195.7,87.2L199.0,87.2L199.3,90.6L197.8,92.4L198.6,95.0L201.5,96.7L200.8,97.6L197.1,95.3L196.4,94.1L195.7,91.5ZM198.6,107.1L200.8,104.5L203.7,102.5L205.1,106.3L204.4,108.5L201.5,108.4ZM198.6,98.8L201.5,97.6L203.7,100.2L202.9,101.9L200.8,103.1L199.3,102.3ZM191.6,104.9L194.9,100.2L195.4,101.1L192.5,105.2ZM211.5,60.2L213.9,57.6L218.2,57.5L220.1,54.5L222.6,54.0L224.8,50.2L224.8,47.6L226.8,47.4L227.7,50.7L226.2,52.9L226.1,55.2L225.9,57.5L224.5,58.5L223.0,59.2L220.4,59.2L218.2,61.1L217.5,59.2L214.6,59.7L211.7,60.4ZM209.8,61.1L211.7,60.4L212.8,62.8L211.7,64.9L210.5,64.9L209.9,62.3ZM213.9,62.0L217.1,60.6L216.3,59.9L214.4,60.2ZM224.8,47.2L226.5,46.7L229.6,46.3L232.9,44.1L231.3,42.9L227.4,40.4L227.1,44.1L225.2,44.8ZM227.7,39.4L229.9,38.9L229.9,34.2L229.1,30.7L229.6,27.2L228.4,25.0L228.0,30.7L227.4,35.1ZM195.8,79.3L197.1,75.5L198.6,75.9L197.8,78.5L196.8,81.3ZM179.1,85.9L181.8,84.4L182.6,85.3L181.1,87.5L179.7,87.5ZM137.2,105.4L137.6,102.3L139.2,104.5L140.1,106.8L139.3,108.5L137.7,108.9L137.2,107.1ZM92.8,140.1L94.4,146.2L93.2,149.7L91.6,154.9L89.7,162.4L87.2,163.6L85.0,162.4L84.5,159.8L84.0,157.2L85.6,154.0L85.3,151.4L85.0,148.8L88.4,146.7L90.1,145.0L91.6,142.7ZM12.7,32.4L16.6,31.4L23.0,30.4L23.5,27.8L21.3,26.4L20.7,25.3L18.8,23.4L18.1,22.4L16.6,22.0L17.4,21.2L18.4,19.4L15.9,19.1L15.2,17.5L13.7,17.5L12.8,19.4L12.3,21.2L13.7,22.9L14.0,24.1L16.2,24.1L15.9,25.5L16.6,26.7L14.3,26.7L14.7,28.1L13.3,29.3L16.3,30.0L14.7,30.4ZM536.7,32.4L540.6,31.4L547.0,30.4L547.5,27.8L545.3,26.4L544.7,25.3L542.8,23.4L542.1,22.4L540.6,22.0L541.4,21.2L542.4,19.4L539.9,19.1L539.2,17.5L537.7,17.5L536.8,19.4L536.3,21.2L537.7,22.9L538.0,24.1L540.2,24.1L539.9,25.5L540.6,26.7L538.3,26.7L538.7,28.1L537.3,29.3L540.3,30.0L538.7,30.4ZM536.3,28.6L535.8,25.5L536.7,24.1L534.4,23.2L532.6,23.9L532.5,25.2L530.4,26.4L531.2,28.1L530.0,29.3L532.9,29.5L535.7,28.6ZM421.3,80.2L422.7,78.7L425.6,78.0L428.6,78.3L432.2,80.4L435.1,82.1L437.0,83.0L432.2,83.5L431.5,82.1L427.8,80.0L425.6,79.5L423.5,80.0ZM436.6,87.3L439.0,84.7L443.1,85.1L445.6,87.0L441.7,87.7L440.2,88.0ZM431.0,87.5L434.1,88.0L432.9,88.4ZM447.2,87.2L449.5,87.5L448.9,88.2L447.2,88.0ZM458.7,36.6L463.5,33.3L464.1,29.7L467.9,34.2L468.4,36.8L467.1,38.4L464.2,37.7L462.8,36.6ZM510.1,5.5L513.0,8.1L518.1,9.2L523.2,7.6L525.3,6.0L524.6,2.9L511.5,2.9ZM466.4,2.9L467.1,5.5L470.8,9.0L474.4,12.1L478.0,14.2L481.0,15.8L483.1,14.2L485.3,9.9L486.0,7.3L488.2,5.7L494.1,3.8L494.1,-2.3L466.4,-2.3ZM450.4,11.6L448.9,12.0L443.1,10.2L440.2,9.2L436.6,7.3L432.2,7.6L431.5,4.7L454.8,2.9ZM419.8,8.1L424.2,9.0L427.1,8.1L421.3,5.5L418.4,6.4ZM455.8,208.4L461.0,208.8L459.8,210.1L456.9,210.0ZM462.0,229.1L459.1,229.8L454.8,232.2L451.8,233.9L464.9,233.9ZM68.0,58.5L69.0,57.8L71.4,57.3L70.2,58.7L68.7,59.2ZM55.2,57.5L59.3,58.0L56.7,58.7ZM39.0,53.1L43.7,52.8L43.0,55.6L39.0,53.6ZM33.2,48.1L35.3,47.7L35.0,51.4L33.2,51.6ZM33.5,45.5L34.8,44.6L34.7,47.4L33.8,47.0ZM358.3,31.1L363.1,34.5L365.2,35.4L363.1,31.9ZM489.7,213.1L492.6,213.4L492.9,214.5L490.4,214.0ZM121.0,203.7L123.3,204.4L122.6,205.6L121.1,205.3Z" fill="#acacac" stroke="#fff" stroke-width="0.9" stroke-linejoin="round"/>
<path d="M61.8,47.6L63.5,47.7L66.8,47.7L69.8,46.3L71.9,46.3L74.1,47.6L77.0,48.3L79.2,48.1L81.4,47.2L81.6,45.5L79.2,43.7L76.3,42.0L74.9,40.8L77.0,38.0L78.2,37.3L75.6,37.7L72.2,38.9L72.7,40.6L69.8,42.0L68.3,40.4L69.8,39.4L67.1,38.4L65.7,38.5L64.2,40.3L62.8,42.9L61.8,44.6Z" fill="#2828ff" stroke="#fff" stroke-width="0.8"/><path d="M89.4,37.7L93.0,38.0L96.0,37.7L98.1,38.4L98.1,40.8L96.0,42.0L95.5,43.6L97.7,45.0L97.4,46.9L98.1,48.8L99.6,51.6L99.5,54.5L97.4,55.4L95.2,55.6L92.6,54.2L92.2,52.4L92.8,49.5L93.0,48.8L91.6,46.7L90.1,44.6L90.1,42.5L89.0,41.8L89.4,40.3L89.1,38.5Z" fill="#2020ff" stroke="#fff" stroke-width="0.8"/><path d="M105.9,38.5L108.6,38.4L110.5,41.1L108.3,43.2L106.1,42.0Z" fill="#2828ff" stroke="#fff" stroke-width="0.8"/><path d="M84.0,97.6L81.0,95.0L78.6,92.4L77.2,90.1L76.2,87.7L74.9,84.9L74.3,82.5L73.4,80.4L71.9,77.6L71.4,75.4L69.9,72.7L68.7,70.3L68.3,67.4L69.3,69.6L70.8,71.0L71.8,68.2L72.4,70.7L74.3,73.8L76.0,76.9L77.8,80.4L78.6,82.8L80.4,86.3L82.0,89.8L83.3,92.4L83.9,94.5L84.5,97.1Z" fill="#ff1010" stroke="#fff" stroke-width="0.8"/><path d="M67.6,119.8L70.5,119.8L71.7,121.9L69.8,124.2L67.3,122.8L67.0,120.7Z" fill="#2828ff" stroke="#fff" stroke-width="0.8"/><path d="M411.1,38.2L414.0,36.8L416.9,35.1L419.8,34.7L421.9,37.7L421.3,38.5L418.4,38.5L414.7,38.0Z" fill="#3c3cff" stroke="#fff" stroke-width="0.8"/><path d="M417.2,46.9L419.1,46.3L419.5,42.9L421.3,39.7L419.8,39.4L417.3,40.3L416.9,42.9L417.6,44.6Z" fill="#3c3cff" stroke="#fff" stroke-width="0.8"/><path d="M421.7,39.4L425.6,39.4L428.6,41.1L426.1,43.7L424.9,44.6L423.5,42.9L423.6,41.1Z" fill="#3c3cff" stroke="#fff" stroke-width="0.8"/><path d="M423.6,46.9L427.1,46.2L430.0,45.0L429.6,44.8L427.1,45.3L424.2,46.0Z" fill="#5a5aff" stroke="#fff" stroke-width="0.8"/><path d="M429.0,44.1L434.1,44.1L433.9,42.5L429.6,43.4Z" fill="#3c3cff" stroke="#fff" stroke-width="0.8"/><path d="M400.9,31.6L404.5,31.4L403.5,27.2L401.6,25.5L400.6,27.2Z" fill="#acacac" stroke="#fff" stroke-width="0.8"/><path d="M374.7,13.3L380.5,10.7L384.2,10.7L383.4,11.4L379.1,12.5L375.4,13.7Z" fill="#5a5aff" stroke="#fff" stroke-width="0.8"/><path d="M363.1,6.4L366.0,6.6L371.8,5.0L370.3,2.9L363.1,2.9Z" fill="#5a5aff" stroke="#fff" stroke-width="0.8"/><path d="M383.4,16.3L390.7,16.3L390.7,17.0L383.4,16.8Z" fill="#acacac" stroke="#fff" stroke-width="0.8"/><path d="M395.4,20.3L396.8,20.3L396.5,18.0L395.7,18.6Z" fill="#acacac" stroke="#fff" stroke-width="0.8"/><path d="M128.0,38.4L130.2,38.5L133.1,38.9L136.0,38.0L136.4,38.9L133.1,39.6L130.2,39.6L128.7,39.7Z" fill="#acacac" stroke="#fff" stroke-width="0.8"/><path d="M172.1,29.7L173.8,29.3L176.0,27.6L178.9,25.8L180.4,22.9L180.1,22.4L177.5,26.2L174.6,28.5L172.4,29.1Z" fill="#acacac" stroke="#fff" stroke-width="0.8"/><path d="M71.2,7.6L74.1,8.1L76.3,7.1L79.2,7.3L80.4,6.4L80.7,2.9L67.6,2.9L69.0,4.7L71.5,5.7Z" fill="#2828ff" stroke="#fff" stroke-width="0.8"/><path d="M64.4,13.0L66.8,12.5L68.7,13.7L68.0,14.7L65.4,15.1L64.2,14.2Z" fill="#5a5aff" stroke="#fff" stroke-width="0.8"/><path d="M71.2,10.7L73.4,10.4L73.4,12.5L72.7,13.3L71.9,12.8Z" fill="#5a5aff" stroke="#fff" stroke-width="0.8"/>
</g>
<rect x="21.5" y="6.5" width="523" height="225" fill="none" stroke="#000" stroke-width="1"/>
<text x="3.1" y="226.9" textLength="13.2" lengthAdjust="spacingAndGlyphs">60S</text><line x1="19" y1="223.5" x2="21" y2="223.5" class="tk"/><text x="3.1" y="209.6" textLength="13.2" lengthAdjust="spacingAndGlyphs">50S</text><line x1="19" y1="206.5" x2="21" y2="206.5" class="tk"/><text x="3.1" y="192.2" textLength="13.2" lengthAdjust="spacingAndGlyphs">40S</text><line x1="19" y1="188.5" x2="21" y2="188.5" class="tk"/><text x="3.1" y="174.8" textLength="13.2" lengthAdjust="spacingAndGlyphs">30S</text><line x1="19" y1="171.5" x2="21" y2="171.5" class="tk"/><text x="3.1" y="157.4" textLength="13.2" lengthAdjust="spacingAndGlyphs">20S</text><line x1="19" y1="154.5" x2="21" y2="154.5" class="tk"/><text x="3.1" y="140.1" textLength="13.2" lengthAdjust="spacingAndGlyphs">10S</text><line x1="19" y1="136.5" x2="21" y2="136.5" class="tk"/><text x="7.6" y="122.7" textLength="8.7" lengthAdjust="spacingAndGlyphs">EQ</text><line x1="19" y1="119.5" x2="21" y2="119.5" class="tk"/><text x="3.0" y="105.3" textLength="13.3" lengthAdjust="spacingAndGlyphs">10N</text><line x1="19" y1="101.5" x2="21" y2="101.5" class="tk"/><text x="3.0" y="88.0" textLength="13.3" lengthAdjust="spacingAndGlyphs">20N</text><line x1="19" y1="84.5" x2="21" y2="84.5" class="tk"/><text x="3.0" y="70.6" textLength="13.3" lengthAdjust="spacingAndGlyphs">30N</text><line x1="19" y1="67.5" x2="21" y2="67.5" class="tk"/><text x="3.0" y="53.2" textLength="13.3" lengthAdjust="spacingAndGlyphs">40N</text><line x1="19" y1="49.5" x2="21" y2="49.5" class="tk"/><text x="3.0" y="35.8" textLength="13.3" lengthAdjust="spacingAndGlyphs">50N</text><line x1="19" y1="32.5" x2="21" y2="32.5" class="tk"/><text x="3.0" y="18.5" textLength="13.3" lengthAdjust="spacingAndGlyphs">60N</text><line x1="19" y1="15.5" x2="21" y2="15.5" class="tk"/><text x="19.5" y="243.0" textLength="4.7" lengthAdjust="spacingAndGlyphs">0</text><line x1="21.5" y1="232" x2="21.5" y2="234.5" class="tk"/><text x="102.1" y="243.0" textLength="13.0" lengthAdjust="spacingAndGlyphs">60E</text><line x1="108.5" y1="232" x2="108.5" y2="234.5" class="tk"/><text x="187.3" y="243.0" textLength="17.2" lengthAdjust="spacingAndGlyphs">120E</text><line x1="195.5" y1="232" x2="195.5" y2="234.5" class="tk"/><text x="276.7" y="243.0" textLength="13.2" lengthAdjust="spacingAndGlyphs">180</text><line x1="283.5" y1="232" x2="283.5" y2="234.5" class="tk"/><text x="361.3" y="243.0" textLength="18.6" lengthAdjust="spacingAndGlyphs">120W</text><line x1="370.5" y1="232" x2="370.5" y2="234.5" class="tk"/><text x="450.8" y="243.0" textLength="14.4" lengthAdjust="spacingAndGlyphs">60W</text><line x1="457.5" y1="232" x2="457.5" y2="234.5" class="tk"/><text x="542.5" y="243.0" textLength="4.7" lengthAdjust="spacingAndGlyphs">0</text><line x1="544.5" y1="232" x2="544.5" y2="234.5" class="tk"/>
<polygon points="52.9,291.3 90.0,286 90.0,296.5" fill="#0000ff" stroke="#000" stroke-width="0.5"/><rect x="90.00" y="286" width="38.45" height="10.3" fill="#2828ff"/><rect x="128.45" y="286" width="38.45" height="10.3" fill="#5a5aff"/><rect x="166.90" y="286" width="38.45" height="10.3" fill="#8c8cff"/><rect x="205.35" y="286" width="38.45" height="10.3" fill="#b4b4ff"/><rect x="243.80" y="286" width="38.45" height="10.3" fill="#e6e6ff"/><rect x="282.25" y="286" width="38.45" height="10.3" fill="#ffe6e6"/><rect x="320.70" y="286" width="38.45" height="10.3" fill="#ffb4b4"/><rect x="359.15" y="286" width="38.45" height="10.3" fill="#ff8c8c"/><rect x="397.60" y="286" width="38.45" height="10.3" fill="#ff5a5a"/><rect x="436.05" y="286" width="38.45" height="10.3" fill="#ff2828"/><polygon points="474.50,286 514.3,291.3 474.50,296.5" fill="#ff0000" stroke="#000" stroke-width="0.5"/><line x1="90.0" y1="296" x2="474.50" y2="296" stroke="#555" stroke-width="1"/><line x1="90.5" y1="286" x2="90.5" y2="296.5" stroke="#111" stroke-width="1"/><text x="90.60" y="306.8" text-anchor="middle" class="cbl">0</text><line x1="128.5" y1="286" x2="128.5" y2="296.5" stroke="#111" stroke-width="1"/><text x="129.05" y="306.8" text-anchor="middle" class="cbl">50</text><line x1="167.5" y1="286" x2="167.5" y2="296.5" stroke="#111" stroke-width="1"/><text x="167.50" y="306.8" text-anchor="middle" class="cbl">100</text><line x1="205.5" y1="286" x2="205.5" y2="296.5" stroke="#111" stroke-width="1"/><text x="205.95" y="306.8" text-anchor="middle" class="cbl">150</text><line x1="244.5" y1="286" x2="244.5" y2="296.5" stroke="#111" stroke-width="1"/><text x="244.40" y="306.8" text-anchor="middle" class="cbl">200</text><line x1="282.5" y1="286" x2="282.5" y2="296.5" stroke="#111" stroke-width="1"/><text x="282.85" y="306.8" text-anchor="middle" class="cbl">250</text><line x1="320.5" y1="286" x2="320.5" y2="296.5" stroke="#111" stroke-width="1"/><text x="321.30" y="306.8" text-anchor="middle" class="cbl">300</text><line x1="359.5" y1="286" x2="359.5" y2="296.5" stroke="#111" stroke-width="1"/><text x="359.75" y="306.8" text-anchor="middle" class="cbl">350</text><line x1="397.5" y1="286" x2="397.5" y2="296.5" stroke="#111" stroke-width="1"/><text x="398.20" y="306.8" text-anchor="middle" class="cbl">400</text><line x1="436.5" y1="286" x2="436.5" y2="296.5" stroke="#111" stroke-width="1"/><text x="436.65" y="306.8" text-anchor="middle" class="cbl">450</text><line x1="474.5" y1="286" x2="474.5" y2="296.5" stroke="#111" stroke-width="1"/><text x="475.10" y="306.8" text-anchor="middle" class="cbl">500</text>
</svg></body></html>
